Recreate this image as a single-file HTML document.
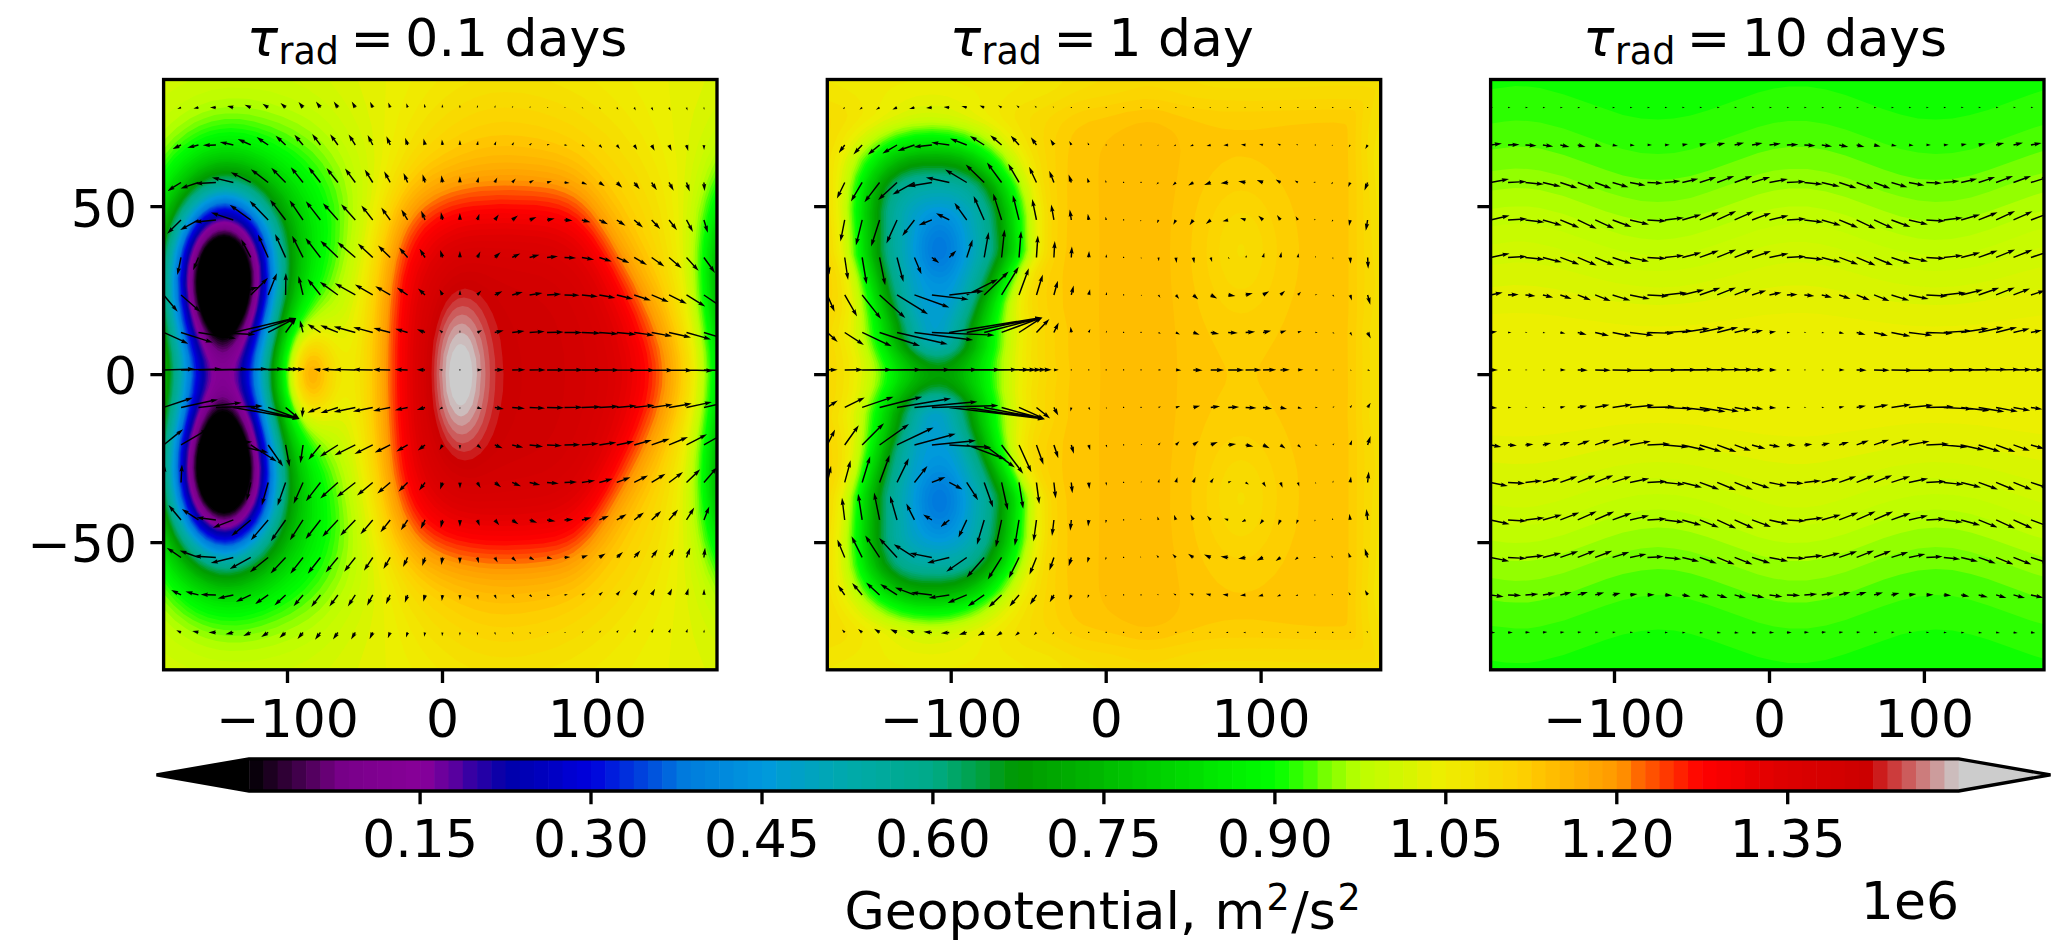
<!DOCTYPE html>
<html><head><meta charset="utf-8"><title>Geopotential</title>
<style>html,body{margin:0;padding:0;background:#fff}svg{display:block}text{font-family:"DejaVu Sans","Liberation Sans",sans-serif;fill:#000}</style></head><body>
<svg width="2052" height="941" viewBox="0 0 2052 941">
<rect width="2052" height="941" fill="#fff"/>
<g id="panel1">
<svg x="163.6" y="79.5" width="553.4" height="590.3" viewBox="163.6 79.5 553.4 590.3" overflow="hidden">
<g fill-rule="evenodd" shape-rendering="geometricPrecision">
<rect x="162.6" y="78.5" width="555.4" height="592.3" fill="#000000"/>
<path fill="#09000b" d="M160.5 673l559.5 0 0-596-559.5 0zM224 513l-5.5-1-4.5-2.5-4.5-4-4.5-5.5-3.5-6.5-2.5-8.5-1.5-8.5-0.5-8.5 0-10 1.5-10 3-10 3-8.5 4-7.5 4.5-6 5-3.5 4.5-1.5 4.5 1 5 3.5 4.5 5.5 4.5 8 4 9 2.5 10 2 10 0.5 10-0.5 8.5-1 8.5-2.5 8.5-3.5 6.5-4 5.5-4.5 4-4.5 2.5zM222.5 338.5l-4.5-1.5-5-3.5-4.5-6.5-4-7-3-8-2.5-10-1.5-10-0.5-10 0.5-8.5 1.5-8.5 2.5-8.5 3-6.5 4-5.5 5-4.5 5-2.5 5.5-1 5.5 1 5 2.5 4 4 4.5 6 3 6.5 2.5 8.5 1.5 8.5 0 8.5-0.5 10-2 10-3 10-3.5 8.5-4.5 8-4.5 5.5-5 3.5z"/>
<path fill="#1c0020" d="M160.5 673l559.5 0 0-596-559.5 0zM224 514l-5.5-1-5.5-2.5-4.5-4-4-5.5-3-6-3-8.5-1.5-8-1-10.5 0.5-10 1.5-10 2.5-10 3.5-9 4.5-9 4.5-6 5-4 4.5-1 4.5 1 5 3 5 7 4.5 8 4 10 3 10 1.5 10 1 10-0.5 10.5-1.5 8-2.5 7.5-3 6.5-4 5.5-4.5 4.5-5.5 2.5zM222.5 340.5l-4.5-1.5-5-3.5-4.5-6-4.5-9-3.5-8.5-2.5-10-1.5-10-0.5-10 1-10.5 1.5-8 2.5-8.5 3.5-7 5-6 4.5-3.5 4.5-2.5 5.5-1 5.5 1 5.5 3 4.5 4 4 5.5 3 6.5 2.5 8.5 1.5 8 0.5 10.5-1 10-2 11-3 10.5-4 8.5-4.5 8.5-4.5 5.5-5 3.5z"/>
<path fill="#2f0035" d="M160.5 673l559.5 0 0-596-559.5 0zM224 515.5l-5.5-1-5.5-2.5-4.5-4.5-4.5-5.5-3.5-7-2.5-8.5-2-8-0.5-10.5 0.5-10 1-10 2.5-10 4-10 4.5-9 4.5-6 5.5-5 4.5-1.5 4.5 1.5 5.5 4 4.5 6 5 8.5 3.5 9.5 3.5 10.5 2 11.5 0.5 10-0.5 10.5-1.5 8-2.5 8.5-3 7-4.5 5.5-4.5 4.5-5.5 2.5zM222.5 342.5l-4.5-1.5-5-3.5-4.5-6-5-9.5-3.5-9.5-2.5-10.5-1.5-10-0.5-10 0.5-10.5 1.5-8 3-8.5 3.5-7 4.5-6.5 4.5-4 5.5-2.5 5.5-1 5.5 1 5.5 2.5 4.5 4 4.5 6.5 3.5 7 2.5 8.5 1 8 0.5 10.5-0.5 10-2 11-3.5 10.5-3.5 9.5-5 8.5-5 6.5-5 3.5z"/>
<path fill="#41004b" d="M160.5 673l559.5 0 0-596-559.5 0zM224 516.5l-6-1-5.5-3-4.5-4.5-5-6-3-7-3-8.5-1.5-8-1-10.5 0.5-11.5 2-10 2.5-10 3.5-10.5 5-9 4.5-6.5 5.5-4.5 4.5-1.5 4.5 1 5.5 4.5 5.5 7 4.5 9 4 9.5 3 11 2 11.5 0.5 10 0 10.5-1.5 8-2.5 8.5-3 7-4.5 6-5 4.5-5.5 3zM222.5 345l-4.5-1.5-5.5-5-4.5-6.5-5-9-3.5-9.5-2.5-10-1.5-10-1-11.5 1-10.5 1.5-8 2.5-8.5 3.5-7.5 4.5-6 5-4.5 5.5-3 6-1 5.5 0.5 5.5 3 4.5 3.5 4.5 6.5 3.5 6.5 3 9.5 1.5 9 0 10.5-0.5 10-2 11.5-3 10-4 10.5-4.5 8-5.5 7.5-5.5 4z"/>
<path fill="#540060" d="M160.5 673l559.5 0 0-596-559.5 0zM224 517.5l-6-1-5.5-3-4.5-4-5-6-4-8-2.5-9-1.5-8-1-10.5 0.5-11.5 1.5-10 2.5-10 4-11 4.5-9 5.5-8 5.5-5 4.5-1.5 4.5 1.5 5.5 4 5.5 7.5 4.5 8.5 4.5 11 3.5 12 2 11.5 0.5 10-0.5 10.5-1.5 8.5-2 8-4 8.5-4.5 6-5 4.5-5.5 2.5zM222.5 347l-4.5-1.5-5.5-4.5-5.5-8-4.5-9-4-10.5-2.5-10-1.5-10.5-0.5-11 0.5-10.5 1.5-8 2.5-8.5 4-8.5 4.5-6 5.5-5 5.5-3 6-1 6 1 5.5 3 5 4.5 4.5 6 3.5 7 2.5 8.5 1.5 8.5 0.5 10-0.5 10-2 12-3 11.5-4 10.5-5.5 10-5.5 7.5-5.5 4.5z"/>
<path fill="#670075" d="M160.5 673l559.5 0 0-596-559.5 0zM225 519l-6.5-1-5.5-2.5-5-4.5-5-6-4-8-3-8.5-2-10-0.5-10.5 0.5-11 1.5-10.5 2.5-12 4-10 5-10.5 5.5-8 5.5-5 4.5-1.5 4.5 1.5 5.5 4.5 5.5 7.5 5.5 10.5 4 9.5 3 11.5 2.5 12 0.5 11.5-0.5 10.5-1 8.5-2.5 8-3.5 8.5-5 6.5-4.5 4.5-5.5 3zM222.5 349.5l-4.5-1.5-5.5-5-5.5-8-5.5-11-4-11-2.5-11-1.5-12 0-10 0.5-10 2.5-10 3-8.5 3.5-7 5-6 5-4.5 5.5-2.5 6.5-1 6 1.5 5.5 3 5 5 4 5.5 4 7.5 2 8.5 2 10 0 10.5-0.5 10-2 11.5-3.5 12-4 10.5-5.5 10.5-5.5 7.5-5.5 4.5z"/>
<path fill="#770088" d="M160.5 673l559.5 0 0-596-559.5 0zM224 520l-6-1-5.5-3-5.5-4.5-4.5-6.5-4.5-8-2.5-8.5-2-10-1-10.5 0.5-11.5 2-12 2.5-10.5 4-11 5.5-11 5.5-8 5.5-5.5 4.5-1.5 4.5 1.5 5.5 4.5 6 9 5.5 11 4 10 3.5 11.5 2 12 1 11.5-0.5 10.5-1.5 10-3 9-3.5 7.5-5 6.5-5.5 5-5.5 2.5zM222.5 352.5l-4.5-2-5.5-5-6.5-9.5-4.5-10.5-4-10-3-12-1.5-11.5-0.5-12 1-10 2-10 3-8.5 4-7.5 4.5-6 5.5-5 6-3 6.5-0.5 6 1 5.5 3 5.5 5 4.5 6.5 3.5 8 2.5 8.5 1.5 10 0.5 10.5-1 11.5-2.5 12-3 11.5-4.5 11-5.5 10.5-5.5 7.5-5.5 5z"/>
<path fill="#7b008c" d="M160.5 673l559.5 0 0-596-559.5 0zM224 521l-6-1-6.5-3-5.5-5-4.5-6.5-4-7.5-3-9.5-2-10-0.5-10.5 0.5-11.5 1.5-12 3-10.5 4-11.5 5-11.5 6.5-9.5 5.5-5.5 4.5-2 4.5 1.5 5.5 5 6 9.5 5.5 10.5 5 12.5 3 11.5 2 12 1 11.5-0.5 10.5-1.5 10-2.5 9-4 8.5-4.5 6-5.5 5-6.5 3zM222.5 355.5l-4.5-2-5.5-5.5-6.5-10-5-11.5-4-11-3-12-1.5-11.5-0.5-12 1-10 2-10 2.5-8.5 4.5-8.5 5-6.5 5.5-4.5 6-3 6.5-1 6 1.5 6 3.5 5.5 5 4.5 7 4 8 2 8.5 1.5 10 0.5 10.5-1 11.5-2 12-3.5 11.5-4.5 11.5-5.5 11-6 9-5.5 5.5z"/>
<path fill="#7e008f" d="M160.5 673l559.5 0 0-596-559.5 0zM225 522l-6.5-0.5-6-3-6-5-5-6.5-4.5-8.5-2.5-8.5-2-10-1-12 0.5-11.5 1.5-12 2.5-10.5 4-11.5 6-13.5 6.5-10 5.5-6.5 4.5-2 4.5 1.5 5.5 6 6 9.5 6.5 13 4.5 12.5 3.5 11.5 2 12 0.5 11.5 0 10.5-1.5 10-3 9.5-3.5 8-5 6.5-5.5 5-6 3.5zM222.5 359l-4.5-2.5-5.5-6-6.5-10-6-13.5-4-11.5-2.5-12-1.5-11.5-0.5-12 0.5-10 2-10 3.5-10 4-8 5.5-7 5.5-4.5 6-2.5 6.5-1 6 1.5 6 3 5.5 5 5 6.5 3.5 8.5 2.5 8.5 2 10 0 12-0.5 11.5-2.5 12-3 11.5-4.5 12-6.5 12.5-6 10-5.5 5.5z"/>
<path fill="#810092" d="M160.5 673l559.5 0 0-596-559.5 0zM225 523.5l-7-1-6.5-3.5-6-5.5-4.5-6-4-7.5-3.5-10-2-10-1-12 0.5-11.5 2-12 2.5-11.5 4-12 6-13 7-12 5.5-7 2-2 2.5-1 2.5 0.5 2 2 5.5 6.5 7 12 6 13 5 12.5 3 12 2 12 1 11.5-0.5 12-2 10-2.5 8.5-3.5 8.5-5 6.5-6 5.5-6 3zM222.5 363l-2.5-0.5-2-2-5.5-7-7-12-6.5-14.5-3.5-11.5-3-12-1.5-11.5 0-12 1-11.5 2-10 3-9 4-8 5-7 6-5 6.5-2.5 6.5-1 6 1 6 3.5 5.5 4.5 5 6.5 3.5 8 3 9 2 10 0.5 11.5-1 12-2 11.5-3 13-4.5 12.5-6.5 13.5-7 12-5.5 6.5-2 1.5z"/>
<path fill="#830094" d="M160.5 673l559.5 0 0-596-559.5 0zM225 524.5l-7-1-6.5-3-6-5-5-7-4.5-8.5-3-10-2-10-1-12 0.5-10 1.5-11.5 2.5-12 3.5-11.5 5-12.5 7-14 10-16 2.5-2 1.5 0.5 2.5 3 7 11 7.5 14.5 6.5 14 3.5 11.5 3 11.5 2 12 1 11.5-0.5 12-1.5 10-3 10-4 8-5 7.5-6 4.5-6 3.5zM222.5 371l-1.5-1-2.5-3-9-16-6.5-12-5.5-13.5-3.5-12-2.5-11.5-1-12-0.5-10 1-11.5 2-10 3.5-10.5 4.5-7.5 5-7 5.5-4.5 6.5-3 7-1 7 1.5 6 3 5.5 5 4.5 7 4 8.5 3 9.5 1.5 10.5 0.5 10-0.5 12-2 11.5-3 12-4 11.5-5.5 13-8 15-8.5 13.5-1.5 2z"/>
<path fill="#860097" d="M160.5 673l559.5 0 0-596-559.5 0zM224 525.5l-7-1-6-3.5-6.5-5.5-5.5-7.5-4-9.5-3-10-2-10-0.5-12 1.5-18.5 4-18.5 6.5-18 13-27 1.5-5.5 0.5-5-2-8-13.5-30.5-7.5-22-2.5-11.5-1.5-12 0-11.5 1-10 1.5-8.5 2.5-8.5 3.5-8.5 4.5-6.5 4.5-5 5.5-4.5 5.5-2 6-1 7 1 6 3 6 5 5 6.5 4 7.5 3 9.5 2 10 0.5 12-1 18.5-5 20-6.5 18.5-14 30.5-2 8 1.5 8.5 15 33 8 22.5 2.5 12 1.5 11.5 0 12-0.5 10-1.5 8.5-3 8-3 7-4 6.5-4.5 5-5.5 4-5.5 2z"/>
<path fill="#83009a" d="M160.5 673l559.5 0 0-596-559.5 0zM224 526.5l-7-1-7-4-6-5.5-5.5-7.5-4-8.5-3-10-2-11.5-0.5-12 1-16.5 3.5-17 5.5-18 12.5-29 2-7 0.5-5-2-10-13.5-32-6-20-2.5-11.5-1-10.5 0-11.5 1-10 1.5-10 3-8.5 4-8.5 4-6 4.5-5.5 5.5-4 5.5-2.5 6-1 7 1 6 3 6.5 5.5 5.5 7 3.5 8 3.5 9.5 1.5 10 1 12-1.5 18.5-4 18.5-6.5 18.5-12 28.5-2.5 6.5-0.5 5 0.5 5 2 7 14 33 7 22.5 2 11.5 1 10 0.5 10.5-1 10-1.5 8.5-2.5 8.5-4 8-4 6-4.5 5-5.5 4-5.5 2.5z"/>
<path fill="#6d009c" d="M160.5 673l559.5 0 0-596-559.5 0zM224 527.5l-7-1-7-3.5-6-6-5.5-7.5-4.5-9.5-3-10-2-11.5-1-12 1-15.5 3.5-16.5 5-17.5 11.5-29.5 2-6.5 0.5-7-2-11.5-13-33.5-5.5-20.5-2-11.5-1-10 0.5-10 1-10.5 1.5-8 3-9 3.5-8 4-6.5 5.5-6 5.5-4 5.5-2.5 6-1 7 1 7 3.5 6 5.5 5 6.5 4.5 8.5 3 10 2 10 0.5 12-1 16.5-4 18.5-5 17-13 32-2 11.5 0.5 7 2 6.5 13 33.5 6.5 22 3 22 0 10-1 10-1.5 8.5-3 9-4 7.5-4 6-4.5 5-5.5 3.5-5.5 2.5z"/>
<path fill="#58009f" d="M160.5 673l559.5 0 0-596-559.5 0zM224 529l-6-1-6.5-3-5.5-4-5-5.5-4-7-4-8.5-2.5-8-2-10.5-1-10 0-10 2.5-20 5.5-20.5 12-33.5 1.5-6.5 1-7-1-6.5-1.5-7-11.5-30-4.5-16-3-16-1-16.5 0.5-12 2.5-11.5 3.5-11 4.5-9.5 5.5-7 7-6.5 7-3 7-1 6 1 5.5 2.5 5.5 4 5 5 4 7 3 6.5 3 8.5 2 10 0.5 10 0 10-3 21.5-5.5 20.5-13 33.5-1.5 7-1 6.5 0.5 7 2 6.5 12.5 33.5 5 17 3 17 1 16.5-0.5 12-2 10-3 10-4.5 8.5-5.5 7.5-6 5-7 3.5z"/>
<path fill="#3800a3" d="M160.5 673l559.5 0 0-596-559.5 0zM225 530l-8-1.5-7-3.5-7-6-5.5-7.5-4.5-9.5-3-10-2.5-12-0.5-13.5 1-15 2.5-16.5 5-16.5 10-29 2-8.5 0.5-7-0.5-6.5-1.5-7-12-33.5-5-20-2-20 0-10 1-10.5 2-10 3-9 4-8.5 4.5-7 5.5-5.5 5.5-4 6-2.5 6.5-0.5 7 1 6.5 3.5 6.5 5.5 5.5 7.5 4 8 3 10 2.5 11.5 0.5 12-1 15-3 17-5.5 18-11 30.5-2 8.5-0.5 6.5 0.5 7 1.5 8.5 13 35 5 20 3 22-1 18.5-2 10-2.5 8-3.5 7-4 7-5.5 6-5.5 3.5-5.5 2.5z"/>
<path fill="#2300a6" d="M160.5 673l559.5 0 0-596-559.5 0zM225 531l-8-1-7-3.5-7-6.5-6-8-4.5-10-3.5-10-2-12-0.5-13.5 0.5-15 2.5-15 4.5-15.5 10.5-31.5 1.5-8.5 0.5-7-2-13.5-11.5-34.5-4.5-19.5-2-21.5 0-10 1-10 2.5-10 2.5-8.5 4-8.5 4.5-6.5 5-5.5 6.5-4.5 6-2.5 6.5-0.5 7 1 7 3.5 6.5 6 5.5 7.5 4 8.5 3.5 10 2 11.5 0.5 12-1 15-3 17-4.5 16.5-11.5 32-1.5 8.5-0.5 6.5 0 7 2 8.5 12.5 36 5 21 2.5 21.5-1 18.5-2 10.5-3 8-3.5 7-4 6.5-5.5 5.5-5.5 4-5.5 2z"/>
<path fill="#0d00a8" d="M160.5 673l559.5 0 0-596-559.5 0zM225 532l-8-1-7.5-4-6.5-5.5-6-8.5-5-9.5-3.5-11.5-2-12-1-13.5 1-15 2.5-15 4-15.5 10-31.5 2-8.5 0.5-7-2-13.5-11.5-35-4.5-20-2-20.5 0.5-10 1-10 2-10 3.5-9.5 3.5-8 5-7 5-5.5 6.5-4.5 6-2.5 6.5-0.5 6 0.5 6 3 5.5 3.5 5.5 6 4.5 7 3.5 7.5 2.5 8 2.5 10.5 0.5 18.5-2.5 21.5-5 20-11.5 35.5-2 8.5-0.5 6.5 1 8.5 1.5 8.5 11 32 4.5 17.5 3 16 0.5 15-0.5 12-2 11.5-3 10-5 9.5-5.5 7-6 5.5-7 3.5z"/>
<path fill="#0000ad" d="M160.5 673l559.5 0 0-596-559.5 0zM225 533l-8-1-7.5-4-7-6-6-8.5-5-10-3.5-11.5-2.5-12-0.5-13.5 0.5-13.5 2.5-15 3.5-15 10.5-33.5 1.5-8.5 0.5-7-0.5-6.5-1.5-8.5-10.5-33.5-4.5-20-2-20.5 1.5-20 2-10 3.5-10 4-8.5 4.5-7 5-5.5 6-4.5 6.5-2.5 7-1 6 1 6 2.5 5.5 4 5.5 5.5 4.5 7 3.5 7 3 8.5 2 10 1.5 18.5-2.5 22-4.5 20-12 37-1.5 8.5-0.5 6.5 0.5 8.5 2 8.5 10.5 33.5 4.5 17 2.5 15 1 15-0.5 12-2.5 11.5-3 10.5-5 10-6 7.5-6 5.5-7 3.5z"/>
<path fill="#0000b5" d="M160.5 673l559.5 0 0-596-559.5 0zM225 534l-8-1-7.5-3.5-7-6.5-6.5-8-4.5-10-4-11.5-2.5-13.5-0.5-13.5 0.5-13.5 2.5-15 3.5-15 9.5-32 1.5-8.5 0.5-8.5-2-15-10.5-35-4-18.5-1.5-20.5 1-20 2-10 3.5-10 4-8.5 5-7.5 5.5-6 6-4.5 6.5-2.5 7-1 6 1 6 2.5 6.5 4.5 5 5 4.5 7 4 8 3 8.5 2 10 1 18.5-2 22-5 20-11.5 37-2 15 0.5 8.5 2 8.5 10.5 33.5 4 17 2.5 15 1 15-0.5 12-2 11.5-3 10.5-5 10-6 8-6 5.5-8 4z"/>
<path fill="#0000bd" d="M160.5 673l559.5 0 0-596-559.5 0zM225 535.5l-8.5-1.5-8-4-7-6.5-6-8-5-10.5-3.5-11.5-2.5-13.5-1-13.5 1-13.5 2-15 3.5-15 9.5-32 2-15-0.5-8.5-1.5-8.5-10.5-36.5-3.5-19-2-20 2-20 2-10.5 3.5-10 4-8 5-7.5 5.5-5.5 6-4.5 6.5-2.5 7-1 6 1 6 2.5 6.5 4 5.5 5.5 4.5 7 4 8 3 9.5 2 10 1 18.5-1.5 20.5-4.5 20-11.5 37-1.5 8.5-0.5 8 0.5 8.5 1.5 8.5 10.5 35 4 15.5 2.5 15 1 15-1 13.5-2 12-3.5 10.5-5 9-6 8.5-6.5 5.5-7.5 3.5z"/>
<path fill="#0000c5" d="M160.5 673l559.5 0 0-596-559.5 0zM225 536.5l-8.5-1.5-8-4-7-6-6-8.5-5.5-11-4-12-2-13.5-1-13.5 0.5-13.5 2.5-15 3.5-15 8.5-30.5 1.5-8 1-8.5-0.5-8.5-1.5-8.5-10-36.5-4-19-1.5-20 1.5-20 2.5-10.5 3-10 4-8 5-8 6.5-6.5 6-4 6.5-2.5 7-1 7.5 1 8 4 7 6 5.5 7.5 5 10 3.5 10 2 12 1 13.5-1 15-2 15-4 16-10.5 34.5-1.5 8.5-0.5 8 0.5 8.5 1.5 8.5 11.5 38.5 4 20.5 2 20-1.5 18.5-2 10-3 9-4 8.5-4.5 6.5-5.5 6-6 4.5-6 2.5z"/>
<path fill="#0000d1" d="M160.5 673l559.5 0 0-596-559.5 0zM225 537.5l-8.5-1.5-8-4-7.5-6.5-6.5-8.5-5.5-11.5-3.5-12-2.5-13.5-0.5-13.5 0.5-13.5 2-15 3.5-15 8.5-30.5 2.5-16.5-0.5-8.5-1.5-8.5-10-36.5-3.5-19-1.5-20 1.5-20 2-10.5 3.5-10 4.5-9 5-7.5 5.5-6.5 6.5-4.5 7-2.5 7-1 7.5 1 8 3.5 7 6 6 8 4.5 9.5 4 11.5 2.5 12 0.5 13.5-0.5 15-2.5 15-4 16-9.5 32.5-2 10.5-0.5 8 0.5 8.5 2 10 10.5 37 4.5 20.5 1.5 20-1 18.5-2 10-3.5 10-4 8.5-4.5 6.5-6 6-6 4.5-6 2.5z"/>
<path fill="#0000d9" d="M160.5 673l559.5 0 0-596-559.5 0zM225 538.5l-8.5-1.5-8.5-4-8-7-6-9-5.5-11.5-4-12-2-13.5-0.5-13.5 0.5-13.5 2-15 3-14 8.5-31.5 2-16.5 0-8.5-1.5-8.5-9.5-37-4-20-1-22 1.5-18.5 2.5-10 3.5-10 4.5-9 5-8 5.5-5.5 6.5-4.5 7-3 7-0.5 8.5 1 7.5 4 7 6 6 8 5 10 4 11.5 2 12 1 13.5-1 13-2 15.5-4 16.5-9.5 33.5-2 10.5-0.5 8 0.5 8.5 2 10 10.5 39 4 20 2 20-1.5 18.5-2 10-3 8.5-4 8.5-5 7.5-5.5 6-6.5 4-6.5 3z"/>
<path fill="#0009dd" d="M160.5 673l559.5 0 0-596-559.5 0zM225 539.5l-8.5-1-8.5-4.5-8-7-6-8.5-5.5-11-4-12.5-2.5-13.5-1-15 1-13.5 2-15 11-45.5 2-16.5-1.5-17-9.5-37-3.5-20-1.5-22 2-18.5 2-10 3.5-10 4.5-9.5 5.5-8 6-6.5 6.5-4 7-3 7-1 8.5 1.5 7.5 4 7.5 6.5 6.5 8 5 10.5 3.5 11.5 2 12 1 13.5-0.5 13-2.5 15.5-4 16.5-9 33.5-2 10.5-0.5 8 0.5 8.5 1.5 10 11 39 4 20 1.5 20-1.5 18.5-2 10-3.5 10-4 8.5-4.5 7-6 6-6.5 4.5-6.5 2.5z"/>
<path fill="#001cdd" d="M160.5 673l559.5 0 0-596-559.5 0zM225 540.5l-8.5-1-8.5-4.5-8-6.5-7-9.5-5.5-11.5-3.5-12.5-2.5-13.5-1-15 0.5-13.5 2-13.5 3-15 8-32 2-16.5 0-8.5-1.5-10-9-36-3.5-19.5-1.5-22 1.5-18.5 3-11.5 3.5-10 4.5-9.5 5-7.5 6.5-6.5 6.5-4 7-3 7-1 7 1 6.5 2.5 6.5 4.5 6 6.5 5 6.5 4 8.5 3.5 10 2 10.5 1.5 18.5-1.5 20-4 20-10.5 40.5-1.5 10-0.5 8.5 0.5 8.5 2 10 9 33.5 4 16.5 2 15.5 0.5 13.5-0.5 13-2.5 13.5-4 12-5 9-6 8-8 6.5-7.5 4z"/>
<path fill="#002fdd" d="M160.5 673l559.5 0 0-596-559.5 0zM225 542l-8.5-1.5-8.5-4-8-7-7-9-5.5-12-4.5-13.5-2.5-13.5-0.5-15 0.5-13.5 1.5-13.5 3.5-15 7.5-32 2-16.5-1.5-17-9-38.5-3.5-20-1-22 2-18.5 2-10 3.5-10 5-9.5 5-8 6.5-6.5 6-4.5 7-3 8-1 7 1 6.5 2.5 6.5 4 6 6.5 5.5 7.5 4.5 9 3.5 10 2 10.5 1.5 18.5-1.5 20-4 20-10.5 40.5-1.5 10-0.5 8.5 0.5 8.5 2 10 9.5 35 3 15 2 15.5 1 13.5-1 13-2.5 13.5-4 12-5 10-6.5 8.5-7 6-8.5 4z"/>
<path fill="#0041dd" d="M160.5 673l559.5 0 0-596-559.5 0zM225 543l-9.5-1.5-8.5-4.5-8-7-6.5-9.5-5.5-11-4-12.5-3-15.5-0.5-15 0.5-13.5 1.5-13.5 11-47 1.5-16.5 0-8.5-1.5-10-9-37-3-20-1-22 1.5-18.5 3-12 3.5-10 5-9 5-7.5 5.5-6 7-5 7-3 8-1 7.5 1 7 3 6.5 4 6 6.5 5 7 4 8.5 3.5 10 2.5 10 1.5 18.5-1.5 22-4 20-10 38.5-1.5 10.5-0.5 10 0.5 8.5 1.5 10 9.5 35 3.5 15 2 15.5 0.5 13.5-0.5 13-2.5 13.5-4 12-5 10-7 9-7.5 6.5-8.5 4z"/>
<path fill="#0054dd" d="M160.5 673l559.5 0 0-596-559.5 0zM225 544l-9.5-1.5-8.5-4.5-8.5-7.5-7-9.5-5.5-11.5-4-12.5-2.5-15.5-1-15 0.5-13.5 2-13.5 10.5-47 1.5-16.5 0-8.5-1.5-10-8.5-37-3.5-20-1-22 2-18.5 2.5-12 3.5-10 5-9.5 5.5-8 6-6.5 7-5 7-2.5 8-1 7.5 1 7 2.5 7 5 5.5 5.5 5.5 7.5 4.5 9 3.5 10.5 2 10 1.5 18.5-1 20-4 20.5-10 40-1.5 10.5-0.5 10 0.5 8.5 1.5 10 12.5 50 2 15.5 0.5 13.5-0.5 13-2.5 13.5-4 13-5.5 10.5-7 9-7.5 6.5-8.5 4z"/>
<path fill="#0067dd" d="M160.5 673l559.5 0 0-596-559.5 0zM225 545l-9.5-1.5-9.5-4.5-7.5-7-7-10-6-12-4-13-2.5-15.5-1-15 0.5-13.5 1.5-13.5 10.5-47 2-16.5-0.5-8.5-1.5-10-8.5-37-3-20-1-22 2-18.5 2.5-12 3.5-10 5-10 5.5-8.5 6.5-6.5 7-5 7-2.5 8-1.5 9 1.5 8.5 4 8 6.5 6.5 8.5 5.5 10.5 4 12.5 2.5 14 1 13.5-0.5 13.5-2 15-3.5 15.5-9 35-1.5 10-0.5 10 0.5 10.5 1.5 10 9.5 38.5 4 20 1.5 22-1.5 18.5-2.5 10-3.5 10-4.5 9.5-5.5 7.5-6 6-7 5-7 2.5z"/>
<path fill="#007add" d="M160.5 673l559.5 0 0-596-559.5 0zM225 546l-9.5-1.5-9.5-4.5-8.5-7.5-7-10-5.5-12.5-4.5-13-2.5-15.5-0.5-15 0.5-13.5 1.5-13.5 10-47 2-16.5-2-18.5-8.5-38.5-3-20.5-0.5-20 2-20 3-12 3.5-10 4.5-10 5.5-7.5 6.5-6.5 7-5 7.5-3.5 8-1 9 1.5 8.5 4 8 6.5 7 8.5 5.5 11.5 4 11.5 2.5 13.5 1 15-0.5 13.5-2 15-12 50.5-1.5 10-1 10 0.5 10.5 2 10 9.5 40 4 20.5 1 20-1.5 18.5-2 10-3.5 10.5-4.5 9-5.5 8-6 6.5-7 4.5-8 3.5z"/>
<path fill="#0080dd" d="M160.5 673l559.5 0 0-596-559.5 0zM225 547.5l-9.5-1.5-9.5-5-8.5-7.5-7-10-6-11.5-4-13.5-3-15-1-17 0.5-13.5 2-13.5 9.5-45 2-18.5-1.5-18.5-8.5-38.5-3-20.5-1-20 2.5-20 2.5-12 4-10.5 4.5-9.5 6-9 7-7 7-4.5 7-3 8-1 9 1.5 8.5 3.5 8.5 7 7 9 5.5 10.5 4.5 13 2.5 13.5 1 15-1 13.5-1.5 13.5-3 15-9 37-2 10-0.5 10 0.5 10.5 1.5 10 10 40 3.5 20.5 1.5 21.5-2 18.5-2 10-4 11-4.5 9-5.5 7.5-6 6-7 5-8 3z"/>
<path fill="#0085dd" d="M160.5 673l559.5 0 0-596-559.5 0zM225 548.5l-10.5-2-8.5-4.5-8.5-7-7.5-10.5-6-12.5-4.5-13.5-2.5-15-1-17 0.5-13.5 1.5-13.5 9.5-45 2-18.5-1.5-18.5-8.5-38.5-2.5-20.5-1-20 2-20 3-12 4-11.5 5-10 5.5-8 7-7 7-5 7.5-3 8-1 7.5 0.5 7.5 3 7.5 5 6 6 5.5 7.5 4.5 8.5 4 10 2.5 11.5 2 20.5-1 20-3.5 20-10 42-1.5 10.5-0.5 10 0.5 10 1.5 10 12 50.5 2 15 0.5 13.5-1 15-2.5 13.5-4 13-6 10.5-6.5 8.5-8.5 7.5-9.5 4z"/>
<path fill="#008add" d="M160.5 673l559.5 0 0-596-559.5 0zM225 549.5l-10.5-1.5-9-5-8.5-7.5-7.5-10-6-12-4.5-15-2.5-15-1-17 0.5-13.5 1.5-13.5 9-45 2-18.5-1.5-18.5-8-38.5-3-20.5-0.5-21.5 2-20.5 3-11.5 4-11 4.5-9.5 6.5-9 7-7 7-4.5 7.5-3 8-1.5 7.5 1 8 3 7 4.5 6.5 6.5 5.5 7.5 5 9.5 4 10 2.5 11.5 2 20.5-1.5 20-3.5 20-10 42-1.5 10.5-0.5 10 1 10 1.5 10 12 52 1.5 13.5 1 13.5-1 15-3 15-4 12-6 11.5-7 8.5-8.5 7-9.5 4.5z"/>
<path fill="#0090dd" d="M160.5 673l559.5 0 0-596-559.5 0zM225 550.5l-8-1-7.5-3-7-4.5-7-7-6-8-5-10-4.5-12-3-11.5-2-20 0.5-22 2.5-20 8-39 1.5-18.5-1.5-18.5-9.5-47-1.5-13.5-0.5-13 1-17 3-15 4.5-14.5 6-12.5 8-10.5 8.5-7.5 10-5 10-1.5 8 1 7.5 3 7 4.5 7 7 5.5 7.5 5 10 3.5 10 3 11.5 1.5 20.5-1.5 20-3.5 20-9.5 40.5-1.5 12-0.5 10 0.5 10 2 10 11.5 52 2 13.5 0.5 13.5-1 15-2.5 15-4 12-6 11.5-7.5 9.5-8.5 7-9 4.5z"/>
<path fill="#0095dd" d="M160.5 673l559.5 0 0-596-559.5 0zM225 552l-8.5-1.5-8-3-7-5-7-7-6-8.5-5-10-4.5-12-2.5-11.5-2.5-20 0.5-22 3-20 7.5-39 1.5-18.5-1.5-18.5-9-47-1.5-13.5-0.5-13 1-17 3-17 5-14.5 6-12 8-10.5 8.5-7 10-5 10-1.5 8 1 7.5 3 7 4.5 7 6.5 6 8.5 5 8.5 3.5 10.5 3 11.5 1.5 20-1 20.5-3 20-10 42-1.5 12-0.5 10 0.5 10 1.5 10 12 52 1.5 15 0.5 13.5-0.5 15.5-3 15-4.5 12.5-6 11-7.5 9-8.5 6.5-9 4.5z"/>
<path fill="#009adb" d="M160.5 673l559.5 0 0-596-559.5 0zM225 553l-8.5-1-8-3.5-7.5-5.5-7-7-6.5-9-5-10-4-12-3-11.5-2-20 0.5-22 2.5-20 8-39 1.5-18.5-2-18.5-9-47-1-13.5-0.5-13 1-17 3-17 4.5-14.5 6.5-12.5 7.5-10.5 9.5-8 10-5 10-1.5 8.5 1.5 8 3 7 4.5 7 7 6 8.5 5 9 3.5 10.5 2.5 11.5 2 20-1 20.5-3.5 20-10 42-1.5 12-0.5 10 2.5 20 12 54 1.5 13 0.5 13.5-1 15.5-2.5 14.5-4.5 12-6 12-7.5 9.5-9.5 7.5-9 4z"/>
<path fill="#009ecf" d="M160.5 673l559.5 0 0-596-559.5 0zM225.5 554l-11-1.5-10-5-9-8.5-8-10.5-6.5-13-4.5-15.5-3-16.5-1-17 2-25 8.5-47 2-18.5-1.5-18.5-7.5-40.5-3-20 0-22 2-20 3.5-13.5 4.5-12 5.5-10 6-8 7-7.5 8-5 7.5-3 8.5-1 8 1 7.5 3 8 4.5 7 7 6 8 5 9.5 4 10 2.5 12 2 20-0.5 20-3.5 20.5-10 43.5-1.5 12-0.5 10 0.5 10 2 11.5 11.5 52.5 1.5 13 1 13.5-1 15.5-3 15-4.5 13.5-5.5 10-7.5 10-9 7.5-10 4.5z"/>
<path fill="#00a0c7" d="M160.5 673l559.5 0 0-596-559.5 0zM225.5 555.5l-11-2-10-4.5-9-8.5-8-10-6.5-13.5-5-15-3-17-1-18.5 1.5-25 9-47 1.5-18.5-1.5-18.5-7.5-40.5-2.5-20-0.5-23.5 2.5-20.5 3-11.5 4.5-12 5.5-10.5 6.5-8.5 7-7 7.5-5.5 8.5-3 8.5-1 8.5 1 8 3 7.5 5 7 6.5 6.5 8.5 5 10 4 10 2.5 12 2 20-1 20-3.5 20.5-9.5 43.5-2 12 0 10 0.5 10 1.5 11.5 11.5 52.5 2 13 0.5 13.5-1 15.5-2.5 15-4.5 13.5-6 11.5-8 10-9 7-10 5z"/>
<path fill="#00a3bf" d="M160.5 673l559.5 0 0-596-559.5 0zM225.5 556.5l-11-1.5-10-5-9-8-9-11.5-6.5-13.5-4.5-15-3-17-1.5-18.5 2-25 8.5-47 1.5-18.5-1-18.5-7.5-40.5-2.5-20-0.5-23.5 2.5-20.5 3.5-13 4.5-12 5.5-10 6.5-9 7-7 7.5-5 8.5-3.5 8.5-1 10 1.5 10 5 9.5 7.5 8 9.5 6 12 4.5 13.5 3 15 1 15-1 13.5-1.5 13.5-11.5 54-2 11.5-0.5 10 0.5 10.5 1.5 11.5 10 43.5 3.5 20.5 1 20-2 20-3 12-3.5 10-5.5 10-6 8.5-7 6.5-8 5.5-8.5 3z"/>
<path fill="#00a6b7" d="M160.5 673l559.5 0 0-596-559.5 0zM225.5 558l-11-2-10.5-5-9.5-8.5-8.5-11.5-7-14-4.5-15-3-17-1-18.5 1.5-25 8.5-47 1.5-18.5-1-18.5-7.5-40.5-2.5-20 0-23.5 2-20.5 3.5-13 4.5-12 6-11 6-8.5 8-7.5 7.5-5.5 8.5-3 8.5-1 11 1.5 10 5 9.5 7.5 7.5 10 6.5 12.5 4.5 13.5 3 15 0.5 15-0.5 13.5-1.5 13.5-12 54-1.5 11.5-0.5 10 0.5 10.5 1.5 11.5 10 43.5 3 20.5 1 20-2 20-2.5 12-4.5 11.5-4.5 9-6.5 8.5-7 7-8.5 5.5-8.5 3.5z"/>
<path fill="#00a8af" d="M160.5 673l559.5 0 0-596-559.5 0zM225.5 559l-11-1.5-10.5-5.5-10-9-8.5-11-6.5-13.5-5.5-16.5-2.5-17-1-18.5 1.5-25 8-47 2-18.5-1.5-18.5-7-40.5-2.5-22-0.5-21.5 3-22 3.5-13.5 4.5-11.5 5-10 7-9.5 8-7.5 7.5-5 8.5-3 8.5-1.5 8.5 1.5 8.5 3 8 5 7.5 7 6.5 8 5.5 10 4 12 3 11.5 2 20.5-1 20-3.5 20-10 45.5-1.5 12-0.5 10 1 10 1.5 11.5 11.5 54 2 13.5 0.5 13.5-1 16.5-3 15-5 13.5-6 12-8 10-9.5 7.5-10 4.5z"/>
<path fill="#00aaa8" d="M160.5 673l559.5 0 0-596-559.5 0zM225.5 560.5l-9-1.5-8.5-3.5-9-5.5-6.5-7-7-9.5-5-10-5-11.5-3.5-13.5-2.5-22 0-21.5 2.5-22 7-40.5 1.5-20-2-18.5-7.5-45.5-2-26.5 1-18.5 3-17 5.5-16.5 7-14 8.5-11.5 10-8.5 10.5-5.5 11-1.5 8.5 1 8.5 3 8 5 7.5 7 6.5 8 5.5 10 4.5 12 3 11.5 2 20-1 22-3 20-10 44-1.5 11.5-0.5 12 0.5 10 1.5 11.5 12 54 1.5 13.5 0.5 13.5-0.5 16.5-3 15-4.5 13.5-7 13-8.5 10.5-9.5 7-10 4.5z"/>
<path fill="#00aaa3" d="M160.5 673l559.5 0 0-596-559.5 0zM225.5 561.5l-9-1-8.5-3.5-8-5-7.5-7.5-7-9.5-6-11.5-4.5-11.5-3.5-13.5-3-22 0-21.5 2.5-22 7-40.5 1.5-20-1.5-18.5-8-45.5-1.5-26.5 1-18.5 3.5-18.5 5.5-17 6.5-13.5 9-11.5 10-8.5 10.5-5 11-2 11 2 11 4.5 9 7.5 8.5 10.5 7 12.5 4.5 13.5 3 15 1 17-0.5 13.5-1.5 13.5-12 53.5-1.5 12-1 11.5 1 12 1.5 11.5 10 44 3 20 1 22-2 20-3 12-4.5 11.5-6 10-6 8.5-8 7-8.5 5-8.5 3z"/>
<path fill="#00aa9d" d="M160.5 673l559.5 0 0-596-559.5 0zM225.5 563l-9-1.5-8.5-3-9-6-7.5-7.5-7-9.5-5.5-10.5-5-13-3.5-13.5-2.5-22 0-21.5 2.5-22 7-40.5 1-20-1.5-18.5-7.5-45.5-2-26.5 1-18.5 3.5-18.5 5.5-17 7-14 8.5-11.5 10-9 11-5 5.5-1.5 6-0.5 11 1.5 11 5 10 7.5 8.5 10.5 7 13 4.5 14 3 15 1 17-0.5 13.5-2 13.5-11.5 53.5-2 12-0.5 11.5 0.5 12 1.5 11.5 10 44 3.5 20 1 22-2 20-3 12-4.5 11.5-5.5 10-7 9-7.5 7.5-8.5 5-8.5 3z"/>
<path fill="#00aa95" d="M160.5 673l559.5 0 0-596-559.5 0zM225.5 564l-9-1-8.5-3.5-9-5.5-7.5-7.5-7-9.5-6-11.5-5-12-3.5-13.5-3-21.5 0-23.5 2.5-22 7-40.5 1-20-1.5-18.5-7.5-45.5-1.5-26.5 1-18.5 3-18.5 5.5-17 7-14.5 9.5-12.5 10-8.5 11-5.5 11.5-2 9.5 1 9 3.5 8.5 5.5 8 7.5 7 9 5.5 10 4 11.5 3 12 2 20-0.5 22-3.5 20-10 45.5-2 11.5-0.5 12 1 11.5 1.5 12 12 53.5 1.5 13.5 1 13.5-1 17-3 15-5 14-7 13-8.5 10.5-10 8-11 5z"/>
<path fill="#00aa90" d="M160.5 673l559.5 0 0-596-559.5 0zM225.5 565.5l-9-1-9.5-4-8.5-5.5-8-7.5-7-9.5-5.5-11-5-13-3.5-14-3-21.5 0-23.5 2.5-22 6.5-40.5 1-20-1.5-18.5-7.5-47-1.5-25 1-18.5 3.5-18.5 5-17 7.5-15 9.5-13 10-8.5 5.5-3 6-3 11.5-1.5 11.5 1.5 11 5 10 7.5 8.5 10 7 12.5 5.5 14.5 3 16.5 1 17-0.5 13.5-1.5 13-12 55.5-2 12-0.5 11.5 0.5 12 1.5 11.5 10.5 45.5 3 20 1 22-2 20-3 12-4.5 12-6 11-7 9-8 7-8.5 5-9 3.5z"/>
<path fill="#00aa8b" d="M160.5 673l559.5 0 0-596-559.5 0zM225.5 567l-9-1.5-9.5-3.5-8.5-5.5-8-7.5-7-9.5-6-11.5-5-12.5-3.5-13.5-3-22-0.5-23.5 2-22 7-42 1-20-1.5-18.5-7-47-1.5-25 1-20.5 3.5-18.5 5.5-16.5 7.5-15.5 9.5-12.5 10-8.5 5.5-3 6-2.5 6-1.5 6.5-0.5 9 1 9.5 3.5 8.5 5.5 7.5 7 7 9 6.5 11 4.5 12 3 11.5 2 20.5-1 21.5-3 20.5-11 47-1.5 11.5-0.5 12 1 11.5 1.5 12 12.5 55.5 1.5 13 0.5 13.5-1 17-3.5 17-5 14.5-7 12-9.5 11-10 7.5-11 4.5z"/>
<path fill="#00a97d" d="M160.5 673l559.5 0 0-596-559.5 0zM225.5 568l-9-1-9.5-3.5-8.5-5.5-8.5-8.5-7-9.5-6-11.5-5.5-13-3.5-13.5-3-22 0-23.5 2-22 6.5-42 1-20-1-18.5-7.5-47-1.5-25 1-20.5 3.5-18.5 5.5-17 7.5-15.5 9.5-12.5 11-9.5 5.5-3 6-2.5 6-1.5 6.5-0.5 9 1.5 9.5 3 9 5.5 8 7.5 7 9 6 10.5 4.5 11.5 3 12 1.5 10 1 12-1 21.5-3.5 20.5-10 45-2 13.5-0.5 12 0.5 11.5 2 12 12 55.5 2 13 0.5 13.5-1 17-3 17-5.5 15-7.5 12.5-9 11-10 7.5-12 5z"/>
<path fill="#00a668" d="M160.5 673l559.5 0 0-596-559.5 0zM226.5 569.5l-9.5-1-9-3.5-9-5-8.5-8-7-9-6-11-6-13.5-3.5-13.5-3.5-22-3-9.5-0.5-8.5 1-7 2.5-7.5 2-19 5.5-35.5 1.5-13.5 0-11.5-1.5-18.5-5.5-35.5-2-18-2.5-9-1-8 0.5-7 3-8.5 2-15 3.5-15 5.5-15 7-13.5 9-12 11-9 11.5-5.5 6-1.5 6.5-0.5 11.5 2 11.5 5 11 8.5 9 11 7 13 5 14 3.5 17 1 16.5-0.5 13.5-2 13.5-12 55.5-2 13.5-1 11.5 0.5 12 2 13.5 10.5 45 3.5 20.5 1 21.5-1 12-1.5 10-3 12-4.5 11.5-6.5 11-7 9-8.5 7.5-9 5.5-9.5 3.5z"/>
<path fill="#00a353" d="M160.5 673l559.5 0 0-596-559.5 0 0 188.5 4-7 2.5-15.5 4.5-15 4.5-10.5 5.5-9.5 7-10 8.5-8.5 8.5-5.5 9-4 10.5-1.5 10 0.5 10 3.5 9 5.5 9.5 8 7.5 10 6.5 11.5 4.5 12 3 12 1.5 11.5 0.5 12-0.5 13.5-3.5 23.5-11.5 50.5-2 13.5 0 11.5 1 12 1.5 11.5 10 40.5 2.5 15 2 13.5 0.5 13.5-1 16.5-3.5 17-5 15-8 13-9 11-11 8.5-11.5 5-11.5 1.5-11-1.5-11-4.5-10-7.5-8.5-9-7-11.5-6-12.5-5-16-3.5-18-4-7zM160.5 449.5l4-8 7-47 1.5-20.5-1.5-20-7-46-4-8.5z"/>
<path fill="#00a13d" d="M160.5 673l559.5 0 0-596-559.5 0 0 181 4-5 4-18 5.5-15.5 6-11.5 7.5-10.5 9.5-9.5 10-6.5 11-4 10.5-0.5 12 2 11.5 6 11 8.5 8.5 11 7.5 13.5 4.5 13.5 3.5 16.5 1 17-0.5 13.5-2 15-12.5 54-2 13-1 12 0.5 12 2 13 11.5 50.5 3.5 23.5 0.5 13.5-0.5 13.5-2 11.5-3 12-4.5 11.5-6.5 12-7 8.5-8.5 8-9.5 5.5-10 3.5-10 1.5-10-1.5-8.5-3-9-5-7.5-6.5-8-9.5-6-10-4.5-10-5-15-3.5-15.5-4-5zM160.5 441l4-6.5 6-40 1.5-20.5-1.5-20-6-39-4-6.5z"/>
<path fill="#009d1d" d="M160.5 673l559.5 0 0-596-559.5 0 0 175 4-4 3.5-15.5 5.5-14.5 5.5-10 5.5-8.5 8-9 7.5-6.5 8.5-4.5 9.5-3 9-1 10 1.5 10.5 3.5 9 6 8.5 7.5 8 10 6 10.5 4.5 12 3 11.5 2 12 0.5 13.5-0.5 13.5-3.5 23.5-12 52-2 13.5 0 11.5 0.5 12 2 11.5 13 55.5 2 15 0.5 13.5-1 17-3 16.5-5 14-7.5 13-9 11.5-10 8-11.5 6-12 2.5-10.5 0-11-3.5-10-6-9.5-8.5-7.5-10-6.5-11-6-16-4.5-17-4-4zM160.5 433.5l4-5.5 5-33.5 1.5-20.5-1.5-20-5-33-4-5.5z"/>
<path fill="#009a08" d="M160.5 673l559.5 0 0-596-559.5 0 0 170 4-3.5 5-17 6.5-15.5 7-11.5 7.5-9 9.5-8 10-5.5 11-2.5 11-0.5 11.5 3 11.5 6.5 10 8.5 9.5 12 6.5 12.5 5.5 15 2.5 15 1 17-0.5 13.5-2 15-13 55.5-2 13-1 12 0.5 13.5 2 13.5 12 48.5 3.5 23.5 0.5 13.5-0.5 13.5-2 13.5-3 11.5-4.5 12-6.5 11-7 9-8.5 8-9 6-9.5 4-10 2-10-0.5-9.5-3-8.5-4-7.5-6-8-8-6-9-5.5-9.5-5.5-13.5-4.5-16-4-3.5zM160.5 427l4-5 4-29.5 1.5-18.5-1.5-18.5-4-28-4-5.5z"/>
<path fill="#009c00" d="M160.5 673l559.5 0 0-596-559.5 0 0 165.5 4-3.5 5-16 6-13.5 5-8.5 6.5-8 7.5-8 8-5.5 8.5-4.5 9-2 10-0.5 10.5 2 9 4 9.5 6 8.5 8 7.5 10 6 10.5 4.5 11.5 3 12 2 13.5 0.5 13.5-0.5 13.5-3.5 23.5-12.5 50-1.5 13.5-0.5 13.5 0.5 12 2.5 13 10 40.5 3 15 2 15.5 0.5 13-1 17-3 17-5 13.5-7 13-8.5 11-10 8.5-11.5 6.5-11.5 3.5-11 0.5-11-2.5-10-5-10-8-8-9-6.5-10.5-7.5-15-5-17-4-3zM160.5 421l4-5 3-23.5 1.5-18.5-1-16.5-3.5-24-4-5z"/>
<path fill="#00a200" d="M160.5 673l559.5 0 0-596-559.5 0 0 161.5 4-3 6-17.5 7-14.5 7-10 8.5-9 10-7 10-4.5 11-2 11 0.5 11.5 3.5 11.5 7 10 9 8.5 11 7 12.5 5 15 3 15.5 1 16.5-0.5 13.5-2 15-3.5 15.5-10.5 42-2 13-1 12 0.5 13.5 2 13.5 12.5 50.5 3.5 23.5 1 13-0.5 13.5-2 13.5-3 12-4.5 11.5-6.5 11.5-7 9-8.5 8-9.5 6.5-10 4.5-10 2-9.5-0.5-9-2-8.5-3.5-8.5-6-8-7-6-8-5.5-8.5-6.5-14.5-5-14.5-4-3zM160.5 414.5l4-5 2.5-20 0.5-15.5-0.5-15-2.5-19.5-4-5z"/>
<path fill="#00a700" d="M160.5 673l559.5 0 0-596-559.5 0 0 157.5 4-3 5.5-15 6.5-13.5 5.5-8.5 6.5-7 7.5-7.5 8.5-5.5 8.5-3.5 9.5-1.5 10 0 10 2.5 10 4.5 8.5 6 8.5 8 8 10 6 11 4.5 11.5 3 12 2 13 0.5 13.5-0.5 13.5-4 23.5-13 52-2 13.5 0 13.5 0.5 12 2.5 13 10.5 42 3.5 15.5 2 15 0.5 13.5-1 16.5-2.5 15.5-5.5 15-6 12-9.5 12.5-10 9-11 6.5-12.5 4-10.5 0.5-11-1.5-11-5-9-6.5-8.5-8.5-7.5-9.5-8-15.5-5.5-16-4-2.5zM160.5 408l4-5.5 1.5-15 0.5-13.5-0.5-13.5-1.5-14-4-5z"/>
<path fill="#00ac00" d="M160.5 673l559.5 0 0-596-559.5 0 0 153.5 4-2.5 6.5-16.5 8-14.5 8-10 7.5-7.5 10-6.5 11-4 11-1.5 10.5 1 12 4 11.5 7 10.5 10 9 11.5 6.5 13.5 4.5 13.5 3 15 1 17-1 13.5-2 15-3 15-11 42-2.5 13.5-1 13.5 0.5 13.5 2 13.5 13.5 52 3.5 23.5 1 15-1 13.5-2 13.5-3 11-4.5 12-6 10.5-7 9-8.5 8.5-9.5 6.5-10 4.5-10 2.5-10.5 0-9-1.5-8.5-3.5-8.5-5-8-6.5-6-7-6-9-7-13.5-5.5-14-4-2.5zM160.5 400.5l4-6.5 1-20-1-19-4-6z"/>
<path fill="#00b200" d="M160.5 673l559.5 0 0-596-559.5 0 0 150 4-2.5 6.5-16.5 8-13.5 8-9.5 8.5-8 10-6 11-4 10.5-1 11 1 12.5 4.5 10.5 6.5 11 9.5 9 12 6.5 13 5 14 2.5 15 1 17-0.5 15-2 15-3.5 15-11.5 42-2.5 13.5-1 13.5 0.5 13.5 2.5 15 13.5 50.5 4 23.5 0.5 15-0.5 13.5-2 13.5-3 11.5-4.5 12-6 11-7.5 9-8 8.5-9.5 6.5-10 4.5-10 3-10 0.5-9.5-1.5-9.5-3-8.5-5-7.5-6.5-6.5-6.5-6-8.5-7-12.5-6-15-4-2.5zM160.5 391l3-8.5 1-8.5-1-6.5-3-9z"/>
<path fill="#00b700" d="M160.5 673l559.5 0 0-185-2.5-8-1-8.5 1-8.5 2.5-9.5 0-158-2.5-8.5-1-8.5 1-8.5 2.5-9 0-184-559.5 0 0 146 4-2 6-15 8-12.5 6-8 6-6.5 8-6 8.5-4.5 9.5-3.5 9-1 10 0.5 10 3 10.5 5 9 6.5 8.5 8 8 10 6 11 4.5 11.5 3 12 2 13.5 0.5 13.5-1 15-4 23.5-10.5 37-3.5 15-2 15-0.5 13.5 1 13.5 2.5 13.5 11.5 42 3.5 15 2.5 15 0.5 15.5-1 16.5-2.5 15-5 14-6.5 13-9 11.5-10 9.5-11.5 7.5-12.5 5-11.5 1.5-11-1.5-11-3.5-10-6-8.5-7.5-7.5-9-8.5-13.5-7-16-4-2.5z"/>
<path fill="#00bf00" d="M160.5 673l559.5 0 0-176-4-7-1-18.5 1-19 4-8.5 0-138.5-4-8.5-1-20 1-17.5 4-7.5 0-175-559.5 0 0 142.5 4-2 6-14 8-12.5 6-7.5 7-7 7.5-6 9-4.5 9-3 9.5-1 10.5 1 10.5 3 10 5 9 7 8.5 8 8 10 5.5 10 5 12 3 11.5 2 13.5 0.5 13.5-1 15-4 23.5-11 39-3.5 15-2.5 15-0.5 13.5 1 13.5 2.5 13.5 12.5 43.5 3.5 15 2.5 15.5 0.5 15-1 16.5-3 15.5-4.5 13.5-7 13-8.5 11.5-10.5 10-11 7-12.5 5-11.5 1.5-11-0.5-10.5-3.5-11-6-8.5-7-8.5-9.5-8.5-13.5-7-15.5-4-2z"/>
<path fill="#00c400" d="M160.5 673l559.5 0 0-169-4-5.5-1.5-27 1.5-29 4-6.5 0-123-4-6.5-1.5-29.5 1.5-26.5 4-5 0-168.5-559.5 0 0 139 4-2 7.5-16 8.5-12.5 8-8.5 9-7.5 11-5.5 11-3 10.5-0.5 12 1.5 12 5 12 7.5 10.5 10 8.5 11.5 7 13.5 5 13.5 2.5 15 1 17-0.5 15-2.5 15-4 17-12.5 42-2.5 15-1 13.5 0.5 13.5 2 15 4 15 11 37 4.5 23.5 1 15.5-0.5 13-1.5 13.5-3.5 13.5-4.5 12-6 10.5-8 10-8.5 8-9 7-10 5-11 3.5-10 1-9.5-0.5-9-3-8.5-4-8.5-6-7-6.5-6.5-7.5-7.5-11.5-7-15-4-2z"/>
<path fill="#00ca00" d="M160.5 673l559.5 0 0-163-4-4.5-2-17-0.5-17 0.5-18.5 2-18 4-6 0-109-4-5.5-2-19.5-0.5-18 0.5-17 2-16.5 4-4 0-162.5-559.5 0 0 135.5 4-2 7.5-15 9.5-13.5 8.5-8.5 8.5-6.5 11-5.5 10.5-2.5 11-0.5 11.5 2 12.5 5 11.5 7 11 10 9 12 7 13.5 5 13.5 2.5 15 1 16.5-1 17-2 15-4 15.5-13 43.5-3 15-1 13.5 0.5 15 3 15 3.5 15 11.5 37.5 4.5 23.5 1 15 0 13.5-2 13.5-3.5 13-4.5 12-7 11.5-7.5 9.5-8.5 8-9.5 7-10 5-11 3.5-10 1-9-0.5-9.5-2.5-9-4.5-8-5-7-6.5-7-8-8-12-6.5-13.5-4-2z"/>
<path fill="#00cf00" d="M160.5 673l559.5 0 0-157.5-4-4-3-19.5-0.5-18.5 1-22 2.5-23.5 4-5.5 0-96-4-5-2.5-23-1-21.5 0.5-18.5 3-21 4-3.5 0-157-559.5 0 0 132 4-1.5 7.5-15 9.5-12.5 8.5-9 9-6.5 10.5-5 11.5-3 11.5 0 11.5 2 12.5 5.5 12.5 8 11 10 8.5 11 7 13 4.5 13.5 3 15.5 1 16.5-1 15-2.5 17-4 17-14 43.5-3 15-1 13.5 1 15 2.5 15 4 15 12 37.5 3 13 2 12 1 15-0.5 15-2 13.5-3.5 12-4.5 11.5-6 10.5-8 10-9 8.5-10 7.5-10 5-11 3.5-10 1-9.5-0.5-9-2-9.5-4.5-8.5-5.5-7-6-7-8-7.5-11-7-13.5-4-2z"/>
<path fill="#00d400" d="M160.5 673l559.5 0 0-152.5-4-3.5-1.5-7-2.5-18-0.5-18.5 1-23.5 3.5-28.5 4-5.5 0-83-4-5-3.5-27.5-1-23.5 0.5-20.5 4-24.5 4-3 0-152-559.5 0 0 128.5 4-1.5 8.5-15.5 9-12 8.5-8.5 9.5-6.5 11-4.5 10.5-2.5 12 0 11.5 2 12.5 5 12 8 11 10 9.5 12 7 13 5 13.5 3 15 1 17-1 16.5-3 17-4 15-14.5 44.5-3 14.5-1 15 0.5 15 3 15 4 15 12.5 39 5 23.5 1 15 0 15-2 13.5-3.5 13.5-5 12-6 10-7.5 10-8.5 8-10 7.5-10.5 5.5-10.5 3.5-11 1.5-10-0.5-9.5-2-9-3.5-8.5-5.5-7-6-7-7-8.5-12-7-13-4-1.5z"/>
<path fill="#00da00" d="M160.5 673l559.5 0 0-147.5-4-3-2.5-10.5-2-18.5-1-20 1.5-27 4-32 4-5 0-69.5-4-5.5-4.5-34-1-25.5 1-20 2.5-18.5 2-9.5 4-3 0-147-559.5 0 0 125 4-1.5 7-13 8.5-11 7-7.5 7-5.5 8.5-5.5 9-3.5 9.5-2 10-0.5 11 1.5 10.5 3.5 10.5 5 10.5 7.5 9.5 9 7.5 9 6 10.5 5 11.5 4 13.5 2 13.5 0 15-1 17-2 11.5-3.5 13.5-12.5 36.5-4.5 15.5-3 17-1 15 1.5 13.5 3 15.5 4.5 15 10.5 30 4.5 16.5 3 17 1 17-1 15-3 15-4.5 13.5-7.5 13.5-9 12-11.5 10.5-12.5 8-12.5 5-11.5 2.5-12 0-11.5-2-10.5-4.5-10.5-7-8.5-8-9-11.5-8.5-15-4-1.5z"/>
<path fill="#00df00" d="M160.5 673l559.5 0 0-143-4-3-3-13.5-3-20-0.5-20 1.5-29 5-37 4-5.5 0-54.5-4-6-5-38-1.5-28.5 0.5-20 3-20 3-13 4-2.5 0-142.5-559.5 0 0 121 4-1.5 7.5-13 8.5-11 7-6.5 8-6 8.5-5 9-3.5 9.5-1.5 10-0.5 11 2 10.5 3.5 11 5.5 11 8 8.5 8 8 9.5 6 10 5.5 12 3.5 13.5 2 13.5 0.5 15-1.5 16.5-2 12-3.5 13.5-14 38.5-4.5 15-3 17-0.5 15 1.5 15 3 15.5 4.5 13 11 30.5 5 16.5 3 17 1 18.5-1 17-3 14-4.5 13-7 13-9.5 12-11.5 10.5-13 8.5-12.5 5-12.5 3-11.5 0-11.5-2-11-4.5-10-6.5-8.5-7.5-10-12-8.5-14.5-4-1.5z"/>
<path fill="#00e700" d="M160.5 673l559.5 0 0-138.5-4-2.5-4-15-2.5-20-1-22 1.5-30.5 6-45 4-7 0-35.5-4-7.5-6-44-1.5-30.5 1-22 2.5-20 4-16 4-2.5 0-137.5-559.5 0 0 117.5 4-1.5 9-15 10-11.5 9.5-7.5 9.5-6 10.5-4 12-2 12 0.5 12 3 14 6 12 8 12 10.5 9 11 7.5 13.5 5 13.5 3 15 1 15-1.5 18.5-3 18.5-5 17-11.5 29.5-5 14-3.5 17-1.5 15 1 15 3 17 5 16 14.5 37.5 3 12 2.5 13.5 1.5 16.5 0 15.5-2 13-3.5 13.5-5 12-6 10-8 9.5-9 9-11 8-11 5.5-11.5 4-11 2-10 0-10-1.5-9.5-3.5-9-5-8-6-7-6.5-8.5-10.5-7.5-12.5-4-1.5z"/>
<path fill="#00ec00" d="M160.5 673l559.5 0 0-133.5-4-2.5-4.5-18.5-3.5-21.5-1-22 1-18.5 1.5-18.5 6.5-49 2-6.5 1-6.5-1-8.5-2-7-7-52-1.5-18.5-0.5-16.5 1-22 3.5-22 4.5-17 4-2.5 0-133-559.5 0 0 113.5 4-1.5 9-14 10-11.5 9.5-7.5 10-6 11.5-4 12-1.5 11.5 0.5 12.5 3 13 5.5 13 8.5 12.5 10.5 9.5 12 7.5 13 5 14 3 15 1 15-1.5 18.5-3 18.5-5.5 16.5-12 30-5.5 15.5-4 17-1 15 1 17 3.5 16.5 5 16.5 14.5 35.5 4 13.5 2.5 12 1.5 16.5 0 15.5-1.5 15-4 13.5-5 11.5-6.5 11-8.5 10-9 8.5-12 8-10.5 5.5-11 4-11.5 2-10 0.5-10.5-2-9-3-9.5-4.5-7.5-5.5-7-6.5-8.5-10-8.5-13.5-4-1z"/>
<path fill="#00f200" d="M160.5 673l559.5 0 0-129-4-2-4.5-15-3.5-20-2-22 0-17 1-16.5 7-55.5 1.5-22-1.5-21.5-6.5-52-1.5-27 1-23.5 3.5-22 5.5-20.5 4-2 0-128.5-559.5 0 0 109.5 4-1.5 8.5-12.5 9-10.5 8-6.5 7.5-5.5 8.5-4 10.5-3 10-1.5 10 0.5 11.5 2.5 11.5 4 12.5 6.5 11 8 9 8.5 8.5 9.5 6 10 5.5 12 3.5 13.5 2 15 0 15-2 17-2.5 13.5-4 13-16 37.5-5 15-4 16.5-1 17 1.5 16.5 4 17 5 14 13.5 31.5 5.5 16.5 4 20.5 1 18-0.5 15.5-3 15-5 13.5-8 13.5-10 11.5-12 10.5-13 8.5-14 6-13.5 3-12 0.5-12.5-1.5-11-4-10-6-9.5-7-10-11-9-14-4-1z"/>
<path fill="#00f700" d="M160.5 673l559.5 0 0-124-4-2.5-6.5-23-3.5-23.5-1-23.5 1-26.5 7-54 1-22-1-21.5-7-55.5-1-17 0-16.5 2-22 4-22 5-17 4-2 0-123.5-559.5 0 0 105 4-1 9-13.5 11-11 9.5-7 10.5-6 12-3.5 12-1.5 12.5 1 13 3.5 15 6.5 13 8.5 11.5 10 10.5 11.5 7.5 13 5.5 13.5 3 15.5 1 15-1.5 20-4 20.5-6 16.5-14 31-5.5 14.5-4.5 16.5-2 17 1.5 17 4 18.5 5.5 15 16.5 37 4.5 13.5 3 13 2 17 0 17-2 15-3.5 13.5-5.5 11.5-6.5 10-7.5 9.5-10.5 9-10.5 7.5-12.5 7-12.5 4.5-11.5 2-11 0.5-10-1-10-3-9.5-4.5-7.5-5-8-6.5-9-10-8.5-12-4-1.5z"/>
<path fill="#00fc00" d="M160.5 673l559.5 0 0-119.5-4-2-6-19.5-4.5-22-1.5-21.5-0.5-17 1-18.5 7.5-57 1-22-1.5-21.5-6.5-52-1.5-29 1.5-25 3.5-23.5 3.5-13.5 4-12 4-2 0-118.5-559.5 0 0 100.5 4-1 8.5-12 9-9.5 8-6.5 8.5-5 10-4.5 10-2.5 10-1 11 0.5 12.5 2.5 12.5 5 12 6.5 12 8 10 9 8 9 6.5 10 5 12 4.5 15 1.5 15-0.5 17-2.5 18.5-3 13.5-4.5 13-16.5 34-7 16.5-4.5 18.5-1 17 1.5 16.5 4.5 17.5 6.5 15.5 15 31 6 17 4.5 21.5 1.5 20.5-1 15-3 15-5.5 14-7.5 13-9.5 10.5-12.5 11-14.5 9-14 6-13 3.5-13.5 1.5-12-1-12-3.5-10.5-5.5-10-7-11-10.5-10-13.5-4-1.5z"/>
<path fill="#0fff00" d="M160.5 673l559.5 0 0-114.5-4-1.5-4.5-13-4-13.5-4-25.5-1.5-26.5 1.5-28.5 7-54 1.5-22-1.5-21.5-7.5-57.5-0.5-18 0-17 2-23.5 4-22 7.5-22 4-2 0-113.5-559.5 0 0 96 4-1.5 10-13 11-10 10-7 10.5-5 12.5-3.5 12.5-1 13 1 14 4 15.5 6.5 15 9 12 10.5 10 11.5 8 13 5.5 13.5 3 15.5 1 15-2 21.5-4.5 22-7 18.5-15.5 28-7 16-5 18-2 17 1.5 18.5 5 18.5 7 16.5 17.5 34 5 13.5 3.5 13 2.5 18.5 0.5 18.5-2 17-4 14-5 11-7.5 11.5-8.5 9.5-10 8.5-12 8-13.5 7-12.5 4-12 3-11 0.5-10-1-11-2.5-9.5-4-8.5-5-7.5-6-10-10-8.5-11.5-4-1z"/>
<path fill="#2cff00" d="M160.5 673l559.5 0 0-109-4-1.5-4.5-12-3.5-11.5-4.5-23.5-2.5-23.5 0-18.5 1-18.5 7.5-59 1-22-1-21.5-7.5-54-1-28.5 1.5-28.5 4-25 4-15.5 5.5-14 4-2 0-108-559.5 0 0 91 4-1.5 9-11.5 9.5-9 8.5-6 8.5-5 10-4 10-2 11-1 11 1 13 2.5 14 5 13 7 12.5 8 10 8.5 8.5 9.5 6.5 10 5.5 11.5 4.5 15 2 17-0.5 18.5-3 20-3.5 13.5-5 13.5-5 10-14.5 24.5-7.5 16-5 18.5-1.5 18.5 2 18.5 5.5 18.5 7 15 17 28.5 7 17 3 11.5 2 12 2 23.5-1 16.5-3.5 15-5 13.5-7.5 12-10 12-12.5 10-14.5 9-15.5 7-14.5 4-13.5 1.5-13-0.5-13-3-12-5-10-7-11.5-10.5-10-12.5-4-1z"/>
<path fill="#49ff00" d="M160.5 673l559.5 0 0-103.5-4-1.5-6-16-4.5-15-4.5-27-1.5-30 1.5-28.5 7-55.5 1.5-22-1.5-21.5-7.5-59-1-20 0.5-18.5 2-25.5 5-23.5 4-13 5-12 4-1.5 0-102.5-559.5 0 0 85 4-1 9-11 11-10 8.5-5.5 8.5-4.5 10-3.5 10-2 11-1 11.5 1 14 3.5 14 5 14 7 12.5 8 10 8.5 8.5 9.5 6.5 10 5.5 11.5 5 17 1.5 18.5-0.5 20-3.5 20.5-4.5 15-5 11.5-4.5 8.5-16 24-8 16-3 9-2 10-1.5 10-0.5 8.5 1 10 1.5 8.5 5.5 18 8 15.5 18 28.5 7.5 17 3 11.5 3 13.5 1.5 13.5 0.5 11.5-1.5 17-3 15-5.5 13.5-7.5 12.5-10 11.5-12.5 10-14.5 9-15.5 7-15.5 4.5-14 2-13.5-0.5-13-2.5-11-4-11.5-7-11.5-10-11.5-13.5-4-1z"/>
<path fill="#75ff00" d="M160.5 673l559.5 0 0-97-4-1.5-7.5-19-4.5-15-4.5-28.5-1.5-30.5 1.5-28.5 7-56 1.5-23-1.5-21.5-7.5-60.5-1-20.5 0.5-20 2.5-27 5-23.5 4.5-13.5 5.5-12.5 4-1.5 0-96.5-559.5 0 0 79 4-1 10.5-12 12.5-10.5 11.5-6.5 12.5-4.5 13.5-2.5 14.5 0 14.5 2.5 16.5 5 15.5 7 14.5 9 12 9.5 10 11.5 7.5 13 6 14.5 3 15 1 17-0.5 13.5-2 15-3 15-3.5 12-3.5 8.5-4.5 8-18.5 25.5-8.5 15-3 8.5-3 10-1.5 8.5-1 10 0.5 10 1 9 2.5 9.5 3.5 10 9 16.5 16 22.5 5.5 8 5.5 13.5 4.5 15 3.5 22 1 22-2.5 20-5 17-5.5 11-7 10.5-8.5 9-10 8.5-11.5 7.5-14 6.5-15 5.5-14.5 3.5-11.5 1-11-0.5-11-2-10.5-3.5-9.5-4.5-9.5-6-10-9-9-10.5-4-1z"/>
<path fill="#93ff00" d="M160.5 673l559.5 0 0-90.5-4-1.5-8-18.5-5-17-3-15-2-15-1.5-32 1.5-30.5 7-55.5 1.5-21.5-1-23.5-6.5-44-2-20-0.5-20 0.5-20.5 2.5-26.5 5.5-25.5 4.5-14 6.5-13.5 4-1.5 0-90-559.5 0 0 72 4-1 10-11 11-8.5 9-6 9.5-4 10.5-3.5 11-1.5 11.5 0 12 1 14.5 3.5 15.5 5 14 6.5 12.5 8 10 8 8.5 9.5 7.5 11 5.5 11.5 3 8.5 2.5 10 2 20.5-1.5 25-4.5 25-4.5 15.5-5.5 11.5-6 8.5-17 20-9 15-3.5 9-2.5 9.5-2 10.5 0 10 0.5 10 2 10 2.5 9.5 4 9 9.5 15 18.5 22 5 8.5 3.5 8 4 13.5 3.5 17 2 17 1 15-1 16.5-3.5 15.5-5 14.5-8 13-9 11.5-12 10-14 8.5-16 7.5-16.5 5-16 3-15.5 0.5-14-2-12.5-4-12.5-6.5-13-10-11.5-12-4-1z"/>
<path fill="#b0ff00" d="M160.5 673l559.5 0 0-83-4-1.5-7.5-16-4.5-13.5-5.5-25.5-3.5-28.5-0.5-21.5 1-22 2-20 6.5-45.5 1-22-1.5-23.5-7.5-55.5-1.5-31.5 0.5-17 1.5-17 2-16.5 3.5-15 4.5-15.5 5.5-14 4-8 4-1 0-82.5-559.5 0 0 63.5 4-1 12.5-12 13-9 12.5-6 14-4 14.5-2 16.5 1 17.5 3.5 17 5.5 15.5 7 13.5 8.5 11.5 10.5 9 11.5 8 13.5 5 13.5 3 15 1 18.5-1 18.5-2 18.5-4 18.5-4.5 15-4 8.5-4 7-20.5 20.5-9.5 13.5-3.5 8-3.5 10-2 10-1 10 0.5 10 1.5 10 2.5 10 4 9.5 5 8 5 7.5 17.5 17 5.5 7 6 11.5 5 15.5 5 28.5 1.5 15 0.5 13.5-0.5 11.5-1.5 12-2.5 10-3 9-5.5 11-7.5 11.5-8.5 9.5-11 9-11 6.5-14 6.5-15.5 5.5-15.5 3.5-12 1.5-12.5 0-11.5-1.5-11-3-10-4-9.5-5.5-11-8-10.5-11-4-0.5z"/>
<path fill="#c0fd00" d="M160.5 673l559.5 0 0-74.5-4-1-4.5-9-6.5-15-4.5-16-3.5-17-2.5-17-1.5-18.5-0.5-16.5 1.5-32 8.5-59 1.5-21.5-1.5-23.5-6.5-45.5-2.5-22-1-21.5 1-23.5 3-30.5 6.5-27 4.5-13 8.5-17.5 4-1.5 0-73.5-559.5 0 0 53.5 4-1 7-6.5 8.5-7 7.5-5 8.5-4.5 15.5-5.5 17-2.5 10 0 10.5 0.5 21.5 4.5 21.5 7.5 9.5 4.5 8.5 5 10 8 8.5 8.5 8 10.5 6 10.5 4.5 11.5 3.5 11.5 2 13.5 0.5 13.5-1 20-3 23.5-4.5 22-5 16.5-4 8.5-4 5.5-5 4.5-15.5 13-5.5 6-5 6.5-4.5 9.5-3 9-2 10-1 10 0.5 10 1.5 10 3 10 4 10 5 7.5 6 7 17.5 14.5 6 6 5.5 10.5 5 15.5 3.5 16.5 3 18.5 2 17 0.5 15-0.5 11.5-1 12-3 11.5-3.5 10.5-6 11.5-7.5 11-9 10-10 8.5-12 7.5-13 6-14.5 5-15.5 3.5-13.5 1.5-13 0.5-11.5-1-12.5-3-11-4-10-5.5-11.5-8.5-10-9.5-4-0.5z"/>
<path fill="#c8fb00" d="M160.5 673l559.5 0 0-64-4-1-6.5-11.5-5.5-14-5-16-3.5-16-2.5-18.5-2-20-0.5-20 2-34 8-58.5 2-23.5-1.5-23.5-7-47-2.5-23.5-1-23.5 1-25.5 3.5-32 6.5-26.5 5-15 6.5-13 3-5 4-1.5 0-63-559.5 0 0 40 4-0.5 14.5-12 16.5-9 16-5.5 17-2.5 20.5 0.5 21.5 3.5 20 6.5 18 9 11 7.5 10 9.5 8.5 10.5 7.5 12.5 5.5 12 3.5 12 2.5 13.5 0.5 15-1 23.5-3.5 27-5.5 27-5.5 18-3.5 7.5-4.5 6.5-4.5 3.5-16.5 9.5-6 6-4.5 6-5 8.5-3.5 10-2.5 10-1 10 0.5 10 2 11 3 9.5 4.5 9.5 5.5 8 5.5 5.5 6.5 4.5 12 7 5.5 4.5 5.5 9.5 5.5 16 4 17.5 3.5 22 2.5 20 1 18.5 0 13.5-1.5 13.5-2.5 10.5-4 11-6 12.5-8 11.5-9 10.5-9.5 8-11 7.5-13 6.5-14 5-14.5 3.5-15 2.5-14 0.5-13-1-12.5-2-11-3.5-10.5-5-12.5-8-11.5-9.5-4-0.5z"/>
<path fill="#d0f800" d="M160.5 652l0 21 32 0-4-5-12.5-7-11.5-8zM286.5 673l433.5 0 0-50-4-1-4-6.5-7-14-5-14-3.5-13.5-3-13.5-4-33.5-1-28.5 0.5-27 2.5-23.5 8-50.5 1-23.5-1.5-23.5-9-62-1.5-18.5 0-17 0.5-21.5 1.5-22 3-20 3.5-17 5-16.5 6-15 8-13.5 4-1 0-49.5-431.5 0 4.5 5 14 7 12.5 8.5 10 9 8.5 10 8.5 12.5 7 13.5 5 13.5 2.5 13.5 1.5 11.5 0 12-2.5 31.5-7 44-3.5 16.5-4 13.5-3.5 9.5-5 6-5 3-11 4-6.5 3-6 5-5.5 6.5-5 8.5-3.5 10-2 10-1 10 1 12 2 10 4 10 5.5 9 5 6 5.5 4 6.5 3.5 10.5 3.5 5 3 4.5 5 4 8.5 6 21.5 5.5 32 4.5 33.5 1.5 25-1 18.5-3.5 15-6 16.5-9.5 16-10 13-11.5 11-14 10-16 7.5zM160.5 97l4-0.5 11.5-8.5 11-6 3.5-5-30 0z"/>
<path fill="#d8f500" d="M327.5 673l392.5 0 0-29-4-1.5-5.5-8.5-7-14-5.5-14-3.5-13.5-3-13.5-4-35-1.5-35.5 0.5-32 3-26.5 8-52.5 1.5-23.5-1.5-24.5-10-64.5-1.5-18.5-0.5-20 0.5-22 1.5-21.5 2.5-20.5 3-18.5 5-20 6.5-16.5 5-10.5 6.5-10.5 4-1 0-28.5-391.5 0 1.5 5 11 14 10 16 7 14 5.5 14.5 3 13.5 1.5 15.5-0.5 16.5-1.5 20-5 34-5.5 33.5-5 23.5-4 13.5-4 6.5-4 4-3.5 1.5-12.5 2-6.5 2-7 4.5-5 6-5.5 9.5-4 11-2 11.5 0 12 2 10 2.5 8.5 4 8.5 5 7 5.5 5 6.5 3.5 5 1.5 11 1.5 4.5 2 4.5 4.5 3.5 6.5 6 22 7.5 42 6.5 43.5 1.5 27-0.5 12-1.5 12.5-3 11-4 12-5.5 11.5-6.5 11-8.5 12.5-9.5 11.5z"/>
<path fill="#e4f100" d="M357.5 673l347.5 0-0.5-5-6.5-17.5-5-16-5-27-3.5-38.5-2-53.5 0.5-23.5 2-22 2.5-22 8-47 2-25-1.5-25.5-9-55.5-3.5-28.5-1-35 1.5-47 2.5-32 3.5-23.5 4-18 10.5-29 0.5-5-347.5 0 1 5 8 24.5 5 19 2.5 18.5 0.5 17-1 16.5-3 23.5-11 67-6 32.5-5 18.5-3 5.5-3 3.5-4.5 1.5-13.5-1.5-6.5 1-7 3.5-6.5 6-4.5 7.5-3.5 8-2.5 10-0.5 10 0.5 10.5 2.5 10 3.5 9 4.5 7.5 6.5 6 7 3.5 6.5 0.5 13.5-1 4.5 1.5 3 3.5 3 6.5 5 18.5 6.5 35 10.5 64 3 23.5 1 16.5-0.5 17-3 18.5-4.5 18-8.5 25.5z"/>
<path fill="#ecef00" d="M386 673l282 0 9-89 2.5-77 1.5-25.5 3.5-26.5 9.5-55.5 1.5-25.5-1.5-25-9.5-54-3.5-28.5-1.5-23.5-2.5-77-9-89-282 0-2 58.5-2.5 25.5-13 70.5-11 68-6 26-3.5 8.5-2.5 3-2 1.5-4-0.5-11-4.5-7-1.5-7 1-6 4-5.5 6-4.5 9.5-3 10-1 11.5 1 12 2.5 10 4.5 9 6 7.5 6 3.5 7 1.5 6.5-1.5 11.5-5 4 0 3.5 3 4 9 6 25 24.5 141 2.5 25.5z"/>
<path fill="#f0ea00" d="M412.5 673l217.5 0 1-5 9-14.5 8-15 10-23.5 7.5-25 5-26 2.5-20 5-60.5 3.5-25.5 10.5-58.5 1.5-17 0.5-15-3-23.5-9-49-3.5-23.5-6.5-73.5-2-17-3-15-5.5-20.5-7-19-10.5-23.5-12.5-21-1-5-218.5 0-1 5-7 16.5-5.5 17-21 88-8.5 41.5-12.5 78.5-3 14.5-3 9.5-2.5 4-1.5 1-1.5-0.5-2.5-1-8.5-8.5-5.5-4.5-5.5-2-5-0.5-5.5 1.5-5.5 4-4.5 6-3.5 7-2 7-1.5 8 0 7 0.5 8.5 2 8 2.5 7 3.5 5 3.5 4.5 4 3 4 1.5 4 0.5 4.5-0.5 7-4 11.5-11 3-1.5 1.5 0.5 1.5 1.5 2.5 4.5 5.5 22.5 13 79 8 41 21.5 88.5 5.5 17.5 7 16z"/>
<path fill="#f3e500" d="M439 673l153 0 2.5-5 13-11 13-13.5 9.5-12 7.5-11 8-13 7-14.5 5.5-14 4-15 5-24.5 9-66 14.5-76 1.5-23.5-1.5-23.5-15-77-10-72.5-3.5-16.5-5-16.5-10-23-6-11.5-8-11.5-7.5-10.5-9.5-10.5-10-10-10.5-9-2.5-5-154.5 0-2 5-9.5 11-8.5 12-10 18.5-7 17-9.5 26-11.5 38-6 25-4.5 27-14.5 99-1.5 18.5 1 17 10.5 74 6 37 6.5 31.5 7 27.5 14 41.5 11 26.5 10 18 8 10.5 9.5 10.5zM318 411l4.5-1 4-2 4-3.5 3.5-5 5.5-12 2-6.5 0.5-7-1-6.5-1.5-7-6-11.5-3.5-4.5-3.5-3-4-2-4.5-1-4 0.5-4 2-4 3.5-3 4.5-3 6-2 5.5-1.5 13.5 1.5 13.5 4.5 12 3 4.5 3.5 3.5 4 2.5z"/>
<path fill="#f5df00" d="M474.5 673l70 0 5-5 10.5-4 11-5 11-6.5 10-7 18-15 16-18 10-14.5 8.5-15.5 7-16 5.5-16 4.5-19 10.5-55 13-59.5 4-22.5 1-13.5 0-12-1-13.5-2.5-15.5-14.5-66.5-12-62.5-5.5-19.5-6.5-18-8-15.5-9.5-14.5-10.5-14-11.5-12-12-10.5-12.5-9-15.5-8.5-17-7.5-5-5-74 0-3.5 5-12.5 7-11.5 8.5-9.5 9-8.5 9.5-11 15.5-10.5 19-10.5 22-8.5 23-6 21.5-5.5 24.5-5 28.5-4.5 35.5-5.5 55-0.5 17 1 18.5 5 47 5.5 42 6.5 33.5 6.5 27 7.5 21.5 8.5 20.5 10.5 21.5 11 17 10 13 11 10.5 14 11 14 7.5zM316 407.5l4-0.5 4-2 6-6.5 5-11 1.5-11.5-1-12-2-6.5-2.5-5-3-5-3.5-3-3.5-2-4-1-4 1-3 1.5-3 2.5-3.5 4-4.5 10.5-1.5 13 1.5 13.5 4 10 3 4.5 3 3 3.5 1.5z"/>
<path fill="#f8da00" d="M503.5 657.5l18-1 18.5-4 17-5.5 17-8.5 15.5-10 15-12.5 13-14 12-16 8-14 7-14.5 6.5-16 5.5-18 26-106 4-23 1.5-18.5-1-18.5-4-23.5-26.5-108.5-5.5-17.5-6.5-16.5-6.5-14-8-13.5-11-15-13-14.5-15-12.5-15.5-10.5-17-8.5-17.5-6-18-4-18-1-14.5 1-14 4-14 6.5-14 9-14 12.5-13 15-12.5 17.5-10 17.5-7 16-6.5 18.5-5.5 20-4.5 22-4.5 30.5-4 35-3 32-0.5 25 0.5 25.5 3 32 4 35 4.5 30.5 4.5 21.5 5 20 6.5 18.5 7 15.5 10 18 11.5 16.5 13 15.5 14 13 14 9.5 14 7 14 4zM315.5 404.5l3-0.5 3-1.5 3-2.5 3.5-4 4-10 1-10-1-12-4-10-5.5-6.5-3-2-3.5-0.5-3.5 0.5-3.5 1.5-5 6.5-4 10-1.5 10.5 1.5 12 4 10 5 6 3.5 2z"/>
<path fill="#fbd500" d="M504.5 642l17-1 18-4 17-5.5 16-8 14-9 13-11 12.5-13.5 11-14.5 10-17 9.5-19 8.5-22 9-28 12.5-42 8-31.5 4.5-23.5 1-18.5-1.5-20-4-22-8.5-33-12.5-41.5-9.5-28-8.5-21.5-8.5-17.5-10-16.5-11-14.5-12.5-13.5-13-11-14-9.5-16-7.5-17-6-17-3.5-17.5-1-13.5 1-14 3.5-13.5 6-14 9-16 13.5-15 14.5-10.5 14-9.5 15-7 15.5-5.5 17-5 19.5-4.5 22.5-4.5 28.5-3 32-2.5 30-0.5 25 0.5 27 2.5 30.5 3.5 31.5 4 29 4.5 21.5 5 20 5.5 16 7 15.5 8.5 14.5 11 14 14.5 15 16.5 13 14 9 13 6.5 14 3.5zM314.5 401l5.5-1.5 5-5 3.5-8.5 1.5-10-0.5-10-3-9-5-6.5-3-1.5-3-1-3 0.5-3.5 1.5-4.5 5.5-3.5 8.5-1 10 1 10.5 3 8 5 6.5z"/>
<path fill="#fdcf00" d="M503.5 627.5l16.5-1 17-3 17-5 15.5-7 12.5-7.5 11-9 10.5-11.5 11-13.5 11.5-18 11.5-22 11-24 11-28 10.5-33 8-28 4.5-22.5 1-18.5-1-18.5-3.5-21.5-7-26.5-10.5-31.5-10.5-29-12-26.5-11.5-22.5-11.5-18.5-11-14-11.5-12.5-11-9-11.5-7.5-15.5-7-17-5.5-17-3-16.5-1.5-13.5 1.5-14 3.5-15 6.5-14.5 8.5-16.5 12-13 11.5-10 12-8.5 14-6.5 13.5-6 17-4.5 18.5-4.5 21.5-3.5 27-3 28.5-2 28.5-0.5 27 0.5 27 2 30 2.5 30.5 4 26.5 4 22 5 19 5.5 16.5 7 14.5 7.5 12.5 10 12.5 12.5 11 16.5 12 14.5 9 15 7 13.5 3.5zM314.5 397.5l5-1.5 4-5 3-8.5 1-8.5-1-8-2.5-7-4-5-2.5-1.5-3-1-4.5 1.5-4.5 5-3 8-1 8 1 9 3 8 4 5z"/>
<path fill="#ffc500" d="M504.5 614.5l16-1 17.5-3 16-4 14-5.5 11-6.5 10-8 10-10 9.5-12 13-19.5 13-23.5 13.5-27 10.5-25.5 10-28.5 7.5-26 4-22 1.5-18.5-1.5-18.5-4-21.5-7.5-25-10-28.5-11.5-27.5-12.5-25.5-13-23-13-20-10.5-12.5-10-10-9-7.5-11-6-14-5.5-16-4.5-16.5-2.5-16.5-1-14.5 1-14 3-15.5 6-16 8.5-15 9.5-11 9-10 11.5-7.5 12-7 14-5 15-5 18.5-4 20.5-3.5 25-2.5 28.5-2 28.5-0.5 28.5 0.5 28.5 2 29 2.5 28.5 3.5 25 4 20.5 4.5 18.5 5.5 15.5 7 14.5 7.5 12 9.5 10.5 11.5 9.5 13.5 9 16 8.5 16.5 6.5 14.5 3.5zM314 394l4-1.5 3.5-4.5 2.5-7 0.5-7-0.5-6.5-2.5-7-3.5-4-4-1-4 1-3.5 4-2.5 7-1 6.5 1 8 2 6 4 4.5z"/>
<path fill="#ffbd00" d="M502 603.5l15.5-0.5 17-2 16.5-3.5 13-4.5 10-4.5 9.5-6.5 9.5-9 8.5-9.5 13-19 15.5-25.5 14.5-28.5 12-25.5 9.5-25.5 7.5-25 4-20 1.5-18.5-1-18.5-4-19.5-7-24.5-9-25.5-12-26-13-26-14.5-25.5-14-20.5-9.5-11.5-8.5-8.5-8.5-6.5-10-5.5-12.5-5-15.5-3.5-17-2.5-16-1-15 0.5-15.5 3-16 5.5-15.5 6.5-12.5 7-11.5 9-9.5 9.5-8 11-6 12-5.5 14.5-5 17-4 20-3.5 23.5-2.5 27-1.5 27-1 28.5 0.5 28.5 1 28.5 2.5 28.5 3 25.5 4 21.5 4.5 17.5 5 16.5 6.5 13 7 11 8.5 10 10 9 12.5 8 15.5 7.5 17 6 15.5 3.5zM313 389.5l3-1 3.5-3.5 1.5-6 0.5-5-0.5-5-2-5-2.5-3.5-3.5-0.5-3 1-2.5 3-2 5-0.5 5 0.5 5 1.5 5.5 3 3.5z"/>
<path fill="#ffb500" d="M502 594.5l16.5-0.5 17-2 14.5-2.5 13.5-4 9-4 9.5-6.5 7.5-6.5 8.5-10 13.5-18 15.5-25.5 15.5-29 12-26.5 9.5-24 7-22.5 4-20.5 1.5-16.5-1-17-3.5-19.5-7-22.5-8.5-23.5-12-25.5-14.5-28-15.5-26-14-20.5-8.5-10-8.5-8-8-6-9-4.5-11-4-14.5-3-16.5-2-17-1-15.5 0.5-15.5 2.5-15.5 4-16 6.5-12.5 6.5-11 8-8.5 8.5-7.5 10.5-6.5 11.5-5.5 14-4.5 16.5-4 19-3 22-2.5 23.5-1.5 27-1 28.5 0 28.5 1 28.5 2 27 3 25.5 4 21.5 4 18.5 5 15 6.5 13.5 6.5 11 8.5 10 10.5 8 11.5 7 14.5 6.5 16.5 5.5 16 3zM313 383.5l1.5-0.5 2-2 1.5-7-2-6-1.5-1.5-1.5-0.5-3 1.5-1.5 3.5-0.5 3 1.5 7 1.5 1.5z"/>
<path fill="#ffad00" d="M491.5 586l15.5 1 17.5-1 18-2 14-3 10-3.5 9-4.5 8.5-6.5 8-8 12.5-15.5 14-22 16-28.5 14-27.5 9.5-22 8-22 5-19.5 2.5-17 0-17-2-17-5-20-7-21-10-22.5-12-24.5-16-29-15-23.5-9-13-8-9-8.5-7.5-7.5-5.5-9.5-4.5-10-3-13-2.5-16.5-1.5-17-1-14.5 0.5-15 2-14.5 3-15 5-12 5.5-10.5 6.5-9 8-7 8-6.5 10-5 11.5-4.5 12.5-4 15-3.5 16.5-2.5 20.5-2.5 21.5-1.5 30.5-0.5 33.5 0.5 33.5 1.5 30.5 2.5 28.5 3.5 23.5 4.5 20 5.5 17 6.5 13.5 7.5 11 8.5 9.5 10 7.5 12.5 6.5 15.5 6 16 4z"/>
<path fill="#ffa500" d="M478 578l16.5 2 17 0 20-1 17-2.5 11.5-2.5 9.5-3.5 8.5-5.5 8.5-7 11-12.5 12.5-17.5 16-27.5 15-27.5 10-21.5 8.5-20.5 6-19 4-17.5 1.5-15.5 0-13-2.5-15.5-3.5-15-6-18.5-8-19.5-10-20.5-12-22.5-23-39-10-14-8.5-9.5-8.5-7.5-9.5-5.5-10-4-13-3-16.5-2-18-1-15.5 0.5-13.5 1-15 2.5-14 3.5-12.5 5-10 5.5-8.5 6-7 6.5-6 7.5-5.5 9.5-5 10-4.5 12.5-3.5 14-3 15.5-3.5 26.5-2.5 32-1 35.5 0.5 37 1.5 33.5 2.5 28.5 3.5 25 5 22 5.5 15 6 13 7.5 10.5 9 9 10.5 7.5 13.5 6.5 15.5 5z"/>
<path fill="#ff9d00" d="M475 572l15.5 2 17 0.5 21-1 18-2 12-2.5 9.5-3.5 8.5-5 7.5-6 11-12 11.5-16.5 15-24 15.5-28.5 10.5-22 8.5-20 6.5-18.5 4-17 1.5-13.5 0.5-13.5-1.5-13.5-3.5-15-5.5-16.5-6.5-17-8.5-18.5-10.5-21.5-25-42.5-9.5-13.5-9-11.5-8.5-8-8.5-5.5-10-4.5-12-3-14.5-2-18-1.5-17 0-14.5 1-14 1.5-13.5 3-12 4-11 5-8.5 5.5-7.5 6-6.5 7.5-5.5 8-4.5 9-4.5 11-3.5 11.5-3.5 15.5-3.5 25-2.5 30.5-1.5 35 0 37 1 33.5 2.5 30.5 3 25 5 22 4.5 15 6 13 7 11 8.5 9 10 7.5 12.5 6 14.5 5z"/>
<path fill="#ff8d00" d="M462.5 564.5l16.5 3 17 1.5 19.5 0 20.5-1.5 15-2 11-3 9-4 8.5-5.5 9.5-8.5 10-13 11.5-17.5 14-24.5 13-24.5 10.5-22 8-20 5.5-18.5 3-13.5 1-12 0-11.5-1.5-12-3-13-5-15.5-6-15.5-8-18-12-23.5-14-25-11.5-19.5-10-14-8.5-10-9.5-7.5-9.5-5.5-10.5-3.5-12.5-2.5-15.5-1.5-18-0.5-17 0-14 1.5-13 2-12.5 3-10.5 4-9 4-7.5 5-7 6-6 7-5.5 8.5-5 9-4 11-3 11.5-4.5 22-3 25.5-2 30-1 35.5 0.5 36.5 1.5 34 2.5 28.5 4 23.5 4.5 16.5 4.5 13.5 6.5 12 7 9.5 8.5 8 11 7 12 5.5z"/>
<path fill="#ff6900" d="M472.5 561.5l15.5 2 17 0.5 21-0.5 18.5-2 12-2 9-3 8-4 7.5-6 10-10 10.5-14 11.5-19 14-25 12-23.5 9-20.5 7-18.5 4.5-16.5 2.5-13.5 0.5-12-1-11.5-2-13.5-4.5-15-5.5-15-16-35.5-24.5-44.5-10-15.5-8.5-11.5-8.5-8.5-8.5-6.5-9.5-4.5-10.5-3.5-13.5-2-16-1-19-0.5-15.5 0.5-13.5 1-13.5 2.5-11.5 3-10 4-8.5 5-7 5-7 6.5-5.5 7-5 8-4.5 10-3.5 11-3.5 12.5-4 23.5-2.5 27-1.5 33.5-0.5 37 1 35.5 2 30 3 25.5 4.5 21 4.5 15 5.5 12 6.5 10.5 8 9 9.5 7 11.5 6 13 4.5z"/>
<path fill="#ff5100" d="M461 555l15.5 2.5 18 1.5 20 0 21-1 14-2 10.5-2.5 9.5-4 8.5-5.5 8.5-7.5 9.5-11.5 9.5-15 11.5-20 13.5-25 10.5-22 8.5-20 5-17 3-11.5 1.5-12 0.5-11.5-1.5-12-2-11.5-4.5-14.5-5-14-7.5-17-10.5-22-13.5-25-11.5-19-10-14.5-8.5-10-8.5-7.5-9.5-5.5-10-3.5-11.5-2.5-14.5-1.5-19-1-17 0.5-14 0.5-13 2-11.5 2.5-10 3.5-8.5 4-8 4.5-6.5 5.5-6 6.5-5 7-4.5 8.5-4 10-3.5 11-4.5 21-3 23.5-2 28.5-0.5 31.5 0 37 1.5 34 2 26.5 4 23.5 4 17 5 13 5.5 10.5 6.5 10 9 8 9 6 11 5z"/>
<path fill="#ff3900" d="M458 549.5l14.5 3 17 1.5 19.5 0.5 22-1 15.5-1.5 11.5-2.5 9-3.5 8.5-5 8.5-7.5 9-10 9-13.5 10-16.5 13.5-25.5 11.5-23.5 8-20 6-16.5 3-12 1.5-11.5 0.5-10.5-0.5-11.5-2.5-12-3.5-13.5-5.5-15-6-15-10.5-22-13.5-25-10.5-18.5-10-15-8.5-10-8.5-7.5-8.5-5.5-10-4-11-2-14-1.5-35.5-1-27 2-12 2.5-10 3-8.5 4-7.5 4.5-7 5.5-5.5 5.5-4.5 6.5-5 8-3.5 8.5-4 11.5-4 18.5-3 22-2.5 27-1 31.5 0 37 1.5 33.5 2 27 3.5 23.5 3.5 15.5 4.5 13 5.5 12 6 9 7.5 7.5 9 7 10.5 5z"/>
<path fill="#ff2100" d="M456.5 544.5l14.5 3 17 2 19.5 0.5 21.5-1 15.5-1.5 12-2 10-3.5 8.5-5 7.5-7 8.5-9.5 8.5-12.5 9.5-15.5 12-22.5 11.5-23.5 8.5-20.5 6-16.5 3-12 2-11.5 0.5-12-0.5-10-2-11.5-3-12-10.5-28.5-10-22-12-23.5-11.5-20-9.5-14.5-8.5-10.5-7.5-7-9-6-10-4-10-2.5-13-1.5-35.5-1-27.5 2-10.5 2-10 2.5-8.5 3.5-8 4.5-6 4.5-6.5 5.5-5.5 7-4 7-4 8.5-3.5 10-4.5 18.5-3 20-2 24-1.5 28.5 0 37 0.5 33.5 2 28.5 3 23.5 3.5 16.5 4.5 13.5 4.5 10.5 6 10 7 8 8.5 6.5 10.5 5.5z"/>
<path fill="#ff0900" d="M456.5 540l14 3 16 2 18.5 0.5 22.5-1 15.5-1 12.5-2.5 9.5-3.5 8.5-4.5 7.5-6.5 8-8.5 8-11 9-15 11.5-22 10.5-22 9-20 6-17 3-11.5 2-12 1-11.5-0.5-10-1.5-12-3-11.5-9.5-27-10-22-11.5-23.5-11-19-9-14.5-8.5-10-8-8-8.5-5.5-9.5-4-10-2-12.5-2-35.5-1-27 2-11 1.5-10 3-8.5 3.5-7 3.5-7 5.5-5.5 5-5 7-4 6.5-4 8.5-3.5 10-4.5 17-3 20-2 23.5-1 28.5-0.5 35.5 1 33.5 2 27.5 3 22.5 3 15 4 12.5 5 11.5 6 9.5 7 8 7.5 6 9.5 5.5z"/>
<path fill="#fc0000" d="M458 536l14 3 16 1.5 19 0.5 21.5-1 14.5-1.5 12-2 9-3.5 8.5-4.5 8-6.5 7.5-8.5 8-11 8.5-14 10.5-20.5 10.5-21.5 7.5-18.5 6-17 3-11.5 2.5-12 0.5-11.5 0-10-2-12-3-11.5-9.5-27-9.5-22-11-22-10-18.5-9-13-7.5-9.5-8-7.5-8.5-5.5-9-3.5-10-2.5-12.5-1.5-34-1.5-27.5 1.5-10.5 2-9.5 2.5-8.5 3.5-7 4-6 4.5-6.5 6-4.5 5.5-4.5 8-7 17.5-4 15.5-3 20-2 23-1.5 28.5 0 35.5 1 32 2 26.5 3 21.5 3 14.5 4 13 4.5 10 6 9.5 7 8 8 6 9 5z"/>
<path fill="#f60000" d="M458 531l13 3 15.5 1.5 18 0.5 22.5-0.5 14.5-1.5 12-2 9-3 8.5-4.5 8-6.5 7-8 7.5-10 8-13 10-19 9.5-20 7.5-18.5 6-16.5 3.5-12 2-11.5 1-12 0-10-1.5-12-2.5-11.5-9.5-27-8.5-20-10.5-22-9.5-16.5-8.5-13.5-8-10-7.5-7-8.5-6-9.5-3.5-9-2.5-12.5-1.5-33.5-1.5-26 1.5-11 2-9.5 2.5-7.5 3-7 3.5-6.5 4.5-5 5-5.5 6.5-4 6.5-7.5 17-4 17-3 18.5-2 21.5-1.5 27 0 33.5 0.5 32 2 25 3 22 3 15 3.5 12 4.5 10 6 10 6.5 7.5 7.5 6.5 9.5 5z"/>
<path fill="#f10000" d="M458 526.5l12.5 2.5 14.5 1.5 18 0.5 22.5-0.5 14.5-1 11.5-2 9.5-3 8.5-4.5 7-5.5 7.5-7.5 7-10 7-11.5 8.5-15.5 9-18.5 8-18.5 6-17 6-23.5 1.5-11.5 0-10-1-10.5-2-11.5-4-13.5-4.5-13.5-8-20-9.5-20-10-18.5-8.5-13.5-7.5-10-8-7-7.5-5.5-9.5-4-9-2.5-12-1.5-32.5-1.5-26 1-11 2-9 2-7.5 3-6.5 3.5-6.5 4-5.5 5-5 6.5-4 6.5-7 16-4 14.5-3 18.5-2.5 21.5-1 25.5-0.5 31.5 0.5 30.5 1.5 25 3 22 3 14.5 3.5 12.5 5 11.5 5 8.5 6.5 8 7 6 8.5 5z"/>
<path fill="#e90000" d="M458.5 521.5l12 2.5 14.5 1.5 18 0.5 21.5-0.5 15-1.5 11.5-2 9-3 7.5-3.5 7-5.5 6.5-6.5 7-9 7-11 15.5-30.5 13.5-33.5 4-13.5 2.5-11.5 1.5-12 0.5-10-1-10-2-12-7-25-7-18.5-9.5-20-8.5-17.5-8.5-13.5-8-10.5-7.5-7.5-8-5-9-4-9.5-2.5-11-1.5-31.5-2-27 1-10 1.5-9 2-6.5 3-7 3.5-6 4-5.5 5-5 6.5-4 6-7 16-4 15.5-3 17.5-2 21-1 25-0.5 28.5 0.5 29 2 25 2.5 20 2.5 13.5 4 13.5 4 10 5.5 9 6 7.5 7 6 8.5 5.5z"/>
<path fill="#e40000" d="M459.5 516.5l11 2.5 13 1.5 18 0.5 21-1 14.5-1 11.5-2 9.5-3 7.5-3.5 7-5 6.5-6 6-8 6.5-10 14-26.5 12.5-32 7-25.5 2-11.5 0.5-10-0.5-10-1.5-12-6.5-25-7-18.5-8-18.5-8-17-8-13.5-8-10-7.5-7.5-8.5-6-8.5-3.5-8.5-2.5-11-1.5-30-2-27 1-10 1-8.5 2-7 2.5-6.5 3.5-5.5 3.5-5 5-8.5 11.5-7 15.5-4 14.5-3.5 17-2 20-1.5 23.5-0.5 28.5 1 27 1.5 23.5 2.5 20 3 15 3 12 4 10 5.5 9.5 6.5 8 7 6 7.5 4.5z"/>
<path fill="#de0000" d="M458.5 510.5l10.5 2.5 12 1.5 17.5 0.5 20-0.5 14.5-1.5 11.5-1.5 10.5-3 7.5-3.5 7-4.5 6-5.5 6-6.5 5.5-8.5 12-22 11.5-28.5 8-27 2-11.5 1.5-12 0-10-1.5-11.5-5-23.5-6-17-7-18.5-8-16.5-8-13.5-7.5-10-7-8-8-5.5-9-4.5-8.5-2.5-9.5-1.5-26.5-2-29.5 0.5-10.5 1-8.5 1.5-6.5 2.5-6.5 3-5 3.5-5.5 5-8.5 11.5-6 14-4 13-3.5 17-2 18.5-1.5 22-0.5 25 0.5 25 1 23.5 2.5 20.5 2.5 14.5 3.5 12 3.5 10.5 5.5 10 5.5 7.5 6.5 6 7 5z"/>
<path fill="#db0000" d="M460.5 505l9 2.5 11 1 36.5-0.5 24.5-3 9.5-2.5 7.5-3 6.5-3.5 6-5 5.5-6 5.5-7 11-20 10.5-25 8-27 2.5-11.5 1.5-12 0-10-0.5-12-2-11.5-3-13.5-5.5-16.5-6.5-17-7-15-7.5-13.5-7-9.5-7.5-7.5-7-5-9.5-4.5-17-4-23.5-1.5-31-0.5-9 0.5-8.5 1.5-6.5 2.5-6 3-5.5 3.5-4.5 4.5-8 10.5-6.5 15-4 13-3 17-2.5 18.5-1.5 20-0.5 22 0.5 23.5 1.5 22 2 19 3 14.5 3 11.5 4.5 12 4.5 8.5 5.5 7.5 6 6 7 5z"/>
<path fill="#d80000" d="M459.5 498.5l8.5 2 10 1 34-1 26-3 9-2 8-3 6-3.5 5.5-4 5.5-5 5-6.5 10-17 8.5-20 8.5-27 2.5-13.5 1.5-11.5 0-12-0.5-12-4.5-23.5-4.5-16.5-6-15-6-13.5-6.5-12-6.5-8.5-7-7-8-5.5-8-4-16-4-22.5-2-31.5-1.5-8.5 0.5-8 1.5-6 2-5.5 2.5-9 7.5-7.5 10-6.5 13.5-3.5 12-3.5 15-2 17-2 20-0.5 20 0 22 1.5 20 2 18.5 2.5 14.5 3 12.5 3.5 10 4 9 5 8 6 6.5 7 5z"/>
<path fill="#d60000" d="M460.5 492l11.5 2 16-0.5 42-4.5 11-2 8.5-3 10.5-6.5 10-9.5 8.5-13 8-17 7.5-25 2.5-12 2-13.5 0.5-11.5-0.5-12-1-11.5-2.5-13.5-3.5-13.5-5-14-5.5-12.5-6-10.5-6-8.5-6.5-6.5-7-5-7.5-4-12.5-3.5-18-2.5-36.5-3.5-8.5 0-7 1-10.5 4-8.5 6.5-8 10-6 13-4 12-3 14-2.5 15.5-1.5 18-1 18.5 0.5 20 1 18.5 1.5 17 2.5 15 3 12 3.5 10 4.5 10 4.5 7.5 5.5 6 6.5 5z"/>
<path fill="#d30000" d="M459.5 484l9.5 2 11.5 0 47.5-9.5 14.5-4 10-6 9-8.5 7-10 6.5-13.5 4-10.5 3-11.5 2-12.5 1.5-12.5 0.5-23.5-1.5-13.5-2-11.5-3-12-4-11-4-9-5-9.5-5.5-7-5.5-5.5-7-5-7-3.5-13-3.5-45-9-9.5-1-7.5 0.5-9.5 3-8.5 6-7.5 9.5-5.5 11.5-4 11-3 12.5-2.5 15-1.5 15.5-1 35 2.5 33.5 4.5 25.5 3.5 10.5 4 9.5 4.5 8 4.5 6 6.5 5z"/>
<path fill="#cf0000" d="M469 478l7-0.5 8-2.5 24.5-11.5 20-8.5 9.5-5 7.5-7 4-5 4-6.5 6-15.5 4-18.5 1.5-21.5-1-22-4-20-6-15.5-4-6.5-4.5-6-7.5-6.5-10.5-6-18.5-7.5-24-11.5-8.5-2.5-7-0.5-9 1.5-8.5 5-8 8.5-6 12-5 15-4 18.5-2 20.5-1 21.5 0.5 22 2.5 22 4 18.5 5 14.5 6 11.5 7 8.5 8.5 5z"/>
<path fill="#cc0000" d="M467.5 469.5l4.5-0.5 4.5-1.5 10-6.5 10-9.5 9-13.5 7.5-15 4.5-15 3.5-17 1-17-1-16.5-3.5-17-5-15-7.5-15-8-12-10.5-10.5-10-6-4.5-1.5-4.5-0.5-8 1.5-7.5 4.5-7 9-5.5 10.5-4.5 13.5-3.5 16.5-2 18.5-1 20 1 20.5 2 18.5 3.5 16.5 4.5 14 5.5 11.5 7 8 7.5 5z"/>
<path fill="#cc1c1c" d="M465 460.5l7.5-1.5 8-5.5 7-8.5 5.5-10.5 4-11.5 3.5-15 2.5-17 0.5-17-1-16.5-2-17-3.5-15-4.5-12-5.5-10-7-8.5-7.5-4.5-7.5-2-7 2-6 4-6 7.5-5 10.5-4 13-3.5 15-1.5 17-0.5 16.5 0.5 17 1.5 17 3 15 4 13.5 5 10 6.5 8 6 4.5z"/>
<path fill="#cc3c3c" d="M464 452l6.5-1.5 6-4.5 5.5-7.5 4.5-9 4-11.5 3-13.5 1.5-15 0.5-15.5-0.5-15-2-15-3-13.5-3.5-10.5-4.5-9.5-5.5-7-6-4.5-6.5-1.5-6 1-5.5 4-5.5 7-4.5 9.5-3.5 11.5-3 13.5-1.5 15-0.5 15 0.5 15.5 1.5 15 2.5 13.5 4 12 4.5 10 5.5 7 5.5 3.5z"/>
<path fill="#cc5c5c" d="M462.5 443.5l5.5-1.5 5.5-4 4.5-6 4.5-9 3-10 2.5-12 1.5-13.5 0.5-13.5-0.5-13.5-1.5-13-2.5-12-3.5-10-4-8-4.5-6.5-5.5-4-5.5-1-5.5 1.5-4.5 3.5-4.5 6.5-4 8.5-3 9.5-2.5 12-1.5 13-0.5 13.5 0.5 13.5 1.5 13.5 2 12 3.5 10.5 4 8.5 4.5 6 4.5 4z"/>
<path fill="#cc7c7c" d="M462 434.5l4.5-1 4.5-3.5 4-5 3.5-7 3-10 2-10.5 1.5-11.5 0.5-12-0.5-11.5-1.5-12-2-10-3-8.5-3.5-7.5-4-5.5-4.5-3.5-4.5-1-5 1.5-3.5 3-4 5.5-3.5 7.5-3 8.5-2 11-2 22.5 2 23.5 2 10.5 2.5 8.5 3 7 4 6 4.5 4z"/>
<path fill="#cc9c9c" d="M462 426l3.5-1.5 4-3 3-4.5 3.5-7 3.5-15.5 1.5-20.5-1-18.5-4.5-16.5-3-6.5-3-4.5-4-3.5-3.5-1-4 1-4 2.5-3 4.5-3 6.5-4.5 16-1.5 20 1.5 20.5 2 9.5 2.5 7.5 3 6.5 3 4 4 3z"/>
<path fill="#ccbcbc" d="M461 416.5l3-1 3.5-2.5 5-8.5 3-13.5 1.5-17-1-15-3.5-13.5-2-5-3-4.5-3.5-2.5-3-0.5-3 0.5-2.5 2-3 4-2.5 5-3.5 13-1 16.5 1 17 3.5 13.5 5 8.5 3 2.5z"/>
<path fill="#cccccc" d="M461 405.5l2.5-1 2-2 3.5-6.5 2.5-10 1-12-1-11.5-2.5-10-4-6.5-4-2-2.5 0.5-2 1.5-4 6.5-2.5 10-1 11.5 1 12 2.5 10.5 4 7 2 1.5z"/>
</g>
<path fill="#000" d="M163.8 107.7L163.5 107.9L164.2 108.2L161.1 109.4L163.0 106.8L163.2 107.4L163.4 107.2ZM181.2 107.9L180.8 108.0L181.5 108.6L177.3 109.1L180.5 106.4L180.5 107.3L180.9 107.1ZM198.6 108.0L198.1 108.1L198.8 109.0L193.5 108.6L198.1 106.0L197.9 107.1L198.4 107.0ZM215.9 108.1L215.3 108.1L215.9 109.3L210.0 107.5L215.9 105.7L215.3 106.9L215.9 106.9ZM233.2 108.1L232.5 108.0L232.9 109.4L227.1 106.0L233.8 105.6L232.8 106.7L233.5 106.9ZM250.5 108.1L249.9 107.8L249.9 109.3L244.6 104.7L251.6 105.7L250.4 106.6L251.0 106.9ZM267.8 108.1L267.2 107.7L267.0 109.2L262.5 103.7L269.3 105.8L268.0 106.6L268.6 106.9ZM285.1 108.0L284.6 107.5L284.2 109.0L280.5 102.9L287.0 106.0L285.6 106.5L286.1 107.0ZM302.5 108.0L302.0 107.4L301.4 108.9L298.5 102.1L304.7 106.1L303.1 106.5L303.6 107.0ZM319.9 107.9L319.3 107.1L318.5 108.6L315.9 101.4L322.0 105.9L320.4 106.2L321.0 107.1ZM337.3 107.9L336.9 107.3L336.1 108.7L333.7 101.5L339.6 106.2L338.0 106.4L338.5 107.1ZM354.7 107.9L354.4 107.3L353.5 108.6L351.7 101.5L357.1 106.4L355.6 106.5L355.9 107.1ZM372.2 107.8L371.9 107.2L371.0 108.3L370.0 101.8L374.5 106.7L373.1 106.7L373.3 107.2ZM389.7 107.7L389.5 107.2L388.7 108.1L388.2 102.6L391.7 106.9L390.5 106.8L390.7 107.3ZM407.2 107.6L407.1 107.2L406.4 107.9L406.3 103.3L408.9 107.1L407.9 106.9L408.0 107.4ZM424.7 107.6L424.6 107.2L424.0 107.7L424.2 103.8L426.1 107.3L425.3 107.1L425.4 107.4ZM442.2 107.5L442.1 107.2L441.5 107.6L442.2 104.3L443.4 107.4L442.8 107.1L442.8 107.5ZM459.6 107.5L459.6 107.2L459.1 107.5L459.9 104.7L460.7 107.5L460.2 107.2L460.2 107.5ZM477.1 107.5L477.1 107.2L476.6 107.4L477.7 105.0L478.1 107.6L477.6 107.3L477.6 107.5ZM494.6 107.4L494.6 107.2L494.1 107.3L495.5 105.3L495.4 107.7L495.1 107.4L495.0 107.6ZM512.0 107.4L512.1 107.2L511.7 107.2L513.3 105.8L512.7 107.8L512.5 107.4L512.4 107.6ZM529.5 107.4L529.6 107.3L529.3 107.1L530.9 106.4L530.0 107.9L529.9 107.5L529.7 107.6ZM547.0 107.4L547.1 107.3L546.9 107.1L548.5 107.0L547.2 107.9L547.3 107.6L547.1 107.6ZM564.5 107.3L564.7 107.4L564.5 107.0L566.0 107.7L564.4 107.9L564.6 107.7L564.5 107.6ZM582.0 107.3L582.2 107.4L582.2 107.0L583.5 108.4L581.6 108.0L582.0 107.8L581.8 107.7ZM599.5 107.3L599.7 107.5L599.8 107.0L601.0 109.2L598.8 108.0L599.3 107.8L599.2 107.7ZM617.0 107.3L617.2 107.6L617.5 107.0L618.4 109.8L616.1 108.0L616.7 107.9L616.5 107.7ZM634.5 107.3L634.7 107.6L635.1 107.0L635.8 110.4L633.3 108.0L634.1 108.0L633.9 107.7ZM652.0 107.3L652.1 107.7L652.6 107.0L653.2 110.7L650.7 108.0L651.5 108.0L651.3 107.7ZM669.4 107.4L669.5 107.7L670.0 107.1L670.5 110.7L668.1 107.9L668.9 108.0L668.7 107.6ZM686.8 107.4L686.9 107.7L687.4 107.2L687.5 110.6L685.6 107.8L686.3 107.9L686.2 107.6ZM704.2 107.5L704.2 107.7L704.6 107.4L704.2 109.9L703.2 107.6L703.7 107.8L703.7 107.5ZM164.0 145.5L163.5 146.0L164.9 146.7L158.0 149.5L162.3 143.3L162.6 144.9L163.2 144.4ZM181.3 145.6L178.8 146.9L180.0 147.9L172.6 149.1L178.1 144.0L178.1 145.6L180.7 144.3ZM198.6 145.7L193.8 146.9L194.8 148.1L187.3 147.8L193.8 143.9L193.4 145.5L198.3 144.3ZM215.9 145.7L209.4 145.9L210.1 147.3L202.8 145.3L210.0 142.9L209.3 144.4L215.9 144.3ZM233.2 145.7L225.9 144.0L226.3 145.6L219.7 141.9L227.2 141.4L226.2 142.6L233.5 144.3ZM250.4 145.6L243.4 142.4L243.4 144.0L237.7 139.0L245.2 140.1L244.0 141.1L251.1 144.3ZM267.8 145.6L261.5 141.4L261.3 143.0L256.6 137.1L263.8 139.4L262.4 140.2L268.6 144.4ZM285.1 145.5L279.9 140.7L279.5 142.2L275.6 135.7L282.4 139.0L280.9 139.6L286.1 144.4ZM302.5 145.4L298.0 140.2L297.4 141.7L294.4 134.7L300.7 138.8L299.1 139.2L303.6 144.5ZM319.9 145.4L315.4 139.5L314.7 141.0L312.1 133.9L318.2 138.4L316.6 138.7L321.0 144.5ZM337.3 145.4L333.4 140.0L332.6 141.4L330.1 134.3L336.2 138.9L334.6 139.1L338.5 144.6ZM354.7 145.4L351.5 140.3L350.6 141.6L348.6 134.4L354.3 139.3L352.7 139.5L355.9 144.6ZM372.1 145.3L370.0 141.1L369.0 142.4L367.6 135.0L372.9 140.4L371.3 140.5L373.4 144.7ZM389.5 145.3L388.4 142.6L387.3 143.9L386.4 136.3L391.3 142.1L389.7 142.0L390.9 144.7ZM406.9 145.2L406.5 144.1L405.4 145.2L405.1 137.7L409.5 143.8L407.9 143.6L408.3 144.7ZM424.4 145.1L424.3 144.5L423.1 145.4L423.5 138.6L427.0 144.5L425.5 144.2L425.7 144.8ZM441.9 145.0L441.9 144.5L440.8 145.2L441.9 139.4L444.2 144.8L443.0 144.4L443.0 144.9ZM459.4 145.0L459.4 144.5L458.5 145.0L459.9 140.1L461.4 145.0L460.4 144.5L460.4 145.0ZM476.9 144.9L477.0 144.5L476.0 144.8L478.1 140.7L478.6 145.2L477.8 144.6L477.8 145.1ZM494.4 144.8L494.5 144.5L493.6 144.5L496.2 141.2L495.9 145.4L495.3 144.7L495.1 145.1ZM511.9 144.8L512.1 144.5L511.3 144.4L514.2 141.9L513.1 145.6L512.7 144.9L512.5 145.2ZM529.4 144.7L529.7 144.5L529.0 144.2L532.1 143.0L530.2 145.7L530.1 145.0L529.8 145.2ZM547.0 144.7L547.2 144.6L546.8 144.2L549.8 144.0L547.3 145.8L547.4 145.2L547.2 145.3ZM564.5 144.7L564.8 144.7L564.6 144.1L567.4 145.3L564.4 145.9L564.7 145.3L564.5 145.3ZM582.1 144.7L582.4 144.8L582.4 144.1L585.0 146.6L581.4 145.9L582.1 145.5L581.8 145.3ZM599.6 144.7L600.0 145.0L600.2 144.0L602.5 147.9L598.5 145.9L599.4 145.6L599.1 145.3ZM617.2 144.7L617.5 145.1L618.0 144.0L619.9 149.0L615.6 145.9L616.7 145.7L616.4 145.3ZM634.7 144.7L635.0 145.2L635.7 144.0L637.3 150.1L632.7 145.9L634.0 145.8L633.7 145.3ZM652.2 144.7L652.5 145.3L653.4 144.1L654.6 150.8L649.9 145.9L651.4 145.9L651.1 145.3ZM669.7 144.7L669.9 145.3L670.8 144.2L671.6 150.9L667.3 145.8L668.7 145.8L668.5 145.2ZM687.1 144.8L687.3 145.4L688.3 144.5L688.2 150.9L684.7 145.5L686.1 145.7L685.9 145.2ZM704.4 145.0L704.4 145.5L705.4 144.9L704.1 150.0L702.4 145.0L703.4 145.5L703.4 145.0ZM164.1 183.0L159.8 187.1L161.3 187.7L154.6 191.2L158.3 184.6L158.8 186.1L163.1 182.0ZM181.4 183.1L173.4 188.0L174.8 188.9L167.5 190.9L172.5 185.2L172.7 186.8L180.6 181.9ZM198.7 183.2L187.0 187.0L188.2 188.2L180.6 188.4L186.8 184.1L186.6 185.7L198.2 181.8ZM215.9 183.2L201.7 184.0L202.5 185.4L195.1 183.6L202.3 181.0L201.6 182.5L215.9 181.8ZM233.2 183.2L218.1 179.6L218.4 181.2L211.9 177.4L219.4 176.9L218.4 178.2L233.5 181.8ZM250.4 183.1L236.2 175.8L236.2 177.4L230.7 172.2L238.2 173.6L236.8 174.5L251.1 181.8ZM267.7 183.1L255.5 173.7L255.2 175.3L250.8 169.2L257.9 171.9L256.4 172.6L268.6 181.9ZM285.1 183.0L275.2 172.9L274.7 174.5L271.2 167.8L277.8 171.4L276.3 171.9L286.1 182.0ZM302.5 182.9L294.4 172.8L293.7 174.3L290.8 167.3L297.1 171.6L295.5 171.9L303.6 182.0ZM319.9 182.9L311.9 172.7L311.2 174.1L308.4 167.1L314.6 171.4L313.0 171.8L321.0 182.0ZM337.3 182.9L330.0 173.7L329.3 175.1L326.5 168.1L332.7 172.4L331.1 172.8L338.5 182.0ZM354.7 182.9L348.3 174.2L347.6 175.7L345.0 168.6L351.1 173.1L349.5 173.4L355.9 182.0ZM372.1 182.9L367.5 175.4L366.7 176.8L364.7 169.5L370.4 174.5L368.8 174.7L373.4 182.1ZM389.6 182.8L386.6 177.4L385.7 178.8L384.1 171.3L389.5 176.7L387.9 176.7L390.8 182.1ZM407.0 182.8L405.4 179.3L404.4 180.6L403.5 173.1L408.4 178.8L406.8 178.8L408.3 182.2ZM424.4 182.7L423.7 180.7L422.6 181.8L422.5 174.3L426.7 180.5L425.1 180.3L425.7 182.3ZM441.8 182.6L441.7 181.8L440.3 182.8L441.4 175.3L444.6 182.1L443.1 181.6L443.2 182.4ZM459.3 182.5L459.3 181.9L458.0 182.5L459.9 176.2L461.8 182.5L460.5 181.9L460.5 182.5ZM476.8 182.3L476.9 181.8L475.7 182.1L478.7 176.9L479.0 182.9L478.0 182.1L477.9 182.6ZM494.3 182.2L494.5 181.7L493.3 181.7L497.3 177.6L496.2 183.2L495.5 182.2L495.3 182.7ZM511.8 182.1L512.2 181.7L511.0 181.4L515.8 178.6L513.4 183.5L512.9 182.4L512.6 182.8ZM529.4 182.0L529.8 181.8L528.9 181.2L534.0 179.9L530.4 183.8L530.3 182.7L529.9 182.9ZM546.9 182.0L547.4 181.9L546.7 181.0L551.9 181.3L547.4 183.9L547.7 182.8L547.2 183.0ZM564.5 182.0L565.0 182.0L564.6 180.9L569.6 182.9L564.4 184.0L565.0 183.0L564.4 183.0ZM582.1 181.9L582.7 182.1L582.5 180.9L587.3 184.6L581.3 184.1L582.2 183.2L581.7 183.0ZM599.7 181.9L600.3 182.3L600.5 180.8L604.8 186.2L598.2 184.1L599.5 183.4L599.0 183.0ZM617.3 181.9L618.0 182.7L618.5 181.1L622.3 187.7L615.5 184.3L617.0 183.7L616.3 183.0ZM634.8 182.0L636.1 183.7L636.8 182.2L639.7 189.2L633.4 185.0L635.0 184.6L633.6 182.9ZM652.2 182.1L653.8 184.4L654.6 183.0L656.9 190.2L651.0 185.5L652.6 185.2L651.0 182.9ZM669.7 182.1L671.1 184.7L672.1 183.4L673.7 190.8L668.3 185.5L669.9 185.4L668.4 182.8ZM687.2 182.2L688.2 185.1L689.3 183.9L689.7 191.5L685.2 185.4L686.8 185.6L685.8 182.7ZM704.7 182.4L704.8 184.6L706.2 183.7L704.6 191.1L701.9 184.1L703.4 184.7L703.2 182.5ZM164.2 220.4L158.6 228.8L160.2 229.0L154.4 233.8L156.6 226.6L157.4 228.0L163.0 219.6ZM181.5 220.5L172.3 229.6L173.8 230.2L167.1 233.7L170.8 227.1L171.3 228.6L180.5 219.5ZM198.8 220.6L186.1 227.4L187.5 228.4L180.1 229.9L185.4 224.5L185.5 226.2L198.1 219.3ZM216.0 220.7L201.0 222.3L201.9 223.6L194.5 222.2L201.5 219.3L200.9 220.8L215.8 219.2ZM233.1 220.7L217.0 215.3L217.2 216.9L211.0 212.6L218.6 212.8L217.4 214.0L233.5 219.3ZM250.3 220.6L234.6 209.2L234.3 210.8L229.7 204.8L236.8 207.3L235.4 208.1L251.2 219.4ZM267.7 220.5L253.6 206.0L253.1 207.5L249.6 200.8L256.2 204.5L254.7 205.0L268.7 219.5ZM285.0 220.4L273.5 205.3L272.7 206.7L270.1 199.7L276.2 204.1L274.6 204.4L286.2 219.5ZM302.4 220.4L292.6 206.0L291.8 207.5L289.5 200.3L295.4 205.0L293.8 205.2L303.6 219.6ZM319.9 220.4L309.3 206.8L308.6 208.2L305.8 201.2L312.0 205.5L310.4 205.9L321.0 219.5ZM337.4 220.5L326.7 208.5L326.1 210.0L322.9 203.2L329.4 207.1L327.8 207.6L338.4 219.5ZM354.8 220.5L344.9 209.5L344.3 211.0L341.1 204.2L347.5 208.1L346.0 208.5L355.9 219.5ZM372.2 220.4L364.8 211.0L364.1 212.5L361.3 205.4L367.5 209.8L365.9 210.1L373.3 219.5ZM389.6 220.4L384.4 213.3L383.7 214.7L381.2 207.6L387.2 212.2L385.6 212.4L390.8 219.5ZM407.0 220.3L404.1 215.5L403.2 216.9L401.3 209.5L406.9 214.6L405.3 214.7L408.2 219.6ZM424.4 220.3L423.0 217.1L422.0 218.4L421.1 210.8L426.0 216.6L424.3 216.5L425.7 219.7ZM441.8 220.1L441.4 218.5L440.2 219.5L440.9 212.0L444.4 218.7L442.9 218.2L443.2 219.8ZM459.2 220.0L459.2 219.3L457.8 220.0L459.9 213.1L462.0 220.0L460.6 219.3L460.6 220.0ZM476.7 219.8L476.9 219.1L475.5 219.3L479.4 213.8L479.2 220.6L478.2 219.6L478.0 220.2ZM494.2 219.6L494.6 219.0L493.1 218.8L498.8 214.6L496.4 221.2L495.7 219.8L495.3 220.4ZM511.8 219.4L512.3 219.0L510.9 218.3L517.9 215.6L513.5 221.7L513.2 220.1L512.6 220.5ZM529.4 219.3L530.2 219.0L529.0 217.9L536.5 217.1L530.6 221.9L530.7 220.3L529.9 220.6ZM546.9 219.3L548.1 219.1L547.1 217.7L554.7 218.6L547.9 222.0L548.4 220.5L547.2 220.7ZM564.5 219.2L566.1 219.3L565.5 217.8L572.6 220.4L565.2 222.2L566.0 220.8L564.4 220.7ZM582.1 219.3L584.4 219.9L584.1 218.3L590.5 222.3L582.9 222.5L584.0 221.3L581.7 220.7ZM599.7 219.3L602.5 220.7L602.4 219.1L608.0 224.2L600.6 223.0L601.8 222.0L599.0 220.6ZM617.2 219.4L620.5 221.6L620.7 220.0L625.5 225.8L618.3 223.6L619.7 222.8L616.4 220.6ZM634.7 219.4L638.5 222.8L638.9 221.2L643.0 227.6L636.1 224.5L637.6 223.9L633.7 220.5ZM652.2 219.5L656.3 223.8L656.8 222.3L660.2 229.0L653.7 225.3L655.2 224.8L651.1 220.5ZM669.6 219.5L673.6 224.6L674.3 223.1L677.0 230.2L670.8 225.8L672.4 225.5L668.5 220.4ZM687.1 219.6L690.5 225.8L691.4 224.5L693.0 231.9L687.6 226.6L689.2 226.5L685.9 220.3ZM704.6 219.8L706.6 226.3L707.8 225.2L707.8 232.7L703.6 226.4L705.2 226.7L703.2 220.2ZM164.3 257.6L163.0 268.6L164.5 268.0L161.4 275.0L160.2 267.5L161.5 268.4L162.9 257.4ZM181.7 257.6L179.4 268.9L181.0 268.4L177.3 275.1L176.7 267.6L178.0 268.6L180.3 257.3ZM199.1 257.7L196.3 264.6L197.9 264.5L193.1 270.3L193.9 262.8L194.9 264.1L197.8 257.2ZM216.2 258.1L215.3 258.6L216.6 259.6L209.1 260.7L214.7 255.6L214.7 257.2L215.6 256.8ZM232.8 258.0L229.0 254.0L228.5 255.5L225.1 248.7L231.6 252.5L230.1 253.0L233.8 257.0ZM250.1 257.8L243.6 245.4L242.7 246.7L241.2 239.2L246.5 244.7L244.9 244.7L251.4 257.1ZM267.5 257.8L259.9 240.8L258.9 242.1L257.9 234.6L262.8 240.3L261.2 240.2L268.8 257.2ZM284.9 257.8L277.1 240.3L276.1 241.6L275.1 234.1L280.1 239.8L278.4 239.7L286.3 257.2ZM302.4 257.8L294.4 241.9L293.4 243.2L292.1 235.8L297.3 241.3L295.7 241.3L303.7 257.1ZM319.9 257.9L308.8 243.5L308.1 244.9L305.4 237.9L311.5 242.3L309.9 242.6L321.0 257.0ZM337.4 258.0L324.6 245.7L324.1 247.2L320.4 240.7L327.2 244.1L325.6 244.7L338.4 256.9ZM354.9 258.0L341.9 246.9L341.5 248.5L337.4 242.1L344.3 245.2L342.8 245.8L355.8 256.9ZM372.3 258.0L362.0 248.5L361.6 250.1L357.8 243.5L364.5 246.9L363.0 247.4L373.3 256.9ZM389.7 258.0L382.2 250.7L381.7 252.3L378.0 245.6L384.8 249.1L383.2 249.7L390.7 256.9ZM407.1 257.9L402.7 252.9L402.1 254.4L399.0 247.5L405.4 251.6L403.8 252.0L408.2 257.0ZM424.4 257.9L422.4 254.7L421.6 256.1L419.5 248.8L425.2 253.7L423.6 253.9L425.7 257.1ZM441.8 257.7L441.4 256.3L440.2 257.4L440.2 249.9L444.4 256.2L442.8 255.9L443.2 257.3ZM459.3 257.5L459.3 256.8L457.9 257.5L459.9 250.9L461.9 257.5L460.6 256.8L460.6 257.5ZM476.8 257.2L477.1 256.6L475.6 256.6L480.4 251.6L479.1 258.4L478.2 257.2L477.9 257.8ZM494.3 256.9L495.2 256.1L493.7 255.5L500.6 252.3L496.6 258.7L496.2 257.2L495.2 258.0ZM511.9 256.8L514.2 255.6L512.9 254.7L520.3 253.4L514.9 258.6L514.8 256.9L512.5 258.1ZM529.4 256.8L533.0 255.8L531.9 254.6L539.5 254.8L533.1 258.8L533.4 257.2L529.8 258.2ZM547.0 256.7L551.4 256.2L550.5 254.9L558.0 256.2L551.0 259.2L551.6 257.7L547.1 258.2ZM564.5 256.7L569.6 256.9L568.9 255.5L576.1 257.9L568.8 259.8L569.5 258.4L564.5 258.2ZM582.0 256.8L587.9 257.8L587.5 256.3L594.2 259.7L586.7 260.5L587.7 259.2L581.8 258.2ZM599.6 256.8L605.8 258.8L605.6 257.2L611.8 261.5L604.2 261.3L605.4 260.2L599.1 258.2ZM617.1 256.8L623.7 259.7L623.6 258.1L629.4 263.1L621.9 262.1L623.1 261.1L616.5 258.1ZM634.6 256.8L641.7 261.0L641.8 259.4L647.0 264.9L639.6 263.1L641.0 262.2L633.8 258.1ZM652.1 256.9L659.5 262.2L659.8 260.6L664.4 266.5L657.2 264.1L658.7 263.3L651.2 258.1ZM669.5 256.9L677.2 263.4L677.6 261.9L681.7 268.2L674.7 265.2L676.2 264.5L668.6 258.0ZM687.0 257.0L694.7 265.5L695.3 264.0L698.6 270.8L692.1 266.9L693.7 266.5L686.0 258.0ZM704.5 257.0L711.8 267.1L712.5 265.7L715.0 272.9L709.0 268.2L710.6 268.0L703.3 257.9ZM164.2 294.5L174.1 306.2L174.7 304.7L177.7 311.7L171.4 307.5L173.0 307.2L163.0 295.4ZM181.5 294.4L196.2 307.2L196.6 305.6L200.6 312.0L193.7 308.9L195.2 308.2L180.6 295.5ZM198.8 294.3L216.9 303.8L216.9 302.2L222.3 307.5L214.9 306.0L216.2 305.1L198.1 295.6ZM216.0 294.2L235.4 296.7L234.9 295.2L241.8 298.3L234.3 299.5L235.2 298.2L215.8 295.7ZM233.1 294.3L251.5 288.3L250.4 287.1L258.0 286.9L251.7 291.3L252.0 289.7L233.5 295.7ZM250.2 294.5L262.8 281.9L261.3 281.4L268.0 277.8L264.4 284.4L263.9 282.9L251.3 295.5ZM267.5 294.7L273.8 279.0L272.2 279.1L276.9 273.2L276.2 280.7L275.1 279.5L268.9 295.2ZM284.9 295.0L285.1 279.6L283.6 280.3L285.9 273.1L288.0 280.4L286.5 279.6L286.3 295.0ZM302.3 295.1L299.3 282.4L298.1 283.4L298.5 275.9L302.3 282.4L300.7 282.1L303.7 294.8ZM319.9 295.4L311.1 284.4L310.4 285.9L307.6 278.9L313.8 283.2L312.2 283.5L321.0 294.5ZM337.5 295.6L324.5 286.2L324.3 287.8L319.7 281.8L326.8 284.3L325.4 285.0L338.3 294.4ZM355.0 295.6L340.2 287.2L340.1 288.8L334.9 283.3L342.3 285.0L340.9 285.9L355.7 294.3ZM372.4 295.6L360.2 288.5L360.1 290.1L354.9 284.6L362.3 286.3L360.9 287.2L373.1 294.3ZM389.8 295.6L380.5 290.1L380.4 291.8L375.3 286.2L382.6 288.0L381.3 288.9L390.6 294.3ZM407.2 295.6L401.8 291.9L401.5 293.5L396.8 287.6L404.0 289.9L402.6 290.7L408.0 294.4ZM424.6 295.5L422.3 293.5L421.9 295.0L418.0 288.6L424.8 291.8L423.3 292.4L425.5 294.4ZM441.9 295.3L441.6 294.7L440.8 295.8L439.6 289.4L444.2 294.1L442.8 294.1L443.0 294.7ZM459.4 295.0L459.4 294.5L458.5 294.9L460.0 290.1L461.4 295.0L460.4 294.5L460.4 295.0ZM476.9 294.6L477.3 294.1L476.0 293.8L481.3 290.6L478.6 296.1L478.2 294.9L477.8 295.4ZM494.4 294.3L496.2 293.4L494.9 292.5L502.4 291.2L496.8 296.4L496.8 294.7L495.1 295.6ZM512.0 294.3L516.3 293.0L515.2 291.8L522.8 291.9L516.4 296.0L516.7 294.4L512.4 295.7ZM529.5 294.2L535.9 293.3L535.0 291.9L542.5 293.0L535.6 296.2L536.1 294.7L529.7 295.7ZM547.0 294.2L554.7 293.7L553.9 292.3L561.2 294.0L554.1 296.7L554.8 295.2L547.1 295.7ZM564.5 294.2L573.1 294.4L572.4 293.0L579.6 295.3L572.3 297.3L573.0 295.9L564.5 295.7ZM582.0 294.2L591.5 295.2L590.9 293.7L597.9 296.6L590.5 298.0L591.3 296.7L581.8 295.7ZM599.5 294.3L609.3 296.0L608.8 294.5L615.5 297.9L608.0 298.8L609.0 297.5L599.2 295.7ZM617.0 294.3L627.1 296.8L626.7 295.2L633.2 299.1L625.7 299.5L626.7 298.2L616.6 295.7ZM634.4 294.3L645.0 297.8L644.8 296.2L650.9 300.6L643.4 300.3L644.5 299.2L634.0 295.7ZM651.9 294.3L663.0 298.9L662.9 297.3L668.8 302.0L661.2 301.3L662.5 300.2L651.4 295.6ZM669.4 294.3L681.3 300.2L681.3 298.6L686.8 303.8L679.4 302.5L680.7 301.5L668.7 295.6ZM686.9 294.3L700.2 302.5L700.3 300.9L705.3 306.6L698.0 304.6L699.4 303.8L686.1 295.6ZM704.3 294.4L719.6 304.9L719.8 303.3L724.6 309.2L717.4 306.8L718.8 306.1L703.5 295.6ZM163.9 331.8L182.7 340.3L182.6 338.7L188.3 343.7L180.8 342.7L182.1 341.6L163.3 333.1ZM181.2 331.8L206.8 339.9L206.6 338.3L212.8 342.6L205.3 342.4L206.4 341.3L180.8 333.2ZM198.6 331.7L229.6 336.8L229.2 335.3L236.0 338.6L228.5 339.5L229.4 338.2L198.3 333.2ZM215.9 331.7L248.8 333.4L248.2 331.9L255.3 334.5L247.9 336.3L248.7 334.9L215.9 333.2ZM233.2 331.8L289.7 318.6L288.6 317.4L296.2 317.9L289.6 321.6L290.0 320.0L233.5 333.2ZM250.5 331.8L289.8 319.2L288.6 318.0L296.2 317.9L290.0 322.2L290.2 320.6L251.0 333.2ZM267.8 331.8L290.1 320.2L288.8 319.3L296.2 317.9L290.8 323.1L290.7 321.5L268.5 333.1ZM285.0 332.0L291.8 322.7L290.2 322.5L296.2 317.9L293.7 325.0L293.0 323.6L286.2 332.9ZM302.3 332.6L300.8 326.8L299.6 327.8L299.9 320.3L303.8 326.8L302.2 326.4L303.7 332.3ZM320.1 333.1L312.5 328.1L312.3 329.8L307.5 324.0L314.7 326.1L313.3 326.9L320.9 331.9ZM337.6 333.1L326.0 328.4L326.2 330.0L320.3 325.3L327.8 326.0L326.6 327.1L338.2 331.8ZM355.1 333.2L339.8 328.9L340.1 330.5L333.7 326.4L341.3 326.3L340.2 327.5L355.5 331.8ZM372.6 333.2L359.3 329.6L359.6 331.2L353.2 327.2L360.7 327.0L359.7 328.2L372.9 331.8ZM390.0 333.2L379.5 330.4L379.8 332.0L373.4 328.1L380.9 327.8L379.9 329.0L390.4 331.8ZM407.4 333.2L401.2 331.3L401.5 332.9L395.2 328.8L402.7 328.8L401.6 329.9L407.8 331.8ZM424.8 333.1L422.7 332.3L422.8 333.9L416.9 329.3L424.4 329.9L423.2 331.0L425.3 331.8ZM442.2 332.8L441.9 332.5L441.6 333.5L439.2 329.7L443.3 331.5L442.4 331.9L442.8 332.1ZM459.7 332.5L459.7 332.2L459.2 332.4L460.0 330.0L460.6 332.5L460.2 332.2L460.2 332.5ZM477.1 332.0L477.6 331.8L476.7 331.1L482.0 330.3L478.0 333.9L478.0 332.7L477.6 332.9ZM494.6 331.8L497.2 331.2L496.1 329.9L503.7 330.6L497.0 334.2L497.5 332.6L494.9 333.2ZM512.1 331.7L518.1 331.0L517.2 329.7L524.6 330.9L517.7 334.0L518.2 332.5L512.3 333.2ZM529.6 331.7L538.2 331.2L537.3 329.8L544.7 331.5L537.6 334.1L538.2 332.6L529.7 333.2ZM547.0 331.7L557.2 331.5L556.4 330.0L563.7 332.0L556.5 334.4L557.2 332.9L547.1 333.2ZM564.5 331.7L575.7 331.8L575.0 330.4L582.2 332.6L574.9 334.7L575.7 333.3L564.5 333.2ZM581.9 331.7L594.2 332.3L593.6 330.8L600.7 333.3L593.4 335.1L594.1 333.7L581.9 333.2ZM599.4 331.7L612.0 332.7L611.3 331.2L618.4 334.0L611.0 335.6L611.8 334.2L599.3 333.2ZM616.9 331.7L629.7 333.1L629.2 331.6L636.1 334.6L628.7 336.0L629.6 334.6L616.7 333.2ZM634.3 331.7L647.7 333.7L647.2 332.2L654.0 335.4L646.5 336.5L647.4 335.1L634.1 333.2ZM651.8 331.8L665.9 334.4L665.4 332.8L672.2 336.3L664.6 337.1L665.6 335.8L651.5 333.2ZM669.2 331.8L684.8 335.3L684.4 333.7L691.0 337.4L683.4 338.0L684.4 336.7L668.9 333.2ZM686.7 331.8L704.9 336.9L704.6 335.3L711.0 339.4L703.4 339.5L704.5 338.3L686.3 333.2ZM704.1 331.8L726.8 338.7L726.5 337.1L732.8 341.3L725.2 341.3L726.3 340.1L703.7 333.2ZM163.6 369.2L188.5 368.4L187.7 367.0L195.0 369.0L187.8 371.4L188.5 369.9L163.6 370.7ZM181.0 369.2L215.3 368.4L214.5 367.0L221.8 369.0L214.6 371.3L215.3 369.8L181.0 370.7ZM198.4 369.2L241.3 368.4L240.6 366.9L247.9 369.0L240.7 371.3L241.4 369.8L198.5 370.7ZM215.9 369.2L261.4 368.4L260.6 366.9L267.9 369.0L260.7 371.3L261.4 369.8L215.9 370.7ZM233.3 369.2L277.7 368.4L276.9 366.9L284.2 369.0L277.0 371.3L277.7 369.8L233.3 370.7ZM250.7 369.2L288.8 368.4L288.1 367.0L295.3 369.0L288.2 371.3L288.8 369.8L250.8 370.7ZM268.2 369.2L293.3 368.4L292.6 367.0L299.9 369.0L292.7 371.4L293.4 369.9L268.2 370.7ZM285.6 369.2L298.6 368.6L297.8 367.2L305.1 369.0L298.0 371.5L298.6 370.0L285.6 370.7ZM302.9 369.8L303.1 369.7L302.7 369.5L304.5 369.0L303.3 370.4L303.3 370.0L303.1 370.1ZM320.4 370.7L319.7 370.5L320.1 372.0L313.5 368.9L320.8 367.9L319.9 369.2L320.6 369.3ZM337.9 370.7L328.1 370.3L328.8 371.8L321.6 369.3L328.9 367.4L328.2 368.8L337.9 369.2ZM355.3 370.7L340.5 370.3L341.2 371.8L334.0 369.4L341.3 367.4L340.5 368.9L355.3 369.2ZM372.7 370.7L359.4 370.4L360.1 371.8L352.9 369.5L360.2 367.5L359.5 368.9L372.8 369.2ZM390.2 370.7L379.3 370.5L380.0 371.9L372.8 369.6L380.1 367.6L379.4 369.0L390.2 369.2ZM407.6 370.7L401.1 370.5L401.8 372.0L394.6 369.6L401.9 367.6L401.2 369.1L407.6 369.2ZM425.0 370.7L423.0 370.6L423.6 372.1L416.5 369.7L423.8 367.7L423.0 369.2L425.1 369.2ZM442.5 370.3L442.1 370.3L442.4 371.0L439.0 369.7L442.6 368.9L442.2 369.6L442.5 369.6ZM460.6 370.0L460.3 370.6L459.5 370.6L459.2 370.0L459.5 369.3L460.3 369.3ZM477.3 369.5L477.8 369.5L477.3 368.5L482.3 369.8L477.4 371.4L477.8 370.4L477.4 370.5ZM494.8 369.2L497.7 369.2L497.0 367.7L504.3 369.8L497.0 372.1L497.7 370.6L494.8 370.7ZM512.2 369.2L518.9 369.2L518.2 367.7L525.4 369.8L518.2 372.1L518.9 370.6L512.2 370.7ZM529.6 369.2L539.1 369.2L538.4 367.7L545.7 369.9L538.4 372.1L539.2 370.6L529.6 370.7ZM547.1 369.2L558.3 369.2L557.5 367.8L564.8 369.9L557.5 372.1L558.3 370.7L547.1 370.7ZM564.5 369.2L576.8 369.2L576.1 367.8L583.3 370.0L576.1 372.1L576.8 370.7L564.5 370.7ZM581.9 369.2L595.4 369.3L594.7 367.8L601.9 370.0L594.6 372.2L595.4 370.7L581.9 370.7ZM599.4 369.2L613.1 369.3L612.4 367.9L619.6 370.1L612.4 372.2L613.1 370.8L599.3 370.7ZM616.8 369.2L630.9 369.4L630.2 367.9L637.4 370.1L630.1 372.3L630.9 370.8L616.8 370.7ZM634.2 369.2L648.8 369.4L648.1 368.0L655.3 370.2L648.1 372.3L648.8 370.9L634.2 370.7ZM651.6 369.2L667.1 369.5L666.4 368.0L673.6 370.3L666.3 372.4L667.1 370.9L651.6 370.7ZM669.1 369.2L686.2 369.6L685.5 368.1L692.7 370.5L685.5 372.5L686.2 371.1L669.1 370.7ZM686.5 369.2L706.9 369.8L706.3 368.3L713.4 370.7L706.1 372.7L706.9 371.3L686.5 370.7ZM704.0 369.2L729.9 370.0L729.2 368.6L736.4 371.0L729.1 372.9L729.9 371.5L703.9 370.7ZM163.4 406.8L186.4 399.1L185.2 398.0L192.8 397.8L186.6 402.1L186.8 400.5L163.8 408.1ZM180.9 406.8L211.5 400.1L210.5 398.9L218.0 399.5L211.4 403.1L211.8 401.5L181.2 408.2ZM198.4 406.7L235.1 402.7L234.2 401.3L241.7 402.7L234.7 405.6L235.3 404.1L198.5 408.2ZM215.9 406.7L256.2 405.4L255.5 404.0L262.8 406.0L255.6 408.4L256.3 406.9L215.9 408.2ZM233.4 406.7L293.3 417.2L292.8 415.7L299.6 419.1L292.1 420.0L293.0 418.7L233.2 408.2ZM250.9 406.8L293.4 416.8L293.0 415.3L299.6 419.1L292.0 419.5L293.1 418.3L250.6 408.2ZM268.4 406.8L293.7 416.1L293.6 414.5L299.6 419.1L292.0 418.6L293.2 417.5L267.9 408.1ZM286.1 406.9L295.0 414.3L295.4 412.8L299.6 419.1L292.6 416.1L294.1 415.5L285.1 408.0ZM303.8 407.5L303.4 411.1L304.9 410.5L302.1 417.6L300.6 410.1L302.0 411.0L302.3 407.4ZM320.7 408.1L313.7 410.9L314.9 412.0L307.4 412.7L313.3 408.0L313.2 409.6L320.2 406.8ZM338.1 408.2L326.9 411.8L328.1 412.9L320.5 413.1L326.7 408.8L326.5 410.4L337.7 406.8ZM355.5 408.2L340.1 411.5L341.2 412.7L333.6 412.1L340.2 408.5L339.8 410.1L355.2 406.8ZM372.9 408.2L359.5 410.9L360.5 412.2L352.9 411.5L359.6 407.9L359.2 409.5L372.6 406.8ZM390.3 408.2L379.6 410.3L380.6 411.6L373.1 410.9L379.8 407.3L379.3 408.9L390.0 406.7ZM407.8 408.2L401.5 409.6L402.5 410.8L394.9 410.3L401.5 406.6L401.1 408.2L407.5 406.8ZM425.3 408.2L423.2 408.8L424.3 410.0L416.7 409.9L423.0 405.8L422.8 407.4L424.8 406.8ZM442.7 407.8L442.4 408.0L443.1 408.5L439.1 409.6L441.8 406.4L441.9 407.3L442.3 407.1ZM460.1 407.5L460.1 407.6L460.5 407.4L460.0 409.3L459.3 407.5L459.7 407.7L459.7 407.5ZM477.5 407.0L478.0 407.2L477.8 406.0L482.1 409.1L476.8 408.9L477.6 408.1L477.2 407.9ZM494.9 406.7L497.6 407.2L497.1 405.6L503.9 408.9L496.4 409.9L497.4 408.6L494.7 408.2ZM512.3 406.7L518.5 407.3L517.9 405.8L525.0 408.6L517.5 410.1L518.4 408.8L512.1 408.2ZM529.7 406.7L538.6 407.2L538.0 405.7L545.1 408.2L537.7 410.0L538.5 408.6L529.6 408.2ZM547.1 406.7L557.6 407.0L556.9 405.5L564.1 407.8L556.8 409.8L557.6 408.4L547.0 408.2ZM564.5 406.7L576.1 406.7L575.4 405.2L582.7 407.3L575.4 409.6L576.1 408.1L564.5 408.2ZM581.9 406.7L594.6 406.3L593.9 404.9L601.2 406.8L594.0 409.2L594.7 407.8L581.9 408.2ZM599.3 406.7L612.3 406.0L611.5 404.6L618.9 406.3L611.8 408.9L612.4 407.4L599.4 408.2ZM616.7 406.7L630.1 405.6L629.2 404.3L636.6 405.8L629.6 408.6L630.2 407.1L616.8 408.2ZM634.1 406.7L648.0 405.2L647.1 403.8L654.5 405.2L647.6 408.2L648.1 406.6L634.3 408.2ZM651.5 406.7L666.2 404.7L665.2 403.4L672.7 404.5L665.9 407.7L666.4 406.1L651.7 408.2ZM668.9 406.7L685.1 403.9L684.1 402.6L691.7 403.5L684.9 406.9L685.4 405.4L669.2 408.2ZM686.3 406.8L705.4 402.7L704.4 401.4L711.9 402.0L705.3 405.7L705.7 404.1L686.6 408.2ZM703.8 406.8L727.7 401.2L726.7 399.9L734.2 400.4L727.6 404.2L728.0 402.6L704.1 408.2ZM163.1 444.4L177.5 432.8L176.1 432.2L183.1 429.3L178.8 435.6L178.4 434.0L164.1 445.5ZM180.7 444.3L202.1 431.7L200.8 430.8L208.1 429.0L203.0 434.5L202.9 432.9L181.4 445.6ZM198.2 444.3L225.2 434.7L224.0 433.6L231.6 433.2L225.5 437.7L225.7 436.0L198.7 445.6ZM215.8 444.2L245.6 441.7L244.7 440.3L252.1 441.8L245.1 444.6L245.7 443.1L216.0 445.7ZM233.5 444.3L262.0 450.4L261.6 448.8L268.2 452.5L260.7 453.1L261.7 451.8L233.2 445.7ZM251.1 444.3L271.7 457.4L271.8 455.8L276.8 461.5L269.5 459.4L270.9 458.6L250.4 445.6ZM268.8 444.5L280.0 460.8L280.8 459.3L283.1 466.5L277.2 461.8L278.8 461.6L267.6 445.4ZM286.3 444.8L289.1 460.1L290.4 459.2L289.6 466.7L286.1 459.9L287.7 460.4L284.9 445.1ZM303.8 445.1L302.0 456.8L303.6 456.3L300.3 463.2L299.3 455.7L300.6 456.6L302.3 444.9ZM321.0 445.4L313.1 455.1L314.7 455.4L308.4 459.7L311.3 452.7L312.0 454.2L319.9 444.5ZM338.3 445.6L325.6 453.8L327.0 454.6L319.8 456.7L324.7 450.9L324.8 452.6L337.5 444.4ZM355.6 445.6L340.6 453.0L341.9 454.0L334.5 455.2L340.0 450.1L340.0 451.7L355.0 444.3ZM373.1 445.6L360.5 451.8L361.8 452.8L354.4 454.1L359.9 448.9L359.9 450.5L372.4 444.3ZM390.5 445.6L380.9 450.4L382.1 451.4L374.7 452.6L380.2 447.5L380.2 449.1L389.9 444.3ZM408.0 445.6L402.3 448.8L403.7 449.7L396.3 451.4L401.5 445.9L401.6 447.5L407.3 444.3ZM425.5 445.5L423.3 447.2L424.8 447.9L417.7 450.6L422.1 444.4L422.4 446.0L424.6 444.4ZM443.0 445.3L442.7 445.7L443.9 445.9L439.5 449.9L441.0 444.1L441.7 445.1L442.0 444.7ZM460.3 445.0L460.3 445.4L461.2 444.9L460.0 449.2L458.6 445.0L459.5 445.4L459.5 445.0ZM477.7 444.5L478.1 444.9L478.5 443.7L481.5 448.7L476.2 446.2L477.4 445.8L477.0 445.4ZM495.0 444.3L497.0 445.1L496.9 443.5L502.7 448.3L495.2 447.5L496.4 446.4L494.5 445.6ZM512.4 444.3L517.1 445.4L516.8 443.8L523.3 447.6L515.8 448.0L516.8 446.8L512.0 445.7ZM529.7 444.2L536.7 445.1L536.2 443.6L543.1 446.7L535.6 447.9L536.5 446.6L529.5 445.7ZM547.1 444.2L555.5 444.7L554.8 443.2L562.0 445.8L554.6 447.6L555.4 446.1L547.0 445.7ZM564.5 444.2L573.8 444.1L573.0 442.6L580.3 444.7L573.1 447.0L573.8 445.5L564.5 445.7ZM581.9 444.2L592.1 443.4L591.3 442.0L598.7 443.5L591.7 446.3L592.3 444.8L582.0 445.7ZM599.2 444.2L609.8 442.6L608.9 441.3L616.4 442.4L609.5 445.6L610.0 444.1L599.5 445.7ZM616.6 444.2L627.5 441.9L626.5 440.7L634.1 441.3L627.4 444.9L627.8 443.4L616.9 445.7ZM634.0 444.3L645.4 441.1L644.3 439.9L651.8 440.0L645.4 444.1L645.7 442.5L634.4 445.7ZM651.4 444.3L663.3 440.1L662.2 439.0L669.7 438.7L663.6 443.1L663.8 441.5L651.9 445.6ZM668.8 444.3L681.7 438.8L680.5 437.8L688.0 437.0L682.2 441.8L682.3 440.2L669.3 445.6ZM686.2 444.3L700.8 436.7L699.5 435.7L707.0 434.3L701.5 439.6L701.5 438.0L686.8 445.6ZM703.6 444.3L720.9 434.4L719.5 433.5L726.9 431.8L721.7 437.3L721.6 435.6L704.3 445.6ZM162.9 482.4L163.5 471.2L162.0 471.8L164.6 464.7L166.4 472.1L165.0 471.3L164.3 482.5ZM180.3 482.4L180.9 471.0L179.4 471.6L182.0 464.5L183.8 471.8L182.3 471.0L181.8 482.5ZM197.7 482.4L198.0 475.8L196.5 476.5L198.9 469.3L200.8 476.6L199.4 475.8L199.2 482.5ZM215.6 482.5L215.5 482.1L214.9 482.5L215.7 479.1L216.9 482.4L216.2 482.1L216.2 482.4ZM234.0 482.6L233.6 484.9L235.1 484.5L231.6 491.2L230.9 483.6L232.1 484.6L232.6 482.3ZM251.5 482.6L248.7 494.6L250.3 494.2L246.6 500.8L246.1 493.2L247.3 494.2L250.0 482.3ZM268.9 482.7L264.2 499.3L265.8 499.0L261.7 505.4L261.6 497.8L262.8 498.9L267.5 482.3ZM286.3 482.7L280.3 499.8L281.9 499.6L277.5 505.7L277.8 498.1L279.0 499.3L284.9 482.2ZM303.7 482.8L296.9 498.0L298.5 497.9L293.6 503.7L294.6 496.2L295.6 497.4L302.4 482.2ZM321.0 482.9L310.4 496.6L312.0 496.9L305.9 501.3L308.6 494.3L309.3 495.7L319.9 482.0ZM338.4 483.0L325.5 494.6L327.0 495.2L320.2 498.5L324.1 492.0L324.5 493.5L337.4 481.9ZM355.8 483.0L342.3 493.5L343.8 494.2L336.7 496.9L341.1 490.8L341.4 492.4L354.9 481.9ZM373.2 483.0L362.5 491.9L364.0 492.6L357.0 495.5L361.2 489.2L361.6 490.8L372.3 481.9ZM390.7 483.0L382.7 489.8L384.2 490.4L377.3 493.5L381.4 487.1L381.8 488.7L389.7 481.9ZM408.1 483.0L403.5 487.6L405.0 488.1L398.4 491.7L402.0 485.1L402.5 486.6L407.1 481.9ZM425.6 482.9L423.5 485.7L425.1 486.0L419.1 490.6L421.6 483.4L422.4 484.9L424.5 482.0ZM443.2 482.7L442.9 483.6L444.5 483.4L440.1 489.6L440.3 482.0L441.5 483.1L441.8 482.2ZM460.5 482.5L460.5 483.1L461.8 482.4L460.0 488.6L458.1 482.5L459.3 483.1L459.3 482.5ZM477.9 482.1L478.2 482.7L479.0 481.5L480.6 487.9L475.7 483.4L477.1 483.3L476.8 482.8ZM495.2 481.9L496.3 482.7L496.6 481.1L501.1 487.3L494.0 484.6L495.4 483.9L494.3 483.0ZM512.5 481.8L515.3 483.0L515.2 481.4L521.0 486.3L513.5 485.4L514.7 484.3L511.9 483.1ZM529.8 481.8L534.1 482.8L533.7 481.2L540.3 485.0L532.7 485.4L533.8 484.2L529.5 483.2ZM547.1 481.7L552.4 482.3L551.8 480.8L558.8 483.6L551.4 485.1L552.3 483.7L547.0 483.2ZM564.5 481.7L570.4 481.5L569.7 480.1L577.0 482.0L569.8 484.5L570.5 483.0L564.5 483.2ZM581.8 481.7L588.6 480.7L587.7 479.4L595.2 480.4L588.3 483.6L588.8 482.1L582.0 483.2ZM599.2 481.8L606.3 479.8L605.2 478.6L612.8 478.7L606.4 482.7L606.7 481.2L599.5 483.2ZM616.5 481.8L624.0 478.9L622.8 477.8L630.4 477.2L624.4 481.9L624.6 480.2L617.0 483.1ZM633.9 481.8L641.8 477.8L640.5 476.8L648.0 475.5L642.5 480.7L642.5 479.1L634.5 483.1ZM651.3 481.8L659.6 476.7L658.2 475.8L665.5 473.8L660.5 479.5L660.4 477.9L652.0 483.1ZM668.6 481.9L677.3 475.4L675.9 474.7L683.0 472.1L678.5 478.2L678.2 476.6L669.5 483.0ZM686.0 481.9L695.0 473.3L693.5 472.8L700.2 469.3L696.5 475.9L696.0 474.4L687.0 483.0ZM703.4 482.0L712.5 471.5L710.9 471.1L717.3 467.0L714.2 473.9L713.6 472.4L704.5 482.9ZM163.0 520.3L157.9 511.0L157.0 512.4L155.4 505.0L160.8 510.3L159.1 510.3L164.2 519.6ZM180.5 520.4L172.1 510.5L171.5 511.9L168.5 505.0L174.8 509.2L173.3 509.5L181.6 519.5ZM198.1 520.6L186.9 513.3L186.7 514.9L181.8 509.1L189.1 511.2L187.7 512.1L198.9 519.3ZM215.8 520.7L202.8 519.0L203.4 520.5L196.5 517.4L203.9 516.2L203.0 517.5L216.0 519.2ZM233.6 520.6L219.3 526.1L220.5 527.2L212.9 527.7L218.9 523.1L218.8 524.7L233.1 519.3ZM251.2 520.5L236.8 532.5L238.2 533.1L231.3 536.1L235.5 529.8L235.8 531.4L250.3 519.4ZM268.7 520.4L255.6 535.8L257.2 536.2L250.8 540.3L253.8 533.4L254.5 534.9L267.6 519.5ZM286.2 520.4L275.1 536.3L276.7 536.5L270.8 541.3L273.2 534.1L273.9 535.5L285.0 519.5ZM303.6 520.3L294.0 535.2L295.6 535.4L289.9 540.3L292.0 533.0L292.8 534.4L302.4 519.6ZM321.0 520.4L310.2 534.4L311.8 534.7L305.6 539.1L308.3 532.0L309.0 533.5L319.9 519.5ZM338.4 520.4L327.2 532.5L328.8 533.0L322.3 536.8L325.6 530.0L326.2 531.5L337.4 519.5ZM355.9 520.5L345.2 531.5L346.8 532.0L340.2 535.7L343.6 528.9L344.2 530.5L354.8 519.5ZM373.3 520.4L365.2 529.9L366.8 530.3L360.4 534.3L363.5 527.4L364.1 528.9L372.2 519.5ZM390.8 520.4L385.1 527.6L386.7 527.9L380.4 532.2L383.2 525.2L383.9 526.7L389.6 519.5ZM408.2 520.4L405.0 525.2L406.6 525.4L400.8 530.3L403.0 523.0L403.8 524.4L407.0 519.6ZM425.7 520.3L424.2 523.4L425.8 523.4L420.7 529.0L421.9 521.5L422.9 522.8L424.4 519.6ZM443.2 520.1L442.8 521.6L444.4 521.3L440.7 527.9L440.2 520.3L441.4 521.3L441.8 519.8ZM460.6 520.0L460.6 520.6L462.0 519.9L459.9 526.8L457.9 520.0L459.2 520.6L459.2 520.0ZM477.9 519.7L478.2 520.3L479.2 519.3L479.7 526.0L475.5 520.7L477.0 520.8L476.7 520.2ZM495.3 519.5L495.8 520.0L496.4 518.6L499.3 525.3L493.2 521.3L494.7 520.9L494.2 520.4ZM512.6 519.4L513.5 520.0L513.7 518.4L518.5 524.2L511.3 521.9L512.7 521.2L511.8 520.6ZM529.9 519.3L531.4 519.8L531.2 518.2L537.2 522.8L529.7 522.3L530.9 521.2L529.4 520.6ZM547.2 519.2L549.1 519.5L548.6 518.0L555.5 521.3L548.0 522.3L548.9 521.0L546.9 520.7ZM564.5 519.2L566.9 519.1L566.1 517.7L573.4 519.5L566.3 522.0L566.9 520.6L564.5 520.7ZM581.7 519.3L584.9 518.5L583.8 517.3L591.4 517.6L584.9 521.5L585.2 519.9L582.1 520.7ZM599.1 519.3L602.7 517.7L601.4 516.7L608.9 515.8L603.1 520.7L603.2 519.1L599.6 520.6ZM616.4 519.3L620.5 516.9L619.1 516.0L626.5 514.2L621.3 519.8L621.2 518.2L617.1 520.6ZM633.8 519.4L638.3 515.8L636.9 515.1L643.9 512.4L639.6 518.5L639.2 516.9L634.7 520.5ZM651.1 519.4L656.0 514.8L654.5 514.3L661.2 510.9L657.4 517.4L657.0 515.9L652.1 520.5ZM668.5 519.5L673.2 514.0L671.7 513.6L678.1 509.6L675.0 516.5L674.3 515.0L669.6 520.4ZM685.9 519.6L690.1 512.7L688.5 512.6L694.2 507.6L692.2 514.9L691.4 513.5L687.1 520.3ZM703.3 519.7L706.2 512.2L704.6 512.3L709.3 506.4L708.6 513.9L707.6 512.7L704.6 520.2ZM163.1 558.0L158.1 552.7L157.5 554.3L154.1 547.5L160.7 551.3L159.1 551.7L164.1 557.0ZM180.6 558.1L171.7 552.0L171.5 553.6L166.7 547.8L173.9 550.0L172.5 550.8L181.4 556.9ZM198.2 558.1L185.4 553.5L185.6 555.1L179.6 550.6L187.1 551.0L185.9 552.1L198.7 556.8ZM215.8 558.2L200.4 557.2L201.1 558.7L194.0 556.1L201.3 554.3L200.5 555.8L215.9 556.7ZM233.5 558.2L217.2 562.2L218.3 563.5L210.7 563.1L217.2 559.2L216.9 560.8L233.1 556.7ZM251.1 558.1L235.7 566.4L237.0 567.4L229.6 568.9L235.0 563.5L235.0 565.2L250.4 556.8ZM268.6 558.0L255.4 568.6L256.9 569.3L249.9 572.2L254.2 565.9L254.5 567.5L267.7 556.9ZM286.1 557.9L275.5 569.2L277.1 569.7L270.5 573.5L273.9 566.7L274.5 568.3L285.1 557.0ZM303.6 557.9L294.9 569.0L296.5 569.4L290.3 573.7L293.1 566.7L293.7 568.2L302.5 557.0ZM321.0 557.9L312.3 569.0L313.9 569.3L307.7 573.7L310.5 566.6L311.2 568.1L319.9 557.0ZM338.5 557.9L330.3 567.8L331.9 568.2L325.6 572.4L328.5 565.4L329.2 566.9L337.3 557.0ZM355.9 557.9L348.7 567.1L350.3 567.4L344.1 571.8L346.8 564.8L347.5 566.2L354.8 557.0ZM373.4 557.9L368.1 565.8L369.7 566.0L363.9 570.8L366.1 563.6L366.9 565.0L372.2 557.1ZM390.8 557.8L387.4 563.6L389.0 563.8L383.4 568.9L385.2 561.5L386.1 562.9L389.6 557.1ZM408.3 557.8L406.5 561.5L408.1 561.5L403.0 567.1L404.2 559.6L405.2 560.9L407.0 557.1ZM425.7 557.7L425.0 560.0L426.6 559.7L422.2 565.9L422.4 558.3L423.6 559.5L424.4 557.2ZM443.2 557.6L443.0 558.5L444.6 558.0L441.3 564.9L440.3 557.4L441.6 558.3L441.8 557.3ZM460.5 557.5L460.5 558.1L461.8 557.5L459.9 563.8L458.0 557.5L459.3 558.1L459.3 557.5ZM477.9 557.3L478.1 557.9L479.0 557.0L478.8 563.2L475.6 557.9L476.9 558.2L476.8 557.6ZM495.3 557.2L495.6 557.7L496.3 556.6L497.7 562.5L493.3 558.3L494.6 558.2L494.3 557.7ZM512.6 557.0L513.0 557.4L513.4 556.2L516.3 561.5L511.0 558.7L512.2 558.3L511.8 557.9ZM529.9 557.0L530.4 557.2L530.4 556.0L534.5 560.1L528.8 558.9L529.9 558.2L529.4 557.9ZM547.2 556.9L547.7 557.0L547.4 555.8L552.5 558.7L546.7 559.1L547.5 558.1L546.9 558.0ZM564.4 556.9L565.0 556.8L564.4 555.7L570.3 557.0L564.6 559.2L565.1 558.0L564.5 558.0ZM581.7 556.8L582.3 556.6L581.3 555.6L588.0 555.3L582.6 559.3L582.7 557.8L582.1 558.1ZM599.0 556.8L599.6 556.4L598.2 555.6L605.5 553.6L600.6 559.3L600.4 557.6L599.7 558.1ZM616.3 556.9L617.6 555.8L616.1 555.2L623.0 552.1L618.9 558.5L618.5 556.9L617.2 558.0ZM633.7 557.0L635.5 554.9L634.0 554.5L640.4 550.5L637.2 557.4L636.6 555.8L634.7 557.9ZM651.1 557.0L653.2 554.2L651.6 553.9L657.6 549.4L655.1 556.5L654.3 555.0L652.2 557.9ZM668.4 557.1L670.4 553.9L668.8 553.8L674.4 548.7L672.5 556.0L671.6 554.7L669.7 557.8ZM685.8 557.2L687.3 553.5L685.6 553.7L690.3 547.7L689.7 555.3L688.6 554.1L687.2 557.7ZM703.2 557.4L703.6 554.2L702.1 554.7L705.1 547.8L706.4 555.3L705.0 554.4L704.6 557.5ZM163.1 595.5L161.7 594.3L161.3 595.9L157.1 589.6L164.1 592.5L162.6 593.2L164.1 594.4ZM180.7 595.6L176.7 593.5L176.7 595.2L171.2 589.9L178.6 591.3L177.3 592.2L181.4 594.3ZM198.3 595.6L191.6 593.9L191.9 595.5L185.5 591.5L193.0 591.2L191.9 592.5L198.6 594.2ZM215.9 595.7L207.2 595.4L207.9 596.9L200.7 594.5L208.0 592.5L207.3 594.0L215.9 594.2ZM233.5 595.7L224.1 597.7L225.1 599.0L217.6 598.5L224.2 594.8L223.8 596.3L233.2 594.2ZM251.1 595.6L242.1 599.8L243.3 600.8L235.9 601.8L241.5 596.8L241.5 598.4L250.4 594.3ZM268.6 595.5L260.8 600.9L262.2 601.7L255.0 604.0L259.8 598.1L260.0 599.7L267.8 594.3ZM286.1 595.5L279.7 601.5L281.2 602.0L274.4 605.4L278.2 598.9L278.7 600.4L285.1 594.4ZM303.6 595.4L298.2 601.8L299.8 602.2L293.5 606.3L296.5 599.4L297.1 600.9L302.5 594.5ZM321.0 595.4L315.7 602.3L317.3 602.6L311.2 607.0L313.9 600.0L314.6 601.4L319.9 594.5ZM338.5 595.4L333.8 601.7L335.4 602.0L329.3 606.5L331.9 599.4L332.6 600.9L337.3 594.5ZM355.9 595.3L352.0 601.3L353.6 601.5L347.8 606.4L350.0 599.1L350.8 600.5L354.7 594.5ZM373.4 595.3L370.7 600.3L372.3 600.3L367.0 605.7L368.5 598.3L369.4 599.6L372.1 594.6ZM390.8 595.2L389.3 598.6L390.9 598.5L385.9 604.2L387.0 596.7L388.0 598.0L389.5 594.6ZM408.3 595.2L407.7 596.9L409.3 596.7L404.8 602.8L405.2 595.2L406.3 596.4L406.9 594.7ZM425.7 595.1L425.6 595.8L427.1 595.5L423.3 601.8L423.0 594.4L424.2 595.5L424.4 594.8ZM443.1 595.0L443.0 595.6L444.3 595.2L441.8 600.9L440.7 594.7L441.8 595.5L441.9 594.9ZM460.4 594.9L460.4 595.5L461.5 594.9L459.9 600.1L458.4 594.9L459.4 595.5L459.4 594.9ZM477.8 594.9L477.9 595.3L478.7 594.7L478.2 599.6L476.0 595.2L477.0 595.5L476.9 595.0ZM495.2 594.8L495.3 595.2L496.0 594.4L496.5 599.0L493.5 595.5L494.5 595.5L494.4 595.1ZM512.5 594.7L512.8 595.0L513.2 594.2L514.6 598.2L511.2 595.7L512.1 595.5L511.9 595.2ZM529.8 594.7L530.1 594.9L530.3 594.1L532.5 597.1L529.0 595.8L529.7 595.4L529.4 595.2ZM547.2 594.6L547.5 594.7L547.4 594.0L550.2 595.9L546.8 595.9L547.3 595.4L547.0 595.3ZM564.5 594.6L564.8 594.6L564.4 593.9L567.9 594.6L564.6 596.0L564.9 595.2L564.5 595.3ZM581.7 594.6L582.1 594.4L581.4 593.9L585.5 593.2L582.4 596.0L582.5 595.1L582.1 595.3ZM599.0 594.6L599.4 594.3L598.4 593.9L603.0 591.8L600.3 596.0L600.0 595.0L599.7 595.3ZM616.3 594.6L616.7 594.2L615.5 593.9L620.4 590.6L618.1 596.0L617.6 594.9L617.2 595.3ZM633.7 594.6L634.0 594.0L632.5 593.9L637.8 589.4L635.9 596.0L635.1 594.8L634.8 595.3ZM651.0 594.6L651.4 594.0L649.8 593.9L655.1 588.7L653.5 596.0L652.6 594.7L652.3 595.3ZM668.4 594.6L668.7 594.0L667.1 594.0L672.1 588.5L671.0 595.8L670.0 594.6L669.7 595.2ZM685.8 594.7L686.0 594.1L684.5 594.4L688.5 588.3L688.5 595.5L687.4 594.5L687.2 595.1ZM703.3 594.9L703.4 594.3L702.2 594.9L704.1 589.1L705.7 595.0L704.5 594.4L704.5 595.0ZM163.4 632.7L163.0 632.5L162.9 633.4L160.5 630.1L164.3 631.5L163.5 631.9L163.8 632.1ZM180.8 632.9L180.3 632.7L180.4 633.9L176.3 630.3L181.7 631.0L180.8 631.7L181.2 632.0ZM198.3 633.1L197.7 632.9L198.0 634.3L192.2 631.1L198.9 630.5L198.0 631.7L198.6 631.8ZM215.9 633.2L215.0 633.2L215.7 634.6L208.5 632.4L215.7 630.3L215.0 631.7L215.9 631.7ZM233.5 633.1L232.0 633.5L233.1 634.7L225.5 634.3L232.1 630.5L231.7 632.1L233.2 631.7ZM251.0 633.1L249.4 633.8L250.7 634.9L243.2 635.9L248.9 630.9L248.8 632.5L250.4 631.8ZM268.6 633.0L267.0 634.1L268.4 634.9L261.2 637.1L266.0 631.3L266.2 632.9L267.8 631.8ZM286.1 633.0L284.7 634.2L286.2 634.8L279.4 638.1L283.3 631.6L283.7 633.2L285.1 631.9ZM303.6 632.9L302.3 634.4L303.9 634.8L297.5 638.9L300.5 632.0L301.2 633.5L302.5 632.0ZM321.0 632.9L319.5 634.9L321.1 635.2L315.0 639.7L317.6 632.6L318.4 634.0L319.9 632.0ZM338.5 632.9L337.2 634.6L338.8 634.9L332.9 639.6L335.3 632.4L336.0 633.8L337.3 632.0ZM355.9 632.8L355.0 634.4L356.6 634.5L351.0 639.6L352.9 632.3L353.8 633.6L354.7 632.1ZM373.4 632.7L373.0 633.6L374.6 633.6L369.5 639.2L370.7 631.7L371.7 633.0L372.1 632.1ZM390.8 632.7L390.5 633.3L391.9 633.1L387.8 638.3L388.4 631.7L389.4 632.8L389.6 632.2ZM408.1 632.6L408.0 633.1L409.1 632.9L406.0 637.4L406.1 632.0L407.0 632.8L407.1 632.3ZM425.5 632.5L425.4 633.0L426.3 632.7L424.1 636.8L423.7 632.1L424.5 632.8L424.6 632.3ZM442.9 632.5L442.8 632.9L443.6 632.5L442.1 636.2L441.3 632.3L442.1 632.8L442.1 632.4ZM460.2 632.4L460.2 632.8L460.9 632.4L459.9 635.7L458.9 632.4L459.6 632.8L459.6 632.4ZM477.6 632.4L477.7 632.7L478.2 632.3L477.8 635.4L476.5 632.6L477.1 632.8L477.0 632.5ZM495.0 632.3L495.1 632.6L495.5 632.2L495.7 635.0L494.0 632.7L494.6 632.8L494.5 632.5ZM512.4 632.3L512.5 632.5L512.8 632.1L513.5 634.5L511.6 632.8L512.1 632.8L512.0 632.6ZM529.8 632.3L529.9 632.4L530.0 632.0L531.2 633.8L529.2 632.9L529.6 632.7L529.5 632.6ZM547.1 632.3L547.3 632.3L547.2 631.9L548.7 633.1L546.9 632.9L547.2 632.7L547.0 632.6ZM564.5 632.3L564.6 632.2L564.4 631.9L566.3 632.2L564.6 633.0L564.7 632.6L564.5 632.6ZM581.8 632.2L582.0 632.1L581.6 631.9L583.8 631.3L582.3 633.0L582.2 632.5L582.0 632.6ZM599.1 632.2L599.3 632.0L598.8 631.9L601.3 630.4L599.9 633.0L599.7 632.4L599.5 632.6ZM616.5 632.2L616.7 632.0L616.0 631.9L618.7 629.7L617.6 633.0L617.2 632.4L617.0 632.6ZM633.9 632.2L634.1 631.9L633.2 631.9L636.1 629.0L635.2 633.0L634.7 632.3L634.6 632.6ZM651.3 632.2L651.4 631.9L650.5 631.9L653.5 628.6L652.8 633.0L652.2 632.2L652.0 632.6ZM668.7 632.3L668.8 631.9L667.9 631.9L670.7 628.6L670.2 632.9L669.6 632.2L669.5 632.6ZM686.1 632.3L686.2 631.9L685.4 632.1L687.6 628.7L687.6 632.8L687.0 632.2L686.9 632.5ZM703.6 632.4L703.7 632.1L703.1 632.4L704.2 629.5L704.8 632.5L704.2 632.2L704.2 632.5Z"/>
</svg>
<path d="M287.5 669.8v13.2M442.5 669.8v13.2M597.4 669.8v13.2M163.6 206.7h-13.2M163.6 374.6h-13.2M163.6 542.6h-13.2" stroke="#000" stroke-width="3.33" fill="none"/>
<rect x="163.6" y="79.5" width="553.4" height="590.3" fill="none" stroke="#000" stroke-width="3.33"/>
<text x="287.5" y="736.5" font-size="52.0" text-anchor="middle">−100</text>
<text x="442.5" y="736.5" font-size="52.0" text-anchor="middle">0</text>
<text x="597.4" y="736.5" font-size="52.0" text-anchor="middle">100</text>
<text x="137.0" y="226.5" font-size="52.0" text-anchor="end">50</text>
<text x="137.0" y="394.4" font-size="52.0" text-anchor="end">0</text>
<text x="137.0" y="562.4" font-size="52.0" text-anchor="end">−50</text>
<text y="56.3" font-size="52.0"><tspan x="246.7" font-style="oblique">τ</tspan><tspan x="278.5" dy="7.8" font-size="36.40">rad</tspan><tspan x="350.4" dy="-7.8">=</tspan><tspan x="405.3">0.1 days</tspan></text>
</g>
<g id="panel2">
<svg x="827.3" y="79.5" width="553.4" height="590.3" viewBox="827.3 79.5 553.4 590.3" overflow="hidden">
<g fill-rule="evenodd" shape-rendering="geometricPrecision">
<rect x="826.3" y="78.5" width="555.4" height="592.3" fill="#007add"/>
<path fill="#0080dd" d="M824.5 673l559 0 0-596-559 0zM939 512.5l-2.5-1-2.5-3-1.5-3.5-0.5-5 0.5-4 1.5-3 2.5-2.5 3-1 3 1 2.5 3 1.5 3.5 0.5 5-1 5-1.5 3-2.5 2zM939 260l-2.5-1-2.5-2.5-1.5-3.5-0.5-5 1-5 1.5-3 2-2.5 3-0.5 2.5 0.5 2.5 2.5 1.5 3 1 5-1 5-1.5 3.5-2.5 2.5z"/>
<path fill="#0085dd" d="M824.5 673l559 0 0-596-559 0zM939 519l-5-1.5-3-4-2.5-6.5-1-7 1.5-6.5 2-5.5 4-4 4.5-1.5 5 2 3.5 4 2.5 6.5 0.5 7-1 6.5-2.5 6-4 3.5zM939 266.5l-4.5-1.5-3.5-4-2.5-6-1-7 1-6.5 2.5-6 4-4 4.5-1.5 4.5 1.5 3.5 3.5 3 6.5 0.5 6.5-0.5 7-3 6.5-4 4z"/>
<path fill="#008add" d="M824.5 673l559 0 0-596-559 0zM939 524.5l-3-0.5-3.5-2-4.5-5-3-8.5-0.5-8.5 1-9 4-7.5 4.5-5 5.5-1.5 3 1 3.5 1.5 4.5 5.5 3 8.5 1 8.5-1 8-4 8.5-5 5zM939 272l-5.5-2-5-5-3-8.5-1-8.5 1-9.5 3.5-7 4.5-5 3-1.5 3-0.5 5.5 2 5 5 3.5 8.5 1 8-1.5 10.5-3.5 7-4.5 5-3 1.5z"/>
<path fill="#0090dd" d="M824.5 673l559 0 0-596-559 0zM939 529.5l-4-0.5-3-2-5.5-6-4-9-1-12 1.5-11.5 4-8.5 5.5-6 3.5-1.5 3.5-0.5 4 0.5 3 2 3 3 3 4 4 10.5 1 10-1.5 11-4 9-3 3.5-3 2.5-3.5 1zM939 277.5l-4-1-3-1.5-5.5-6.5-4-9.5-1-11 1-10.5 4-9.5 3-4 3-2.5 3.5-1.5 3.5-0.5 4 1 3 1.5 3 2.5 3 3.5 4 10 1 10-1.5 12-4 8.5-3 4.5-3 2.5-3.5 1.5z"/>
<path fill="#0095dd" d="M824.5 673l559 0 0-596-559 0zM939.5 534.5l-4.5-1-4-1.5-3-2.5-3-4-4.5-10-2-13.5 1.5-13.5 4-11 3-4.5 4-4.5 4-2.5 4-1 3.5 1 3.5 1.5 3.5 4 4 5 5 12 2 11.5-1.5 13.5-2.5 7-2 4.5-3.5 4-3.5 3-4 2zM939 284l-4-1-4-2.5-4-4-3-5-4-11.5-1.5-12 1.5-13 2.5-7 2.5-4.5 3-4 3-2 4-2 4.5-0.5 5 0.5 3.5 2 3 3 3.5 4 4 10.5 2 13-0.5 7-1.5 6.5-5 11-7 8.5-4 2.5z"/>
<path fill="#009adb" d="M824.5 673l559 0 0-596-559 0zM939.5 538.5l-5.5-0.5-4.5-2-4-3-3-4-2.5-5.5-2.5-6.5-2-15 0.5-8.5 1.5-7 5-13.5 4.5-8.5 4-5.5 4-2.5 4-1 3.5 1.5 4 3 8.5 12.5 6 14 2 13.5 0 7.5-1.5 8-2 6.5-3 6.5-3 4-4 3-4.5 2.5zM938 293.5l-4-1-3.5-3-4-5.5-4.5-9-5-13.5-1-6.5 0-8.5 2-15 2-7 3-5 3.5-4 3.5-2.5 5-1.5 4.5-0.5 5 0.5 4.5 1.5 4 3 3 4 3 6 2.5 7 1 7 0.5 8-0.5 7-1.5 8.5-6.5 14.5-5 7.5-3.5 4.5-4 3z"/>
<path fill="#009ecf" d="M824.5 673l559 0 0-596-559 0zM940.5 542.5l-6.5-0.5-5-2-5-2.5-3-4-3-5-2.5-8-2-8.5-0.5-8.5 0.5-10 1.5-8.5 10-30.5 2-5.5 3.5-4.5 3-2 3-0.5 4 1 3 2.5 4 5 4.5 8.5 11 24.5 2 8.5 1 8-0.5 8.5-1.5 8.5-2.5 8.5-3 6.5-3.5 4.5-4 3-5 2zM936.5 307.5l-4-1-3-2.5-4.5-9-10-30-1.5-10-0.5-10 1-8.5 1.5-8.5 2.5-7 3-5.5 4-4 4-2.5 5-1.5 6.5-0.5 6 1 4.5 2 4 3 4 5 3 6.5 2.5 8.5 1 8.5 0.5 8.5-1 8.5-2.5 8-10.5 24-4.5 8.5-4 5-3 2.5z"/>
<path fill="#00a0c7" d="M824.5 673l559 0 0-596-559 0zM941 546l-7-0.5-6-1.5-5.5-3-4-4-3-5-2.5-6.5-1.5-8.5-1-10 0-10 1-10.5 9-36.5 3-8 9-19.5 2.5-2 2.5 1.5 12 23 5 10 11 28.5 2 8.5 1 6.5 0 8.5-1.5 10-2.5 10-2.5 6.5-4 5.5-4.5 3.5-6 2.5zM935 329l-2.5-2.5-9-19.5-2.5-6.5-9.5-39-1-8.5 0-10 2.5-18.5 2-6.5 3-5.5 4-3.5 5-3.5 7-1.5 7-0.5 6.5 1 5.5 2 4.5 3.5 3.5 4.5 3 7 3 10 1.5 10 0 8.5-0.5 6.5-2 8.5-11 27.5-5.5 12-12 22.5z"/>
<path fill="#00a3bf" d="M824.5 673l559 0 0-596-559 0zM941 549.5l-7.5-0.5-8-2-6-3-4.5-5-2.5-3.5-2-7-2-10-1-11.5 0-10 1-8.5 9-42 6.5-17 3.5-11.5 3.5-3.5 4-1 4 1 2.5 1.5 1 2 4 11.5 10 23 10.5 27.5 3.5 12 1 8-0.5 10-1.5 10.5-2.5 10-3 6.5-4.5 5-5 4-6.5 2.5zM935 335.5l-5.5-1.5-2.5-3.5-3-10-7-18.5-8.5-42-1-8.5 0-10 1.5-12 1.5-10 2-5.5 3-4.5 4-4 6-3 8-2 7.5-0.5 8 1 6 3 5.5 4 4 5 2.5 6.5 2.5 10 1.5 10.5 0.5 10-1.5 8.5-3.5 11.5-10 27-10.5 23.5-3 10-2.5 3.5-3 1.5z"/>
<path fill="#00a6b7" d="M824.5 673l559 0 0-596-559 0zM941 553l-9-0.5-8-2-6.5-3.5-5.5-5-3-5-1.5-5-2.5-23.5 0-10 1-10 9-44 9.5-28.5 4.5-3.5 6-2 6 1.5 3.5 2.5 1.5 2 3 11.5 11 25 10 28.5 3 10.5 1 8-0.5 10-1.5 12-2.5 10-2.5 7-5 5.5-6 4.5-7 2.5zM935 338.5l-6-1.5-2.5-2-2.5-3-3.5-11.5-5.5-15.5-9.5-45-0.5-8.5 0-10 2.5-23.5 2-6.5 3-4.5 5.5-5 6-3 8-2 9-0.5 8 1 7 3 6 4 4.5 6 3 6 2.5 11.5 2 12 0 10-1 8.5-2.5 8-10.5 29.5-10.5 24.5-3.5 11.5-2.5 3.5-2 1.5z"/>
<path fill="#00a8af" d="M824.5 673l559 0 0-596-559 0zM940.5 556.5l-9.5-1-8.5-1.5-7-3.5-5.5-5-3.5-5-2-7-2-23.5-0.5-11.5 1-8.5 6.5-35 3-11.5 6-15.5 2.5-10 1.5-3.5 5.5-4.5 7-2 4 0 3.5 2 4 3 2 3 3.5 12 11 27 10.5 30 2.5 8.5 0.5 6.5-0.5 12-1.5 13.5-2.5 9-3 6.5-5.5 6.5-7 5-7.5 2.5zM935 341.5l-7-2.5-3-2-3-3-9.5-28.5-2.5-10.5-7-35-1-10 0.5-12 2-23.5 2.5-6.5 3-4.5 5.5-4.5 7-3.5 8.5-2 10-0.5 8.5 1 7 3 7 5 5.5 6 2.5 5 2.5 8.5 2 15 0.5 11.5-0.5 7-2.5 8.5-10.5 30-11.5 28.5-3.5 12-2 3-3.5 2.5-3.5 1.5z"/>
<path fill="#00aaa8" d="M824.5 673l559 0 0-596-559 0zM940.5 559.5l-11-0.5-8.5-2-7-3-6-5.5-4-6.5-2.5-6.5-2-25.5 1-18 7-37 2.5-10.5 6-16.5 2.5-10 3-5 4-4 5.5-3 5-1 3.5 0.5 4 2 4.5 3.5 2.5 4 4 13 11 28.5 11 30 2 8.5 1 7-1 13.5-2.5 15-1.5 6.5-3.5 7-6 6.5-7.5 5-8 3zM936 344.5l-5-1-5.5-3-4.5-4.5-2-4-3-10-6-16.5-3-12-7-37 0-20 2-23.5 2.5-7 3.5-5 6-5.5 7-3.5 9.5-2 10.5-0.5 9.5 1.5 7.5 3 7.5 5.5 6 6.5 3 7 1.5 6.5 2.5 15.5 0.5 13-0.5 7-2 6.5-10.5 30.5-12 30-3.5 12-2.5 4-3.5 3.5-4 2z"/>
<path fill="#00aaa3" d="M824.5 673l559 0 0-596-559 0zM940.5 562.5l-11.5-0.5-9.5-1.5-7-3.5-6-5-5-7-2.5-8-1.5-23.5 0.5-20 7-37 2.5-12 7-18.5 2.5-10 3.5-5 5-5 5-2.5 5.5-1 4.5 0.5 4.5 2.5 4.5 4.5 3 4.5 4 13.5 22.5 60.5 2 6.5 0.5 7-0.5 13.5-2.5 16.5-2 7-3.5 6.5-6.5 7.5-7.5 5.5-8.5 3zM936 347l-5.5-1.5-5-2.5-6-6-3-5-2.5-10-7.5-21.5-7.5-37-1.5-13.5 0.5-32 1-6.5 3.5-8.5 4.5-6.5 6.5-5 7-3 9-1.5 11.5-0.5 10 1.5 8.5 3 7 5.5 6.5 7.5 3.5 7.5 2 6.5 2.5 17 0.5 13-2 12-23.5 62-4 13.5-3 5-4.5 4-4 2z"/>
<path fill="#00aa9d" d="M824.5 673l559 0 0-596-559 0zM937.5 565.5l-13.5-1-9-2-6.5-4-6-6.5-4-7-2.5-8-1-32 1-15 7-35 3.5-12 6-17 2.5-10 3-5 7-7 5.5-2.5 6-1 5.5 0.5 4 2 3.5 3.5 4.5 6.5 4 15 23.5 62 2 7 0.5 6.5-1 13.5-2.5 16.5-3 8.5-4.5 8-7 7.5-8 4.5-9 2.5zM936 349l-5.5-1-5-2.5-8-8.5-2.5-4.5-3-10.5-6-16.5-3.5-13.5-7-37-0.5-10 0.5-23.5 0.5-9 2.5-8 4-7 5.5-6.5 5.5-3.5 7.5-2 8.5-1 12.5-0.5 10 1.5 8.5 3 7 5 7 8 4 7.5 2 7.5 2.5 18.5 1 13-0.5 5-2 7-23.5 62-3.5 13.5-4 6-4 4.5-4.5 2z"/>
<path fill="#00aa95" d="M824.5 673l559 0 0-596-559 0zM930.5 567.5l-12-1.5-8.5-3-6-4.5-5.5-7.5-3-7-2-8.5-0.5-35.5 1.5-11.5 7.5-35.5 3-11.5 5.5-15.5 3.5-11.5 4.5-7 5.5-5 6-3 7.5-1 5.5 1 5 2.5 4 4 4 7 4 15 24.5 64 1.5 6.5 0 8.5-1.5 16.5-2.5 13.5-4.5 10-6 8.5-8 6.5-8 3.5-10.5 2zM936 351l-7-1.5-5.5-3-7-8-3.5-6.5-2-8-8.5-25.5-8.5-40-1-12 0-27 1-8 2.5-8.5 4.5-8.5 5.5-6 6-3.5 8-2 9-1 12.5-0.5 11 1.5 9 3.5 7 5 7 8.5 4.5 8 2.5 8.5 2.5 18.5 0.5 13-2 10.5-23.5 62-5 16.5-4 7-3.5 3.5-5.5 2.5z"/>
<path fill="#00aa90" d="M824.5 673l559 0 0-596-559 0zM925 569.5l-11-2-8-3.5-5.5-5-5-8.5-2.5-6.5-1.5-8.5-0.5-38.5 1.5-8.5 8-37 8.5-25.5 3-11.5 6-8.5 5-5 7.5-3.5 8.5-0.5 6 1.5 5 2.5 3.5 4 4 8 4 15 25 65.5 1.5 8.5-0.5 10-2.5 20-2 8.5-5.5 10.5-7.5 9.5-8 5-10 3.5-11 1zM936 352.5l-8-1.5-6-3.5-6.5-7-3.5-6.5-3-10-8.5-25.5-8.5-40-1-12 0-28.5 1.5-10 2.5-8.5 5-8.5 5-4.5 6.5-4 7-2 9.5-1 13 0 12.5 1.5 10 3.5 7 5 6.5 7.5 5 9 2.5 8.5 3 20.5 0.5 13-2 10.5-24 62-3.5 13.5-2 5-4 6.5-3.5 3.5-6.5 2.5z"/>
<path fill="#00aa8b" d="M824.5 673l559 0 0-596-559 0zM923.5 571.5l-11-2-8-4-6-5-4.5-8-3-8.5-1.5-8.5 0-38.5 1-8.5 8.5-37 12.5-38.5 5.5-9 5.5-4.5 8.5-3.5 8.5-0.5 6.5 1.5 5 2.5 4 4.5 3.5 7 4.5 17 25.5 65.5 1.5 8.5-1 13.5-2 18-2.5 8.5-6 12-7.5 8.5-8 5-11 3.5-11.5 1zM935 354l-7.5-1.5-6.5-3.5-5.5-6-5.5-9-2.5-10-8.5-25.5-9-40-1-10.5 0-31.5 1.5-10.5 3.5-9 4-7.5 5-5 6.5-3.5 8.5-2.5 10-1 14 0 11.5 1.5 10 3 8.5 5.5 5.5 7 5.5 9 3.5 9.5 2.5 20 1 15-2.5 10.5-24 62-4 15-3.5 8.5-4 5-4 2.5-6 2z"/>
<path fill="#00a97d" d="M824.5 673l559 0 0-596-559 0zM922 573.5l-11-2.5-8-3.5-6-5-4.5-8-3.5-9-1.5-10 0-38.5 1.5-8.5 8.5-37 8.5-25.5 3.5-13 6.5-10.5 5-4 9.5-4 9-0.5 8 2 6 3.5 3 3 3.5 7 5.5 20 25 64 1 8.5-0.5 15-2.5 16.5-2.5 10.5-7 12-7 8-8.5 5-11.5 4-12.5 1zM935 355.5l-8.5-2-8-4.5-5-6.5-5-8.5-2.5-10-8.5-25.5-9-40-1-10.5 0-31.5 1-10.5 3.5-10 4-8 5.5-5.5 7-3.5 8.5-2.5 10-1 14 0 12.5 1.5 10 3 9.5 6 6 7 5.5 10 3.5 10 3 20 0.5 15-2 10.5-24.5 62-3.5 15-4 9-3 4.5-5.5 4-7 2z"/>
<path fill="#00a668" d="M824.5 673l559 0 0-596-559 0zM923.5 575.5l-11-2-9.5-3.5-7.5-6-4-6.5-4-10.5-1.5-10 0-40 9.5-44 9-27 3.5-13 6-10.5 5.5-5 10-4.5 5.5-0.5 4.5 0 7 1.5 6.5 3 4.5 4 2.5 5 3 8 4 15.5 25 64 1.5 8.5-1 13.5-2 18-2 8.5-7 13.5-3.5 5-3.5 4-10 6-11 4-12.5 1.5zM936 357l-9.5-2-8-4.5-5-5-5.5-9.5-3.5-12-6-17-3-12-8.5-35-1.5-10 0.5-38.5 2-10.5 4.5-11 5.5-7 7.5-5 9.5-3 11.5-1.5 17 0 12.5 2 10.5 4 9.5 7 7 9.5 6 13.5 2 10 2 22 0 8.5-1.5 6.5-25 64-3.5 15-4 10-4 5-5.5 3.5-7 2.5z"/>
<path fill="#00a353" d="M824.5 673l559 0 0-596-559 0zM922.5 577.5l-11-2-9-4-8-5.5-4.5-7-4-10.5-2-11.5 0.5-40 1-8.5 9-37 13-40.5 6-9.5 6-5.5 10-4.5 5.5-1 4.5 0 7 1.5 7 3.5 4.5 4 3 5 3 8.5 4.5 16.5 8.5 23.5 16.5 40.5 1.5 8.5-1 15-2 16.5-2.5 10.5-6.5 13.5-7.5 8-10.5 7-11.5 4-12.5 1.5zM936.5 359l-9.5-2-9-5-5-4.5-6-10.5-13-42-8.5-35-1.5-10 0-38.5 2.5-12 4-10 5-7 7.5-5.5 10.5-3.5 11.5-2 17.5 0 12.5 2 11.5 4 10.5 7 7 9 6.5 14.5 2 10 2 22 0 10-1.5 6.5-15.5 38.5-11 30.5-2.5 11.5-3.5 8.5-3.5 5-6 4.5-7.5 3z"/>
<path fill="#00a13d" d="M824.5 673l559 0 0-596-559 0zM922.5 579.5l-11-2-10-4-8-6-5-7.5-4-11-2-12 0.5-40 1-8.5 9-37 8.5-25.5 3-11.5 2-4.5 5.5-9 6.5-6 11-5 5.5-1.5 4.5 0 6.5 1.5 7 3.5 5.5 4 3.5 5.5 3.5 10 3 13 7.5 20.5 19 47 1.5 8.5-1 15-2 18.5-3 10-7 13.5-7.5 8.5-10.5 6.5-12 4-12.5 1.5zM939.5 360.5l-4.5 0-5.5-1-11-5.5-6-5-6.5-10-2-5-2.5-10-8.5-27-9-37-1.5-8.5 0-40 2-11.5 4-10.5 4.5-7 8.5-6.5 9.5-4 11.5-2 18.5-0.5 13.5 2 12 4.5 10.5 6.5 7 8.5 7 13.5 2.5 10 2 18.5 1 13.5-1.5 8.5-17 42-10 28.5-2.5 11.5-3 8.5-3 5-6 5-7.5 4z"/>
<path fill="#009d1d" d="M824.5 673l559 0 0-596-559 0zM922 581l-12-2-10-4.5-7.5-6-5.5-8-4-11.5-2-12 0.5-40 1.5-8.5 9.5-38.5 7.5-24 3-11.5 3.5-7.5 5-7.5 9-7 10.5-5 8.5-1 7 1.5 7 4 7 5.5 3.5 5 3 10.5 3 13 7 20.5 20 48.5 1 8.5-1 13.5-2 18.5-3 10-6.5 13.5-7 8.5-11 7.5-13 4.5-13.5 2zM937.5 363l-5.5-1-5-1.5-10.5-6-6.5-6-5.5-9.5-2-5-2-10-9.5-29-8.5-35-1.5-10 0-38.5 2-12 4.5-12 5.5-7.5 8.5-6 10-4 12.5-2 18.5 0 13.5 2 13 5.5 10.5 7 6.5 8.5 7 15 2.5 10.5 2 21.5 0.5 10-1.5 7-19 47-8 22-2.5 13-3.5 10.5-4.5 5.5-8 6-6.5 3z"/>
<path fill="#009a08" d="M824.5 673l559 0 0-596-559 0zM922 583l-12-2-10-4.5-8.5-6.5-6-7.5-4-12-2-11.5 0.5-40.5 1.5-10 9.5-38.5 8-24 2.5-11.5 4-9 5.5-8 10-7.5 10-5 8.5-1 6.5 1.5 7.5 4.5 8 6.5 4 6 3 10.5 3 13 7 20.5 20 48.5 1 8.5-1 14-2 18-3 10-7 15-7.5 8.5-11.5 7.5-13 5-13.5 2zM938 365.5l-8.5-2-10-5.5-9-7.5-5-7-4-8-2.5-11.5-7.5-23.5-10.5-40.5-1-8.5-0.5-40 2-12 4-12 6-8 8.5-7 11-4.5 12.5-2 18.5 0 13 2 13.5 5 11.5 8 7 8.5 7 15 2.5 10 2.5 22 0 11.5-1 7-19.5 47-7.5 22-2.5 13-3.5 10.5-4.5 6-8.5 7-7 3.5z"/>
<path fill="#009c00" d="M824.5 673l559 0 0-596-559 0zM922 585l-12.5-2.5-11-5-8.5-7-6-8-4-12-2-11.5 0.5-40.5 1.5-10 10-39.5 7.5-23 2.5-11.5 4.5-10 5.5-7.5 12.5-10 9.5-4.5 7.5-1 7 1.5 6.5 4 9.5 9 4 6 3.5 11 2.5 13 7 20.5 20 48.5 1 8.5-0.5 13.5-2 18.5-3.5 11.5-6.5 13.5-3.5 5-4.5 4.5-11.5 8-14 5-13.5 2zM939.5 368l-3.5 0-5-1.5-9-5-12-9-5-7.5-4.5-9.5-3-11.5-7.5-23.5-10-40.5-1.5-8.5-0.5-42 3-13.5 3.5-10 6-8.5 9.5-6.5 10-4.5 12.5-2 19.5-0.5 13 2.5 13.5 5 11.5 8 7.5 8.5 7.5 15 3 11.5 2 18.5 0.5 13.5-1 8.5-20 48.5-7 20.5-3 13-3 10.5-3.5 5.5-9.5 8.5-7.5 5z"/>
<path fill="#00a200" d="M824.5 673l559 0 0-596-559 0zM922.5 587l-12.5-2.5-10.5-4.5-10-7.5-6.5-8.5-4-11-2.5-14 0.5-40.5 1.5-8.5 10-40 7.5-24 2.5-11.5 4.5-10 5-7 11.5-10.5 11-7 6-3 2.5-0.5 5.5 2 9 6.5 10 10 4.5 6 3 10 3 15 6.5 20.5 20.5 48.5 1 7-0.5 13.5-2.5 20-3 11-6 14-4 5-4.5 5-12.5 8.5-14 6-14 2zM939 372.5l-7-2-11.5-7.5-12-10.5-5-7-4.5-10-2.5-11.5-7.5-23.5-10.5-40.5-1.5-8.5 0-42 2-13.5 3.5-10 6-8.5 10-7.5 11.5-5.5 12.5-2 19.5 0 14 2 14 6 12 9 5 5 3 4.5 6.5 14 3 11.5 2 20.5 0.5 13-1.5 7-20 48.5-7 20.5-2.5 13-2.5 10.5-4 6-10 10.5-8.5 6-4 2z"/>
<path fill="#00a700" d="M824.5 673l559 0 0-596-559 0zM927 589l-10.5-1-9.5-2.5-8.5-4-8-6-6-6-3.5-6.5-2.5-7.5-2.5-11.5-1-13.5 0.5-28.5 1-8.5 9.5-39 9-28.5 2.5-11.5 4-10 3.5-5.5 8.5-8.5 12.5-11.5 2.5-3 0-2-2-3-12.5-11-9-9.5-3-5-4.5-10-2.5-11.5-9-29-9.5-38.5-1-8.5-0.5-33.5 1.5-13.5 3.5-13.5 4.5-7.5 6.5-6.5 9-6.5 11-4.5 11-1.5 15.5-0.5 11.5 1 11 3 10.5 5 10 7 6.5 6 5 7 5 11.5 3.5 12 2.5 28.5 0 8.5-1 5-20.5 48.5-6.5 20.5-3 15-3 10-5.5 7.5-13 14.5-1.5 3 1 3.5 14.5 16 5 7.5 7 28.5 8 23.5 17 40.5 1.5 5 0 6.5-1.5 23.5-2 12-6.5 17-6.5 10-5 5-7 5-7 4-7.5 3.5-14 3.5z"/>
<path fill="#00ac00" d="M824.5 673l559 0 0-596-559 0zM926.5 590.5l-11-1-9-2.5-9.5-4.5-7.5-6-6-6-4-6.5-2.5-8.5-2.5-11.5-0.5-13.5 0.5-28.5 1-8.5 10.5-43.5 8-25.5 2-10 4-10 3-5 19-20.5 2-3 0-2-3-5-17.5-18.5-3-5-4.5-10-2.5-11.5-7.5-24.5-10.5-43-1-8.5-0.5-33.5 1-13.5 3.5-13.5 4.5-8 7-7.5 9.5-6.5 10.5-4.5 12-2 15.5 0 12 1 11 3 11 5 10 7 7.5 7.5 4.5 7 5 11.5 3 11 3 29.5 0 8.5-1.5 5-20 48.5-6.5 20.5-3 14-3 11-3 5-11.5 15-2.5 5 1.5 5 13 17 3 5 6.5 28.5 8 23.5 17.5 40.5 1 5 0.5 6.5-2 25.5-2 11.5-6.5 17-7 10-5.5 5-7 5.5-8 4-6.5 3-7 2-8 1.5z"/>
<path fill="#00b200" d="M824.5 673l559 0 0-596-559 0zM926.5 592l-11.5-1-9.5-2.5-8.5-4-7.5-6-6.5-6-4-7-3-8-2.5-12-1-13.5 1.5-37 10.5-43.5 7.5-25.5 2.5-11.5 7-15 16-18.5 2-3.5 1-3.5-2.5-5-17-20-6-13.5-2.5-11.5-7.5-23.5-11-44-1-8.5-0.5-35 1.5-13.5 3.5-13.5 5-8.5 7-7 9-6.5 11-4.5 12-2 16-0.5 12 1.5 11 2.5 11 5.5 10 7 7.5 7.5 5 6.5 5 12 3.5 12 3 30 0 8.5-1 5-20.5 48.5-6.5 20.5-2.5 15-2.5 10-13.5 20-2 5 1.5 5 11.5 17 2.5 5 6.5 28.5 8 23.5 17 40.5 1.5 5 0 6.5-1.5 25.5-2.5 11.5-6 17-7 10-6.5 6-6.5 5.5-8 4.5-7 3-14.5 3.5z"/>
<path fill="#00b700" d="M824.5 673l559 0 0-596-559 0zM926.5 593.5l-11.5-1-10-2.5-9-4-7.5-6-7-7.5-4.5-7-2.5-8-2.5-12-0.5-12 1-36.5 11-45.5 7.5-25.5 2-11.5 4-10 4-7 13.5-16.5 2-3.5 1-3.5-1.5-3-2-3.5-15-18.5-5.5-13.5-2.5-11.5-7-24.5-11.5-44.5-1-42 1.5-13.5 3-13.5 5-8.5 7.5-8.5 9.5-6.5 10.5-4.5 12.5-2 16.5-0.5 13 1.5 11 3 10 4.5 10.5 8 8 7.5 5.5 7.5 5 12 3.5 12 2.5 28.5 0.5 8-1 5-21 50.5-6 20.5-2.5 15-2.5 10-11.5 18.5-2.5 6.5 0.5 3.5 1.5 3.5 12 20 2.5 10 2 12 2 8.5 8 23.5 17 38.5 1 5 0.5 6.5-2 25.5-2 11.5-7 18-3 5.5-4 5-7 6.5-6.5 5-7 4.5-7 3-8 2.5-7.5 1z"/>
<path fill="#00bf00" d="M824.5 673l559 0 0-596-559 0zM926.5 595l-11.5-1-10-2.5-9-4-7.5-5.5-7-7-5-7.5-3-8.5-2.5-12-1-13.5 1-31.5 2-13.5 10.5-42 6-20.5 3.5-15 5.5-11.5 14.5-20.5 1.5-5-1-3-2-3.5-14-18.5-5.5-13.5-2-11.5-7-23.5-11.5-45.5-1.5-42 1.5-13.5 3-13.5 5.5-9.5 7.5-8.5 10-7 10.5-4.5 12.5-2 16-0.5 13 1 12 3 10 5 10.5 7.5 9 8.5 5 7.5 5.5 12 3.5 13 3 28.5 0 8-0.5 5-21 50.5-6.5 20.5-2.5 15-2 10-10.5 18.5-2 6.5 1.5 7 11 20 4 22 2.5 8.5 7.5 23.5 17 38.5 1 5 0.5 6.5-2 27-2 11.5-6.5 17-3 5-4.5 6-6 6-8 6-7 4-7 3.5-7.5 2-8 1.5z"/>
<path fill="#00c400" d="M824.5 673l559 0 0-596-559 0zM926.5 596.5l-11.5-1-10-2-9-4-7.5-5.5-7-6.5-5.5-8.5-3.5-8.5-2.5-11.5-1-17 0.5-32 1.5-10 17.5-64 2.5-13 5.5-13.5 13.5-18.5 1.5-3.5 0.5-3.5-1-3-1.5-3.5-13.5-18.5-5.5-13.5-2.5-13.5-6-20-11.5-47-1.5-42 1.5-15 3.5-13.5 5-9.5 8-8.5 9-7 11-4 13.5-2.5 16-0.5 13 1 12 3 10 5 10 7 10 9 6 8.5 5 11 3.5 12.5 3 28.5 0 8.5-0.5 6.5-20 47.5-7 23.5-4 23.5-10 20-2 6.5 0.5 3.5 1.5 5 9.5 18.5 4.5 23.5 5 18.5 6.5 17 14.5 33.5 1.5 5 0 6.5-1.5 27-2.5 12-6 16.5-3.5 6-4.5 6-6.5 6-7.5 6-7 4.5-7 3-8 2.5-8.5 1.5z"/>
<path fill="#00ca00" d="M824.5 673l559 0 0-596-559 0zM926.5 598l-11.5-1-10-2-9.5-4-7.5-5-8-8.5-5.5-8-3-7-2.5-12-1.5-17 1-33.5 1-8 17.5-66 2.5-13 5.5-13.5 12.5-18.5 1.5-3.5 0.5-3.5-2.5-6.5-12.5-18.5-5-13.5-3-13.5-17.5-67-1.5-42 1.5-15 3.5-13.5 5.5-10 8-9.5 9.5-6.5 11-4.5 13-2.5 16.5-0.5 13 1 12.5 3 10 4.5 10 7 10 9.5 6.5 8.5 5 11 4.5 14 2.5 28.5 0.5 10-1 5-19.5 47.5-7 23.5-4 23.5-8.5 18.5-2.5 8 0.5 3.5 1.5 5 8.5 18.5 4 23.5 6.5 22 11.5 28.5 8.5 18.5 1 5 0.5 6.5-2 27-2 12-7 18.5-8 11-14 12-7 4.5-7 3.5-7.5 2.5-8.5 1.5z"/>
<path fill="#00cf00" d="M824.5 673l559 0 0-596-559 0zM927 600l-11.5-1-10.5-2.5-9.5-4-8-5-7.5-7.5-6-9-4-8.5-2-10.5-1.5-18.5 1-33.5 1-8 17-64 3-15 5-13.5 12-18.5 1-3.5 0.5-3.5-2-6.5-12-18.5-5-13.5-2.5-13.5-17.5-67-1.5-42 1.5-15 3-13.5 5-10 9.5-11 9-6.5 12-4.5 13-2.5 15.5-0.5 13 1 12.5 3 11 4.5 10 6.5 11 10.5 7 9.5 5 11.5 4 13.5 3 28.5 0 10-1 5-20 49-6.5 22-3.5 23.5-8 18.5-2 8 1.5 8.5 8 18.5 4 23.5 6 22 11.5 28.5 8.5 18.5 1 5 0.5 6.5-1.5 27-2.5 12-6.5 18.5-4 6-4.5 5.5-7 7-7 6-6.5 4-7.5 3.5-8.5 3-8.5 1.5z"/>
<path fill="#00d400" d="M824.5 673l559 0 0-596-559 0zM927 601.5l-11.5-1-10.5-2.5-10-4-8-5-8-7.5-6-9-4-8.5-2-11-2-19.5 1.5-33.5 1-8 16.5-64 3-15 5-13.5 11-18.5 2-7-2-6.5-11.5-18.5-5-13.5-2.5-13.5-17-67-2-42 2-17 3-13.5 5.5-10 9-10 9-6.5 12-5 13-2.5 16.5-0.5 14 1 12.5 3 11.5 5 9 6.5 11 10.5 8 10.5 5 11.5 4 13.5 2.5 28.5 0 10-0.5 5-15.5 35.5-5 13.5-6 22-3.5 23.5-7 16.5-2.5 10 0.5 5 1.5 5.5 7 16.5 4 23.5 5 20 6.5 17 14 32 1.5 5 0 6.5-1.5 27-2.5 13.5-6.5 17-4 6.5-5 6.5-14 12.5-7 4.5-7 3.5-8.5 2.5-8.5 2z"/>
<path fill="#00da00" d="M824.5 673l559 0 0-596-559 0zM928 603l-12.5-1-10.5-2.5-10-3.5-8.5-5-7.5-7.5-7-9.5-3.5-8.5-2.5-10-2-20 1-35.5 1-6.5 16.5-65.5 3-15 5-13.5 10.5-18.5 1.5-7-2-6.5-10.5-18.5-4.5-12-3-16.5-16-62-1.5-10.5-1-35 1.5-17 3-13.5 6-11 8.5-10 9.5-6.5 12.5-5.5 13-2.5 16-0.5 14 1 12.5 3 11.5 4.5 10 6.5 11 10.5 8.5 10.5 4.5 10.5 4.5 15 1.5 8.5 2 30-1 6.5-14.5 34-6 15-5.5 22-3.5 23.5-6.5 16.5-2 10 1.5 10.5 6.5 16.5 3.5 23.5 5.5 20 6 17 14 32 1.5 5 0.5 6.5-2 27-2.5 13.5-6.5 17.5-3.5 6-5 6.5-14 13.5-6 4-8 3.5-8.5 3-9 2-9.5 1z"/>
<path fill="#00df00" d="M824.5 673l559 0 0-596-559 0zM929 604.5l-12.5-1-11-2-10.5-4-9-5-7.5-7.5-7-9.5-4-8-2.5-10-1.5-12-0.5-10 1-35.5 1-6.5 16-64 3-16.5 4.5-12.5 10.5-19.5 1.5-7-2-6.5-10-18.5-4.5-12-3-16.5-15.5-62-1.5-8.5-1-37 1-17 3-13.5 6-11.5 8.5-10 10-7.5 12.5-5 14-3 15.5-0.5 14 1 13 3 12.5 5 10 6.5 11.5 11.5 8 10.5 5 10.5 4.5 15 1 8.5 2 28.5-0.5 6.5-2 7-8 16.5-11 28.5-5.5 20.5-3 23.5-6 16.5-2 10 1.5 10.5 6.5 18 3 22 5 20 7 18.5 13.5 30.5 1 5 0.5 6.5-1.5 27-2.5 13.5-7 18.5-8.5 12.5-13.5 13-6.5 4.5-8 4-8.5 3-9.5 2-9 1z"/>
<path fill="#00e700" d="M824.5 673l559 0 0-596-559 0zM929.5 606l-12.5-0.5-11.5-2.5-11-4-9-5.5-8-7-6.5-9-4.5-8.5-2.5-10-2.5-22 1.5-37 0.5-6.5 16-64 3-16.5 4.5-12.5 9.5-18 1.5-5 0.5-3.5-2-6.5-9.5-18.5-4-12-3.5-18-15.5-60.5-1-8.5-1.5-37 1.5-17 2.5-13.5 6-11.5 8.5-11 10-7.5 12.5-5.5 14-3 16-0.5 15 1 13 3 12.5 5 10.5 6.5 11 11 8.5 11 5 10 4.5 15 1.5 8.5 2 30.5-0.5 6.5-2 7-6.5 13-7.5 18.5-5 13.5-5 20.5-3 23.5-5.5 15-2 11.5 2 12 5.5 16.5 3 22 4.5 20 7 18.5 13.5 30.5 1 5 0.5 6.5-1.5 28.5-3 13.5-6 17-4 6.5-6 8-7 7.5-6.5 5.5-6.5 4.5-8 3.5-8.5 3-9.5 2-9 1.5z"/>
<path fill="#00ec00" d="M824.5 673l559 0 0-596-559 0zM929.5 607.5l-13-0.5-11.5-2.5-12-4.5-9-5.5-8-7-6-9-5-9.5-2.5-10-2-22 1-37 1-6.5 15.5-62 3-18.5 4-12 9.5-18.5 1.5-5 0-3.5-1.5-6.5-9-18.5-4-12-4-20-10-42-5-18.5-1-8.5-1-35 1-17 3-14 5.5-11.5 8.5-11.5 11-7.5 13-6 14-3 16-1 15 1 13 3 13 5.5 11 7 11 10.5 9 12.5 5 10 4.5 15 1.5 8.5 1.5 30.5-0.5 6.5-2 7-6.5 13-7 17-5.5 15-4.5 20.5-3 23.5-5 15-1.5 11.5 1.5 12 5 16.5 3 22 4.5 20 6.5 18.5 13.5 30.5 1.5 5 0 6.5-1.5 28.5-2.5 13.5-4 12-3 6.5-4 7-6 7-6 7-6 5.5-7 4.5-8.5 4.5-8.5 3-10.5 2.5-9 1z"/>
<path fill="#00f200" d="M824.5 673l559 0 0-596-559 0zM929.5 609.5l-13-1-11.5-2.5-12-4-10-6-7.5-7-6.5-8.5-4.5-10-3-10-2.5-23.5 2-42 15-62 3.5-20 4-12 9-18.5 1.5-8.5-2-8-8-17-4-12-3.5-20-9.5-40-5.5-20.5-1-8.5-1.5-36.5 2-18.5 2.5-12 5.5-12 8.5-11 10-7.5 13.5-6 14.5-3.5 16.5-1 15.5 1 14 3.5 13 5.5 11.5 7.5 11 11 9 12.5 4.5 10 4.5 15 1.5 8.5 2 30.5-0.5 6.5-2 7-6.5 13-7.5 17-5 15-4.5 20.5-3 23.5-5 18.5-1 10 1.5 11.5 4.5 15 3 23.5 4 18.5 6.5 18.5 13.5 30.5 1.5 5 0.5 6.5-1.5 28.5-3.5 15.5-6 16.5-4.5 7.5-7 9-6 6.5-6 5.5-8 4.5-8.5 4-8.5 3-10 2.5z"/>
<path fill="#00f700" d="M824.5 673l559 0 0-596-559 0zM929.5 611l-13-0.5-11.5-2.5-12.5-5-10-5.5-7.5-6.5-6.5-9-5.5-11-3-10.5-2-23.5 2-42 10.5-43.5 5-22 2.5-16.5 4-12 8.5-18.5 1.5-8.5-2-8-8-17-4-12-2.5-16.5-5-23.5-10-40.5-1-8.5-1.5-36.5 1.5-18.5 2.5-12 6-13.5 8-10.5 11-8 14-6.5 14.5-3.5 16.5-1 15.5 1 14 3.5 14 6 11 7.5 9.5 9 10.5 14.5 5 10 4.5 15 1.5 8.5 2 30-0.5 8.5-2 7-6.5 13-7 17-5.5 15-4 20.5-3 23.5-4.5 16.5-1 12 1.5 11.5 4.5 15 2.5 23.5 4 18.5 7 20.5 13 28.5 1 5 0.5 6.5-1.5 30.5-3.5 15-3.5 10-3 7-5 7.5-7 9-6 6.5-6 5-8 5-9.5 4-9 3.5-8.5 2z"/>
<path fill="#00fc00" d="M824.5 673l559 0 0-596-559 0zM929 613l-13.5-1-12.5-3-11.5-4.5-10.5-6-7-6.5-6.5-8-5.5-11.5-3-10-2-13.5-0.5-12 2.5-42 10-42 5-23.5 2.5-16.5 3.5-12 8.5-18.5 1.5-8.5-2-8-7.5-17-4-12-2.5-18-9.5-44-5-18.5-1.5-8.5-1.5-36.5 2-20.5 2.5-11.5 6.5-13.5 7.5-10 6-5 6-4 14-6 14.5-3.5 17-1 15.5 1 14 3.5 13.5 5.5 12 8 10 10.5 10.5 14.5 5 10 4.5 15 1.5 8.5 1.5 30-0.5 8.5-2 7-6.5 13-7 17-5 15-4 18.5-2.5 25.5-4.5 16.5-1 12 1.5 11.5 4 15 2.5 23.5 3.5 18.5 7 20.5 13 28.5 1.5 5 0 6.5-1.5 30.5-4 18.5-3 8.5-3.5 6.5-5.5 8.5-7 9-6 6-7 5.5-8.5 5-8.5 4-9.5 3-8.5 1.5z"/>
<path fill="#0fff00" d="M824.5 673l559 0 0-596-559 0zM929 615l-14-1.5-12.5-2.5-11.5-5-11-6-8-7.5-6-8-5.5-11-3-11-1.5-13.5-0.5-12 2-42 11-43.5 4-22 2.5-16.5 3.5-12 8-18.5 1-8.5-1.5-8-7-17-4.5-13.5-2-16.5-9.5-44-5-20-2.5-43.5 1.5-20.5 2.5-11.5 6.5-14.5 8-10.5 11.5-8.5 14.5-7 15.5-3.5 17-1 16.5 1.5 14 3.5 14.5 6.5 11.5 8 9.5 9.5 11 15.5 5 10.5 4 15 1.5 8.5 2 30-0.5 8.5-2 7-7 13-6 15.5-6 16.5-3.5 18.5-2.5 25.5-3.5 15-1 13.5 1 11.5 3.5 15 2.5 23.5 3.5 18.5 7 20.5 12.5 28.5 1.5 5 0.5 6.5-1.5 30.5-4 18-3 9-3.5 6.5-5.5 8.5-7 9.5-6 6.5-7 5.5-8.5 5-9.5 4.5-8.5 3-9 2-9.5 1z"/>
<path fill="#2cff00" d="M824.5 673l559 0 0-596-559 0zM929 616.5l-14-1-13.5-3-11.5-4.5-11-6.5-8-7.5-5.5-7.5-5.5-11-3.5-11.5-2.5-25 2.5-44 5.5-21.5 4.5-20.5 4.5-21.5 2-18.5 4-12 6.5-16.5 2-10.5-1.5-8-7.5-18.5-3.5-12-2-16.5-4-22-5-22-5.5-20-2.5-45.5 1.5-20 3-12 6-13.5 7.5-10 12-9 7-4 8.5-3.5 15.5-3.5 17.5-1.5 15.5 1.5 15 3.5 14 6.5 13 8.5 9.5 9.5 10.5 15.5 5 10 4.5 15.5 2.5 16.5 1 23.5-0.5 8.5-2 7-6.5 13-6.5 15.5-5.5 16.5-3.5 18.5-2 25.5-3.5 15-1 13.5 1 11.5 3.5 15 2 23.5 3.5 18.5 6.5 20.5 13 28.5 1 5 0.5 6.5-1.5 30.5-4 18.5-2.5 8.5-4 8-12.5 18-6 6.5-7 5-8.5 5.5-10.5 5-8.5 2.5-9 2.5-9.5 1z"/>
<path fill="#49ff00" d="M824.5 673l559 0 0-596-559 0zM929 618.5l-15-1-13-3-11.5-5-12-7-7.5-7-6.5-8-5.5-12-3-11.5-2-25 2-42 10.5-44 3.5-21.5 2.5-18.5 3.5-12 6.5-16.5 2-10.5-2-10-7-16.5-3.5-12-2-18.5-4-22-4-20-5.5-20-2.5-45.5 1-20 2.5-12 7-15 7.5-10 12-9.5 15-7 16-4 18-1 16 1 15 3.5 13 6 14 9 10 9.5 10 14.5 6 11.5 4.5 15 2.5 15.5 1 23.5 0 10-2.5 8.5-7 15-6.5 15-4.5 15-3.5 18.5-2 25.5-3 15-1 13.5 1 11.5 3 15 2.5 25.5 2.5 16.5 7 20.5 12.5 28.5 1.5 5 0.5 6.5-1.5 30.5-1.5 8.5-3 11-3 9-3 6.5-12.5 18.5-6 6.5-8 6.5-10 6-8.5 4-8.5 3-9.5 2-10 1z"/>
<path fill="#75ff00" d="M824.5 673l559 0 0-596-559 0zM929 620.5l-15-1.5-13-2.5-11.5-4.5-12-7-8.5-7.5-6.5-8.5-5.5-11.5-3.5-12-1.5-13.5-0.5-13 2-42 6.5-23.5 4-20.5 3.5-20 2-20 3.5-12 6.5-16.5 1.5-10.5-2-10-6-16.5-3.5-12-2-18.5-3.5-22-4.5-20-5.5-20-2.5-45.5 1.5-22 2.5-11.5 6.5-15 8-10 12.5-9.5 7-4 7.5-3 17-4.5 18-1 17 1 15.5 4 13 6 14 9.5 10 10 10 14.5 6 12 4.5 15 2.5 15.5 1 33.5-2.5 8.5-7.5 15-6 15-5 15-2.5 17-2 27-3 13-0.5 15.5 0.5 11.5 3 15 2 25.5 2.5 16.5 3 10.5 4.5 11.5 12 27 1 5 0.5 6.5-1.5 30.5-1 8.5-3 11.5-3 8.5-4 8.5-7 11-5 7.5-6.5 6-7.5 6.5-8.5 5.5-9.5 4.5-9 3-9.5 2.5-11 1z"/>
<path fill="#93ff00" d="M824.5 673l559 0 0-596-559 0zM929 622.5l-15-1.5-14-3-12.5-4.5-10.5-7-9.5-8-6-7.5-5.5-11.5-3.5-12-1.5-12-1-16.5 2.5-42 6-23.5 4-20.5 3-18.5 2-21.5 3.5-12 5.5-15 2-7 0-5-1.5-10-6-16.5-3.5-12-2-20-3-20.5-4-20-5.5-20-3-45.5 1.5-22 3-13 6-15 8-9.5 6-5.5 7-5 14-7 18-4 18.5-1.5 17 1.5 16 3.5 13.5 6 13 9 11 10.5 9 13.5 7 13.5 4.5 15 3 17 0.5 33.5-2.5 8.5-6.5 13-6 15.5-5.5 16.5-2 15.5-2 28.5-2.5 13-0.5 17 0.5 12 2.5 15 2 27 2.5 15 3 10 5 13.5 10.5 23.5 1.5 5 0.5 6.5-1.5 32-4.5 20-3 8.5-3 7-7 12-5.5 7.5-6.5 6.5-8.5 6.5-9 6-8.5 4.5-9.5 3-10 2.5-11 1z"/>
<path fill="#b0ff00" d="M824.5 673l559 0 0-596-559 0zM929 624.5l-15-1.5-14.5-3-12.5-4.5-11-6.5-9-8-7-9-5.5-11-4-13.5-1.5-12-0.5-16.5 2.5-42 6.5-25.5 3.5-18.5 3-18.5 1.5-20 3-12 6-16.5 1.5-12-2-11.5-5-15-3.5-12-1.5-20-3-20.5-3.5-18-6.5-24-2.5-45 1.5-22 3-13 5.5-14 3.5-5 5-5.5 6-5.5 7-5 14-7 9-3 9.5-1.5 19.5-1.5 17 1 16 4 14 6 12.5 8.5 11 10 7.5 11 8.5 15.5 5.5 17 2 10 1 8.5 1 33.5-2.5 8.5-6.5 13-6 15.5-5.5 16.5-2 15.5-1.5 26.5-2.5 15 0 20.5 0 8.5 2.5 15 2 28.5 2 13.5 2.5 10 5 13.5 11 23.5 1.5 5 0 6.5-1 32-4.5 20.5-2.5 8-3.5 7.5-7 12.5-5.5 7.5-7 7-8.5 7-8.5 6-8.5 4-9.5 3-11 2.5-10.5 1.5z"/>
<path fill="#c0fd00" d="M824.5 673l559 0 0-596-559 0zM929.5 626.5l-15.5-1-14.5-3.5-13.5-4.5-10.5-6.5-11-9.5-7-9-4.5-10-4-13.5-1-10-1-18.5 2.5-43.5 6.5-23.5 3.5-18.5 2.5-20.5 1.5-20 8.5-28.5 1.5-12-2-11.5-8-27-1.5-22-2.5-18.5-3.5-18-6.5-24-2.5-45 1.5-22 3-15 5.5-13.5 4.5-6 4.5-5.5 12.5-10 7.5-4 8-3 17.5-5 10.5-1 10-0.5 17 1.5 16 4 14 5.5 12 7.5 11.5 10.5 7.5 10 10 19 5 15.5 3.5 18.5 1 35.5-2.5 8.5-6.5 13-6 15.5-5 16.5-2 13.5-1.5 28.5-2 15 0 24 0 6.5 2.5 13.5 1 28.5 2 13.5 2.5 10 5 13.5 11 23.5 1 5 0.5 6.5-1 32-4.5 20.5-2.5 8-4 8.5-6.5 12.5-5.5 7.5-7 7.5-8.5 7-8 5.5-8.5 4.5-10 3.5-11.5 3-11.5 1.5z"/>
<path fill="#c8fb00" d="M824.5 673l559 0 0-596-559 0zM929.5 629l-14.5-1-15.5-3.5-14-5-11.5-6.5-10.5-9-7.5-10-5-10-3.5-13.5-1-10-1-20 2.5-43.5 6.5-23.5 3.5-18.5 2-18.5 1-22 8-27 2-13.5-2-11.5-7.5-27-1-22-2.5-18.5-3.5-18-6-24-3-45 1-23.5 3.5-15 5.5-13.5 9-11.5 6-5.5 6.5-4.5 7.5-4.5 8.5-3.5 19.5-5 19.5-1.5 16 1.5 16.5 3.5 14.5 6 12 7 11.5 10.5 8.5 10.5 10 18.5 5 15.5 3 13 1 8.5 1 35.5-2.5 8.5-6.5 13-5.5 13.5-5.5 18.5-1.5 12-1 30-2 15 0 25.5 2 20 1 30.5 2 11.5 2.5 10 5.5 13.5 10 22 1 5 0.5 6.5-1 32-4.5 22-3 8.5-4 9-6 11-5.5 8-7.5 8-8.5 7.5-7 5-8.5 4-10.5 4-12 3-12 2z"/>
<path fill="#d0f800" d="M824.5 673l559 0 0-596-559 0zM930.5 632.5l-15.5-1.5-15.5-3.5-15-5.5-11.5-6.5-10-8.5-8.5-10.5-4.5-9-4-13.5-1.5-11.5-1-20.5 3-43.5 1-6.5 5.5-19 3-18 2.5-18.5 0.5-22 7.5-27 1.5-13.5-2-13.5-7-25-1-23.5-2-18.5-3-17-6.5-23.5-3-45 1.5-23.5 3-17 2.5-7 3-6 8.5-11.5 6.5-5.5 6-4.5 8-4.5 8.5-3.5 19-6 10.5-1.5 10.5-0.5 16.5 1.5 17.5 4 15 6 11.5 7 12.5 11.5 8.5 10.5 9 17.5 5.5 14.5 3 13.5 1.5 10 1 35-2 8.5-8 17-5 13.5-5 16.5-1 12-0.5 28.5-2 16.5 0 27 2 17 0.5 30 1.5 13.5 3 10 5 13.5 10 22 1 5 0.5 6.5-1 32-4.5 22-3 9.5-4.5 10.5-5.5 10.5-5.5 7.5-7.5 8.5-8 7-7 5-8.5 4.5-12.5 4.5-12 3.5-12 2z"/>
<path fill="#d8f500" d="M824.5 673l559 0 0-596-559 0zM931 636.5l-14-1-17.5-5-17-6.5-12-6.5-9-8-8.5-11-5-9.5-3.5-11.5-2-13.5-0.5-22 3-43.5 1-6.5 5-18.5 2.5-13 2.5-22.5 0-23.5 7.5-27 1.5-13.5-1.5-13.5-7.5-26.5 0-20.5-1-13-3.5-22-6.5-25.5-3-47 1-25 3.5-17 2.5-6.5 3-5.5 9.5-12 5.5-5 7-5 17-8.5 22.5-7 9-1.5 8.5-0.5 16.5 2 17.5 5 16.5 6.5 12.5 7.5 11.5 11.5 9.5 11.5 8.5 17 5 14 3.5 15.5 1.5 10 0.5 35-2 8.5-8 17-5 13.5-4.5 16.5-1 12 0.5 21.5-2 22 0 30.5 2 21.5-0.5 25.5 1.5 11.5 2.5 10 4.5 12 10.5 23.5 1.5 5 0 6.5-0.5 32-4.5 22-3 10-5 12-5 10-5 7-8 9-7 6.5-7 5.5-8.5 4.5-12 5.5-15.5 4.5-11 2.5z"/>
<path fill="#e4f100" d="M824.5 673l559 0 0-596-559 0zM931 644l-8.5-0.5-9-2.5-25-10.5-18.5-10-6.5-4.5-5-5.5-9.5-12.5-5-12-3-18.5-1-23.5 3-47 6.5-25.5 3.5-20 1-15-0.5-22 6.5-25 2-15.5-1.5-13.5-7-26.5 0.5-23.5-2.5-22-2.5-14-5-18-1-6.5-3-44 0.5-21.5 2-15 3.5-11.5 4.5-9 8.5-11 8.5-7.5 15-9 27-12 11-3 10.5-1 10 0.5 10 3 34.5 15.5 8.5 5.5 6 5 12.5 14 5 7 3.5 7 6 14.5 3.5 10 4.5 24 1 31.5-0.5 7-1 5-10.5 23.5-4.5 11.5-2.5 10.5-1 13 1 22-2 23.5 0.5 15-0.5 17 2 23.5-1 20 0.5 12 2 8.5 3 10 4.5 11.5 7.5 15.5 2 8-0.5 37-4.5 25.5-5 13.5-7.5 16.5-9.5 13-11 11-13.5 9-29 13.5-11.5 3.5z"/>
<path fill="#ecef00" d="M824.5 673l559 0 0-596-559 0zM931 654.5l-14-1.5-7-2-6-2.5-7-4.5-11.5-9.5-20-13-10.5-9-9-13-4.5-12-3-18.5-0.5-23.5 3.5-48.5 6-23.5 3-20.5 1-15-1.5-18.5 0.5-5 6-25 1.5-13.5-1-15.5-6.5-26.5 1-23.5-1.5-20.5-2.5-14-5-17.5-1.5-8.5-3-45.5 0.5-23.5 2-15 3-10 4.5-9.5 7-9.5 8-7.5 23.5-15.5 12-9.5 7-4.5 11.5-4 14-1.5 8.5 0.5 8 1.5 7.5 3 6.5 3 14 11.5 17.5 11 7 5 7 7 8 10 5 8 4 7.5 5.5 14.5 3 10.5 4.5 24 1 31.5-0.5 7-1 5-9.5 20-5.5 17-2.5 10-0.5 8.5 1.5 23.5-2 25 1 15-1 17 2 25-1.5 18.5 0 10 1.5 8.5 3 10 5 13.5 8 17 1.5 8.5-0.5 35-1.5 10-3.5 17-5 14.5-6 14.5-9.5 13.5-9 10.5-8 6.5-17.5 11-13.5 10.5-6 4-12.5 4z"/>
<path fill="#f0ea00" d="M824.5 673l95 0-8.5-5-15.5-4.5-7-4.5-4-4.5-6-13.5-3-5-18-15-7-7.5-7-11-4.5-11.5-2.5-13.5-1-15 0-23.5 3.5-42 6.5-25.5 3-18.5 0.5-15-2.5-22 6.5-26.5 1-15.5-1-15-6-25 2-23.5-1.5-20.5-2.5-15-5.5-22-3.5-38.5-0.5-30 2-18.5 3.5-13.5 7-13 8.5-10.5 18.5-15 3-5 5.5-12 3.5-5 5.5-4.5 6-3 8.5-2.5 6-5-88.5 0zM942.5 673l441 0 0-596-434 0 6 5 11 4 7.5 4.5 4 5 6 13.5 3.5 5 17 14.5 7 7.5 9.5 14 5 9 6.5 19 3.5 15 3.5 21.5 0 35.5-1.5 6.5-8 17-4.5 11.5-3 10-1.5 10.5 0 8 2.5 18.5-1.5 27 1 17-1 15 1.5 25-2.5 25.5 1 10 3 11.5 4.5 12 7.5 15 2 7 1 6.5-0.5 25-1 17-6 25-7.5 21.5-10 17-9.5 11-18.5 16-3.5 5-6 13.5-4 4.5-7 4.5-15.5 4.5z"/>
<path fill="#f3e500" d="M824.5 672l3.5-1 1.5-3 18-9 7.5-5 5.5-6 1.5-3.5 1-5-0.5-3.5-1.5-3-15-17.5-5-8-3.5-8-3.5-13.5-1.5-22 0.5-25 3.5-42 6.5-23.5 2-15.5 0.5-18.5-3-23.5 6-25 1-17-1-15-6-25 0.5-5 2.5-18.5 0-15.5-2.5-18-6.5-25.5-3.5-42 0-37 2-15 4.5-12 7-12.5 15-17.5 1.5-3.5 0-3-2-7-5-6-9.5-6.5-16-7.5-2.5-4.5-3.5-0.5zM1026 673l357.5 0 0-596-357.5 0-1 5-1.5 1.5-15.5 11-6.5 6.5-2 6-0.5 3.5 1 3.5 3 5 8.5 9 5.5 7.5 8.5 15 5 10.5 7 25 3.5 18.5 1 10 0 30.5-0.5 6.5-2 7-7.5 15-4 11.5-3 12-1 10 0.5 8.5 2.5 16.5-1 25.5 1.5 16.5-1.5 17 1 27-2.5 18.5-0.5 10 1.5 9 3.5 11 3.5 10 7.5 15.5 1.5 6.5 0.5 30-0.5 12-5 27-8 25-12 22.5-15 18-2 3-0.5 3.5 1 5.5 3 5.5 5.5 5 15.5 11 1.5 1.5z"/>
<path fill="#f5df00" d="M1063 673l320.5 0 0-48.5-4-1-2-6-3-13-1-13.5 4.5-60.5 1.5-11.5 4-4 0-90-4-1-1.5-8 1.5-11 4-3 0-54.5-4-3-1.5-10.5 0.5-5 1-3.5 4-1.5 0-90-4-4-1.5-10.5-4.5-60.5 1-13.5 2.5-13 2.5-6.5 4-1 0-48-320.5 0-1 5-0.5 1.5-5.5 5-8.5 5-23.5 10-5 3.5-3.5 4-1 4.5 0.5 3.5 9 16.5 7.5 17 3 8.5 6 23.5 4 27 0 31.5-0.5 8.5-2 7-6.5 13-3.5 10.5-3 11.5-1.5 8.5 0.5 10 4 20-1 25.5 2 16.5-2 17 1 27-4 18.5-0.5 8 1 10.5 3 11.5 4 10 7 15.5 1.5 5 0.5 6.5 0.5 27-1 11.5-2.5 18.5-7 28.5-10.5 25-8.5 15.5-1 5 2 5 5.5 5 6.5 3.5 20.5 8 8 5.5 5 5zM824.5 648.5l6.5-1 9.5-4 5-4 2-5-1-5-8.5-15-5.5-13-2.5-10.5-1-10 0.5-40.5 3-27 1-15 1.5-6.5 5-18.5 2-15.5 0-18.5-4-18.5 0-5 5-25 1-17-1-15-5-27 4-21.5 0-20.5-2-15-6.5-23.5-1-15.5-2.5-26.5-1-33.5 0.5-15 3-12 5.5-14.5 8-14 1.5-5-1.5-5-5.5-5-9.5-4-6.5-1z"/>
<path fill="#f8da00" d="M1100 673l94.5 0 1-5 6-3 10-2.5 14-1.5 34 0 85.5 3 24-1.5 3.5-1 2-2 0.5-5-6.5-35-1.5-23.5 5.5-99 2.5-30.5-1.5-23.5-4-20-0.5-7 1-25 0-35.5-1-23.5 4.5-26.5 1.5-23.5-2.5-29-5.5-99 1.5-26.5 6.5-34 0-3-2.5-2.5-10.5-2-22.5-0.5-79 3-31 0-15.5-1.5-10-2-7.5-3-1.5-5-95.5 0-2 5-2.5 1.5-22 9.5-32 16-7 4.5-3 3.5-1 3.5 0 5 10.5 37 4 23.5 3.5 27-0.5 38.5-2 7-9 20-3 11.5-1.5 8.5 0.5 13.5 5 20 0 25.5 2 16.5-2.5 18.5 0.5 25.5-4.5 18.5-1 10 1 10 2.5 11.5 3 8.5 7 15.5 1.5 5 1 6.5 0 28.5-1 13.5-4 27-3.5 18.5-9 30-0.5 8.5 2.5 5 4.5 3.5 34.5 17.5 24.5 11 2.5 1.5zM1241 505.5l-2.5-2-1.5-5 1.5-5 2.5-1.5 2.5 1.5 1.5 5-1.5 5zM1241 257.5l-2.5-1.5-1.5-4.5 1-5 1.5-2 1.5-0.5 1.5 0.5 1.5 2 1 5-1.5 4.5zM824.5 633.5l3.5-0.5 2.5-3.5 0.5-3.5-3-13-3.5-2zM824.5 523l3.5-4 2.5-24 5.5-20 2-15 0-10-1-10.5-5.5-21.5 0.5-5 4-22 0.5-22-0.5-11.5-4.5-25.5 0.5-5 5-16.5 1-15.5-1.5-18-6-24-2.5-23-3.5-3.5zM824.5 138l3.5-1.5 2.5-9 0.5-5.5-0.5-3-2.5-3-3.5-0.5z"/>
<path fill="#fbd500" d="M1064 641l9 4.5 10 3.5 29.5 5.5 27 7.5 8.5 1 10-1 33.5-9.5 22.5-3.5 35.5-0.5 91.5 1.5 17.5-0.5 2.5-0.5 1.5-1.5 1-4.5-2-25.5-0.5-20 2-42 1.5-90.5-0.5-25.5-2-21.5 0.5-60.5-0.5-23.5 2-25.5 0.5-28.5-1.5-87-2-42 0.5-20.5 2-25-1-3.5-1.5-1.5-6-1-20.5-0.5-83.5 2-35.5-1-23.5-3-34-9.5-6-1-5.5-0.5-8.5 1.5-22 6-30 6-11 3.5-9 4-9 5-6.5 5-4 5-2.5 7-0.5 10 3 22 5.5 47-0.5 38.5-1.5 10-6.5 15-3 8.5-2 8.5-1 8.5 0 6.5 1 7 6.5 20 0 27 2.5 16.5-2.5 18.5 0 25.5-1 5-5.5 15-1 6.5 0 7 1 8.5 2 8 2.5 8.5 7 17 1.5 10 0.5 37-5.5 47-3 20 0 12 2 6.5 4 5 6 5zM1241 536.5l-4.5-1-4-2-4-3.5-3-4.5-4.5-12-1.5-6.5-0.5-8.5 0.5-8.5 1.5-6.5 4.5-12 3-4.5 4-4 4-2 4.5-1 4.5 1 4 2 4 3.5 3.5 5 4.5 12 1 6.5 0.5 8.5-0.5 8.5-1 6.5-5 12-3 4.5-4 3.5-4 2zM1241 289l-4.5-0.5-4-2.5-4-3.5-2.5-4-5-12-1-6.5-1-8.5 1.5-15 2.5-7 2.5-5.5 3-4.5 4-3.5 4-2.5 4.5-0.5 4.5 0.5 4 2 4 4 3.5 5 4.5 12 1 6.5 0.5 8.5-0.5 8.5-1.5 6.5-4.5 12-3 4-4 4-4 2zM824.5 485l3.5-1.5 1.5-4.5 2-11 1-10-1-11.5-2-8.5-1.5-4-3.5-1zM824.5 316.5l3.5-1.5 1.5-3.5 2-9.5 1-12-1-10-2-10-1.5-4-3.5-2z"/>
<path fill="#fdcf00" d="M1073 634.5l7.5 3.5 9.5 2.5 43.5 8.5 13.5 1 15.5-1.5 36.5-8 21-2.5 32.5-0.5 79 2.5 19.5-0.5 4-1.5 1-5-0.5-32 1-38.5 0.5-114.5-1-30 0-84 1-23.5-0.5-119.5-1-43.5 0.5-32-0.5-3.5-1.5-1.5-7-1-18.5 0-74.5 2-32.5 0-24.5-3-37.5-8.5-15.5-1-14 2-40 8-10 3-7 3-6 4-5 4.5-3 5-3 7-1 10 1 32 2 34-1 38.5-1.5 6.5-6.5 20.5-2 10-0.5 8 1 13.5 7 22 0.5 25 2 20.5-2 16.5-0.5 25.5-1.5 6.5-5 15-1.5 7 0 8.5 2 16.5 7.5 22 1 8.5 1 35-2.5 38.5-0.5 25.5 0.5 8.5 2 8 3.5 7 5 5zM1241 559l-7-1.5-6-3-6.5-5.5-5.5-8-4-9-3-10-2-12-0.5-11.5 0.5-12 2-11.5 3-10 4-10 5.5-8.5 6.5-6 6-3.5 7-1 7 1 7 4 6 5.5 5.5 8 4.5 10.5 3 10 2.5 11.5 0.5 12-1 11.5-2 12-3 10-4.5 9-5.5 7.5-6 6-7 3.5zM1241 313.5l-7-1.5-6-3-6.5-6.5-5-7.5-4-9-3.5-11-2-11.5-0.5-12 0.5-11.5 2-12 3.5-11 4-9 5-7.5 6.5-5.5 6-3.5 7-1 7 1 7 3.5 6 5.5 5.5 8 4.5 9.5 3 10 2.5 12 0.5 11.5-1 12-2 11.5-3 10-5 10-5.5 8.5-6.5 5.5-6 3.5z"/>
<path fill="#ffc500" d="M1083.5 625l12 4 31 8 11.5 2.5 10 0.5 8-0.5 9-1.5 44-14 15-3.5 11-1 18.5 0 40 5 24 2 22 0 4.5-0.5 2.5-1.5 1-5 1-55.5 0-124.5-1-23.5 0.5-25-0.5-59 1-23.5 0-121-1-58.5-1-3.5-1.5-1.5-11-1.5-18.5 0.5-24 2-39 5-17.5 0-13.5-1.5-14-3.5-44-14-9.5-1.5-9 0-18.5 2.5-38 10-9.5 5.5-3.5 3-3.5 5-2.5 8.5-1.5 12-1 25 0.5 32-1 35-3.5 23.5-0.5 10.5 0.5 25 5 25 0.5 23.5 1.5 18.5-1.5 20.5-0.5 23.5-5 23.5-1 23.5 1 13.5 3.5 21.5 1 37-0.5 33.5 1.5 30.5 2 8.5 3 6.5 4.5 5zM1241.5 593l-8.5-1-7.5-3.5-8-6-6.5-8-6.5-10.5-4.5-11-4-13-3-14.5-1.5-17 0-18.5 1.5-18.5 3-18.5 4-14.5 4.5-13 7-16 13.5-25 1.5-5.5 0.5-5-2-8-16.5-33-5.5-13-4-12-3.5-14.5-2.5-13.5-1.5-13.5-0.5-15 1-18.5 3-18.5 4.5-16.5 6-14.5 7.5-11.5 8.5-8.5 10-5.5 5-1.5 5 0 9.5 1.5 8.5 4 8.5 6 8.5 9.5 7 10 6 12 4.5 13.5 3 15 2 17 0 16.5-2 17-3.5 16.5-4.5 13.5-5.5 14-7.5 15-15 25-3 6.5-1 5 0.5 5 2 5.5 20 34.5 5.5 11.5 5 12.5 4 13.5 3 13.5 1.5 13.5 0.5 13.5-1 18.5-3 16.5-5.5 17-6.5 14-8.5 12-11 10-5.5 3.5-6 2.5z"/>
<path fill="#ffbd00" d="M1147 627l6.5-0.5 6-1.5 5.5-2 5.5-3.5 3.5-3.5 3.5-5 2-5 0.5-5-0.5-12-7-48.5-2.5-32 0.5-37 6-69 1-28.5-1-28.5-5.5-63.5-1-29 0.5-20 1.5-20 7.5-52 1-10-1-7-1.5-5-3-5-3.5-3.5-5-3-7-3.5-6-1.5-6.5-0.5-10.5 1.5-10.5 4-11.5 6.5-7.5 6.5-4.5 7-2.5 6.5-1 8.5-0.5 13.5 1 70.5-0.5 69 1.5 58.5-1.5 60.5 0.5 67.5-1 72 0.5 15 1.5 7 2.5 6.5 4.5 7 6 5 7.5 5 10 4.5 7.5 2.5z"/>
</g>
<path fill="#000" d="M827.4 107.6L827.3 107.8L827.7 107.9L826.1 108.9L826.9 107.1L827.0 107.5L827.2 107.4ZM844.9 107.7L844.7 107.9L845.3 108.1L842.8 109.3L844.2 106.9L844.4 107.5L844.5 107.3ZM862.4 107.8L862.1 108.0L862.8 108.3L859.4 109.7L861.5 106.7L861.7 107.4L861.9 107.2ZM879.8 107.9L879.4 108.1L880.3 108.6L875.9 109.8L878.9 106.4L879.0 107.4L879.4 107.1ZM897.2 108.0L896.8 108.2L897.6 108.9L892.4 109.5L896.4 106.1L896.4 107.2L896.8 107.0ZM914.6 108.0L914.0 108.2L914.9 109.1L909.1 108.9L914.0 105.9L913.8 107.1L914.3 107.0ZM931.9 108.1L931.3 108.1L932.0 109.2L926.1 107.9L931.7 105.8L931.3 107.0L931.8 106.9ZM949.3 108.1L948.7 108.0L949.1 109.2L943.6 106.9L949.5 105.8L948.8 106.9L949.4 106.9ZM966.6 108.0L966.1 107.9L966.3 109.1L961.4 106.0L967.2 105.9L966.4 106.8L966.9 107.0ZM984.0 108.0L983.5 107.7L983.5 108.9L979.6 105.4L984.8 106.1L983.9 106.8L984.4 107.0ZM1001.4 107.9L1001.0 107.6L1000.9 108.6L998.0 105.2L1002.3 106.4L1001.5 106.9L1001.8 107.1ZM1018.8 107.8L1018.5 107.5L1018.4 108.3L1016.4 105.3L1019.7 106.7L1019.0 107.0L1019.2 107.2ZM1036.3 107.7L1036.1 107.5L1035.9 108.0L1034.6 105.7L1037.0 107.0L1036.5 107.1L1036.6 107.3ZM1053.8 107.6L1053.6 107.5L1053.5 107.8L1052.7 106.2L1054.3 107.2L1053.9 107.2L1054.0 107.4ZM1072.0 107.5L1071.7 108.1L1071.0 108.1L1070.6 107.5L1071.0 106.9L1071.7 106.9ZM1089.5 107.5L1089.1 108.1L1088.4 108.1L1088.0 107.5L1088.4 106.9L1089.1 106.9ZM1106.9 107.5L1106.5 108.1L1105.8 108.1L1105.5 107.5L1105.8 106.9L1106.5 106.9ZM1124.3 107.5L1124.0 108.1L1123.2 108.1L1122.9 107.5L1123.2 106.9L1124.0 106.9ZM1141.8 107.5L1141.4 108.1L1140.7 108.1L1140.3 107.5L1140.7 106.9L1141.4 106.9ZM1159.2 107.5L1158.8 108.1L1158.1 108.1L1157.7 107.5L1158.1 106.9L1158.8 106.9ZM1176.6 107.5L1176.3 108.1L1175.5 108.1L1175.2 107.5L1175.5 106.9L1176.3 106.9ZM1194.1 107.5L1193.7 108.1L1193.0 108.1L1192.6 107.5L1193.0 106.9L1193.7 106.9ZM1210.8 107.7L1210.6 107.7L1210.8 108.0L1209.1 107.8L1210.7 107.0L1210.6 107.4L1210.7 107.3ZM1228.2 107.7L1228.0 107.7L1228.2 108.0L1226.4 107.6L1228.2 106.9L1228.0 107.3L1228.2 107.3ZM1245.6 107.7L1245.4 107.7L1245.6 108.0L1243.8 107.4L1245.7 107.0L1245.5 107.3L1245.6 107.3ZM1263.0 107.7L1262.9 107.6L1263.0 108.0L1261.5 107.2L1263.1 107.0L1262.9 107.3L1263.1 107.3ZM1281.2 107.5L1280.8 108.1L1280.1 108.1L1279.8 107.5L1280.1 106.9L1280.8 106.9ZM1298.6 107.5L1298.3 108.1L1297.5 108.1L1297.2 107.5L1297.5 106.9L1298.3 106.9ZM1316.1 107.5L1315.7 108.1L1315.0 108.1L1314.6 107.5L1315.0 106.9L1315.7 106.9ZM1333.5 107.5L1333.1 108.1L1332.4 108.1L1332.0 107.5L1332.4 106.9L1333.1 106.9ZM1350.9 107.5L1350.6 108.1L1349.8 108.1L1349.5 107.5L1349.8 106.9L1350.6 106.9ZM1368.4 107.5L1368.0 108.1L1367.3 108.1L1366.9 107.5L1367.3 106.9L1368.0 106.9ZM827.9 145.4L827.5 146.0L829.1 146.1L823.4 151.0L825.5 143.8L826.3 145.2L826.7 144.6ZM845.3 145.4L843.2 148.2L844.8 148.5L838.7 152.9L841.4 145.8L842.1 147.3L844.2 144.5ZM862.7 145.5L858.4 150.1L860.0 150.5L853.4 154.4L856.8 147.6L857.3 149.1L861.6 144.5ZM880.1 145.5L873.3 151.1L874.8 151.8L867.8 154.8L872.0 148.5L872.4 150.0L879.1 144.4ZM897.4 145.6L888.4 150.9L889.7 151.8L882.4 153.6L887.5 148.1L887.6 149.7L896.7 144.4ZM914.7 145.7L903.9 149.4L905.1 150.6L897.5 150.9L903.6 146.4L903.4 148.1L914.2 144.3ZM932.0 145.7L920.3 146.9L921.1 148.3L913.7 146.9L920.7 144.0L920.1 145.5L931.8 144.3ZM949.2 145.7L937.6 144.1L938.1 145.6L931.2 142.5L938.7 141.3L937.8 142.7L949.4 144.3ZM966.5 145.7L955.9 141.6L956.0 143.2L950.0 138.6L957.6 139.2L956.4 140.3L967.0 144.3ZM983.8 145.6L975.0 140.1L974.9 141.8L969.9 136.1L977.2 138.1L975.8 138.9L984.6 144.4ZM1001.1 145.5L994.7 140.0L994.3 141.6L990.2 135.2L997.2 138.3L995.7 138.9L1002.1 144.4ZM1018.5 145.5L1014.5 141.1L1013.9 142.6L1010.7 135.7L1017.1 139.6L1015.6 140.1L1019.6 144.5ZM1035.9 145.4L1034.1 142.9L1033.3 144.4L1030.8 137.3L1036.8 141.8L1035.2 142.1L1037.0 144.5ZM1053.3 145.3L1053.0 144.8L1052.2 146.1L1050.3 139.2L1055.6 143.9L1054.1 144.0L1054.5 144.6ZM1070.9 145.2L1070.7 144.8L1070.2 145.6L1069.2 141.1L1072.5 144.3L1071.5 144.4L1071.7 144.8ZM1088.5 145.1L1088.4 144.9L1088.0 145.3L1087.6 142.6L1089.5 144.6L1088.9 144.6L1089.0 144.9ZM1106.9 145.0L1106.5 145.6L1105.8 145.6L1105.5 145.0L1105.8 144.4L1106.5 144.4ZM1124.3 145.0L1124.0 145.6L1123.2 145.6L1122.9 145.0L1123.2 144.4L1124.0 144.4ZM1141.8 145.0L1141.4 145.6L1140.7 145.6L1140.3 145.0L1140.7 144.4L1141.4 144.4ZM1158.5 145.1L1158.4 145.2L1158.7 145.4L1157.2 145.8L1158.2 144.6L1158.3 144.9L1158.4 144.8ZM1176.0 145.2L1175.8 145.3L1176.3 145.6L1173.7 146.2L1175.5 144.3L1175.6 144.9L1175.8 144.8ZM1193.5 145.3L1193.1 145.4L1193.7 146.0L1190.0 146.3L1192.9 144.0L1192.9 144.8L1193.2 144.7ZM1210.9 145.4L1210.4 145.5L1211.1 146.3L1206.5 146.0L1210.5 143.7L1210.2 144.7L1210.7 144.6ZM1228.2 145.5L1227.7 145.5L1228.3 146.4L1223.4 145.3L1228.1 143.5L1227.7 144.5L1228.2 144.5ZM1245.6 145.5L1245.1 145.4L1245.5 146.4L1240.9 144.5L1245.8 143.6L1245.2 144.5L1245.7 144.5ZM1262.9 145.4L1262.5 145.3L1262.7 146.2L1259.0 143.9L1263.4 143.8L1262.7 144.5L1263.2 144.6ZM1280.4 145.3L1280.1 145.2L1280.1 145.9L1277.4 143.8L1280.8 144.1L1280.3 144.6L1280.6 144.7ZM1297.8 145.2L1297.6 145.1L1297.7 145.6L1295.8 144.2L1298.2 144.4L1297.8 144.7L1298.0 144.8ZM1316.1 145.0L1315.7 145.6L1315.0 145.6L1314.6 145.0L1315.0 144.4L1315.7 144.4ZM1332.9 145.1L1332.7 145.2L1333.1 145.3L1331.6 146.0L1332.5 144.6L1332.6 145.0L1332.7 144.9ZM1350.4 145.1L1350.3 145.4L1350.9 145.4L1348.7 147.3L1349.5 144.5L1349.8 145.1L1350.0 144.8ZM1368.0 145.2L1367.8 145.6L1368.8 145.7L1365.3 149.0L1366.4 144.3L1367.0 145.1L1367.2 144.7ZM828.0 182.8L825.4 188.8L827.1 188.7L822.3 194.6L823.0 187.1L824.1 188.3L826.6 182.2ZM845.4 182.8L840.4 193.0L842.1 193.0L836.9 198.6L838.1 191.1L839.1 192.4L844.1 182.2ZM862.8 182.8L854.8 196.3L856.4 196.4L850.9 201.5L852.7 194.2L853.6 195.6L861.5 182.1ZM880.2 182.9L868.9 197.6L870.5 197.9L864.4 202.3L867.1 195.3L867.8 196.7L879.0 182.0ZM897.5 183.0L883.4 196.1L884.9 196.7L878.1 200.0L881.9 193.5L882.4 195.1L896.5 181.9ZM914.8 183.1L898.6 192.0L899.9 192.9L892.5 194.5L897.9 189.1L897.9 190.7L914.1 181.8ZM932.0 183.2L914.9 186.0L915.9 187.3L908.4 186.4L915.2 183.0L914.7 184.6L931.8 181.8ZM949.2 183.2L932.1 179.5L932.5 181.1L925.9 177.4L933.5 176.8L932.4 178.1L949.5 181.8ZM966.4 183.1L950.4 173.6L950.2 175.2L945.1 169.6L952.5 171.4L951.1 172.3L967.1 181.9ZM983.7 183.0L969.8 169.5L969.3 171.0L965.7 164.4L972.4 167.9L970.8 168.5L984.7 182.0ZM1001.0 182.9L990.2 168.2L989.5 169.7L986.9 162.5L993.0 167.1L991.4 167.4L1002.2 182.0ZM1018.4 182.8L1010.8 169.7L1009.9 171.1L1008.2 163.7L1013.7 168.9L1012.1 169.0L1019.7 182.1ZM1035.8 182.8L1031.2 173.0L1030.2 174.3L1029.1 166.8L1034.1 172.5L1032.5 172.4L1037.1 182.2ZM1053.2 182.7L1051.0 177.1L1049.9 178.3L1049.2 170.8L1053.9 176.7L1052.3 176.6L1054.6 182.2ZM1070.6 182.7L1070.0 181.0L1068.9 182.2L1068.6 174.6L1073.0 180.7L1071.4 180.5L1072.0 182.2ZM1088.3 182.6L1088.1 182.2L1087.3 182.9L1087.2 177.7L1090.2 182.0L1089.1 181.8L1089.2 182.3ZM1105.9 182.6L1105.8 182.3L1105.4 182.8L1105.3 180.0L1106.9 182.2L1106.3 182.1L1106.4 182.4ZM1124.3 182.5L1124.0 183.1L1123.2 183.1L1122.9 182.5L1123.2 181.8L1124.0 181.8ZM1141.8 182.5L1141.4 183.1L1140.7 183.1L1140.3 182.5L1140.7 181.8L1141.4 181.8ZM1158.7 182.7L1158.5 182.9L1159.1 183.1L1156.4 184.4L1157.9 181.9L1158.1 182.5L1158.3 182.3ZM1176.2 182.8L1175.8 183.1L1176.8 183.5L1172.5 185.4L1175.0 181.4L1175.3 182.4L1175.6 182.1ZM1193.6 183.0L1193.1 183.3L1194.3 184.0L1188.2 185.6L1192.4 180.9L1192.5 182.3L1193.0 182.0ZM1211.0 183.1L1210.3 183.4L1211.5 184.5L1204.1 184.9L1210.0 180.5L1209.9 182.0L1210.5 181.8ZM1228.3 183.2L1227.2 183.3L1228.1 184.7L1220.6 183.2L1227.6 180.3L1227.0 181.9L1228.1 181.8ZM1245.5 183.2L1244.5 183.0L1245.0 184.6L1238.2 181.3L1245.7 180.3L1244.7 181.6L1245.7 181.8ZM1262.8 183.1L1262.2 182.9L1262.3 184.4L1256.7 179.9L1263.8 180.6L1262.7 181.6L1263.3 181.8ZM1280.2 183.0L1279.7 182.7L1279.6 183.9L1275.7 179.6L1281.3 181.0L1280.3 181.7L1280.8 182.0ZM1297.7 182.8L1297.4 182.6L1297.3 183.4L1294.7 180.4L1298.5 181.5L1297.8 181.9L1298.1 182.2ZM1315.3 182.7L1315.1 182.6L1315.2 183.1L1313.2 182.0L1315.5 181.8L1315.2 182.2L1315.4 182.3ZM1332.9 182.6L1332.8 182.8L1333.3 183.0L1331.1 184.2L1332.2 182.0L1332.4 182.5L1332.6 182.3ZM1350.7 182.7L1350.5 183.1L1351.6 183.1L1348.2 187.1L1348.8 181.9L1349.5 182.7L1349.7 182.3ZM1368.3 182.7L1367.5 184.7L1369.2 184.6L1364.5 190.6L1365.1 183.0L1366.2 184.2L1366.9 182.2ZM828.0 220.1L826.4 229.8L827.9 229.3L824.5 236.1L823.6 228.6L824.9 229.5L826.6 219.8ZM845.4 220.1L842.4 235.2L844.0 234.7L840.4 241.4L839.7 233.9L841.0 234.9L844.0 219.8ZM862.9 220.1L858.2 239.2L859.8 238.9L855.9 245.4L855.5 237.8L856.8 238.9L861.5 219.8ZM880.3 220.2L873.8 240.5L875.4 240.2L871.1 246.5L871.3 238.9L872.4 240.0L878.9 219.8ZM897.7 220.3L889.8 237.7L891.4 237.7L886.4 243.4L887.4 235.9L888.5 237.1L896.4 219.7ZM915.0 220.4L906.7 231.2L908.3 231.5L902.2 235.9L904.9 228.9L905.6 230.3L913.9 219.5ZM932.1 220.6L925.0 223.5L926.2 224.5L918.6 225.2L924.6 220.5L924.4 222.1L931.6 219.3ZM949.0 220.6L941.5 216.9L941.5 218.5L936.0 213.3L943.5 214.6L942.2 215.6L949.6 219.3ZM966.2 220.4L957.6 208.5L956.9 210.0L954.4 202.8L960.4 207.4L958.8 207.7L967.3 219.5ZM983.5 220.3L975.5 202.2L974.5 203.4L973.6 195.9L978.5 201.7L976.9 201.6L984.8 219.7ZM1000.9 220.2L994.5 199.8L993.3 201.0L993.2 193.4L997.4 199.7L995.8 199.4L1002.3 219.8ZM1018.3 220.1L1013.7 201.4L1012.5 202.5L1012.8 194.9L1016.7 201.4L1015.1 201.1L1019.7 219.8ZM1035.7 220.1L1032.8 205.7L1031.5 206.7L1032.2 199.1L1035.8 205.8L1034.2 205.4L1037.2 219.8ZM1053.2 220.1L1051.6 211.0L1050.3 211.9L1051.2 204.4L1054.6 211.2L1053.0 210.7L1054.6 219.8ZM1070.6 220.1L1070.0 216.0L1068.7 217.0L1069.7 209.5L1073.0 216.3L1071.4 215.8L1072.0 219.9ZM1088.1 220.1L1088.0 219.4L1086.9 220.2L1087.8 213.7L1090.6 219.7L1089.3 219.2L1089.4 219.9ZM1105.9 220.0L1105.8 219.7L1105.2 220.1L1105.6 216.8L1107.1 219.8L1106.4 219.6L1106.5 219.9ZM1124.3 220.0L1124.0 220.6L1123.2 220.6L1122.9 220.0L1123.2 219.3L1124.0 219.3ZM1141.2 220.1L1141.1 220.2L1141.5 220.2L1140.2 221.4L1140.6 219.7L1140.8 220.0L1140.9 219.9ZM1158.8 220.1L1158.7 220.5L1159.5 220.4L1157.0 223.3L1157.5 219.5L1158.0 220.2L1158.1 219.8ZM1176.4 220.2L1176.1 220.7L1177.3 220.7L1173.3 224.8L1174.4 219.2L1175.2 220.2L1175.4 219.7ZM1193.8 220.4L1193.5 220.9L1194.9 221.1L1189.5 225.2L1191.8 218.8L1192.4 220.1L1192.8 219.6ZM1211.2 220.5L1210.7 220.9L1211.9 221.5L1205.8 223.9L1209.6 218.5L1209.9 219.9L1210.4 219.5ZM1228.3 220.5L1227.8 220.7L1228.6 221.7L1222.6 221.2L1227.8 218.3L1227.5 219.5L1228.1 219.4ZM1245.4 220.5L1244.9 220.3L1245.0 221.6L1240.1 218.0L1246.2 218.3L1245.3 219.2L1245.8 219.4ZM1262.6 220.4L1262.2 220.0L1261.8 221.4L1258.3 215.7L1264.3 218.6L1263.0 219.1L1263.5 219.5ZM1280.0 220.3L1279.6 219.8L1279.0 221.0L1276.9 215.1L1281.9 218.9L1280.6 219.1L1281.0 219.6ZM1297.5 220.2L1297.3 219.8L1296.8 220.7L1295.6 216.2L1299.0 219.3L1298.0 219.4L1298.3 219.7ZM1315.2 220.1L1315.1 220.0L1314.9 220.4L1313.9 218.7L1315.7 219.5L1315.3 219.7L1315.5 219.8ZM1333.0 220.1L1332.9 220.3L1333.4 220.3L1331.7 221.9L1332.2 219.6L1332.5 220.1L1332.6 219.9ZM1350.8 220.1L1350.7 220.7L1352.0 220.3L1349.0 225.9L1348.4 219.6L1349.5 220.4L1349.6 219.9ZM1368.3 220.1L1367.6 224.4L1369.2 223.9L1365.8 230.7L1364.9 223.2L1366.2 224.1L1366.9 219.9ZM828.0 257.4L829.4 267.8L830.7 266.9L829.5 274.4L826.4 267.5L827.9 268.0L826.6 257.6ZM845.4 257.4L847.8 273.4L849.1 272.5L848.1 280.0L844.8 273.1L846.4 273.6L844.0 257.6ZM862.9 257.3L866.3 277.6L867.6 276.7L866.6 284.2L863.3 277.4L864.8 277.8L861.4 257.6ZM880.3 257.3L884.6 278.7L885.9 277.8L885.2 285.3L881.6 278.6L883.2 279.0L878.9 257.6ZM897.7 257.3L902.5 275.6L903.7 274.5L903.5 282.1L899.5 275.6L901.1 275.9L896.3 257.7ZM915.1 257.2L919.6 267.9L920.7 266.7L921.5 274.2L916.7 268.4L918.3 268.5L913.8 257.7ZM932.3 256.9L934.5 258.5L934.7 256.9L939.3 262.9L932.2 260.4L933.6 259.6L931.4 258.1ZM948.8 257.0L951.2 254.5L949.7 254.0L956.3 250.4L952.8 257.1L952.2 255.6L949.8 258.0ZM966.1 257.2L969.9 245.4L968.3 245.7L972.6 239.4L972.4 247.0L971.3 245.9L967.4 257.7ZM983.5 257.3L986.8 238.4L985.3 238.9L988.7 232.1L989.5 239.7L988.2 238.7L984.9 257.6ZM1000.9 257.4L1003.2 235.9L1001.6 236.4L1004.6 229.5L1006.0 236.9L1004.6 236.0L1002.3 257.5ZM1018.3 257.4L1019.9 237.5L1018.4 238.1L1021.1 231.0L1022.7 238.4L1021.3 237.6L1019.8 257.5ZM1035.7 257.4L1036.7 242.0L1035.2 242.6L1037.9 235.5L1039.6 242.9L1038.2 242.1L1037.2 257.5ZM1053.2 257.4L1053.7 247.6L1052.2 248.2L1054.8 241.1L1056.6 248.5L1055.2 247.7L1054.6 257.5ZM1070.6 257.4L1070.8 252.9L1069.3 253.6L1071.9 246.5L1073.7 253.8L1072.3 253.0L1072.0 257.5ZM1088.1 257.4L1088.1 256.8L1086.8 257.4L1089.1 250.9L1090.7 257.6L1089.4 256.8L1089.4 257.5ZM1105.9 257.5L1105.9 257.1L1105.2 257.4L1106.4 254.2L1107.2 257.5L1106.5 257.2L1106.5 257.5ZM1124.3 257.5L1124.0 258.1L1123.2 258.1L1122.9 257.5L1123.2 256.8L1124.0 256.8ZM1141.2 257.4L1141.2 257.6L1141.5 257.4L1141.3 259.1L1140.5 257.5L1140.9 257.7L1140.9 257.5ZM1158.8 257.4L1158.9 257.8L1159.6 257.3L1158.9 261.3L1157.3 257.6L1158.1 257.9L1158.1 257.5ZM1176.4 257.4L1176.5 257.9L1177.5 257.3L1176.6 262.9L1174.3 257.7L1175.4 258.1L1175.4 257.5ZM1193.9 257.4L1194.0 258.0L1195.1 257.2L1194.3 263.3L1191.6 257.8L1192.8 258.2L1192.7 257.6ZM1211.2 257.3L1211.3 257.8L1212.1 257.1L1212.1 261.9L1209.4 257.9L1210.4 258.0L1210.3 257.6ZM1228.3 257.3L1228.5 257.5L1228.6 257.0L1229.7 258.9L1227.8 257.9L1228.2 257.8L1228.0 257.6ZM1245.4 257.3L1245.5 257.1L1245.0 257.0L1247.1 255.3L1246.3 257.9L1246.0 257.4L1245.8 257.6ZM1262.6 257.3L1262.7 256.9L1261.6 257.1L1264.3 252.7L1264.5 257.8L1263.7 257.1L1263.5 257.6ZM1279.9 257.4L1280.0 256.8L1278.8 257.2L1281.4 251.9L1282.1 257.8L1281.1 257.0L1281.0 257.6ZM1297.5 257.4L1297.5 257.0L1296.6 257.3L1298.5 253.2L1299.2 257.7L1298.4 257.1L1298.3 257.5ZM1315.2 257.4L1315.2 257.3L1314.8 257.3L1315.8 255.8L1315.8 257.6L1315.5 257.3L1315.5 257.5ZM1333.0 257.4L1333.0 257.6L1333.3 257.4L1333.1 259.4L1332.2 257.6L1332.6 257.7L1332.6 257.5ZM1350.8 257.4L1350.9 258.0L1352.1 257.4L1350.6 263.7L1348.3 257.6L1349.6 258.1L1349.6 257.5ZM1368.4 257.4L1368.6 262.2L1370.0 261.4L1368.2 268.7L1365.7 261.6L1367.2 262.2L1366.9 257.5ZM828.0 294.7L832.7 305.5L833.7 304.3L834.6 311.8L829.7 306.0L831.3 306.1L826.6 295.3ZM845.4 294.6L854.5 310.4L855.4 309.0L857.1 316.4L851.6 311.2L853.2 311.1L844.1 295.3ZM862.7 294.5L877.6 313.4L878.3 311.9L881.1 319.0L874.9 314.6L876.5 314.3L861.6 295.4ZM880.1 294.4L900.9 313.2L901.4 311.6L905.3 318.1L898.4 314.8L900.0 314.2L879.1 295.5ZM897.4 294.3L922.9 310.1L923.0 308.5L928.0 314.2L920.7 312.2L922.1 311.3L896.6 295.6ZM914.7 294.3L943.5 304.5L943.3 302.9L949.4 307.4L941.9 307.0L943.1 305.9L914.2 295.6ZM932.0 294.2L962.2 297.9L961.6 296.3L968.6 299.4L961.1 300.7L962.0 299.3L931.8 295.7ZM949.2 294.2L977.2 291.0L976.4 289.6L983.8 291.0L976.9 294.0L977.4 292.4L949.4 295.7ZM966.4 294.3L991.7 281.6L990.4 280.6L997.9 279.3L992.4 284.5L992.4 282.8L967.1 295.6ZM983.7 294.4L1003.4 275.6L1001.9 275.1L1008.6 271.6L1004.9 278.2L1004.4 276.7L984.7 295.5ZM1001.0 294.6L1014.7 271.9L1013.1 271.8L1018.7 266.7L1016.8 274.1L1016.0 272.7L1002.2 295.3ZM1018.3 294.7L1025.9 274.0L1024.3 274.2L1028.8 268.2L1028.4 275.7L1027.3 274.5L1019.7 295.2ZM1035.8 294.8L1040.1 280.6L1038.5 280.9L1042.8 274.6L1042.7 282.2L1041.5 281.0L1037.2 295.2ZM1053.2 294.8L1055.4 286.8L1053.8 287.1L1057.9 280.7L1058.0 288.3L1056.8 287.2L1054.6 295.2ZM1070.6 294.8L1071.4 291.6L1069.8 292.0L1073.7 285.5L1074.0 293.0L1072.8 292.0L1072.0 295.1ZM1088.2 294.8L1088.3 294.3L1087.0 294.6L1090.1 289.3L1090.5 295.4L1089.5 294.5L1089.3 295.1ZM1105.9 294.9L1106.0 294.6L1105.3 294.7L1107.0 292.1L1107.0 295.2L1106.5 294.8L1106.5 295.0ZM1124.3 295.0L1124.0 295.6L1123.2 295.6L1122.9 295.0L1123.2 294.3L1124.0 294.3ZM1141.2 294.9L1141.3 295.0L1141.4 294.6L1142.1 296.1L1140.7 295.3L1141.0 295.2L1140.9 295.1ZM1158.8 294.8L1159.0 295.1L1159.3 294.4L1160.4 297.8L1157.6 295.6L1158.4 295.4L1158.2 295.2ZM1176.3 294.6L1176.6 295.0L1177.1 294.0L1179.2 299.1L1174.7 296.0L1175.8 295.7L1175.5 295.3ZM1193.8 294.5L1194.3 294.9L1194.7 293.5L1198.3 299.4L1192.0 296.5L1193.4 295.9L1192.9 295.5ZM1211.1 294.3L1211.8 294.7L1211.8 293.1L1217.2 298.4L1209.8 296.9L1211.1 296.0L1210.4 295.6ZM1228.3 294.2L1229.1 294.4L1228.6 292.8L1235.5 296.0L1228.0 297.1L1228.9 295.8L1228.1 295.7ZM1245.5 294.3L1246.3 294.1L1245.2 292.8L1252.8 293.3L1246.2 297.1L1246.6 295.5L1245.8 295.7ZM1262.7 294.4L1263.3 294.0L1262.0 293.1L1269.2 291.3L1264.1 296.8L1264.0 295.2L1263.4 295.6ZM1280.1 294.5L1280.5 294.1L1279.2 293.6L1285.1 290.8L1281.7 296.3L1281.4 295.0L1280.9 295.4ZM1297.6 294.7L1297.9 294.3L1297.0 294.0L1301.0 291.8L1298.9 295.9L1298.5 295.0L1298.2 295.3ZM1315.2 294.8L1315.4 294.7L1315.0 294.4L1317.3 293.9L1315.6 295.6L1315.6 295.1L1315.4 295.2ZM1333.0 294.8L1333.1 295.0L1333.3 294.5L1334.3 296.8L1332.2 295.4L1332.7 295.3L1332.6 295.1ZM1350.7 294.8L1350.9 295.3L1351.8 294.4L1351.9 300.4L1348.6 295.5L1349.8 295.7L1349.7 295.1ZM1368.3 294.8L1369.3 298.2L1370.5 297.1L1370.3 304.7L1366.3 298.2L1367.9 298.6L1366.9 295.2ZM827.8 331.9L833.4 337.0L833.8 335.5L837.7 342.0L830.9 338.7L832.4 338.1L826.8 333.0ZM845.1 331.9L858.8 340.7L859.0 339.1L863.9 344.9L856.7 342.8L858.1 341.9L844.3 333.1ZM862.5 331.8L886.2 342.9L886.1 341.2L891.8 346.3L884.3 345.2L885.5 344.2L861.9 333.1ZM879.8 331.8L914.1 343.1L913.9 341.5L920.1 345.9L912.5 345.7L913.7 344.5L879.4 333.2ZM897.2 331.8L941.5 342.0L941.1 340.4L947.7 344.2L940.2 344.7L941.2 343.4L896.9 333.2ZM914.5 331.7L966.9 338.4L966.3 336.9L973.2 340.0L965.8 341.2L966.7 339.9L914.4 333.2ZM931.9 331.7L988.1 334.2L987.4 332.7L994.6 335.2L987.2 337.0L988.0 335.6L931.8 333.2ZM949.2 331.7L1035.9 317.7L1035.0 316.4L1042.5 317.4L1035.7 320.7L1036.1 319.1L949.4 333.2ZM966.6 331.8L1035.9 317.9L1034.9 316.6L1042.5 317.4L1035.8 320.9L1036.2 319.4L966.9 333.2ZM984.0 331.8L1036.0 318.3L1034.9 317.1L1042.5 317.4L1036.0 321.3L1036.3 319.7L984.4 333.2ZM1001.3 331.8L1036.1 318.9L1034.9 317.8L1042.5 317.4L1036.4 321.9L1036.6 320.3L1001.9 333.1ZM1018.6 331.9L1036.6 320.3L1035.2 319.5L1042.5 317.4L1037.5 323.1L1037.4 321.5L1019.4 333.1ZM1035.9 332.0L1044.3 323.3L1042.8 322.8L1049.4 319.1L1045.9 325.8L1045.4 324.3L1037.0 333.0ZM1053.2 332.2L1055.2 328.0L1053.6 328.1L1058.7 322.5L1057.5 329.9L1056.5 328.7L1054.5 332.8ZM1070.7 332.5L1070.7 332.0L1069.6 332.7L1070.5 326.7L1073.1 332.2L1071.8 331.8L1071.9 332.4ZM1088.4 332.3L1088.6 332.0L1087.7 332.0L1090.3 328.9L1089.8 332.9L1089.3 332.3L1089.1 332.6ZM1106.0 332.4L1106.1 332.2L1105.6 332.2L1107.1 330.6L1106.7 332.7L1106.5 332.4L1106.4 332.6ZM1124.3 332.5L1124.0 333.1L1123.2 333.1L1122.9 332.5L1123.2 331.8L1124.0 331.8ZM1141.8 332.5L1141.4 333.1L1140.7 333.1L1140.3 332.5L1140.7 331.8L1141.4 331.8ZM1158.6 332.2L1158.8 332.4L1158.9 331.8L1160.8 333.8L1158.1 333.2L1158.6 332.8L1158.3 332.7ZM1176.1 332.1L1176.5 332.3L1176.5 331.3L1179.9 334.5L1175.3 333.7L1176.1 333.1L1175.7 332.9ZM1193.5 331.8L1194.2 332.1L1194.0 330.6L1199.6 334.7L1192.7 334.3L1193.7 333.3L1193.1 333.1ZM1210.9 331.8L1212.9 332.1L1212.4 330.6L1219.1 334.1L1211.6 334.8L1212.6 333.6L1210.6 333.2ZM1228.2 331.7L1231.3 331.9L1230.7 330.4L1237.8 333.0L1230.5 334.8L1231.3 333.4L1228.1 333.2ZM1245.6 331.7L1248.6 331.5L1247.7 330.1L1255.1 331.7L1248.1 334.4L1248.7 332.9L1245.7 333.2ZM1262.9 331.8L1264.6 331.4L1263.6 330.1L1271.1 330.7L1264.5 334.4L1264.9 332.8L1263.2 333.2ZM1280.3 331.9L1280.9 331.7L1279.9 330.7L1286.4 330.4L1281.1 334.2L1281.3 332.9L1280.7 333.1ZM1297.8 332.1L1298.1 331.9L1297.5 331.3L1301.7 331.0L1298.3 333.6L1298.4 332.7L1298.1 332.8ZM1315.3 332.2L1315.5 332.2L1315.3 331.8L1317.7 332.2L1315.4 333.2L1315.6 332.7L1315.4 332.7ZM1332.9 332.3L1333.1 332.4L1333.2 331.9L1334.5 333.8L1332.4 333.0L1332.8 332.8L1332.6 332.6ZM1350.5 332.3L1350.7 332.6L1351.2 331.9L1352.2 335.9L1349.2 333.1L1350.1 333.0L1349.9 332.7ZM1368.2 332.2L1368.5 332.8L1369.4 331.5L1370.8 338.5L1365.8 333.4L1367.3 333.4L1367.0 332.8ZM827.3 369.2L831.2 369.1L830.4 367.7L837.7 369.7L830.5 372.0L831.2 370.6L827.3 370.7ZM844.7 369.2L856.6 369.0L855.8 367.6L863.1 369.7L855.9 372.0L856.6 370.5L844.7 370.7ZM862.2 369.2L885.6 369.0L884.9 367.6L892.2 369.7L884.9 371.9L885.6 370.5L862.2 370.7ZM879.6 369.2L915.1 369.0L914.3 367.5L921.6 369.7L914.4 371.9L915.1 370.4L879.6 370.7ZM897.0 369.2L944.1 369.0L943.4 367.5L950.6 369.7L943.4 371.9L944.1 370.4L897.0 370.7ZM914.4 369.2L971.3 369.0L970.6 367.5L977.8 369.7L970.6 371.9L971.3 370.4L914.5 370.7ZM931.9 369.2L994.4 369.0L993.6 367.5L1000.9 369.7L993.6 371.9L994.4 370.4L931.9 370.7ZM949.3 369.2L1011.3 369.0L1010.5 367.5L1017.8 369.7L1010.6 371.9L1011.3 370.4L949.3 370.7ZM966.7 369.2L1023.2 369.0L1022.5 367.5L1029.7 369.7L1022.5 371.9L1023.2 370.4L966.7 370.7ZM984.2 369.2L1030.0 369.0L1029.3 367.5L1036.6 369.7L1029.3 371.9L1030.0 370.4L984.2 370.7ZM1001.6 369.2L1035.1 369.0L1034.3 367.5L1041.6 369.7L1034.4 371.9L1035.1 370.4L1001.6 370.7ZM1019.0 369.2L1040.2 369.0L1039.5 367.6L1046.7 369.7L1039.5 371.9L1040.2 370.5L1019.0 370.7ZM1036.4 369.2L1045.2 369.1L1044.5 367.6L1051.8 369.7L1044.6 372.0L1045.2 370.5L1036.5 370.7ZM1053.9 369.5L1054.3 369.5L1053.8 368.5L1058.7 369.7L1054.0 371.4L1054.4 370.4L1053.9 370.4ZM1072.0 370.0L1071.7 370.6L1071.0 370.6L1070.6 370.0L1071.0 369.3L1071.7 369.3ZM1089.5 370.0L1089.1 370.6L1088.4 370.6L1088.0 370.0L1088.4 369.3L1089.1 369.3ZM1106.9 370.0L1106.5 370.6L1105.8 370.6L1105.5 370.0L1105.8 369.3L1106.5 369.3ZM1124.3 370.0L1124.0 370.6L1123.2 370.6L1122.9 370.0L1123.2 369.3L1124.0 369.3ZM1141.8 370.0L1141.4 370.6L1140.7 370.6L1140.3 370.0L1140.7 369.3L1141.4 369.3ZM1158.5 369.7L1158.8 369.7L1158.5 369.1L1161.3 370.1L1158.4 370.8L1158.7 370.3L1158.5 370.2ZM1175.9 369.4L1176.5 369.4L1176.0 368.3L1181.4 370.2L1175.8 371.6L1176.4 370.5L1175.9 370.5ZM1193.3 369.2L1196.1 369.3L1195.4 367.8L1202.6 370.2L1195.3 372.2L1196.1 370.8L1193.3 370.7ZM1210.8 369.2L1217.5 369.3L1216.8 367.9L1224.0 370.1L1216.7 372.2L1217.4 370.8L1210.7 370.7ZM1228.2 369.2L1237.5 369.3L1236.8 367.8L1244.0 370.0L1236.7 372.2L1237.5 370.7L1228.2 370.7ZM1245.6 369.2L1254.9 369.2L1254.2 367.7L1261.4 369.9L1254.2 372.1L1254.9 370.6L1245.6 370.7ZM1263.0 369.2L1269.7 369.1L1269.0 367.7L1276.3 369.8L1269.1 372.1L1269.8 370.6L1263.1 370.7ZM1280.5 369.2L1283.2 369.2L1282.5 367.7L1289.8 369.8L1282.6 372.1L1283.3 370.6L1280.5 370.7ZM1297.9 369.4L1298.5 369.4L1297.9 368.3L1303.5 369.8L1298.0 371.6L1298.5 370.5L1297.9 370.5ZM1315.3 369.7L1315.6 369.7L1315.3 369.1L1318.4 370.0L1315.3 370.9L1315.6 370.3L1315.3 370.3ZM1332.8 369.8L1333.0 369.8L1332.8 369.4L1334.6 370.1L1332.7 370.5L1332.9 370.2L1332.8 370.2ZM1350.2 369.8L1350.4 369.8L1350.3 369.4L1352.0 370.4L1350.1 370.5L1350.3 370.2L1350.2 370.1ZM1367.7 369.7L1368.0 369.8L1367.8 369.1L1370.3 370.7L1367.4 370.8L1367.8 370.3L1367.6 370.2ZM826.9 406.9L831.9 403.5L830.5 402.7L837.7 400.5L832.9 406.3L832.7 404.7L827.7 408.1ZM844.4 406.8L858.6 399.8L857.3 398.8L864.7 397.6L859.2 402.7L859.2 401.1L845.1 408.1ZM861.9 406.8L887.1 398.2L885.9 397.0L893.5 396.8L887.3 401.2L887.5 399.6L862.4 408.1ZM879.4 406.8L915.8 397.6L914.7 396.4L922.3 396.8L915.8 400.6L916.1 399.1L879.8 408.2ZM896.9 406.7L944.5 398.8L943.5 397.5L951.0 398.5L944.2 401.8L944.7 400.2L897.1 408.2ZM914.4 406.7L970.9 401.5L970.0 400.2L977.4 401.7L970.4 404.5L971.0 403.0L914.5 408.2ZM931.9 406.7L991.8 405.0L991.1 403.6L998.4 405.6L991.2 407.9L991.9 406.5L931.9 408.2ZM949.4 406.7L1038.6 417.6L1038.1 416.1L1045.0 419.2L1037.6 420.4L1038.4 419.1L949.2 408.2ZM966.8 406.7L1038.7 417.5L1038.2 415.9L1045.0 419.2L1037.5 420.2L1038.5 418.9L966.6 408.2ZM984.3 406.7L1038.7 417.2L1038.3 415.7L1045.0 419.2L1037.5 419.9L1038.5 418.6L984.0 408.2ZM1001.8 406.8L1038.9 416.8L1038.6 415.2L1045.0 419.2L1037.4 419.4L1038.5 418.2L1001.4 408.2ZM1019.3 406.8L1039.4 415.8L1039.3 414.2L1045.0 419.2L1037.5 418.2L1038.8 417.1L1018.7 408.1ZM1036.9 406.9L1045.4 413.7L1045.8 412.1L1050.1 418.4L1043.0 415.5L1044.5 414.8L1036.0 408.0ZM1054.5 407.1L1055.8 409.4L1056.7 408.1L1058.3 415.5L1052.9 410.2L1054.5 410.1L1053.3 407.8ZM1071.7 407.5L1071.6 407.9L1072.5 407.7L1070.5 411.5L1070.1 407.2L1070.8 407.8L1070.9 407.4ZM1089.0 407.3L1089.2 407.6L1089.6 407.0L1090.3 410.3L1087.9 407.9L1088.6 407.9L1088.5 407.6ZM1106.3 407.4L1106.4 407.5L1106.6 407.2L1107.1 408.9L1105.7 407.7L1106.1 407.7L1106.0 407.6ZM1124.3 407.5L1124.0 408.1L1123.2 408.1L1122.9 407.5L1123.2 406.8L1124.0 406.8ZM1141.8 407.5L1141.4 408.1L1140.7 408.1L1140.3 407.5L1140.7 406.8L1141.4 406.8ZM1158.4 407.2L1158.6 407.1L1158.2 406.7L1160.9 406.4L1158.8 408.2L1158.8 407.6L1158.6 407.7ZM1175.7 407.0L1176.2 406.9L1175.4 406.2L1180.2 405.9L1176.4 408.8L1176.5 407.7L1176.1 407.9ZM1193.2 406.8L1193.8 406.6L1192.8 405.4L1200.2 405.8L1193.8 409.5L1194.2 408.0L1193.5 408.1ZM1210.7 406.7L1213.6 406.3L1212.7 405.0L1220.1 406.2L1213.2 409.3L1213.8 407.8L1210.9 408.2ZM1228.2 406.7L1232.6 406.6L1231.8 405.1L1239.1 407.1L1232.0 409.5L1232.6 408.0L1228.2 408.2ZM1245.7 406.7L1250.0 407.0L1249.4 405.5L1256.5 408.1L1249.1 409.8L1249.9 408.4L1245.6 408.2ZM1263.2 406.7L1265.9 407.1L1265.4 405.6L1272.2 408.8L1264.7 409.9L1265.7 408.6L1262.9 408.2ZM1280.6 406.8L1281.3 406.9L1280.9 405.5L1287.1 409.0L1280.0 409.5L1281.0 408.3L1280.3 408.1ZM1298.0 407.0L1298.4 407.1L1298.2 406.2L1302.1 408.5L1297.6 408.7L1298.2 408.0L1297.8 407.9ZM1315.4 407.2L1315.6 407.2L1315.4 406.7L1317.8 407.6L1315.3 408.2L1315.6 407.7L1315.3 407.7ZM1332.7 407.3L1332.8 407.2L1332.4 406.9L1334.6 406.3L1333.1 408.0L1333.1 407.5L1332.9 407.6ZM1349.9 407.3L1350.1 407.0L1349.4 406.9L1352.2 404.7L1351.0 408.1L1350.7 407.4L1350.5 407.7ZM1367.1 407.2L1367.5 406.7L1366.2 406.5L1370.7 402.7L1369.1 408.4L1368.4 407.3L1368.1 407.8ZM826.7 444.6L831.5 435.0L829.9 435.0L835.1 429.5L833.8 436.9L832.8 435.6L827.9 445.3ZM844.1 444.5L854.4 430.1L852.8 429.9L858.8 425.3L856.4 432.4L855.6 431.0L845.3 445.4ZM861.6 444.4L878.8 427.3L877.3 426.7L884.0 423.2L880.4 429.8L879.9 428.3L862.7 445.5ZM879.2 444.4L903.3 427.2L901.8 426.5L909.0 424.1L904.3 430.0L904.1 428.4L880.0 445.6ZM896.7 444.3L927.4 429.6L926.1 428.6L933.6 427.5L928.0 432.5L928.0 430.9L897.3 445.6ZM914.3 444.3L949.3 434.8L948.2 433.6L955.7 433.8L949.3 437.8L949.6 436.2L914.6 445.7ZM931.8 444.2L969.3 440.5L968.4 439.1L975.9 440.6L968.9 443.4L969.5 441.9L932.0 445.7ZM949.4 444.2L984.8 446.3L984.2 444.8L991.3 447.4L983.9 449.1L984.8 447.7L949.3 445.7ZM967.0 444.3L1000.1 456.6L1000.0 455.0L1006.0 459.6L998.4 459.1L999.6 458.0L966.5 445.6ZM984.6 444.4L1010.1 463.1L1010.4 461.5L1014.9 467.5L1007.8 465.0L1009.2 464.2L983.7 445.5ZM1002.2 444.5L1019.9 468.0L1020.6 466.6L1023.2 473.7L1017.1 469.2L1018.7 468.9L1001.0 445.4ZM1019.7 444.7L1029.4 466.1L1030.4 464.8L1031.4 472.3L1026.4 466.6L1028.1 466.7L1018.4 445.3ZM1037.1 444.7L1042.0 458.3L1043.1 457.2L1043.5 464.7L1039.0 458.6L1040.6 458.8L1035.8 445.2ZM1054.6 444.7L1057.0 451.8L1058.1 450.7L1058.3 458.3L1054.0 452.1L1055.6 452.3L1053.2 445.2ZM1072.0 444.8L1072.8 447.3L1073.9 446.2L1073.9 453.7L1069.8 447.4L1071.4 447.7L1070.6 445.2ZM1089.3 444.8L1089.4 445.3L1090.3 444.5L1090.2 450.2L1087.2 445.4L1088.4 445.6L1088.2 445.1ZM1106.4 444.9L1106.5 445.1L1107.0 444.7L1107.1 447.6L1105.4 445.2L1106.0 445.3L1105.9 445.0ZM1124.3 445.0L1124.0 445.6L1123.2 445.6L1122.9 445.0L1123.2 444.3L1124.0 444.3ZM1140.9 444.8L1141.1 444.7L1140.7 444.6L1142.2 444.0L1141.3 445.3L1141.3 445.0L1141.1 445.1ZM1158.2 444.7L1158.4 444.5L1157.7 444.3L1160.6 442.5L1159.2 445.6L1158.9 444.9L1158.7 445.2ZM1175.5 444.6L1175.9 444.2L1174.8 443.9L1179.5 441.3L1177.0 446.0L1176.6 445.0L1176.3 445.3ZM1192.9 444.4L1193.5 444.0L1192.2 443.3L1198.7 441.0L1194.5 446.6L1194.3 445.1L1193.7 445.5ZM1210.5 444.3L1211.5 443.9L1210.2 442.8L1217.8 442.0L1211.9 446.8L1212.0 445.2L1211.0 445.6ZM1228.1 444.2L1229.6 444.1L1228.7 442.7L1236.1 444.0L1229.2 447.0L1229.7 445.5L1228.3 445.7ZM1245.8 444.2L1247.1 444.5L1246.7 442.9L1253.4 446.4L1245.9 447.2L1246.9 445.9L1245.5 445.7ZM1263.4 444.3L1264.2 444.7L1264.1 443.1L1269.7 448.2L1262.3 447.0L1263.5 446.0L1262.7 445.6ZM1280.8 444.5L1281.3 444.8L1281.6 443.5L1285.5 448.6L1279.4 446.5L1280.6 445.8L1280.1 445.5ZM1298.2 444.6L1298.5 444.9L1298.7 444.0L1301.2 447.7L1297.1 446.0L1298.0 445.6L1297.6 445.3ZM1315.4 444.7L1315.6 444.8L1315.6 444.3L1317.5 445.8L1315.1 445.6L1315.5 445.3L1315.3 445.2ZM1332.6 444.8L1332.8 444.6L1332.2 444.5L1334.4 443.2L1333.3 445.5L1333.1 444.9L1332.9 445.1ZM1349.7 444.8L1349.9 444.3L1348.7 444.4L1352.1 439.9L1351.7 445.5L1350.9 444.6L1350.7 445.1ZM1366.9 444.7L1367.8 442.0L1366.2 442.2L1370.6 436.0L1370.4 443.5L1369.2 442.4L1368.3 445.2ZM826.6 482.3L829.0 472.0L827.4 472.4L831.1 465.8L831.6 473.4L830.4 472.3L828.0 482.6ZM844.0 482.3L848.3 466.4L846.7 466.8L850.6 460.3L850.9 467.9L849.7 466.8L845.4 482.6ZM861.5 482.2L867.6 462.2L866.0 462.5L870.2 456.2L870.1 463.8L869.0 462.7L862.9 482.7ZM878.9 482.2L886.7 461.0L885.1 461.2L889.6 455.1L889.2 462.7L888.1 461.5L880.3 482.7ZM896.4 482.1L905.3 463.8L903.6 463.8L908.8 458.3L907.6 465.7L906.6 464.5L897.7 482.8ZM913.9 482.0L922.8 470.7L921.2 470.3L927.4 466.0L924.6 473.0L923.9 471.5L915.0 482.9ZM931.6 481.8L939.2 478.8L937.9 477.7L945.5 477.1L939.5 481.8L939.7 480.2L932.1 483.1ZM949.6 481.8L957.2 485.7L957.2 484.1L962.6 489.4L955.2 488.0L956.5 487.0L949.0 483.1ZM967.3 482.1L975.2 494.3L976.0 492.9L978.1 500.2L972.4 495.3L974.0 495.1L966.1 482.8ZM984.9 482.2L991.6 501.1L992.7 499.9L993.1 507.4L988.6 501.3L990.2 501.5L983.5 482.7ZM1002.3 482.3L1007.1 503.7L1008.3 502.7L1007.8 510.2L1004.1 503.6L1005.6 504.0L1000.9 482.6ZM1019.7 482.3L1022.9 502.1L1024.2 501.2L1023.2 508.7L1019.9 501.9L1021.5 502.3L1018.3 482.6ZM1037.2 482.4L1039.2 497.6L1040.5 496.6L1039.3 504.1L1036.2 497.2L1037.7 497.7L1035.7 482.6ZM1054.6 482.4L1055.7 492.0L1057.1 491.1L1055.7 498.5L1052.7 491.6L1054.2 492.1L1053.2 482.5ZM1072.0 482.4L1072.5 486.7L1073.8 485.9L1072.4 493.3L1069.5 486.3L1071.0 486.9L1070.6 482.5ZM1089.4 482.4L1089.5 483.0L1090.7 482.3L1089.4 489.0L1086.8 482.6L1088.2 483.2L1088.1 482.5ZM1106.5 482.4L1106.5 482.7L1107.1 482.3L1106.5 485.7L1105.2 482.6L1105.9 482.8L1105.9 482.5ZM1124.3 482.5L1124.0 483.1L1123.2 483.1L1122.9 482.5L1123.2 481.8L1124.0 481.8ZM1140.9 482.4L1140.9 482.2L1140.6 482.3L1141.5 480.9L1141.5 482.6L1141.2 482.3L1141.2 482.5ZM1158.1 482.4L1158.2 482.0L1157.4 482.2L1159.4 478.8L1159.6 482.7L1158.9 482.2L1158.8 482.5ZM1175.4 482.3L1175.5 481.8L1174.3 482.0L1177.4 477.2L1177.5 482.9L1176.6 482.1L1176.4 482.6ZM1192.8 482.2L1193.0 481.7L1191.6 481.8L1195.6 476.8L1195.0 483.1L1194.1 482.1L1193.9 482.7ZM1210.3 482.2L1210.6 481.7L1209.5 481.6L1213.7 478.1L1212.1 483.3L1211.5 482.3L1211.2 482.8ZM1228.1 482.1L1228.4 482.0L1227.8 481.5L1231.5 481.1L1228.6 483.5L1228.7 482.7L1228.3 482.8ZM1245.8 482.1L1246.2 482.3L1246.3 481.5L1248.9 484.6L1245.0 483.4L1245.7 483.0L1245.4 482.8ZM1263.5 482.2L1263.8 482.6L1264.4 481.6L1265.9 487.1L1261.6 483.3L1262.9 483.2L1262.6 482.7ZM1281.0 482.2L1281.2 482.8L1282.1 481.8L1282.6 487.8L1278.9 483.1L1280.2 483.2L1279.9 482.7ZM1298.3 482.3L1298.5 482.7L1299.2 482.0L1299.3 486.6L1296.7 482.9L1297.6 483.0L1297.5 482.6ZM1315.5 482.4L1315.6 482.5L1315.8 482.2L1316.2 484.0L1314.9 482.7L1315.3 482.7L1315.2 482.5ZM1332.6 482.4L1332.6 482.2L1332.2 482.3L1333.5 480.5L1333.3 482.7L1333.0 482.3L1333.0 482.5ZM1349.6 482.4L1349.7 481.8L1348.4 482.2L1351.0 476.4L1352.0 482.7L1350.9 481.9L1350.8 482.5ZM1366.9 482.4L1367.4 477.8L1365.9 478.4L1368.8 471.4L1370.2 478.8L1368.8 478.0L1368.3 482.5ZM826.6 520.0L825.5 509.9L824.1 510.8L825.5 503.3L828.5 510.3L826.9 509.7L828.0 519.9ZM844.0 520.0L842.1 504.4L840.7 505.3L842.0 497.8L845.0 504.8L843.5 504.2L845.4 519.9ZM861.4 520.1L858.4 500.3L857.1 501.2L858.1 493.7L861.4 500.6L859.8 500.1L862.9 519.8ZM878.9 520.1L874.7 499.2L873.4 500.2L874.1 492.6L877.6 499.3L876.1 498.9L880.3 519.8ZM896.3 520.2L891.2 502.3L890.0 503.4L890.0 495.8L894.1 502.2L892.6 501.9L897.7 519.8ZM913.8 520.3L908.5 509.7L907.6 510.9L906.3 503.5L911.5 509.0L909.8 509.0L915.1 519.6ZM931.5 520.6L928.3 518.6L928.1 520.2L923.1 514.6L930.4 516.5L929.0 517.4L932.3 519.3ZM949.8 520.5L946.0 523.4L947.5 524.1L940.4 526.9L944.8 520.7L945.1 522.3L948.9 519.4ZM967.4 520.3L961.8 532.1L963.5 532.0L958.4 537.6L959.5 530.2L960.5 531.4L966.1 519.6ZM984.9 520.2L979.4 538.7L981.0 538.4L976.9 544.8L976.9 537.2L978.0 538.3L983.5 519.8ZM1002.3 520.1L997.8 541.1L999.4 540.7L995.8 547.3L995.2 539.8L996.4 540.8L1000.9 519.8ZM1019.7 520.1L1016.5 539.5L1018.1 539.0L1014.7 545.8L1013.8 538.3L1015.1 539.2L1018.3 519.8ZM1037.2 520.1L1035.1 535.1L1036.7 534.6L1033.5 541.5L1032.4 534.0L1033.7 534.9L1035.7 519.9ZM1054.6 520.0L1053.5 529.6L1055.0 529.1L1052.0 536.0L1050.7 528.6L1052.1 529.4L1053.2 519.9ZM1072.0 520.0L1071.6 524.3L1073.1 523.8L1070.2 530.8L1068.8 523.3L1070.2 524.2L1070.6 519.9ZM1089.4 520.0L1089.3 520.7L1090.7 520.1L1088.1 526.5L1086.8 519.8L1088.0 520.5L1088.1 519.9ZM1106.5 520.0L1106.5 520.3L1107.1 520.1L1105.8 523.2L1105.2 519.8L1105.8 520.2L1105.9 519.9ZM1124.3 520.0L1124.0 520.6L1123.2 520.6L1122.9 520.0L1123.2 519.3L1124.0 519.3ZM1140.9 520.0L1140.8 519.9L1140.6 520.1L1140.4 518.4L1141.5 519.8L1141.1 519.7L1141.2 519.9ZM1158.1 520.1L1158.0 519.7L1157.4 520.3L1157.4 516.4L1159.5 519.6L1158.7 519.5L1158.8 519.8ZM1175.4 520.1L1175.2 519.6L1174.3 520.5L1174.0 514.8L1177.4 519.4L1176.2 519.3L1176.4 519.8ZM1192.8 520.2L1192.5 519.7L1191.7 520.8L1190.5 514.4L1195.0 519.1L1193.6 519.1L1193.9 519.7ZM1210.3 520.3L1210.0 519.9L1209.5 521.1L1207.1 515.7L1212.0 518.9L1210.8 519.2L1211.2 519.6ZM1228.1 520.4L1227.6 520.2L1227.8 521.2L1224.1 518.6L1228.6 518.7L1227.9 519.4L1228.3 519.5ZM1245.8 520.4L1245.4 520.6L1246.2 521.2L1241.5 522.0L1245.0 518.7L1245.0 519.8L1245.4 519.5ZM1263.5 520.3L1263.2 520.8L1264.4 521.0L1259.6 524.5L1261.7 518.9L1262.2 520.1L1262.6 519.6ZM1281.0 520.2L1280.7 520.7L1282.0 520.7L1277.9 525.2L1278.9 519.2L1279.7 520.2L1280.0 519.7ZM1298.3 520.1L1298.1 520.5L1299.1 520.5L1296.2 524.0L1296.7 519.4L1297.3 520.2L1297.5 519.8ZM1315.5 520.1L1315.4 520.2L1315.8 520.3L1314.3 521.4L1314.9 519.6L1315.1 520.0L1315.2 519.8ZM1332.6 520.0L1332.5 519.8L1332.2 520.2L1332.0 518.0L1333.4 519.7L1332.9 519.7L1333.0 519.9ZM1349.6 520.0L1349.5 519.4L1348.4 520.2L1349.4 513.8L1352.0 519.7L1350.7 519.3L1350.8 519.9ZM1366.9 520.0L1366.4 515.5L1365.0 516.4L1366.4 508.9L1369.4 515.9L1367.8 515.3L1368.3 519.9ZM826.6 557.7L824.0 550.4L822.9 551.6L822.5 544.0L827.0 550.1L825.4 550.0L828.0 557.2ZM844.1 557.7L839.2 545.9L838.1 547.2L837.3 539.6L842.1 545.5L840.5 545.4L845.4 557.2ZM861.5 557.8L853.8 542.5L852.8 543.8L851.5 536.3L856.7 541.8L855.1 541.8L862.8 557.1ZM879.0 557.8L868.2 541.3L867.3 542.7L865.2 535.5L871.0 540.3L869.4 540.5L880.2 557.1ZM896.5 557.9L883.0 543.3L882.4 544.8L879.1 538.0L885.6 541.9L884.0 542.3L897.6 557.0ZM914.1 558.1L898.8 548.3L898.6 549.9L893.7 544.2L901.0 546.3L899.6 547.1L914.8 556.8ZM931.7 558.2L915.8 555.1L916.3 556.6L909.6 553.1L917.1 552.4L916.1 553.7L932.0 556.7ZM949.5 558.2L933.6 562.1L934.7 563.4L927.1 563.0L933.6 559.1L933.3 560.7L949.1 556.7ZM967.2 558.0L952.0 568.6L953.4 569.3L946.2 571.7L950.9 565.8L951.2 567.4L966.3 556.9ZM984.7 557.9L971.5 573.0L973.0 573.4L966.6 577.4L969.8 570.6L970.4 572.1L983.6 557.0ZM1002.2 557.8L991.8 574.4L993.4 574.5L987.7 579.5L989.7 572.2L990.5 573.6L1001.0 557.1ZM1019.7 557.8L1012.3 572.7L1013.9 572.7L1008.8 578.3L1010.0 570.8L1011.0 572.1L1018.4 557.1ZM1037.1 557.7L1032.6 569.0L1034.2 568.9L1029.4 574.8L1030.2 567.2L1031.2 568.4L1035.8 557.2ZM1054.6 557.7L1052.3 564.4L1053.9 564.2L1049.4 570.4L1049.7 562.8L1050.9 564.0L1053.2 557.2ZM1072.0 557.7L1071.3 560.1L1072.9 559.9L1068.7 566.2L1068.7 558.6L1069.9 559.7L1070.6 557.2ZM1089.3 557.6L1089.1 558.1L1090.3 557.9L1087.3 562.7L1087.2 557.0L1088.1 557.8L1088.2 557.3ZM1106.4 557.5L1106.4 557.8L1107.0 557.7L1105.3 560.1L1105.4 557.2L1105.8 557.6L1105.9 557.4ZM1124.3 557.5L1124.0 558.1L1123.2 558.1L1122.9 557.5L1123.2 556.8L1124.0 556.8ZM1140.9 557.6L1140.8 557.5L1140.8 557.8L1139.9 556.6L1141.3 557.1L1141.0 557.2L1141.1 557.3ZM1158.2 557.7L1158.0 557.4L1157.8 558.1L1156.4 555.1L1159.2 556.8L1158.5 557.0L1158.7 557.2ZM1175.6 557.8L1175.2 557.5L1174.9 558.5L1172.4 554.0L1176.9 556.4L1175.9 556.8L1176.2 557.1ZM1193.0 558.0L1192.4 557.6L1192.2 559.0L1188.1 553.8L1194.4 555.9L1193.2 556.6L1193.7 556.9ZM1210.5 558.1L1209.7 557.8L1209.8 559.4L1204.0 554.6L1211.5 555.4L1210.3 556.5L1211.0 556.8ZM1228.1 558.2L1226.9 558.0L1227.5 559.6L1220.5 556.6L1228.0 555.2L1227.1 556.6L1228.3 556.7ZM1245.7 558.2L1244.6 558.4L1245.6 559.7L1238.1 558.8L1244.8 555.4L1244.4 556.9L1245.5 556.7ZM1263.3 558.1L1262.7 558.4L1263.9 559.4L1256.6 560.5L1262.1 555.5L1262.1 557.1L1262.7 556.8ZM1280.8 557.9L1280.3 558.3L1281.5 558.9L1275.6 560.9L1279.5 556.0L1279.7 557.3L1280.1 557.0ZM1298.2 557.8L1297.8 558.0L1298.7 558.4L1294.7 560.0L1297.1 556.5L1297.3 557.4L1297.7 557.1ZM1315.4 557.7L1315.2 557.7L1315.5 558.1L1313.2 558.1L1315.1 556.8L1315.1 557.3L1315.3 557.2ZM1332.6 557.6L1332.4 557.4L1332.2 557.9L1331.1 555.6L1333.3 557.0L1332.8 557.1L1333.0 557.3ZM1349.7 557.6L1349.5 557.1L1348.7 558.0L1348.3 552.4L1351.7 556.9L1350.5 556.8L1350.7 557.3ZM1366.9 557.7L1366.0 554.9L1364.9 556.1L1364.7 548.5L1369.0 554.7L1367.4 554.5L1368.3 557.2ZM826.7 595.3L825.5 593.4L824.7 594.8L822.9 587.4L828.4 592.6L826.8 592.7L827.9 594.6ZM844.1 595.4L840.9 590.7L840.2 592.1L837.8 584.9L843.7 589.7L842.1 589.9L845.3 594.5ZM861.6 595.4L855.8 588.6L855.2 590.0L852.1 583.1L858.5 587.2L856.9 587.6L862.7 594.5ZM879.1 595.5L870.4 587.5L870.0 589.1L866.1 582.6L872.9 585.9L871.4 586.5L880.1 594.4ZM896.6 595.6L885.3 588.2L885.1 589.8L880.2 584.0L887.5 586.2L886.1 587.0L897.4 594.3ZM914.2 595.6L900.9 590.5L901.0 592.1L895.0 587.5L902.6 588.1L901.4 589.2L914.7 594.3ZM931.8 595.7L917.4 594.0L918.0 595.5L911.0 592.5L918.5 591.2L917.6 592.6L932.0 594.2ZM949.4 595.7L935.1 597.8L936.1 599.1L928.6 598.1L935.4 594.8L934.9 596.4L949.2 594.2ZM967.0 595.6L953.9 601.1L955.1 602.2L947.6 602.9L953.4 598.1L953.3 599.8L966.5 594.3ZM984.6 595.5L973.6 603.1L975.0 603.9L967.8 606.2L972.5 600.3L972.8 601.9L983.8 594.3ZM1002.1 595.5L993.8 603.4L995.3 603.9L988.6 607.3L992.3 600.8L992.8 602.3L1001.1 594.4ZM1019.6 595.4L1014.1 602.0L1015.7 602.4L1009.4 606.6L1012.4 599.6L1013.0 601.1L1018.5 594.5ZM1037.1 595.4L1034.2 599.7L1035.8 599.9L1029.9 604.7L1032.2 597.4L1033.0 598.8L1035.9 594.5ZM1054.5 595.3L1053.6 596.9L1055.2 597.0L1049.7 602.2L1051.5 594.8L1052.3 596.2L1053.3 594.6ZM1071.8 595.2L1071.6 595.7L1072.8 595.7L1068.9 599.8L1069.9 594.2L1070.6 595.2L1070.8 594.7ZM1089.0 595.1L1088.9 595.4L1089.6 595.4L1087.4 597.9L1087.9 594.5L1088.3 595.1L1088.5 594.8ZM1106.3 595.0L1106.3 595.2L1106.6 595.2L1105.4 596.5L1105.7 594.7L1105.9 595.0L1106.0 594.9ZM1124.3 594.9L1124.0 595.6L1123.2 595.6L1122.9 594.9L1123.2 594.3L1124.0 594.3ZM1141.8 594.9L1141.4 595.6L1140.7 595.6L1140.3 594.9L1140.7 594.3L1141.4 594.3ZM1158.4 595.1L1158.2 595.0L1158.2 595.4L1156.9 593.9L1158.8 594.5L1158.4 594.7L1158.6 594.8ZM1175.7 595.2L1175.5 595.1L1175.4 595.7L1173.3 593.4L1176.4 594.2L1175.8 594.5L1176.1 594.7ZM1193.2 595.3L1192.8 595.2L1192.8 596.1L1189.5 593.3L1193.8 593.8L1193.1 594.4L1193.5 594.6ZM1210.6 595.4L1210.1 595.3L1210.4 596.5L1205.7 593.7L1211.1 593.4L1210.4 594.3L1210.9 594.4ZM1228.1 595.5L1227.6 595.5L1228.1 596.7L1222.5 594.5L1228.3 593.2L1227.7 594.3L1228.2 594.4ZM1245.7 595.5L1245.1 595.6L1245.8 596.6L1240.0 595.6L1245.4 593.3L1245.0 594.4L1245.6 594.4ZM1263.2 595.4L1262.7 595.6L1263.5 596.4L1258.2 596.3L1262.6 593.5L1262.4 594.6L1262.9 594.5ZM1280.6 595.3L1280.3 595.5L1280.9 596.0L1276.9 596.5L1280.0 593.9L1280.0 594.7L1280.3 594.6ZM1298.0 595.2L1297.8 595.3L1298.2 595.7L1295.5 596.0L1297.6 594.2L1297.6 594.8L1297.8 594.7ZM1315.3 595.1L1315.2 595.1L1315.4 595.4L1313.7 595.1L1315.3 594.5L1315.2 594.8L1315.3 594.8ZM1332.6 595.1L1332.5 595.0L1332.4 595.4L1331.4 593.7L1333.1 594.5L1332.8 594.7L1332.9 594.8ZM1349.9 595.1L1349.7 594.8L1349.3 595.5L1348.5 592.0L1351.1 594.4L1350.3 594.5L1350.5 594.8ZM1367.1 595.2L1366.8 594.7L1366.1 595.8L1364.9 589.9L1369.1 594.1L1367.9 594.2L1368.1 594.7ZM827.1 632.6L826.9 632.4L826.6 633.0L825.5 630.2L828.0 631.9L827.3 632.0L827.5 632.3ZM844.4 632.7L844.2 632.4L843.9 633.3L841.9 629.5L845.6 631.6L844.7 631.9L845.0 632.2ZM861.8 632.8L861.4 632.5L861.1 633.7L858.1 629.0L863.2 631.2L862.1 631.7L862.5 632.0ZM879.2 633.0L878.7 632.6L878.5 634.1L874.1 628.8L880.7 630.8L879.4 631.5L880.0 631.9ZM896.7 633.1L895.8 632.7L895.8 634.3L890.2 629.2L897.7 630.3L896.4 631.3L897.3 631.8ZM914.3 633.1L912.6 632.7L912.9 634.3L906.5 630.3L914.1 630.1L913.0 631.3L914.6 631.7ZM931.8 633.2L929.8 633.0L930.4 634.5L923.4 631.7L930.8 630.2L929.9 631.5L931.9 631.7ZM949.4 633.2L947.4 633.4L948.3 634.7L940.8 633.3L947.8 630.4L947.2 631.9L949.2 631.7ZM966.9 633.1L965.4 633.6L966.5 634.8L958.9 634.8L965.2 630.6L965.0 632.2L966.5 631.7ZM984.5 633.1L983.7 633.5L984.9 634.5L977.5 635.7L983.0 630.6L983.0 632.2L983.9 631.8ZM1002.0 633.0L1001.4 633.3L1002.7 634.0L996.3 636.0L1000.5 630.8L1000.7 632.3L1001.2 631.9ZM1019.4 632.8L1019.0 633.2L1020.1 633.6L1015.1 635.8L1018.0 631.3L1018.3 632.4L1018.7 632.0ZM1036.7 632.7L1036.5 633.0L1037.3 633.2L1033.8 635.3L1035.6 631.6L1035.9 632.5L1036.2 632.2ZM1054.1 632.6L1053.9 632.8L1054.5 632.9L1052.2 634.6L1053.3 631.9L1053.5 632.5L1053.7 632.3ZM1071.5 632.5L1071.4 632.7L1071.7 632.7L1070.3 633.9L1070.9 632.1L1071.1 632.5L1071.2 632.3ZM1089.5 632.4L1089.1 633.1L1088.4 633.1L1088.0 632.4L1088.4 631.8L1089.1 631.8ZM1106.9 632.4L1106.5 633.1L1105.8 633.1L1105.5 632.4L1105.8 631.8L1106.5 631.8ZM1124.3 632.4L1124.0 633.1L1123.2 633.1L1122.9 632.4L1123.2 631.8L1124.0 631.8ZM1141.8 632.4L1141.4 633.1L1140.7 633.1L1140.3 632.4L1140.7 631.8L1141.4 631.8ZM1159.2 632.4L1158.8 633.1L1158.1 633.1L1157.7 632.4L1158.1 631.8L1158.8 631.8ZM1176.6 632.4L1176.3 633.1L1175.5 633.1L1175.2 632.4L1175.5 631.8L1176.3 631.8ZM1193.3 632.6L1193.1 632.5L1193.2 632.9L1191.7 631.9L1193.5 631.9L1193.2 632.2L1193.4 632.3ZM1210.7 632.6L1210.5 632.6L1210.6 633.1L1208.6 632.0L1210.9 631.8L1210.6 632.2L1210.8 632.2ZM1228.2 632.7L1227.9 632.7L1228.2 633.2L1225.7 632.3L1228.2 631.7L1228.0 632.2L1228.2 632.2ZM1245.6 632.7L1245.4 632.7L1245.7 633.2L1243.2 632.6L1245.6 631.7L1245.4 632.2L1245.6 632.2ZM1263.1 632.6L1262.9 632.7L1263.2 633.1L1261.0 632.8L1262.9 631.8L1262.8 632.3L1263.0 632.2ZM1280.5 632.6L1280.4 632.6L1280.6 632.9L1278.9 632.9L1280.3 632.0L1280.3 632.3L1280.4 632.3ZM1298.6 632.4L1298.3 633.1L1297.5 633.1L1297.2 632.4L1297.5 631.8L1298.3 631.8ZM1316.1 632.4L1315.7 633.1L1315.0 633.1L1314.6 632.4L1315.0 631.8L1315.7 631.8ZM1333.5 632.4L1333.1 633.1L1332.4 633.1L1332.0 632.4L1332.4 631.8L1333.1 631.8ZM1350.9 632.4L1350.6 633.1L1349.8 633.1L1349.5 632.4L1349.8 631.8L1350.6 631.8ZM1367.5 632.5L1367.4 632.4L1367.2 632.8L1366.5 631.0L1368.1 632.1L1367.7 632.2L1367.8 632.3Z"/>
</svg>
<path d="M951.2 669.8v13.2M1106.2 669.8v13.2M1261.1 669.8v13.2M827.3 206.7h-13.2M827.3 374.6h-13.2M827.3 542.6h-13.2" stroke="#000" stroke-width="3.33" fill="none"/>
<rect x="827.3" y="79.5" width="553.4" height="590.3" fill="none" stroke="#000" stroke-width="3.33"/>
<text x="951.2" y="736.5" font-size="52.0" text-anchor="middle">−100</text>
<text x="1106.2" y="736.5" font-size="52.0" text-anchor="middle">0</text>
<text x="1261.1" y="736.5" font-size="52.0" text-anchor="middle">100</text>
<text y="56.3" font-size="52.0"><tspan x="949.8" font-style="oblique">τ</tspan><tspan x="981.6" dy="7.8" font-size="36.40">rad</tspan><tspan x="1053.5" dy="-7.8">=</tspan><tspan x="1108.4">1 day</tspan></text>
</g>
<g id="panel3">
<svg x="1490.6" y="79.5" width="553.4" height="590.3" viewBox="1490.6 79.5 553.4 590.3" overflow="hidden">
<g fill-rule="evenodd" shape-rendering="geometricPrecision">
<rect x="1489.6" y="78.5" width="555.4" height="592.3" fill="#0fff00"/>
<path fill="#2cff00" d="M1487.5 660l17 2.5 11 0.5 12.5 0 12-2 23.5-6 43-15.5 16.5-5 18-3.5 17-1.5 16 1 17 3.5 18 5.5 49 17.5 15.5 3.5 14.5 2.5 18.5 0 19-3 20-6 39.5-14 16-5.5 17-3.5 17.5-1.5 17 1 18.5 4 17 5 43.5 15.5 11.5 3.5 4 0.5 0-568.5-4 0-12.5 4-42.5 15.5-18 5-17.5 3.5-17 1-17.5-1-17.5-4-17.5-5.5-37.5-14-19.5-5.5-18.5-3-18.5 0-15 2-16 4-50.5 18-17 5-17 3-15.5 1-17-1-18-3.5-17.5-6-41.5-14.5-24-6.5-12-1.5-12.5-0.5-28 3.5z"/>
<path fill="#49ff00" d="M1487.5 625.5l28 3 12.5 0 12-2 24-6 41.5-15 17.5-5.5 18-3.5 17-1.5 15.5 1 17 3.5 17 5 50.5 18 16 4 15 2 18.5 0 18.5-3 19.5-5.5 38-14 17-5.5 17.5-4 17.5-1.5 17 1 18.5 4 17.5 5.5 42 15 12.5 3.5 4 0.5 0-499.5-4 0-11.5 3.5-43 15.5-17.5 5.5-18.5 3.5-17 1-17.5-1.5-17.5-3.5-16.5-5.5-38.5-14-19.5-5.5-19.5-3-18.5 0-14.5 2-15.5 4-49 17-18 5.5-17 3.5-16 1-17-1-18.5-4-16-5-43-15.5-23.5-6-12-1.5-12.5-0.5-11 1-17 2.5z"/>
<path fill="#75ff00" d="M1487.5 599.5l17 2.5 11 0.5 12.5 0 12-2 23.5-5.5 43-16 16.5-5 18-3.5 17-1.5 16 1 17 3.5 18 5.5 49 17.5 15.5 4 14.5 2 18.5 0 19-3 20-5.5 38.5-14.5 16.5-5 17.5-4 17.5-1.5 17 1 18.5 4 17 5 43.5 16 11.5 3 4 0.5 0-447.5-4 0-12.5 4-42 15-17.5 5.5-18.5 3.5-17 1-17.5-1-17.5-4-17-5.5-38-14-19.5-5.5-18.5-3-18.5 0-15 2-16 4-50.5 18-17 5-17 3-15.5 1-17-1-18-3.5-17-5.5-42-15-24-6.5-12-1.5-12.5-0.5-28 3.5z"/>
<path fill="#93ff00" d="M1487.5 577.5l17 2.5 11 1 12.5-0.5 12-1.5 23.5-6 43-15.5 16.5-5.5 18-3.5 17-1.5 16 1.5 16.5 3 18 5.5 49.5 17.5 15.5 4 14.5 2 18.5 0 19-3 20-5.5 38.5-14.5 16.5-5 17.5-4 17.5-1.5 17 1 18.5 4 17 5.5 43.5 15.5 11.5 3.5 4 0 0-403.5-4 0-12.5 3.5-42 15.5-17.5 5.5-18.5 3.5-17 1-17.5-1.5-17.5-4-17-5-38-14-19.5-5.5-18.5-3-18.5 0-15 1.5-16 4-50.5 18-17 5.5-17 3-15.5 1-17-1-18-4-17-5-42-15.5-24-6-12-1.5-12.5-0.5-11 1-17 2z"/>
<path fill="#b0ff00" d="M1487.5 558l17 2.5 11 0.5 12.5 0 12-1.5 23.5-6 42.5-15.5 17-5.5 18-3.5 17-1.5 15.5 1 17 3.5 17 5 50.5 18 16 4 15 2 18.5 0 18.5-3 19.5-5.5 38.5-14.5 16.5-5 17.5-4 17.5-1.5 17 1 18.5 4 17.5 5.5 42 15 12.5 4 4 0 0-364.5-4 0-11.5 3.5-43 15.5-17.5 5.5-18.5 3.5-17 1-17.5-1.5-17.5-3.5-16.5-5.5-38.5-14-19.5-5.5-18.5-3-18.5 0-15 2-16 4-49.5 17.5-18 5.5-16.5 3-16 1-17-1-18-4-17-5-42.5-15.5-23.5-6-12-1.5-12.5-0.5-11 1-17 2z"/>
<path fill="#c0fd00" d="M1487.5 540l18 2.5 10 0.5 12.5-0.5 12-1.5 23.5-6 42.5-15.5 17-5 18-4 17-1 15.5 1 17 3.5 18 5 49.5 18 16 4 15 2 18.5-0.5 18.5-3 19.5-5.5 38.5-14 16.5-5 17.5-4 17.5-1.5 17 1 18.5 3.5 17.5 5.5 42 15.5 12.5 3.5 4 0 0-328-4 0.5-11.5 3-43.5 16-18 5.5-18.5 3.5-17 1-16.5-1.5-17.5-4-16.5-5-38.5-14.5-19.5-5.5-18.5-3-18.5 0-15 2-16 4-49.5 17.5-18 5.5-16.5 3-16 1.5-17-1.5-18-3.5-17-5.5-42.5-15.5-23.5-6-12-1.5-12.5 0-11 0.5-17 2.5z"/>
<path fill="#c8fb00" d="M1487.5 522.5l17 2 11 1 11.5-0.5 11.5-1 22.5-5.5 39.5-14.5 18-5 20-4 19.5-1 18.5 1 18.5 3.5 18.5 5 46 16 15.5 4 14 1.5 17.5 0 18-2.5 18.5-5 35.5-13 17-5 19.5-4 19.5-1.5 20 1 20.5 3.5 18.5 5.5 39.5 14 10 3 4 0 0-293-4 0.5-10 2.5-39.5 14.5-18.5 5.5-20.5 3.5-20 1-19.5-1.5-19.5-4-17-5-35.5-13-18.5-5-18-3-17.5 0-14 2-15.5 3.5-46 16-18.5 5.5-18.5 3.5-18.5 1-19.5-1-20-4-18-5.5-39.5-14-22.5-5.5-11.5-1.5-11.5 0-11 0.5-17 2.5z"/>
<path fill="#d0f800" d="M1487.5 504l25.5 3.5 11 0 11-1 20-4.5 41.5-13.5 19.5-5.5 21-3.5 21-1.5 20 1.5 20 3.5 20.5 5 46.5 15 13 3 12.5 1.5 14.5 0 15.5-2 16.5-4.5 37-12 18.5-5.5 21-3.5 20-2 21 1 22 3.5 20.5 5.5 42 14 8 1 0-257-4 0.5-46 14.5-20.5 5.5-22 3.5-21 1-20-1.5-20-3.5-18.5-5.5-38-12.5-16.5-4-15.5-2-14.5 0-12.5 1.5-13 2.5-46.5 15-20.5 5.5-20 3.5-20 1-21-1-21-4-19.5-5-41.5-13.5-20-4.5-11-1.5-10 0-26.5 3.5z"/>
<path fill="#d8f500" d="M1487.5 484l25.5 3 11 0 11-1 20-4 41.5-11.5 19.5-4.5 22-3 20-1 20 1 20 3 20.5 4.5 46.5 12.5 13 2.5 12.5 1.5 14.5-0.5 15.5-1.5 15.5-3.5 38-10.5 18.5-4.5 21-3 20-1.5 21 1 22 3 20.5 4.5 42 11.5 8 1 0-216.5-8 1-42 11.5-20.5 4.5-22 3-21 1-20-1.5-20-3-19.5-4.5-37-10.5-16.5-3.5-15.5-2-14.5 0-12.5 1.5-13 2.5-47.5 12.5-19.5 4.5-20 3-20 1-21-1.5-21-3-19.5-4.5-41.5-11.5-20-3.5-11-1-11 0-25.5 3z"/>
<path fill="#e4f100" d="M1487.5 462l25.5 2 22-0.5 20-3 41.5-9.5 19.5-3.5 21-2.5 21-0.5 20 0.5 20 2.5 19.5 3.5 47.5 10 25.5 3 14.5 0 15.5-1.5 73-14.5 20-2.5 20-1 21 0.5 22 2.5 20.5 3.5 42 9 8 1 0-172.5-7 0.5-43 9.5-20.5 3.5-22 2.5-21 0.5-20-1-21-2.5-72-14.5-15.5-1.5-14.5 0-12.5 1-14 2-45.5 10-20.5 3.5-20 2-20 1-21-1-21-2.5-20-3.5-41-9-20-3-21-1-26.5 2.5z"/>
<path fill="#ecef00" d="M1487.5 435l25.5 1.5 22-0.5 20-2 61-9 21-1.5 21-0.5 20 0.5 20 1.5 67 9.5 25.5 2 14.5 0 15.5-1 73-10 20-2 20-0.5 22 0.5 21.5 1.5 62 9 8 0.5 0-119.5-7 0.5-63.5 9-22 1.5-21 0.5-19-0.5-21-2-73.5-10-15-1-14.5 0-26.5 2-66.5 9.5-20 1.5-19.5 0.5-20-0.5-22-2-61.5-8.5-19.5-2-22-0.5-25.5 1.5z"/>
</g>
<path fill="#000" d="M1490.6 107.2L1490.8 107.2L1490.6 106.7L1493.1 107.4L1490.6 108.2L1490.9 107.7L1490.6 107.7ZM1508.0 107.2L1508.3 107.2L1508.0 106.7L1510.5 107.5L1508.0 108.2L1508.3 107.7L1508.0 107.7ZM1525.5 107.2L1525.7 107.3L1525.5 106.7L1528.0 107.6L1525.4 108.2L1525.7 107.8L1525.5 107.7ZM1542.9 107.2L1543.2 107.3L1542.9 106.7L1545.4 107.7L1542.8 108.2L1543.1 107.8L1542.9 107.7ZM1560.3 107.2L1560.6 107.3L1560.4 106.7L1562.8 107.7L1560.3 108.2L1560.5 107.8L1560.3 107.7ZM1577.8 107.2L1578.0 107.3L1577.8 106.7L1580.3 107.7L1577.7 108.2L1578.0 107.8L1577.7 107.7ZM1595.2 107.2L1595.5 107.3L1595.3 106.7L1597.7 107.7L1595.1 108.2L1595.4 107.8L1595.2 107.7ZM1612.6 107.2L1612.9 107.3L1612.7 106.7L1615.1 107.7L1612.5 108.2L1612.8 107.8L1612.6 107.7ZM1630.1 107.2L1630.3 107.3L1630.1 106.7L1632.5 107.6L1630.0 108.2L1630.3 107.8L1630.0 107.7ZM1647.5 107.2L1647.7 107.3L1647.5 106.7L1650.0 107.5L1647.5 108.2L1647.7 107.8L1647.5 107.7ZM1664.9 107.2L1665.1 107.2L1664.9 106.7L1667.4 107.4L1664.9 108.2L1665.2 107.7L1664.9 107.7ZM1682.3 107.2L1682.6 107.2L1682.3 106.7L1684.8 107.3L1682.4 108.2L1682.6 107.7L1682.3 107.7ZM1699.7 107.2L1700.0 107.2L1699.7 106.7L1702.3 107.3L1699.8 108.2L1700.0 107.7L1699.8 107.7ZM1717.2 107.2L1717.4 107.2L1717.1 106.7L1719.7 107.2L1717.3 108.2L1717.5 107.7L1717.2 107.7ZM1734.6 107.2L1734.8 107.2L1734.5 106.7L1737.1 107.3L1734.7 108.2L1734.9 107.7L1734.6 107.7ZM1752.0 107.2L1752.3 107.2L1752.0 106.7L1754.6 107.3L1752.1 108.2L1752.3 107.7L1752.1 107.7ZM1769.5 107.2L1769.7 107.2L1769.4 106.7L1772.0 107.4L1769.5 108.2L1769.7 107.7L1769.5 107.7ZM1786.9 107.2L1787.2 107.2L1786.9 106.7L1789.4 107.5L1786.9 108.2L1787.2 107.7L1786.9 107.7ZM1804.3 107.2L1804.6 107.3L1804.4 106.7L1806.8 107.6L1804.3 108.2L1804.6 107.8L1804.3 107.7ZM1821.8 107.2L1822.0 107.3L1821.8 106.7L1824.3 107.7L1821.7 108.2L1822.0 107.8L1821.8 107.7ZM1839.2 107.2L1839.5 107.3L1839.3 106.7L1841.7 107.7L1839.1 108.2L1839.4 107.8L1839.2 107.7ZM1856.7 107.2L1856.9 107.3L1856.7 106.7L1859.1 107.7L1856.6 108.2L1856.9 107.8L1856.6 107.7ZM1874.1 107.2L1874.3 107.3L1874.1 106.7L1876.6 107.7L1874.0 108.2L1874.3 107.8L1874.0 107.7ZM1891.5 107.2L1891.8 107.3L1891.5 106.7L1894.0 107.7L1891.4 108.2L1891.7 107.8L1891.5 107.7ZM1908.9 107.2L1909.2 107.3L1909.0 106.7L1911.4 107.6L1908.9 108.2L1909.2 107.8L1908.9 107.7ZM1926.4 107.2L1926.6 107.3L1926.4 106.7L1928.8 107.5L1926.3 108.2L1926.6 107.8L1926.3 107.7ZM1943.8 107.2L1944.0 107.2L1943.8 106.7L1946.3 107.4L1943.8 108.2L1944.0 107.7L1943.8 107.7ZM1961.2 107.2L1961.4 107.2L1961.2 106.7L1963.7 107.3L1961.3 108.2L1961.5 107.7L1961.2 107.7ZM1978.6 107.2L1978.9 107.2L1978.6 106.7L1981.1 107.3L1978.7 108.2L1978.9 107.7L1978.7 107.7ZM1996.0 107.2L1996.3 107.2L1996.0 106.7L1998.6 107.2L1996.1 108.2L1996.3 107.7L1996.1 107.7ZM2013.5 107.2L2013.7 107.2L2013.4 106.7L2016.0 107.3L2013.6 108.2L2013.8 107.7L2013.5 107.7ZM2030.9 107.2L2031.2 107.2L2030.9 106.7L2033.4 107.3L2031.0 108.2L2031.2 107.7L2030.9 107.7ZM1490.5 144.3L1495.3 143.7L1494.4 142.3L1501.9 143.6L1495.0 146.6L1495.5 145.1L1490.7 145.7ZM1508.0 144.3L1513.0 144.1L1512.2 142.7L1519.5 144.6L1512.4 147.0L1513.0 145.5L1508.1 145.7ZM1525.5 144.3L1530.2 144.6L1529.5 143.1L1536.6 145.7L1529.3 147.4L1530.1 146.0L1525.4 145.7ZM1543.0 144.3L1546.9 144.9L1546.4 143.3L1553.3 146.6L1545.8 147.6L1546.7 146.3L1542.8 145.7ZM1560.5 144.3L1563.3 144.9L1562.9 143.3L1569.5 147.0L1562.0 147.6L1563.0 146.3L1560.2 145.7ZM1577.9 144.3L1579.4 144.7L1579.1 143.1L1585.6 146.9L1578.0 147.3L1579.1 146.1L1577.6 145.7ZM1595.3 144.3L1596.0 144.5L1595.7 143.0L1601.7 146.6L1594.7 146.9L1595.7 145.8L1595.0 145.6ZM1612.7 144.4L1613.3 144.5L1612.9 143.4L1618.0 146.1L1612.3 146.6L1613.0 145.6L1612.5 145.5ZM1630.1 144.5L1630.6 144.6L1630.2 143.6L1634.8 145.6L1629.9 146.4L1630.5 145.5L1630.0 145.5ZM1647.5 144.5L1647.9 144.5L1647.5 143.6L1652.0 145.1L1647.4 146.3L1647.9 145.4L1647.5 145.4ZM1664.9 144.5L1665.4 144.5L1664.8 143.5L1669.7 144.7L1665.0 146.4L1665.4 145.4L1664.9 145.5ZM1682.2 144.4L1682.8 144.3L1682.1 143.3L1688.0 144.1L1682.6 146.7L1683.0 145.5L1682.4 145.5ZM1699.6 144.3L1700.3 144.2L1699.3 142.9L1706.6 143.5L1700.2 147.0L1700.6 145.5L1699.9 145.7ZM1717.0 144.3L1718.8 143.8L1717.8 142.6L1725.3 143.0L1718.8 146.8L1719.2 145.2L1717.4 145.7ZM1734.4 144.3L1737.6 143.5L1736.5 142.3L1744.1 142.7L1737.6 146.5L1737.9 144.9L1734.8 145.7ZM1751.9 144.3L1756.1 143.4L1755.1 142.2L1762.6 142.9L1755.9 146.4L1756.4 144.9L1752.2 145.7ZM1769.4 144.3L1774.2 143.7L1773.3 142.3L1780.8 143.6L1773.8 146.6L1774.4 145.1L1769.6 145.7ZM1786.9 144.3L1791.9 144.1L1791.1 142.7L1798.4 144.6L1791.2 147.0L1791.9 145.5L1786.9 145.7ZM1804.4 144.3L1809.0 144.6L1808.4 143.1L1815.5 145.7L1808.1 147.4L1809.0 146.0L1804.3 145.7ZM1821.9 144.3L1825.8 144.9L1825.3 143.3L1832.1 146.6L1824.6 147.6L1825.6 146.3L1821.7 145.7ZM1839.4 144.3L1842.2 144.9L1841.8 143.3L1848.4 147.0L1840.9 147.6L1841.9 146.3L1839.0 145.7ZM1856.8 144.3L1858.3 144.7L1858.0 143.1L1864.5 146.9L1856.9 147.3L1858.0 146.1L1856.5 145.7ZM1874.2 144.3L1874.9 144.5L1874.5 143.0L1880.6 146.6L1873.6 146.9L1874.6 145.8L1873.9 145.6ZM1891.6 144.4L1892.1 144.5L1891.8 143.4L1896.9 146.1L1891.2 146.6L1891.9 145.6L1891.4 145.5ZM1909.0 144.5L1909.4 144.6L1909.1 143.6L1913.6 145.6L1908.7 146.4L1909.3 145.5L1908.9 145.5ZM1926.4 144.5L1926.8 144.5L1926.4 143.6L1930.9 145.1L1926.3 146.3L1926.8 145.4L1926.3 145.4ZM1943.7 144.5L1944.2 144.5L1943.7 143.5L1948.6 144.7L1943.9 146.4L1944.3 145.4L1943.8 145.5ZM1961.1 144.4L1961.7 144.3L1961.0 143.3L1966.8 144.1L1961.5 146.7L1961.9 145.5L1961.3 145.5ZM1978.5 144.3L1979.2 144.2L1978.2 142.9L1985.4 143.5L1979.1 147.0L1979.5 145.5L1978.8 145.7ZM1995.9 144.3L1997.7 143.8L1996.7 142.6L2004.2 143.0L1997.7 146.8L1998.1 145.2L1996.2 145.7ZM2013.3 144.3L2016.5 143.5L2015.4 142.3L2023.0 142.7L2016.4 146.5L2016.8 144.9L2013.7 145.7ZM2030.8 144.3L2035.0 143.4L2034.0 142.2L2041.5 142.9L2034.8 146.4L2035.3 144.9L2031.1 145.7ZM1490.5 181.8L1502.5 179.5L1501.5 178.2L1509.0 179.0L1502.3 182.5L1502.7 180.9L1490.7 183.2ZM1508.0 181.8L1520.0 181.2L1519.2 179.7L1526.5 181.6L1519.4 184.1L1520.0 182.6L1508.1 183.2ZM1525.5 181.8L1537.4 182.9L1536.8 181.4L1543.8 184.3L1536.4 185.7L1537.3 184.4L1525.4 183.2ZM1543.1 181.8L1554.7 184.5L1554.3 182.9L1560.9 186.6L1553.3 187.1L1554.4 185.9L1542.7 183.2ZM1560.5 181.8L1571.9 185.5L1571.6 183.9L1577.8 188.2L1570.3 188.0L1571.4 186.9L1560.1 183.2ZM1578.0 181.8L1588.8 185.9L1588.7 184.3L1594.7 188.9L1587.1 188.3L1588.3 187.2L1577.5 183.2ZM1595.4 181.8L1605.7 185.6L1605.5 183.9L1611.5 188.5L1604.0 188.0L1605.2 186.9L1594.9 183.2ZM1612.8 181.8L1622.5 184.7L1622.2 183.1L1628.5 187.3L1620.9 187.3L1622.0 186.1L1612.4 183.2ZM1630.2 181.8L1639.4 183.5L1638.9 181.9L1645.6 185.4L1638.1 186.2L1639.1 184.9L1629.9 183.2ZM1647.5 181.8L1656.5 182.2L1655.8 180.7L1663.0 183.2L1655.6 185.1L1656.4 183.6L1647.4 183.2ZM1664.8 181.8L1674.0 180.9L1673.1 179.5L1680.5 180.9L1673.5 183.8L1674.1 182.3L1665.0 183.2ZM1682.2 181.8L1691.8 179.5L1690.8 178.3L1698.3 178.8L1691.7 182.5L1692.1 181.0L1682.5 183.2ZM1699.5 181.8L1709.8 178.4L1708.7 177.2L1716.2 177.0L1710.0 181.4L1710.3 179.8L1700.0 183.2ZM1716.9 181.8L1727.9 177.7L1726.7 176.6L1734.3 176.0L1728.2 180.6L1728.4 179.0L1717.4 183.2ZM1734.4 181.8L1745.9 177.6L1744.7 176.5L1752.3 176.0L1746.2 180.5L1746.4 178.9L1734.9 183.2ZM1751.8 181.8L1763.7 178.2L1762.6 177.0L1770.2 177.0L1763.8 181.2L1764.1 179.6L1752.3 183.2ZM1769.3 181.8L1781.3 179.5L1780.4 178.2L1787.9 179.0L1781.2 182.5L1781.6 180.9L1769.6 183.2ZM1786.9 181.8L1798.9 181.2L1798.1 179.7L1805.4 181.6L1798.3 184.1L1798.9 182.6L1786.9 183.2ZM1804.4 181.8L1816.3 182.9L1815.7 181.4L1822.7 184.3L1815.3 185.7L1816.1 184.4L1804.3 183.2ZM1821.9 181.8L1833.6 184.5L1833.2 182.9L1839.8 186.6L1832.2 187.1L1833.3 185.9L1821.6 183.2ZM1839.4 181.8L1850.7 185.5L1850.5 183.9L1856.7 188.2L1849.1 188.0L1850.3 186.9L1839.0 183.2ZM1856.9 181.8L1867.7 185.9L1867.5 184.3L1873.6 188.9L1866.0 188.3L1867.2 187.2L1856.4 183.2ZM1874.3 181.8L1884.5 185.6L1884.4 183.9L1890.4 188.5L1882.9 188.0L1884.0 186.9L1873.8 183.2ZM1891.7 181.8L1901.3 184.7L1901.1 183.1L1907.4 187.3L1899.8 187.3L1900.9 186.1L1891.3 183.2ZM1909.1 181.8L1918.2 183.5L1917.8 181.9L1924.5 185.4L1917.0 186.2L1918.0 184.9L1908.8 183.2ZM1926.4 181.8L1935.4 182.2L1934.7 180.7L1941.9 183.2L1934.5 185.1L1935.3 183.6L1926.3 183.2ZM1943.7 181.8L1952.9 180.9L1952.0 179.5L1959.4 180.9L1952.4 183.8L1953.0 182.3L1943.8 183.2ZM1961.0 181.8L1970.7 179.5L1969.6 178.3L1977.2 178.8L1970.6 182.5L1971.0 181.0L1961.4 183.2ZM1978.4 181.8L1988.7 178.4L1987.6 177.2L1995.1 177.0L1988.9 181.4L1989.2 179.8L1978.9 183.2ZM1995.8 181.8L2006.8 177.7L2005.6 176.6L2013.1 176.0L2007.1 180.6L2007.3 179.0L1996.3 183.2ZM2013.2 181.8L2024.8 177.6L2023.6 176.5L2031.1 176.0L2025.1 180.5L2025.3 178.9L2013.7 183.2ZM2030.7 181.8L2042.6 178.2L2041.5 177.0L2049.0 177.0L2042.7 181.2L2043.0 179.6L2031.1 183.2ZM1490.4 219.3L1503.1 216.3L1502.0 215.0L1509.6 215.5L1503.0 219.3L1503.4 217.7L1490.8 220.7ZM1508.0 219.2L1520.5 218.5L1519.7 217.1L1527.0 218.8L1519.9 221.4L1520.6 219.9L1508.1 220.7ZM1525.5 219.3L1538.1 220.8L1537.5 219.2L1544.5 222.3L1537.0 223.6L1537.9 222.2L1525.4 220.7ZM1543.1 219.3L1555.8 222.9L1555.5 221.3L1561.9 225.4L1554.3 225.5L1555.4 224.3L1542.7 220.7ZM1560.6 219.3L1573.5 224.6L1573.4 223.0L1579.3 227.7L1571.8 227.0L1573.0 225.9L1560.0 220.6ZM1578.1 219.3L1591.1 225.4L1591.1 223.8L1596.7 228.8L1589.3 227.7L1590.5 226.7L1577.4 220.6ZM1595.5 219.3L1608.5 225.2L1608.5 223.6L1614.2 228.6L1606.7 227.6L1607.9 226.6L1594.9 220.6ZM1612.9 219.3L1625.7 224.1L1625.6 222.5L1631.6 227.1L1624.1 226.6L1625.2 225.5L1612.4 220.7ZM1630.2 219.3L1642.9 222.2L1642.5 220.7L1649.0 224.4L1641.5 224.9L1642.5 223.6L1629.9 220.7ZM1647.5 219.2L1660.0 220.0L1659.4 218.5L1666.5 221.1L1659.1 222.9L1659.9 221.5L1647.4 220.7ZM1664.8 219.3L1677.3 217.7L1676.4 216.4L1683.9 217.7L1677.0 220.7L1677.5 219.2L1665.0 220.7ZM1682.1 219.3L1694.9 215.6L1693.8 214.4L1701.3 214.5L1695.0 218.6L1695.3 217.0L1682.5 220.7ZM1699.5 219.3L1712.4 214.0L1711.2 213.0L1718.8 212.2L1712.9 217.0L1713.0 215.4L1700.0 220.6ZM1716.9 219.3L1730.0 213.2L1728.7 212.2L1736.2 211.1L1730.5 216.2L1730.6 214.5L1717.5 220.6ZM1734.3 219.3L1747.4 213.4L1746.1 212.4L1753.6 211.3L1747.9 216.3L1748.0 214.7L1734.9 220.6ZM1751.8 219.3L1764.7 214.5L1763.5 213.4L1771.0 212.9L1765.0 217.5L1765.2 215.8L1752.3 220.7ZM1769.3 219.3L1782.0 216.3L1780.9 215.0L1788.5 215.5L1781.9 219.3L1782.3 217.7L1769.6 220.7ZM1786.9 219.2L1799.4 218.5L1798.5 217.1L1805.9 218.8L1798.8 221.4L1799.4 219.9L1787.0 220.7ZM1804.4 219.3L1816.9 220.8L1816.4 219.2L1823.3 222.3L1815.9 223.6L1816.8 222.2L1804.3 220.7ZM1822.0 219.3L1834.7 222.9L1834.4 221.3L1840.8 225.4L1833.2 225.5L1834.3 224.3L1821.6 220.7ZM1839.5 219.3L1852.4 224.6L1852.3 223.0L1858.2 227.7L1850.7 227.0L1851.9 225.9L1838.9 220.6ZM1856.9 219.3L1870.0 225.4L1870.0 223.8L1875.6 228.8L1868.1 227.7L1869.4 226.7L1856.3 220.6ZM1874.4 219.3L1887.4 225.2L1887.4 223.6L1893.1 228.6L1885.6 227.6L1886.8 226.6L1873.8 220.6ZM1891.7 219.3L1904.6 224.1L1904.5 222.5L1910.5 227.1L1902.9 226.6L1904.1 225.5L1891.2 220.7ZM1909.1 219.3L1921.7 222.2L1921.4 220.7L1927.9 224.4L1920.4 224.9L1921.4 223.6L1908.8 220.7ZM1926.4 219.2L1938.9 220.0L1938.2 218.5L1945.3 221.1L1938.0 222.9L1938.8 221.5L1926.3 220.7ZM1943.7 219.3L1956.2 217.7L1955.3 216.4L1962.8 217.7L1955.8 220.7L1956.4 219.2L1943.9 220.7ZM1961.0 219.3L1973.7 215.6L1972.6 214.4L1980.2 214.5L1973.8 218.6L1974.1 217.0L1961.4 220.7ZM1978.4 219.3L1991.3 214.0L1990.1 213.0L1997.6 212.2L1991.7 217.0L1991.9 215.4L1978.9 220.6ZM1995.8 219.3L2008.8 213.2L2007.6 212.2L2015.1 211.1L2009.4 216.2L2009.5 214.5L1996.4 220.6ZM2013.2 219.3L2026.3 213.4L2025.0 212.4L2032.5 211.3L2026.8 216.3L2026.9 214.7L2013.8 220.6ZM2030.7 219.3L2043.6 214.5L2042.4 213.4L2049.9 212.9L2043.9 217.5L2044.1 215.8L2031.2 220.7ZM1490.5 256.8L1503.1 254.1L1502.1 252.8L1509.6 253.5L1503.0 257.1L1503.4 255.5L1490.7 258.2ZM1508.0 256.7L1520.5 256.1L1519.7 254.7L1527.0 256.4L1519.9 259.0L1520.6 257.5L1508.1 258.2ZM1525.5 256.7L1538.1 258.1L1537.5 256.6L1544.5 259.5L1537.0 260.9L1537.9 259.5L1525.4 258.2ZM1543.1 256.8L1555.7 260.0L1555.4 258.4L1561.9 262.3L1554.3 262.6L1555.4 261.4L1542.7 258.2ZM1560.6 256.8L1573.4 261.5L1573.2 259.9L1579.3 264.4L1571.8 263.9L1572.9 262.8L1560.1 258.1ZM1578.0 256.8L1591.0 262.2L1590.9 260.6L1596.7 265.4L1589.2 264.6L1590.4 263.5L1577.5 258.1ZM1595.5 256.8L1608.4 262.1L1608.3 260.4L1614.2 265.2L1606.6 264.5L1607.9 263.4L1594.9 258.1ZM1612.8 256.8L1625.6 261.0L1625.4 259.4L1631.6 263.8L1624.0 263.6L1625.2 262.4L1612.4 258.2ZM1630.2 256.8L1642.8 259.4L1642.4 257.8L1649.0 261.5L1641.5 262.1L1642.5 260.8L1629.9 258.2ZM1647.5 256.7L1660.0 257.4L1659.3 255.9L1666.5 258.5L1659.1 260.3L1659.9 258.9L1647.4 258.2ZM1664.8 256.7L1677.3 255.4L1676.5 254.0L1683.9 255.4L1676.9 258.3L1677.5 256.8L1665.0 258.2ZM1682.1 256.8L1694.8 253.5L1693.8 252.3L1701.3 252.6L1694.8 256.5L1695.2 254.9L1682.5 258.2ZM1699.5 256.8L1712.4 252.1L1711.2 251.0L1718.8 250.6L1712.7 255.1L1712.9 253.5L1700.0 258.1ZM1716.9 256.8L1729.9 251.4L1728.7 250.3L1736.2 249.6L1730.3 254.4L1730.4 252.7L1717.5 258.1ZM1734.3 256.8L1747.3 251.5L1746.1 250.5L1753.6 249.8L1747.7 254.5L1747.8 252.9L1734.9 258.1ZM1751.8 256.8L1764.6 252.5L1763.5 251.4L1771.0 251.1L1764.9 255.5L1765.1 253.9L1752.3 258.2ZM1769.3 256.8L1781.9 254.1L1780.9 252.8L1788.5 253.5L1781.8 257.1L1782.2 255.5L1769.6 258.2ZM1786.9 256.7L1799.4 256.1L1798.6 254.7L1805.9 256.4L1798.8 259.0L1799.4 257.5L1786.9 258.2ZM1804.4 256.7L1816.9 258.1L1816.4 256.6L1823.3 259.5L1815.9 260.9L1816.8 259.5L1804.3 258.2ZM1821.9 256.8L1834.6 260.0L1834.3 258.4L1840.8 262.3L1833.2 262.6L1834.3 261.4L1821.6 258.2ZM1839.4 256.8L1852.3 261.5L1852.1 259.9L1858.2 264.4L1850.6 263.9L1851.8 262.8L1839.0 258.1ZM1856.9 256.8L1869.9 262.2L1869.8 260.6L1875.6 265.4L1868.1 264.6L1869.3 263.5L1856.3 258.1ZM1874.3 256.8L1887.3 262.1L1887.2 260.4L1893.1 265.2L1885.5 264.5L1886.7 263.4L1873.8 258.1ZM1891.7 256.8L1904.5 261.0L1904.3 259.4L1910.5 263.8L1902.9 263.6L1904.1 262.4L1891.3 258.2ZM1909.1 256.8L1921.7 259.4L1921.3 257.8L1927.9 261.5L1920.4 262.1L1921.4 260.8L1908.8 258.2ZM1926.4 256.7L1938.9 257.4L1938.2 255.9L1945.3 258.5L1938.0 260.3L1938.8 258.9L1926.3 258.2ZM1943.7 256.7L1956.2 255.4L1955.3 254.0L1962.8 255.4L1955.8 258.3L1956.4 256.8L1943.9 258.2ZM1961.0 256.8L1973.7 253.5L1972.6 252.3L1980.2 252.6L1973.7 256.5L1974.1 254.9L1961.4 258.2ZM1978.4 256.8L1991.3 252.1L1990.1 251.0L1997.6 250.6L1991.6 255.1L1991.8 253.5L1978.9 258.1ZM1995.8 256.8L2008.8 251.4L2007.5 250.3L2015.1 249.6L2009.2 254.4L2009.3 252.7L1996.3 258.1ZM2013.2 256.8L2026.2 251.5L2025.0 250.5L2032.5 249.8L2026.6 254.5L2026.7 252.9L2013.8 258.1ZM2030.7 256.8L2043.5 252.5L2042.4 251.4L2049.9 251.1L2043.7 255.5L2044.0 253.9L2031.2 258.2ZM1490.5 294.3L1496.2 293.1L1495.2 291.8L1502.7 292.5L1496.1 296.1L1496.5 294.5L1490.7 295.7ZM1508.0 294.2L1512.2 294.0L1511.4 292.6L1518.7 294.4L1511.6 297.0L1512.2 295.5L1508.1 295.7ZM1525.5 294.2L1529.1 294.6L1528.5 293.1L1535.5 296.0L1528.0 297.4L1528.9 296.1L1525.4 295.7ZM1543.1 294.3L1547.0 295.2L1546.6 293.6L1553.2 297.5L1545.6 297.9L1546.7 296.6L1542.7 295.7ZM1560.6 294.3L1565.8 296.1L1565.6 294.5L1571.7 298.9L1564.2 298.6L1565.3 297.5L1560.1 295.7ZM1578.0 294.3L1585.2 297.1L1585.0 295.5L1591.0 300.2L1583.4 299.6L1584.6 298.5L1577.5 295.6ZM1595.4 294.3L1604.8 297.9L1604.7 296.3L1610.7 300.9L1603.1 300.4L1604.3 299.3L1594.9 295.6ZM1612.8 294.3L1624.4 298.0L1624.2 296.4L1630.4 300.6L1622.8 300.5L1624.0 299.3L1612.4 295.7ZM1630.2 294.3L1643.6 296.9L1643.2 295.4L1649.9 298.9L1642.4 299.6L1643.4 298.4L1629.9 295.7ZM1647.5 294.2L1662.3 295.0L1661.7 293.5L1668.8 296.1L1661.4 297.9L1662.2 296.5L1647.4 295.7ZM1664.8 294.2L1680.3 292.6L1679.4 291.3L1686.9 292.7L1679.9 295.6L1680.5 294.1L1665.0 295.7ZM1682.2 294.3L1697.5 290.5L1696.5 289.3L1704.1 289.7L1697.5 293.5L1697.9 291.9L1682.5 295.7ZM1699.5 294.3L1714.0 289.3L1712.8 288.1L1720.4 287.8L1714.2 292.3L1714.4 290.7L1700.0 295.7ZM1716.9 294.3L1729.6 289.3L1728.4 288.2L1736.0 287.5L1730.0 292.2L1730.2 290.6L1717.5 295.6ZM1734.4 294.3L1744.8 290.3L1743.6 289.2L1751.1 288.6L1745.2 293.2L1745.3 291.6L1734.9 295.6ZM1751.8 294.3L1759.8 291.7L1758.7 290.6L1766.2 290.5L1760.0 294.7L1760.2 293.1L1752.3 295.7ZM1769.3 294.3L1775.1 293.1L1774.1 291.8L1781.6 292.5L1774.9 296.1L1775.4 294.5L1769.6 295.7ZM1786.9 294.2L1791.0 294.0L1790.2 292.6L1797.6 294.4L1790.5 297.0L1791.1 295.5L1786.9 295.7ZM1804.4 294.2L1807.9 294.6L1807.4 293.1L1814.4 296.0L1806.9 297.4L1807.8 296.1L1804.3 295.7ZM1821.9 294.3L1825.9 295.2L1825.5 293.6L1832.0 297.5L1824.5 297.9L1825.5 296.6L1821.6 295.7ZM1839.4 294.3L1844.7 296.1L1844.5 294.5L1850.6 298.9L1843.0 298.6L1844.2 297.5L1839.0 295.7ZM1856.9 294.3L1864.1 297.1L1863.9 295.5L1869.9 300.2L1862.3 299.6L1863.5 298.5L1856.4 295.6ZM1874.3 294.3L1883.7 297.9L1883.6 296.3L1889.5 300.9L1882.0 300.4L1883.2 299.3L1873.8 295.6ZM1891.7 294.3L1903.3 298.0L1903.0 296.4L1909.3 300.6L1901.7 300.5L1902.9 299.3L1891.3 295.7ZM1909.1 294.3L1922.5 296.9L1922.1 295.4L1928.8 298.9L1921.2 299.6L1922.2 298.4L1908.8 295.7ZM1926.4 294.2L1941.2 295.0L1940.5 293.5L1947.7 296.1L1940.3 297.9L1941.1 296.5L1926.3 295.7ZM1943.7 294.2L1959.2 292.6L1958.3 291.3L1965.8 292.7L1958.8 295.6L1959.3 294.1L1943.9 295.7ZM1961.0 294.3L1976.4 290.5L1975.4 289.3L1982.9 289.7L1976.4 293.5L1976.8 291.9L1961.4 295.7ZM1978.4 294.3L1992.8 289.3L1991.7 288.1L1999.2 287.8L1993.1 292.3L1993.3 290.7L1978.9 295.7ZM1995.8 294.3L2008.5 289.3L2007.3 288.2L2014.8 287.5L2008.9 292.2L2009.0 290.6L1996.3 295.6ZM2013.2 294.3L2023.7 290.3L2022.5 289.2L2030.0 288.6L2024.0 293.2L2024.2 291.6L2013.8 295.6ZM2030.7 294.3L2038.7 291.7L2037.6 290.6L2045.1 290.5L2038.9 294.7L2039.1 293.1L2031.1 295.7ZM1490.5 331.8L1491.2 331.7L1490.4 330.5L1497.2 331.6L1490.8 334.5L1491.3 333.0L1490.7 333.1ZM1508.0 332.1L1508.4 332.1L1508.0 331.4L1511.5 332.4L1508.1 333.5L1508.4 332.8L1508.0 332.8ZM1525.5 332.3L1525.7 332.3L1525.5 331.8L1527.5 332.6L1525.4 333.1L1525.7 332.7L1525.4 332.7ZM1542.9 332.2L1543.2 332.2L1543.0 331.7L1545.5 332.9L1542.8 333.2L1543.1 332.8L1542.9 332.7ZM1560.4 332.0L1560.9 332.1L1560.6 331.0L1565.4 333.6L1560.0 334.0L1560.7 333.1L1560.2 333.0ZM1577.9 331.8L1580.6 332.4L1580.2 330.8L1586.7 334.7L1579.2 335.1L1580.2 333.8L1577.6 333.2ZM1595.3 331.8L1602.9 333.6L1602.5 332.0L1609.0 335.8L1601.5 336.2L1602.5 335.0L1595.0 333.2ZM1612.8 331.8L1625.3 334.2L1624.8 332.7L1631.5 336.2L1624.0 336.9L1625.0 335.7L1612.5 333.2ZM1630.1 331.7L1647.0 333.9L1646.5 332.3L1653.4 335.4L1645.9 336.6L1646.8 335.3L1629.9 333.2ZM1647.5 331.7L1667.5 332.4L1666.8 330.9L1674.0 333.3L1666.7 335.3L1667.5 333.8L1647.4 333.2ZM1664.9 331.7L1686.3 330.4L1685.5 329.0L1692.9 330.7L1685.8 333.3L1686.4 331.8L1664.9 333.2ZM1682.2 331.7L1703.2 328.6L1702.2 327.2L1709.7 328.3L1702.9 331.5L1703.4 330.0L1682.4 333.2ZM1699.6 331.8L1718.2 327.7L1717.2 326.5L1724.7 327.1L1718.1 330.7L1718.5 329.2L1699.9 333.2ZM1717.0 331.8L1731.7 328.1L1730.6 326.9L1738.2 327.3L1731.7 331.1L1732.0 329.5L1717.4 333.2ZM1734.4 331.8L1744.2 329.4L1743.2 328.2L1750.8 328.6L1744.2 332.4L1744.6 330.8L1734.8 333.2ZM1751.9 331.8L1756.6 330.8L1755.6 329.5L1763.1 330.3L1756.5 333.8L1756.9 332.2L1752.2 333.2ZM1769.4 331.8L1770.1 331.7L1769.2 330.5L1776.1 331.6L1769.7 334.5L1770.2 333.0L1769.6 333.1ZM1786.9 332.1L1787.2 332.1L1786.9 331.4L1790.4 332.4L1786.9 333.5L1787.3 332.8L1786.9 332.8ZM1804.4 332.3L1804.6 332.3L1804.4 331.8L1806.4 332.6L1804.3 333.1L1804.5 332.7L1804.3 332.7ZM1821.8 332.2L1822.1 332.2L1821.9 331.7L1824.4 332.9L1821.6 333.2L1822.0 332.8L1821.7 332.7ZM1839.3 332.0L1839.8 332.1L1839.5 331.0L1844.2 333.6L1838.9 334.0L1839.6 333.1L1839.1 333.0ZM1856.8 331.8L1859.5 332.4L1859.1 330.8L1865.6 334.7L1858.1 335.1L1859.1 333.8L1856.5 333.2ZM1874.2 331.8L1881.8 333.6L1881.4 332.0L1887.9 335.8L1880.4 336.2L1881.4 335.0L1873.9 333.2ZM1891.6 331.8L1904.1 334.2L1903.7 332.7L1910.4 336.2L1902.9 336.9L1903.9 335.7L1891.3 333.2ZM1909.0 331.7L1925.9 333.9L1925.4 332.3L1932.3 335.4L1924.8 336.6L1925.7 335.3L1908.8 333.2ZM1926.4 331.7L1946.4 332.4L1945.7 330.9L1952.9 333.3L1945.6 335.3L1946.3 333.8L1926.3 333.2ZM1943.7 331.7L1965.2 330.4L1964.4 329.0L1971.7 330.7L1964.6 333.3L1965.3 331.8L1943.8 333.2ZM1961.1 331.7L1982.0 328.6L1981.1 327.2L1988.6 328.3L1981.8 331.5L1982.3 330.0L1961.3 333.2ZM1978.5 331.8L1997.1 327.7L1996.1 326.5L2003.6 327.1L1997.0 330.7L1997.4 329.2L1978.8 333.2ZM1995.9 331.8L2010.6 328.1L2009.5 326.9L2017.1 327.3L2010.6 331.1L2010.9 329.5L1996.2 333.2ZM2013.3 331.8L2023.1 329.4L2022.1 328.2L2029.6 328.6L2023.1 332.4L2023.5 330.8L2013.7 333.2ZM2030.8 331.8L2035.5 330.8L2034.5 329.5L2042.0 330.3L2035.3 333.8L2035.8 332.2L2031.1 333.2ZM1490.6 369.2L1491.4 369.2L1490.7 367.8L1498.0 369.9L1490.7 372.1L1491.4 370.7L1490.6 370.7ZM1508.0 369.6L1508.4 369.6L1508.0 368.9L1511.7 370.0L1508.0 371.1L1508.4 370.3L1508.0 370.3ZM1525.5 369.8L1525.7 369.8L1525.5 369.3L1527.5 370.0L1525.5 370.6L1525.7 370.2L1525.5 370.2ZM1542.9 369.7L1543.2 369.7L1542.9 369.2L1545.6 370.0L1542.9 370.8L1543.2 370.2L1542.9 370.2ZM1560.3 369.4L1560.9 369.4L1560.3 368.3L1565.8 370.1L1560.3 371.6L1560.9 370.5L1560.3 370.5ZM1577.8 369.2L1581.3 369.3L1580.6 367.8L1587.8 370.2L1580.5 372.2L1581.3 370.8L1577.7 370.7ZM1595.2 369.2L1604.4 369.4L1603.7 368.0L1610.9 370.3L1603.6 372.3L1604.3 370.9L1595.2 370.7ZM1612.6 369.2L1627.6 369.5L1626.9 368.0L1634.1 370.3L1626.8 372.4L1627.6 370.9L1612.6 370.7ZM1630.0 369.2L1650.2 369.4L1649.5 368.0L1656.7 370.2L1649.4 372.3L1650.1 370.9L1630.0 370.7ZM1647.5 369.2L1671.3 369.3L1670.5 367.8L1677.8 370.0L1670.5 372.2L1671.2 370.7L1647.5 370.7ZM1664.9 369.2L1690.3 369.1L1689.6 367.7L1696.8 369.8L1689.6 372.0L1690.3 370.6L1664.9 370.7ZM1682.3 369.2L1707.1 368.9L1706.4 367.5L1713.6 369.6L1706.4 371.8L1707.1 370.4L1682.3 370.7ZM1699.7 369.2L1721.7 368.9L1721.0 367.4L1728.2 369.5L1721.0 371.8L1721.7 370.3L1699.8 370.7ZM1717.2 369.2L1734.6 368.9L1733.8 367.5L1741.1 369.5L1733.9 371.8L1734.6 370.3L1717.2 370.7ZM1734.6 369.2L1746.4 369.0L1745.6 367.6L1752.9 369.6L1745.7 371.9L1746.4 370.5L1734.6 370.7ZM1752.0 369.2L1758.0 369.1L1757.3 367.7L1764.5 369.8L1757.3 372.1L1758.0 370.6L1752.1 370.7ZM1769.5 369.2L1770.3 369.2L1769.6 367.8L1776.8 369.9L1769.6 372.1L1770.3 370.7L1769.5 370.7ZM1786.9 369.6L1787.3 369.6L1786.9 368.9L1790.6 370.0L1786.9 371.1L1787.3 370.3L1786.9 370.3ZM1804.3 369.8L1804.5 369.8L1804.3 369.3L1806.4 370.0L1804.3 370.6L1804.5 370.2L1804.3 370.2ZM1821.8 369.7L1822.0 369.7L1821.8 369.2L1824.5 370.0L1821.8 370.8L1822.0 370.2L1821.8 370.2ZM1839.2 369.4L1839.8 369.4L1839.2 368.3L1844.7 370.1L1839.2 371.6L1839.7 370.5L1839.2 370.5ZM1856.6 369.2L1860.2 369.3L1859.5 367.8L1866.7 370.2L1859.4 372.2L1860.2 370.8L1856.6 370.7ZM1874.1 369.2L1883.2 369.4L1882.5 368.0L1889.8 370.3L1882.5 372.3L1883.2 370.9L1874.0 370.7ZM1891.5 369.2L1906.5 369.5L1905.8 368.0L1913.0 370.3L1905.7 372.4L1906.5 370.9L1891.5 370.7ZM1908.9 369.2L1929.0 369.4L1928.3 368.0L1935.6 370.2L1928.3 372.3L1929.0 370.9L1908.9 370.7ZM1926.3 369.2L1950.1 369.3L1949.4 367.8L1956.7 370.0L1949.4 372.2L1950.1 370.7L1926.3 370.7ZM1943.8 369.2L1969.2 369.1L1968.5 367.7L1975.7 369.8L1968.5 372.0L1969.2 370.6L1943.8 370.7ZM1961.2 369.2L1986.0 368.9L1985.2 367.5L1992.5 369.6L1985.3 371.8L1986.0 370.4L1961.2 370.7ZM1978.6 369.2L2000.6 368.9L1999.8 367.4L2007.1 369.5L1999.9 371.8L2000.6 370.3L1978.7 370.7ZM1996.1 369.2L2013.5 368.9L2012.7 367.5L2020.0 369.5L2012.8 371.8L2013.5 370.3L1996.1 370.7ZM2013.5 369.2L2025.3 369.0L2024.5 367.6L2031.8 369.6L2024.6 371.9L2025.3 370.5L2013.5 370.7ZM2030.9 369.2L2036.9 369.1L2036.1 367.7L2043.4 369.8L2036.2 372.1L2036.9 370.6L2030.9 370.7ZM1490.7 406.8L1491.3 406.8L1490.8 405.4L1497.4 408.1L1490.4 409.5L1491.2 408.2L1490.5 408.1ZM1508.0 407.1L1508.4 407.1L1508.1 406.4L1511.6 407.5L1508.0 408.5L1508.4 407.8L1508.0 407.8ZM1525.4 407.3L1525.7 407.2L1525.4 406.8L1527.5 407.4L1525.5 408.1L1525.7 407.7L1525.5 407.7ZM1542.9 407.2L1543.1 407.2L1542.8 406.7L1545.5 407.2L1543.0 408.2L1543.2 407.7L1542.9 407.7ZM1560.2 406.9L1560.7 406.9L1560.1 405.9L1565.5 406.6L1560.6 409.0L1560.9 407.9L1560.4 408.0ZM1577.6 406.7L1580.5 406.2L1579.5 404.9L1587.0 405.7L1580.3 409.2L1580.7 407.6L1577.9 408.2ZM1595.0 406.7L1603.0 405.3L1602.0 404.0L1609.5 404.8L1602.8 408.3L1603.2 406.7L1595.3 408.2ZM1612.5 406.7L1625.6 404.7L1624.7 403.4L1632.2 404.5L1625.3 407.7L1625.8 406.2L1612.7 408.2ZM1630.0 406.7L1647.7 405.0L1646.8 403.7L1654.2 405.1L1647.2 408.0L1647.8 406.5L1630.1 408.2ZM1647.5 406.7L1668.4 406.2L1667.6 404.8L1674.9 406.8L1667.8 409.1L1668.4 407.7L1647.5 408.2ZM1664.9 406.7L1687.4 407.9L1686.7 406.4L1693.8 408.9L1686.5 410.7L1687.3 409.3L1664.9 408.2ZM1682.4 406.7L1704.3 409.3L1703.8 407.8L1710.7 410.8L1703.3 412.1L1704.1 410.7L1682.2 408.2ZM1699.9 406.7L1719.3 410.0L1718.8 408.4L1725.6 411.8L1718.1 412.7L1719.0 411.4L1699.6 408.2ZM1717.3 406.7L1732.6 409.7L1732.2 408.1L1738.9 411.6L1731.4 412.4L1732.4 411.1L1717.1 408.2ZM1734.8 406.7L1745.0 408.7L1744.6 407.1L1751.3 410.6L1743.8 411.4L1744.7 410.1L1734.5 408.2ZM1752.2 406.7L1757.1 407.5L1756.7 406.0L1763.5 409.2L1756.0 410.3L1756.9 408.9L1751.9 408.2ZM1769.5 406.8L1770.2 406.8L1769.7 405.4L1776.3 408.1L1769.3 409.5L1770.1 408.2L1769.4 408.1ZM1786.9 407.1L1787.3 407.1L1786.9 406.4L1790.4 407.5L1786.9 408.5L1787.3 407.8L1786.9 407.8ZM1804.3 407.3L1804.5 407.2L1804.3 406.8L1806.4 407.4L1804.4 408.1L1804.6 407.7L1804.3 407.7ZM1821.7 407.2L1822.0 407.2L1821.7 406.7L1824.4 407.2L1821.9 408.2L1822.1 407.7L1821.8 407.7ZM1839.1 406.9L1839.6 406.9L1838.9 405.9L1844.4 406.6L1839.5 409.0L1839.8 407.9L1839.3 408.0ZM1856.5 406.7L1859.3 406.2L1858.4 404.9L1865.9 405.7L1859.2 409.2L1859.6 407.6L1856.8 408.2ZM1873.9 406.7L1881.8 405.3L1880.9 404.0L1888.4 404.8L1881.7 408.3L1882.1 406.7L1874.2 408.2ZM1891.4 406.7L1904.5 404.7L1903.6 403.4L1911.0 404.5L1904.2 407.7L1904.7 406.2L1891.6 408.2ZM1908.8 406.7L1926.5 405.0L1925.7 403.7L1933.1 405.1L1926.1 408.0L1926.7 406.5L1909.0 408.2ZM1926.3 406.7L1947.3 406.2L1946.5 404.8L1953.8 406.8L1946.6 409.1L1947.3 407.7L1926.4 408.2ZM1943.8 406.7L1966.2 407.9L1965.6 406.4L1972.7 408.9L1965.4 410.7L1966.2 409.3L1943.7 408.2ZM1961.3 406.7L1983.2 409.3L1982.6 407.8L1989.6 410.8L1982.1 412.1L1983.0 410.7L1961.1 408.2ZM1978.8 406.7L1998.2 410.0L1997.7 408.4L2004.5 411.8L1997.0 412.7L1997.9 411.4L1978.5 408.2ZM1996.2 406.7L2011.5 409.7L2011.1 408.1L2017.8 411.6L2010.3 412.4L2011.3 411.1L1995.9 408.2ZM2013.6 406.7L2023.9 408.7L2023.4 407.1L2030.2 410.6L2022.6 411.4L2023.6 410.1L2013.4 408.2ZM2031.0 406.7L2036.0 407.5L2035.5 406.0L2042.4 409.2L2034.9 410.3L2035.8 408.9L2030.8 408.2ZM1490.7 444.2L1495.1 445.0L1494.6 443.5L1501.4 446.9L1493.8 447.8L1494.8 446.5L1490.5 445.7ZM1508.1 444.2L1510.4 444.3L1509.8 442.9L1516.9 445.4L1509.6 447.2L1510.4 445.8L1508.0 445.7ZM1525.4 444.2L1526.9 444.1L1526.1 442.7L1533.5 444.2L1526.5 447.0L1527.1 445.5L1525.5 445.7ZM1542.7 444.3L1544.7 443.8L1543.7 442.6L1551.2 443.1L1544.6 446.8L1545.0 445.2L1543.0 445.7ZM1560.1 444.3L1563.7 443.1L1562.6 442.0L1570.1 441.9L1563.9 446.1L1564.1 444.5L1560.5 445.7ZM1577.5 444.3L1583.5 442.1L1582.4 441.0L1589.9 440.6L1583.8 445.1L1584.0 443.5L1578.0 445.6ZM1594.9 444.3L1603.9 441.2L1602.7 440.0L1610.3 439.7L1604.1 444.1L1604.3 442.5L1595.4 445.6ZM1612.4 444.3L1624.2 440.9L1623.1 439.7L1630.7 439.8L1624.3 443.9L1624.6 442.3L1612.8 445.7ZM1629.9 444.2L1644.2 441.7L1643.2 440.4L1650.8 441.2L1644.0 444.6L1644.5 443.1L1630.2 445.7ZM1647.4 444.2L1663.5 443.5L1662.7 442.1L1670.1 443.9L1663.0 446.4L1663.6 444.9L1647.5 445.7ZM1665.0 444.2L1681.9 445.8L1681.4 444.3L1688.4 447.2L1680.9 448.6L1681.8 447.3L1664.8 445.7ZM1682.5 444.3L1699.3 448.0L1698.9 446.4L1705.5 450.1L1697.9 450.6L1698.9 449.4L1682.2 445.7ZM1700.0 444.3L1715.4 449.1L1715.2 447.5L1721.4 451.8L1713.9 451.7L1715.0 450.5L1699.5 445.7ZM1717.4 444.3L1730.6 449.0L1730.4 447.4L1736.5 451.9L1729.0 451.5L1730.1 450.4L1716.9 445.6ZM1734.9 444.3L1745.1 447.9L1744.9 446.3L1751.0 450.7L1743.5 450.4L1744.6 449.2L1734.4 445.6ZM1752.2 444.3L1759.4 446.3L1759.1 444.7L1765.5 448.8L1757.9 448.9L1759.0 447.7L1751.8 445.7ZM1769.6 444.2L1774.0 445.0L1773.5 443.5L1780.2 446.9L1772.7 447.8L1773.7 446.5L1769.3 445.7ZM1786.9 444.2L1789.3 444.3L1788.6 442.9L1795.8 445.4L1788.4 447.2L1789.2 445.8L1786.9 445.7ZM1804.3 444.2L1805.8 444.1L1804.9 442.7L1812.4 444.2L1805.4 447.0L1805.9 445.5L1804.4 445.7ZM1821.6 444.3L1823.6 443.8L1822.6 442.6L1830.1 443.1L1823.5 446.8L1823.9 445.2L1821.9 445.7ZM1839.0 444.3L1842.6 443.1L1841.4 442.0L1849.0 441.9L1842.7 446.1L1843.0 444.5L1839.4 445.7ZM1856.4 444.3L1862.4 442.1L1861.2 441.0L1868.8 440.6L1862.7 445.1L1862.9 443.5L1856.9 445.6ZM1873.8 444.3L1882.7 441.2L1881.6 440.0L1889.1 439.7L1883.0 444.1L1883.2 442.5L1874.3 445.6ZM1891.3 444.3L1903.1 440.9L1902.0 439.7L1909.6 439.8L1903.2 443.9L1903.5 442.3L1891.7 445.7ZM1908.8 444.2L1923.1 441.7L1922.1 440.4L1929.6 441.2L1922.9 444.6L1923.4 443.1L1909.0 445.7ZM1926.3 444.2L1942.4 443.5L1941.6 442.1L1949.0 443.9L1941.8 446.4L1942.5 444.9L1926.4 445.7ZM1943.8 444.2L1960.8 445.8L1960.2 444.3L1967.2 447.2L1959.8 448.6L1960.7 447.3L1943.7 445.7ZM1961.4 444.3L1978.1 448.0L1977.7 446.4L1984.3 450.1L1976.8 450.6L1977.8 449.4L1961.1 445.7ZM1978.9 444.3L1994.3 449.1L1994.1 447.5L2000.3 451.8L1992.8 451.7L1993.9 450.5L1978.4 445.7ZM1996.3 444.3L2009.5 449.0L2009.3 447.4L2015.4 451.9L2007.8 451.5L2009.0 450.4L1995.8 445.6ZM2013.7 444.3L2024.0 447.9L2023.8 446.3L2029.9 450.7L2022.4 450.4L2023.5 449.2L2013.3 445.6ZM2031.1 444.3L2038.3 446.3L2038.0 444.7L2044.3 448.8L2036.8 448.9L2037.9 447.7L2030.7 445.7ZM1490.7 481.7L1501.6 484.0L1501.2 482.4L1507.9 486.0L1500.3 486.7L1501.4 485.4L1490.5 483.2ZM1508.1 481.7L1518.5 482.3L1517.8 480.8L1525.0 483.4L1517.6 485.2L1518.4 483.7L1508.0 483.2ZM1525.4 481.7L1535.7 480.6L1534.8 479.3L1542.2 480.7L1535.2 483.6L1535.8 482.1L1525.5 483.2ZM1542.7 481.8L1553.2 479.1L1552.1 477.9L1559.7 478.2L1553.2 482.1L1553.6 480.5L1543.1 483.2ZM1560.1 481.8L1571.0 477.8L1569.9 476.7L1577.4 476.3L1571.3 480.8L1571.5 479.2L1560.6 483.1ZM1577.5 481.8L1589.0 477.0L1587.8 476.0L1595.3 475.2L1589.4 480.0L1589.5 478.4L1578.0 483.1ZM1594.9 481.8L1607.0 476.9L1605.8 475.9L1613.3 475.2L1607.4 479.9L1607.5 478.3L1595.4 483.1ZM1612.4 481.8L1624.9 477.7L1623.7 476.5L1631.3 476.3L1625.1 480.6L1625.3 479.0L1612.8 483.1ZM1629.9 481.7L1642.7 479.1L1641.7 477.8L1649.3 478.5L1642.6 482.1L1643.0 480.5L1630.2 483.2ZM1647.4 481.7L1660.5 481.0L1659.7 479.6L1667.0 481.4L1659.9 484.0L1660.6 482.5L1647.5 483.2ZM1665.0 481.7L1678.2 483.2L1677.7 481.6L1684.6 484.6L1677.2 486.0L1678.1 484.6L1664.8 483.2ZM1682.5 481.8L1695.9 485.1L1695.5 483.5L1702.0 487.4L1694.4 487.8L1695.5 486.5L1682.2 483.2ZM1700.0 481.8L1713.3 486.5L1713.1 484.9L1719.2 489.4L1711.6 489.0L1712.8 487.9L1699.5 483.1ZM1717.5 481.8L1730.4 487.1L1730.3 485.5L1736.1 490.3L1728.6 489.5L1729.8 488.4L1716.9 483.1ZM1734.9 481.8L1747.2 486.7L1747.1 485.1L1753.0 489.8L1745.5 489.1L1746.7 488.1L1734.3 483.1ZM1752.3 481.8L1763.9 485.6L1763.6 484.0L1769.8 488.3L1762.3 488.1L1763.4 487.0L1751.8 483.1ZM1769.6 481.7L1780.5 484.0L1780.1 482.4L1786.8 486.0L1779.2 486.7L1780.2 485.4L1769.3 483.2ZM1786.9 481.7L1797.4 482.3L1796.7 480.8L1803.8 483.4L1796.5 485.2L1797.3 483.7L1786.9 483.2ZM1804.3 481.7L1814.5 480.6L1813.7 479.3L1821.1 480.7L1814.1 483.6L1814.7 482.1L1804.4 483.2ZM1821.6 481.8L1832.1 479.1L1831.0 477.9L1838.6 478.2L1832.1 482.1L1832.4 480.5L1821.9 483.2ZM1839.0 481.8L1849.9 477.8L1848.7 476.7L1856.3 476.3L1850.2 480.8L1850.4 479.2L1839.4 483.1ZM1856.4 481.8L1867.9 477.0L1866.7 476.0L1874.2 475.2L1868.3 480.0L1868.4 478.4L1856.9 483.1ZM1873.8 481.8L1885.9 476.9L1884.6 475.9L1892.2 475.2L1886.3 479.9L1886.4 478.3L1874.3 483.1ZM1891.3 481.8L1903.8 477.7L1902.6 476.5L1910.2 476.3L1904.0 480.6L1904.2 479.0L1891.7 483.1ZM1908.8 481.7L1921.6 479.1L1920.6 477.8L1928.1 478.5L1921.5 482.1L1921.9 480.5L1909.1 483.2ZM1926.3 481.7L1939.4 481.0L1938.6 479.6L1945.9 481.4L1938.8 484.0L1939.5 482.5L1926.4 483.2ZM1943.9 481.7L1957.1 483.2L1956.5 481.6L1963.5 484.6L1956.1 486.0L1957.0 484.6L1943.7 483.2ZM1961.4 481.8L1974.7 485.1L1974.4 483.5L1980.9 487.4L1973.3 487.8L1974.4 486.5L1961.0 483.2ZM1978.9 481.8L1992.1 486.5L1991.9 484.9L1998.0 489.4L1990.5 489.0L1991.7 487.9L1978.4 483.1ZM1996.3 481.8L2009.3 487.1L2009.1 485.5L2015.0 490.3L2007.5 489.5L2008.7 488.4L1995.8 483.1ZM2013.8 481.8L2026.1 486.7L2026.0 485.1L2031.9 489.8L2024.3 489.1L2025.6 488.1L2013.2 483.1ZM2031.2 481.8L2042.8 485.6L2042.5 484.0L2048.7 488.3L2041.2 488.1L2042.3 487.0L2030.7 483.1ZM1490.8 519.2L1503.4 522.1L1503.0 520.6L1509.6 524.3L1502.0 524.8L1503.1 523.6L1490.4 520.7ZM1508.1 519.2L1520.6 520.0L1519.9 518.5L1527.0 521.1L1519.7 522.8L1520.5 521.4L1508.0 520.7ZM1525.4 519.2L1537.9 517.8L1537.0 516.4L1544.5 517.7L1537.5 520.7L1538.1 519.2L1525.5 520.7ZM1542.7 519.3L1555.4 515.7L1554.3 514.5L1561.9 514.7L1555.5 518.7L1555.8 517.1L1543.1 520.7ZM1560.1 519.3L1573.0 514.2L1571.8 513.1L1579.3 512.4L1573.4 517.1L1573.5 515.5L1560.6 520.6ZM1577.5 519.3L1590.5 513.4L1589.2 512.4L1596.7 511.3L1591.0 516.3L1591.1 514.7L1578.0 520.6ZM1594.9 519.3L1607.9 513.5L1606.7 512.5L1614.2 511.6L1608.4 516.5L1608.5 514.9L1595.5 520.6ZM1612.4 519.3L1625.2 514.6L1624.1 513.5L1631.6 513.1L1625.5 517.6L1625.7 516.0L1612.9 520.6ZM1629.9 519.2L1642.5 516.4L1641.5 515.1L1649.0 515.6L1642.5 519.3L1642.8 517.8L1630.2 520.7ZM1647.4 519.2L1659.9 518.5L1659.1 517.1L1666.5 518.8L1659.4 521.4L1660.0 519.9L1647.5 520.7ZM1665.0 519.2L1677.5 520.7L1677.0 519.2L1683.9 522.2L1676.4 523.5L1677.3 522.2L1664.8 520.7ZM1682.5 519.3L1695.2 522.8L1694.9 521.2L1701.3 525.2L1693.8 525.4L1694.8 524.2L1682.1 520.7ZM1700.0 519.3L1713.0 524.4L1712.8 522.8L1718.8 527.5L1711.2 526.8L1712.4 525.8L1699.5 520.6ZM1717.5 519.3L1730.5 525.2L1730.5 523.6L1736.2 528.6L1728.7 527.6L1729.9 526.5L1716.9 520.6ZM1734.9 519.3L1747.9 525.1L1747.9 523.4L1753.6 528.4L1746.1 527.4L1747.4 526.4L1734.3 520.6ZM1752.3 519.3L1765.2 523.9L1765.0 522.3L1771.0 526.9L1763.5 526.4L1764.7 525.3L1751.8 520.6ZM1769.6 519.2L1782.3 522.1L1781.9 520.6L1788.5 524.3L1780.9 524.8L1782.0 523.6L1769.3 520.7ZM1787.0 519.2L1799.4 520.0L1798.8 518.5L1805.9 521.1L1798.5 522.8L1799.4 521.4L1786.9 520.7ZM1804.3 519.2L1816.8 517.8L1815.9 516.4L1823.3 517.7L1816.4 520.7L1816.9 519.2L1804.4 520.7ZM1821.6 519.3L1834.3 515.7L1833.2 514.5L1840.8 514.7L1834.4 518.7L1834.7 517.1L1822.0 520.7ZM1838.9 519.3L1851.9 514.2L1850.7 513.1L1858.2 512.4L1852.3 517.1L1852.4 515.5L1839.5 520.6ZM1856.3 519.3L1869.4 513.4L1868.1 512.4L1875.6 511.3L1869.9 516.3L1870.0 514.7L1856.9 520.6ZM1873.8 519.3L1886.8 513.5L1885.5 512.5L1893.1 511.6L1887.3 516.5L1887.4 514.9L1874.4 520.6ZM1891.2 519.3L1904.1 514.6L1902.9 513.5L1910.5 513.1L1904.4 517.6L1904.6 516.0L1891.7 520.6ZM1908.8 519.2L1921.4 516.4L1920.4 515.1L1927.9 515.6L1921.3 519.3L1921.7 517.8L1909.1 520.7ZM1926.3 519.2L1938.8 518.5L1938.0 517.1L1945.3 518.8L1938.2 521.4L1938.9 519.9L1926.4 520.7ZM1943.9 519.2L1956.4 520.7L1955.8 519.2L1962.8 522.2L1955.3 523.5L1956.2 522.2L1943.7 520.7ZM1961.4 519.3L1974.1 522.8L1973.8 521.2L1980.2 525.2L1972.6 525.4L1973.7 524.2L1961.0 520.7ZM1978.9 519.3L1991.8 524.4L1991.7 522.8L1997.6 527.5L1990.1 526.8L1991.3 525.8L1978.4 520.6ZM1996.4 519.3L2009.4 525.2L2009.4 523.6L2015.1 528.6L2007.6 527.6L2008.8 526.5L1995.8 520.6ZM2013.8 519.3L2026.8 525.1L2026.7 523.4L2032.5 528.4L2025.0 527.4L2026.2 526.4L2013.2 520.6ZM2031.2 519.3L2044.0 523.9L2043.9 522.3L2049.9 526.9L2042.4 526.4L2043.5 525.3L2030.7 520.6ZM1490.7 556.7L1502.9 559.2L1502.5 557.6L1509.2 561.2L1501.6 561.9L1502.6 560.6L1490.5 558.2ZM1508.1 556.7L1520.2 557.4L1519.5 555.9L1526.7 558.4L1519.3 560.2L1520.1 558.8L1508.0 558.2ZM1525.4 556.7L1537.4 555.5L1536.5 554.1L1544.0 555.5L1537.0 558.4L1537.6 556.9L1525.5 558.2ZM1542.7 556.7L1554.6 553.8L1553.6 552.6L1561.1 553.0L1554.6 556.8L1555.0 555.2L1543.1 558.2ZM1560.1 556.8L1571.8 552.7L1570.6 551.5L1578.2 551.2L1572.1 555.7L1572.3 554.0L1560.6 558.1ZM1577.5 556.8L1588.9 552.2L1587.7 551.2L1595.2 550.5L1589.3 555.2L1589.4 553.6L1578.0 558.1ZM1594.9 556.8L1605.9 552.5L1604.7 551.4L1612.2 550.8L1606.2 555.5L1606.4 553.9L1595.4 558.1ZM1612.4 556.8L1622.8 553.4L1621.7 552.3L1629.3 552.1L1623.0 556.4L1623.3 554.8L1612.8 558.1ZM1629.9 556.7L1639.9 554.7L1638.9 553.4L1646.5 554.1L1639.8 557.7L1640.2 556.1L1630.2 558.2ZM1647.4 556.7L1657.3 556.2L1656.5 554.8L1663.8 556.6L1656.7 559.1L1657.4 557.7L1647.5 558.2ZM1665.0 556.7L1675.0 557.8L1674.4 556.3L1681.4 559.2L1673.9 560.6L1674.8 559.2L1664.8 558.2ZM1682.5 556.7L1692.9 559.3L1692.5 557.7L1699.1 561.6L1691.5 561.9L1692.6 560.7L1682.2 558.2ZM1700.0 556.8L1711.0 560.6L1710.7 559.0L1716.9 563.4L1709.3 563.1L1710.5 562.0L1699.5 558.1ZM1717.5 556.8L1728.9 561.4L1728.8 559.7L1734.7 564.5L1727.2 563.8L1728.4 562.7L1716.9 558.1ZM1734.9 556.8L1746.8 561.4L1746.6 559.8L1752.6 564.4L1745.0 563.8L1746.3 562.8L1734.4 558.1ZM1752.3 556.8L1764.4 560.6L1764.1 559.0L1770.4 563.3L1762.8 563.2L1763.9 562.0L1751.8 558.1ZM1769.6 556.7L1781.8 559.2L1781.4 557.6L1788.0 561.2L1780.5 561.9L1781.5 560.6L1769.3 558.2ZM1786.9 556.7L1799.1 557.4L1798.4 555.9L1805.5 558.4L1798.2 560.2L1799.0 558.8L1786.9 558.2ZM1804.3 556.7L1816.3 555.5L1815.4 554.1L1822.9 555.5L1815.9 558.4L1816.4 556.9L1804.4 558.2ZM1821.6 556.7L1833.5 553.8L1832.5 552.6L1840.0 553.0L1833.5 556.8L1833.9 555.2L1821.9 558.2ZM1839.0 556.8L1850.7 552.7L1849.5 551.5L1857.1 551.2L1851.0 555.7L1851.2 554.0L1839.4 558.1ZM1856.4 556.8L1867.8 552.2L1866.5 551.2L1874.1 550.5L1868.2 555.2L1868.3 553.6L1856.9 558.1ZM1873.8 556.8L1884.7 552.5L1883.5 551.4L1891.1 550.8L1885.1 555.5L1885.3 553.9L1874.3 558.1ZM1891.3 556.8L1901.7 553.4L1900.6 552.3L1908.2 552.1L1901.9 556.4L1902.2 554.8L1891.7 558.1ZM1908.8 556.7L1918.8 554.7L1917.8 553.4L1925.4 554.1L1918.7 557.7L1919.1 556.1L1909.1 558.2ZM1926.3 556.7L1936.2 556.2L1935.4 554.8L1942.7 556.6L1935.6 559.1L1936.2 557.7L1926.4 558.2ZM1943.9 556.7L1953.8 557.8L1953.3 556.3L1960.3 559.2L1952.8 560.6L1953.7 559.2L1943.7 558.2ZM1961.4 556.7L1971.8 559.3L1971.4 557.7L1977.9 561.6L1970.4 561.9L1971.4 560.7L1961.0 558.2ZM1978.9 556.8L1989.8 560.6L1989.6 559.0L1995.8 563.4L1988.2 563.1L1989.4 562.0L1978.4 558.1ZM1996.3 556.8L2007.8 561.4L2007.7 559.7L2013.6 564.5L2006.1 563.8L2007.3 562.7L1995.8 558.1ZM2013.8 556.8L2025.7 561.4L2025.5 559.8L2031.5 564.4L2023.9 563.8L2025.1 562.8L2013.2 558.1ZM2031.1 556.8L2043.3 560.6L2043.0 559.0L2049.3 563.3L2041.7 563.2L2042.8 562.0L2030.7 558.1ZM1490.7 594.2L1497.3 595.2L1496.8 593.6L1503.7 596.8L1496.2 597.9L1497.1 596.6L1490.5 595.7ZM1508.1 594.2L1514.8 594.5L1514.1 593.0L1521.3 595.4L1514.0 597.3L1514.7 595.9L1508.0 595.7ZM1525.4 594.2L1531.9 593.8L1531.0 592.4L1538.4 594.0L1531.4 596.7L1532.0 595.2L1525.5 595.7ZM1542.8 594.2L1548.6 593.2L1547.7 591.9L1555.2 592.8L1548.4 596.2L1548.9 594.7L1543.0 595.7ZM1560.1 594.2L1565.1 593.0L1564.0 591.8L1571.6 592.2L1565.1 596.0L1565.4 594.4L1560.5 595.7ZM1577.6 594.2L1581.4 593.2L1580.3 592.0L1587.9 592.1L1581.5 596.2L1581.8 594.6L1577.9 595.6ZM1595.0 594.2L1597.7 593.5L1596.6 592.3L1604.2 592.5L1597.7 596.5L1598.1 594.9L1595.4 595.6ZM1612.5 594.2L1614.1 593.9L1613.1 592.6L1620.6 593.1L1614.1 596.9L1614.4 595.3L1612.8 595.7ZM1629.9 594.2L1630.9 594.1L1630.0 592.8L1637.5 593.9L1630.6 597.1L1631.1 595.5L1630.1 595.7ZM1647.4 594.2L1648.2 594.2L1647.4 592.8L1654.7 594.7L1647.6 597.1L1648.2 595.6L1647.5 595.7ZM1665.0 594.2L1666.0 594.3L1665.4 592.8L1672.4 595.5L1665.0 597.1L1665.9 595.7L1664.8 595.7ZM1682.5 594.2L1684.2 594.5L1683.8 593.0L1690.6 596.4L1683.0 597.3L1684.0 596.0L1682.2 595.7ZM1699.9 594.2L1702.8 594.9L1702.5 593.4L1709.0 597.2L1701.4 597.6L1702.5 596.4L1699.6 595.7ZM1717.4 594.2L1721.5 595.4L1721.2 593.8L1727.6 597.9L1720.0 598.0L1721.1 596.8L1717.0 595.6ZM1734.8 594.2L1740.0 595.7L1739.7 594.1L1746.1 598.1L1738.6 598.3L1739.7 597.1L1734.4 595.6ZM1752.2 594.2L1758.3 595.6L1757.9 594.0L1764.5 597.7L1757.0 598.3L1758.0 597.0L1751.9 595.7ZM1769.6 594.2L1776.2 595.2L1775.7 593.6L1782.5 596.8L1775.1 597.9L1776.0 596.6L1769.4 595.7ZM1786.9 594.2L1793.7 594.5L1793.0 593.0L1800.2 595.4L1792.8 597.3L1793.6 595.9L1786.9 595.7ZM1804.3 594.2L1810.7 593.8L1809.9 592.4L1817.3 594.0L1810.2 596.7L1810.9 595.2L1804.4 595.7ZM1821.6 594.2L1827.5 593.2L1826.5 591.9L1834.0 592.8L1827.3 596.2L1827.7 594.7L1821.9 595.7ZM1839.0 594.2L1844.0 593.0L1842.9 591.8L1850.5 592.2L1844.0 596.0L1844.3 594.4L1839.4 595.7ZM1856.4 594.2L1860.3 593.2L1859.2 592.0L1866.7 592.1L1860.4 596.2L1860.7 594.6L1856.8 595.6ZM1873.9 594.2L1876.6 593.5L1875.5 592.3L1883.0 592.5L1876.6 596.5L1876.9 594.9L1874.2 595.6ZM1891.3 594.2L1893.0 593.9L1892.0 592.6L1899.5 593.1L1892.9 596.9L1893.3 595.3L1891.6 595.7ZM1908.8 594.2L1909.8 594.1L1908.9 592.8L1916.4 593.9L1909.5 597.1L1910.0 595.5L1909.0 595.7ZM1926.3 594.2L1927.1 594.2L1926.3 592.8L1933.6 594.7L1926.4 597.1L1927.1 595.6L1926.4 595.7ZM1943.8 594.2L1944.9 594.3L1944.2 592.8L1951.3 595.5L1943.9 597.1L1944.8 595.7L1943.7 595.7ZM1961.3 594.2L1963.1 594.5L1962.7 593.0L1969.4 596.4L1961.9 597.3L1962.9 596.0L1961.1 595.7ZM1978.8 594.2L1981.7 594.9L1981.3 593.4L1987.9 597.2L1980.3 597.6L1981.4 596.4L1978.5 595.7ZM1996.3 594.2L2000.4 595.4L2000.1 593.8L2006.5 597.9L1998.9 598.0L2000.0 596.8L1995.9 595.6ZM2013.7 594.2L2018.9 595.7L2018.6 594.1L2025.0 598.1L2017.5 598.3L2018.5 597.1L2013.3 595.6ZM2031.1 594.2L2037.2 595.6L2036.8 594.0L2043.4 597.7L2035.8 598.3L2036.9 597.0L2030.8 595.7ZM1490.6 632.0L1491.1 632.0L1490.7 631.0L1495.3 632.8L1490.5 633.8L1491.0 632.9L1490.6 632.9ZM1508.0 632.0L1508.5 632.0L1508.1 631.0L1512.8 632.5L1508.0 633.9L1508.5 632.9L1508.0 632.9ZM1525.4 632.0L1525.9 632.0L1525.4 631.0L1530.1 632.3L1525.5 633.8L1525.9 632.9L1525.5 632.9ZM1542.9 632.0L1543.3 631.9L1542.8 631.1L1547.4 632.1L1543.0 633.8L1543.4 632.8L1542.9 632.9ZM1560.3 632.0L1560.7 632.0L1560.2 631.2L1564.5 631.9L1560.5 633.7L1560.8 632.8L1560.4 632.9ZM1577.7 632.1L1578.1 632.0L1577.6 631.3L1581.6 631.9L1577.9 633.6L1578.2 632.8L1577.8 632.8ZM1595.1 632.1L1595.5 632.0L1595.0 631.4L1598.7 632.0L1595.3 633.5L1595.6 632.7L1595.2 632.8ZM1612.6 632.1L1612.9 632.1L1612.5 631.5L1615.8 632.1L1612.7 633.4L1613.0 632.7L1612.6 632.8ZM1630.0 632.1L1630.3 632.1L1630.0 631.5L1633.1 632.2L1630.1 633.3L1630.4 632.7L1630.1 632.7ZM1647.5 632.1L1647.8 632.1L1647.5 631.5L1650.5 632.4L1647.5 633.3L1647.8 632.7L1647.5 632.7ZM1664.9 632.1L1665.2 632.1L1664.9 631.5L1668.0 632.5L1664.9 633.4L1665.2 632.8L1664.9 632.7ZM1682.4 632.1L1682.7 632.1L1682.4 631.4L1685.6 632.7L1682.2 633.4L1682.6 632.8L1682.3 632.8ZM1699.8 632.1L1700.2 632.1L1699.9 631.4L1703.3 632.9L1699.6 633.5L1700.1 632.8L1699.7 632.8ZM1717.2 632.0L1717.6 632.1L1717.3 631.3L1721.1 633.0L1717.0 633.6L1717.5 632.9L1717.1 632.8ZM1734.7 632.0L1735.1 632.1L1734.8 631.2L1738.9 633.0L1734.4 633.7L1735.0 632.9L1734.6 632.9ZM1752.1 632.0L1752.6 632.0L1752.2 631.1L1756.6 632.9L1751.9 633.8L1752.5 632.9L1752.0 632.9ZM1769.5 632.0L1770.0 632.0L1769.6 631.0L1774.2 632.8L1769.4 633.8L1769.9 632.9L1769.4 632.9ZM1786.9 632.0L1787.4 632.0L1786.9 631.0L1791.7 632.5L1786.9 633.9L1787.4 632.9L1786.9 632.9ZM1804.3 632.0L1804.8 632.0L1804.3 631.0L1809.0 632.3L1804.4 633.8L1804.8 632.9L1804.4 632.9ZM1821.7 632.0L1822.2 631.9L1821.7 631.1L1826.2 632.1L1821.9 633.8L1822.3 632.8L1821.8 632.9ZM1839.1 632.0L1839.6 632.0L1839.0 631.2L1843.4 631.9L1839.3 633.7L1839.7 632.8L1839.2 632.9ZM1856.6 632.1L1857.0 632.0L1856.5 631.3L1860.5 631.9L1856.8 633.6L1857.1 632.8L1856.7 632.8ZM1874.0 632.1L1874.4 632.0L1873.9 631.4L1877.6 632.0L1874.2 633.5L1874.5 632.7L1874.1 632.8ZM1891.5 632.1L1891.8 632.1L1891.4 631.5L1894.7 632.1L1891.6 633.4L1891.8 632.7L1891.5 632.8ZM1908.9 632.1L1909.2 632.1L1908.9 631.5L1912.0 632.2L1909.0 633.3L1909.2 632.7L1908.9 632.7ZM1926.3 632.1L1926.6 632.1L1926.3 631.5L1929.3 632.4L1926.4 633.3L1926.7 632.7L1926.4 632.7ZM1943.8 632.1L1944.1 632.1L1943.8 631.5L1946.9 632.5L1943.7 633.4L1944.1 632.8L1943.8 632.7ZM1961.2 632.1L1961.6 632.1L1961.3 631.4L1964.5 632.7L1961.1 633.4L1961.5 632.8L1961.2 632.8ZM1978.7 632.1L1979.0 632.1L1978.8 631.4L1982.2 632.9L1978.5 633.5L1979.0 632.8L1978.6 632.8ZM1996.1 632.0L1996.5 632.1L1996.2 631.3L2000.0 633.0L1995.9 633.6L1996.4 632.9L1996.0 632.8ZM2013.6 632.0L2014.0 632.1L2013.7 631.2L2017.7 633.0L2013.3 633.7L2013.9 632.9L2013.4 632.9ZM2031.0 632.0L2031.4 632.0L2031.1 631.1L2035.4 632.9L2030.8 633.8L2031.3 632.9L2030.9 632.9Z"/>
</svg>
<path d="M1614.5 669.8v13.2M1769.5 669.8v13.2M1924.4 669.8v13.2M1490.6 206.7h-13.2M1490.6 374.6h-13.2M1490.6 542.6h-13.2" stroke="#000" stroke-width="3.33" fill="none"/>
<rect x="1490.6" y="79.5" width="553.4" height="590.3" fill="none" stroke="#000" stroke-width="3.33"/>
<text x="1614.5" y="736.5" font-size="52.0" text-anchor="middle">−100</text>
<text x="1769.5" y="736.5" font-size="52.0" text-anchor="middle">0</text>
<text x="1924.4" y="736.5" font-size="52.0" text-anchor="middle">100</text>
<text y="56.3" font-size="52.0"><tspan x="1583.1" font-style="oblique">τ</tspan><tspan x="1614.9" dy="7.8" font-size="36.40">rad</tspan><tspan x="1686.8" dy="-7.8">=</tspan><tspan x="1741.7">10 days</tspan></text>
</g>
<g id="colorbar">
<rect x="249.10" y="758.8" width="14.85" height="32.2" fill="#09000b"/><rect x="263.35" y="758.8" width="14.85" height="32.2" fill="#1c0020"/><rect x="277.59" y="758.8" width="14.85" height="32.2" fill="#2f0035"/><rect x="291.84" y="758.8" width="14.85" height="32.2" fill="#41004b"/><rect x="306.09" y="758.8" width="14.85" height="32.2" fill="#540060"/><rect x="320.33" y="758.8" width="14.85" height="32.2" fill="#670075"/><rect x="334.58" y="758.8" width="14.85" height="32.2" fill="#770088"/><rect x="348.83" y="758.8" width="14.85" height="32.2" fill="#7b008c"/><rect x="363.07" y="758.8" width="14.85" height="32.2" fill="#7e008f"/><rect x="377.32" y="758.8" width="14.85" height="32.2" fill="#810092"/><rect x="391.57" y="758.8" width="14.85" height="32.2" fill="#830094"/><rect x="405.81" y="758.8" width="14.85" height="32.2" fill="#860097"/><rect x="420.06" y="758.8" width="14.85" height="32.2" fill="#83009a"/><rect x="434.31" y="758.8" width="14.85" height="32.2" fill="#6d009c"/><rect x="448.55" y="758.8" width="14.85" height="32.2" fill="#58009f"/><rect x="462.80" y="758.8" width="14.85" height="32.2" fill="#3800a3"/><rect x="477.05" y="758.8" width="14.85" height="32.2" fill="#2300a6"/><rect x="491.29" y="758.8" width="14.85" height="32.2" fill="#0d00a8"/><rect x="505.54" y="758.8" width="14.85" height="32.2" fill="#0000ad"/><rect x="519.79" y="758.8" width="14.85" height="32.2" fill="#0000b5"/><rect x="534.03" y="758.8" width="14.85" height="32.2" fill="#0000bd"/><rect x="548.28" y="758.8" width="14.85" height="32.2" fill="#0000c5"/><rect x="562.53" y="758.8" width="14.85" height="32.2" fill="#0000d1"/><rect x="576.77" y="758.8" width="14.85" height="32.2" fill="#0000d9"/><rect x="591.02" y="758.8" width="14.85" height="32.2" fill="#0009dd"/><rect x="605.27" y="758.8" width="14.85" height="32.2" fill="#001cdd"/><rect x="619.51" y="758.8" width="14.85" height="32.2" fill="#002fdd"/><rect x="633.76" y="758.8" width="14.85" height="32.2" fill="#0041dd"/><rect x="648.01" y="758.8" width="14.85" height="32.2" fill="#0054dd"/><rect x="662.25" y="758.8" width="14.85" height="32.2" fill="#0067dd"/><rect x="676.50" y="758.8" width="14.85" height="32.2" fill="#007add"/><rect x="690.75" y="758.8" width="14.85" height="32.2" fill="#0080dd"/><rect x="704.99" y="758.8" width="14.85" height="32.2" fill="#0085dd"/><rect x="719.24" y="758.8" width="14.85" height="32.2" fill="#008add"/><rect x="733.49" y="758.8" width="14.85" height="32.2" fill="#0090dd"/><rect x="747.73" y="758.8" width="14.85" height="32.2" fill="#0095dd"/><rect x="761.98" y="758.8" width="14.85" height="32.2" fill="#009adb"/><rect x="776.23" y="758.8" width="14.85" height="32.2" fill="#009ecf"/><rect x="790.47" y="758.8" width="14.85" height="32.2" fill="#00a0c7"/><rect x="804.72" y="758.8" width="14.85" height="32.2" fill="#00a3bf"/><rect x="818.97" y="758.8" width="14.85" height="32.2" fill="#00a6b7"/><rect x="833.21" y="758.8" width="14.85" height="32.2" fill="#00a8af"/><rect x="847.46" y="758.8" width="14.85" height="32.2" fill="#00aaa8"/><rect x="861.71" y="758.8" width="14.85" height="32.2" fill="#00aaa3"/><rect x="875.95" y="758.8" width="14.85" height="32.2" fill="#00aa9d"/><rect x="890.20" y="758.8" width="14.85" height="32.2" fill="#00aa95"/><rect x="904.45" y="758.8" width="14.85" height="32.2" fill="#00aa90"/><rect x="918.69" y="758.8" width="14.85" height="32.2" fill="#00aa8b"/><rect x="932.94" y="758.8" width="14.85" height="32.2" fill="#00a97d"/><rect x="947.19" y="758.8" width="14.85" height="32.2" fill="#00a668"/><rect x="961.43" y="758.8" width="14.85" height="32.2" fill="#00a353"/><rect x="975.68" y="758.8" width="14.85" height="32.2" fill="#00a13d"/><rect x="989.93" y="758.8" width="14.85" height="32.2" fill="#009d1d"/><rect x="1004.17" y="758.8" width="14.85" height="32.2" fill="#009a08"/><rect x="1018.42" y="758.8" width="14.85" height="32.2" fill="#009c00"/><rect x="1032.67" y="758.8" width="14.85" height="32.2" fill="#00a200"/><rect x="1046.91" y="758.8" width="14.85" height="32.2" fill="#00a700"/><rect x="1061.16" y="758.8" width="14.85" height="32.2" fill="#00ac00"/><rect x="1075.41" y="758.8" width="14.85" height="32.2" fill="#00b200"/><rect x="1089.65" y="758.8" width="14.85" height="32.2" fill="#00b700"/><rect x="1103.90" y="758.8" width="14.85" height="32.2" fill="#00bf00"/><rect x="1118.15" y="758.8" width="14.85" height="32.2" fill="#00c400"/><rect x="1132.39" y="758.8" width="14.85" height="32.2" fill="#00ca00"/><rect x="1146.64" y="758.8" width="14.85" height="32.2" fill="#00cf00"/><rect x="1160.89" y="758.8" width="14.85" height="32.2" fill="#00d400"/><rect x="1175.13" y="758.8" width="14.85" height="32.2" fill="#00da00"/><rect x="1189.38" y="758.8" width="14.85" height="32.2" fill="#00df00"/><rect x="1203.63" y="758.8" width="14.85" height="32.2" fill="#00e700"/><rect x="1217.87" y="758.8" width="14.85" height="32.2" fill="#00ec00"/><rect x="1232.12" y="758.8" width="14.85" height="32.2" fill="#00f200"/><rect x="1246.37" y="758.8" width="14.85" height="32.2" fill="#00f700"/><rect x="1260.61" y="758.8" width="14.85" height="32.2" fill="#00fc00"/><rect x="1274.86" y="758.8" width="14.85" height="32.2" fill="#0fff00"/><rect x="1289.11" y="758.8" width="14.85" height="32.2" fill="#2cff00"/><rect x="1303.35" y="758.8" width="14.85" height="32.2" fill="#49ff00"/><rect x="1317.60" y="758.8" width="14.85" height="32.2" fill="#75ff00"/><rect x="1331.85" y="758.8" width="14.85" height="32.2" fill="#93ff00"/><rect x="1346.09" y="758.8" width="14.85" height="32.2" fill="#b0ff00"/><rect x="1360.34" y="758.8" width="14.85" height="32.2" fill="#c0fd00"/><rect x="1374.59" y="758.8" width="14.85" height="32.2" fill="#c8fb00"/><rect x="1388.83" y="758.8" width="14.85" height="32.2" fill="#d0f800"/><rect x="1403.08" y="758.8" width="14.85" height="32.2" fill="#d8f500"/><rect x="1417.33" y="758.8" width="14.85" height="32.2" fill="#e4f100"/><rect x="1431.57" y="758.8" width="14.85" height="32.2" fill="#ecef00"/><rect x="1445.82" y="758.8" width="14.85" height="32.2" fill="#f0ea00"/><rect x="1460.07" y="758.8" width="14.85" height="32.2" fill="#f3e500"/><rect x="1474.31" y="758.8" width="14.85" height="32.2" fill="#f5df00"/><rect x="1488.56" y="758.8" width="14.85" height="32.2" fill="#f8da00"/><rect x="1502.81" y="758.8" width="14.85" height="32.2" fill="#fbd500"/><rect x="1517.05" y="758.8" width="14.85" height="32.2" fill="#fdcf00"/><rect x="1531.30" y="758.8" width="14.85" height="32.2" fill="#ffc500"/><rect x="1545.55" y="758.8" width="14.85" height="32.2" fill="#ffbd00"/><rect x="1559.79" y="758.8" width="14.85" height="32.2" fill="#ffb500"/><rect x="1574.04" y="758.8" width="14.85" height="32.2" fill="#ffad00"/><rect x="1588.29" y="758.8" width="14.85" height="32.2" fill="#ffa500"/><rect x="1602.53" y="758.8" width="14.85" height="32.2" fill="#ff9d00"/><rect x="1616.78" y="758.8" width="14.85" height="32.2" fill="#ff8d00"/><rect x="1631.03" y="758.8" width="14.85" height="32.2" fill="#ff6900"/><rect x="1645.27" y="758.8" width="14.85" height="32.2" fill="#ff5100"/><rect x="1659.52" y="758.8" width="14.85" height="32.2" fill="#ff3900"/><rect x="1673.77" y="758.8" width="14.85" height="32.2" fill="#ff2100"/><rect x="1688.01" y="758.8" width="14.85" height="32.2" fill="#ff0900"/><rect x="1702.26" y="758.8" width="14.85" height="32.2" fill="#fc0000"/><rect x="1716.51" y="758.8" width="14.85" height="32.2" fill="#f60000"/><rect x="1730.75" y="758.8" width="14.85" height="32.2" fill="#f10000"/><rect x="1745.00" y="758.8" width="14.85" height="32.2" fill="#e90000"/><rect x="1759.25" y="758.8" width="14.85" height="32.2" fill="#e40000"/><rect x="1773.49" y="758.8" width="14.85" height="32.2" fill="#de0000"/><rect x="1787.74" y="758.8" width="14.85" height="32.2" fill="#db0000"/><rect x="1801.99" y="758.8" width="14.85" height="32.2" fill="#d80000"/><rect x="1816.23" y="758.8" width="14.85" height="32.2" fill="#d60000"/><rect x="1830.48" y="758.8" width="14.85" height="32.2" fill="#d30000"/><rect x="1844.73" y="758.8" width="14.85" height="32.2" fill="#cf0000"/><rect x="1858.97" y="758.8" width="14.85" height="32.2" fill="#cc0000"/><rect x="1873.22" y="758.8" width="14.85" height="32.2" fill="#cc1c1c"/><rect x="1887.47" y="758.8" width="14.85" height="32.2" fill="#cc3c3c"/><rect x="1901.71" y="758.8" width="14.85" height="32.2" fill="#cc5c5c"/><rect x="1915.96" y="758.8" width="14.85" height="32.2" fill="#cc7c7c"/><rect x="1930.21" y="758.8" width="14.85" height="32.2" fill="#cc9c9c"/><rect x="1944.45" y="758.8" width="14.85" height="32.2" fill="#ccbcbc"/>
<path d="M249.1 758.8L156.5 774.9L249.1 791.0Z" fill="#000"/>
<path d="M1958.7 758.8L2050.5 774.9L1958.7 791.0Z" fill="#ccc"/>
<path d="M249.1 758.8L156.5 774.9L249.1 791.0L1958.7 791.0L2050.5 774.9L1958.7 758.8Z" fill="none" stroke="#000" stroke-width="3.33" stroke-linejoin="miter"/>
<text x="420.1" y="857" font-size="52.0" text-anchor="middle">0.15</text>
<text x="591.0" y="857" font-size="52.0" text-anchor="middle">0.30</text>
<text x="762.0" y="857" font-size="52.0" text-anchor="middle">0.45</text>
<text x="932.9" y="857" font-size="52.0" text-anchor="middle">0.60</text>
<text x="1103.9" y="857" font-size="52.0" text-anchor="middle">0.75</text>
<text x="1274.9" y="857" font-size="52.0" text-anchor="middle">0.90</text>
<text x="1445.8" y="857" font-size="52.0" text-anchor="middle">1.05</text>
<text x="1616.8" y="857" font-size="52.0" text-anchor="middle">1.20</text>
<text x="1787.7" y="857" font-size="52.0" text-anchor="middle">1.35</text>
<path d="M420.1 791.0v13.2M591.0 791.0v13.2M762.0 791.0v13.2M932.9 791.0v13.2M1103.9 791.0v13.2M1274.9 791.0v13.2M1445.8 791.0v13.2M1616.8 791.0v13.2M1787.7 791.0v13.2" stroke="#000" stroke-width="3.33" fill="none"/>
<text x="1959" y="918.5" font-size="52.0" text-anchor="end">1e6</text>
<text y="929.3" font-size="52.0"><tspan x="844.5">Geopotential, </tspan><tspan x="1214.4">m</tspan><tspan x="1266.5" dy="-19" font-size="36.40">2</tspan><tspan x="1291.2" dy="19">/s</tspan><tspan x="1337.6" dy="-19" font-size="36.40">2</tspan></text>
</g>
</svg>
</body></html>
